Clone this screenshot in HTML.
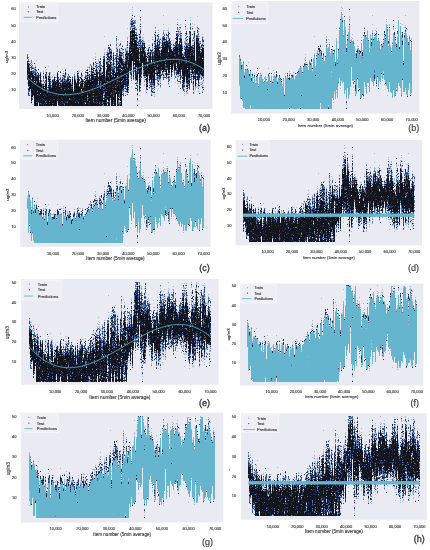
<!DOCTYPE html><html><head><meta charset="utf-8"><style>html,body{margin:0;padding:0;background:#fff;width:430px;height:550px;overflow:hidden;position:relative}</style></head><body><svg width="430" height="550" viewBox="0 0 430 550" style="position:absolute;left:0;top:0"><style>text{font-family:'Liberation Sans',Arial,sans-serif;fill:#404040;stroke:#404040;stroke-width:0.14px}.t{font-size:4px;text-anchor:middle}</style><rect x="19.0" y="2.5" width="193.40" height="106.50" fill="#EAEAF2"/><clipPath id="ca"><rect x="19.0" y="2.5" width="193.40" height="106.50"/></clipPath><g clip-path="url(#ca)" fill="none" stroke-width="1"><path stroke="#A9B7DA" d="M27.5 82v2m1-22v1m1 0v1m0 29v2m1-26v1m0 19v2m1-26v1m0 4v1m0 7v1m0 24v1m1-41v1m0 2v1m0 3v1m0 26v1m0 6v1m1-38v1m0 6v1m0 22v1m1-31v2m0 1v1m0 2v1m0 7v1m1-17v2m0 1v1m1-9v1m0 10v2m1 1v1m1 30v1m1-30v1m0 4v1m1 11v1m1-18v1m0 5v1m1-2v1m1-11v2m0 1v2m0 3v1m0 1v1m0 1v1m1-6v1m0 2v1m0 2v2m1-16v1m0 1v1m0 9v1m1-14v1m2-4v1m0 6v1m0 1v1m0 8v1m2-13v2m0 2v3m0 1v1m1-4v1m0 3v2m0 3v1m1-11v2m0 1v1m1-5v1m1-2v1m0 1v1m1 2v1m1-5v1m0 1v1m1-12v1m0 34v2m1-29v1m1 9v1m1-10v2m0 3v1m0 1v1m1-4v1m0 2v1m1-14v1m0 3v1m1-3v1m0 5v1m0 2v1m1-7v1m1-4v1m1 1v2m0 4v1m2-4v1m1 3v1m2 1v2m1-8v1m1 12v1m1-18v1m0 2v1m1 0v3m1 3v1m1-11v1m1-3v3m1-2v1m2 0v1m0 4v1m0 11v1m1-19v1m0 4v1m1 2v1m0 2v1m0 1v2m2-15v1m0 2v1m0 4v1m1-3v1m1-11v1m0 28v1m1-30v1m0 4v3m0 1v1m1-12v1m0 2v2m1-5v1m0 5v1m0 1v1m0 2v1m1-12v1m1 1v2m1-11v1m0 7v1m0 6v1m1-10v1m0 5v1m0 1v1m1-20v1m0 2v2m0 3v1m0 2v2m0 1v1m0 1v1m0 2v2m1-13v1m0 2v1m1 0v2m1-8v3m0 1v1m0 1v1m0 3v1m0 6v1m0 4v2m0 1v1m1-22v1m1-8v1m1 12v4m1 1v1m1-17v1m0 35v1m0 2v1m1-62v1m0 12v1m0 2v2m0 39v1m1-26v1m0 3v1m0 1v1m1-23v1m0 2v1m0 3v3m0 3v1m0 1v2m1-20v3m0 5v1m0 2v1m1-15v1m0 3v1m0 1v1m0 7v1m0 1v1m1-9v1m1-7v1m0 1v1m0 47v1m0 3v1m1-54v1m0 13v1m1-8v1m0 1v1m0 4v1m0 1v2m1 37v1m1-50v1m0 5v1m0 2v1m0 8v1m0 2v1m1-18v1m0 4v1m0 3v1m0 1v1m1-30v3m0 2v2m0 1v2m1-8v1m0 3v2m0 3v1m0 6v2m0 5v1m0 4v1m0 4v1m1-38v1m0 6v1m0 10v1m0 2v1m0 3v1m0 32v1m1-54v1m0 3v1m0 51v1m1-60v1m0 3v1m0 2v1m0 1v2m0 49v1m1-52v1m0 30v1m1-37v1m0 2v1m0 1v1m0 1v1m0 1v1m0 3v1m0 7v1m0 24v1m1-37v1m0 2v1m0 1v1m0 35v1m0 2v1m1-41v1m0 1v1m0 23v1m0 4v1m1-43v1m0 2v3m0 35v1m0 3v1m1-49v1m0 1v4m0 39v1m0 1v1m1-65v1m0 8v3m0 3v1m0 4v3m0 14v1m1-15v1m0 36v1m0 1v2m1-56v1m0 4v2m0 1v1m1-25v3m0 3v1m0 44v1m0 4v2m1-61v2m0 1v1m0 6v2m0 23v1m0 17v1m0 8v1m0 2v1m0 3v1m1-80v1m0 1v1m0 1v1m0 2v1m0 12v1m1-4v1m0 2v1m0 1v1m1-10v1m0 45v1m0 7v1m1-54v1m0 1v1m0 4v1m0 7v1m0 2v1m0 47v1m0 2v1m1-63v1m0 1v1m0 36v2m0 1v1m0 9v1m0 3v1m1-48v1m0 3v1m0 49v1m0 3v1m0 4v2m0 2v1m1-71v1m0 5v1m1-12v1m0 5v1m0 2v1m0 3v1m0 1v1m0 1v1m0 1v1m0 2v1m0 2v1m0 1v2m0 2v1m0 34v1m1-85v1m0 8v2m0 1v1m0 5v1m0 4v2m0 2v1m0 46v1m0 2v1m0 2v1m1-53v1m0 2v3m0 5v1m0 24v1m0 3v1m1-43v2m0 2v1m0 22v1m1-31v1m0 2v1m0 1v2m0 1v1m0 33v1m0 1v1m1-38v2m0 36v2m0 3v2m1-43v1m0 32v1m1-29v1m0 5v2m0 1v1m0 32v1m1-36v1m0 3v1m0 1v1m0 2v2m0 21v2m1-49v1m0 4v1m0 1v1m0 6v1m0 24v1m1-35v1m0 2v1m0 34v1m0 4v1m1-38v1m0 29v1m0 3v1m1-32v1m0 37v2m1-57v1m0 8v1m0 1v1m0 2v1m0 33v1m0 3v1m0 5v1m1-47v1m0 1v1m0 2v1m0 31v2m0 2v2m1-56v1m0 3v1m0 1v1m0 1v2m0 1v1m0 40v1m0 2v1m0 2v1m0 1v1m1-69v1m0 1v2m0 1v2m0 37v1m0 3v2m1-38v1m0 2v1m0 33v2m0 7v1m1-49v1m0 42v2m0 2v1m0 4v1m1-61v1m0 1v1m0 2v1m0 6v1m0 42v1m0 2v1m1-50v1m0 40v1m0 3v1m1-47v1m0 4v1m0 2v1m0 1v1m0 1v1m0 1v1m0 26v4m0 4v1m1-48v1m0 2v1m1-10v1m0 1v1m0 33v1m0 6v1m1-63v1m0 8v1m0 5v2m0 2v1m0 6v1m0 30v2m0 2v1m1-47v1m0 5v1m0 36v1m0 1v2m1-37v1m1-8v1m1-4v1m0 5v2m0 37v1m1-48v1m0 1v2m0 7v1m0 10v1m0 24v1m0 6v1m0 1v1m1-7v1m1-45v1m0 3v1m1 1v1m0 37v1m0 2v1m1-37v1m0 2v3m0 23v1m1-35v1m0 2v1m0 2v1m0 19v2m0 2v1m1-28v1m0 2v1m0 28v2m0 1v1m1-38v1m0 30v2m0 8v1m1-47v1m0 3v1m0 26v1m0 7v1m0 1v1m1-59v1m0 2v1m0 51v2m0 2v1m0 2v1m0 1v1m1-59v1m0 3v2m0 1v1m0 1v1m0 1v1m0 1v1m0 38v1m0 5v1m0 2v1m0 6v1m1-63v3m0 2v1m0 3v1m0 38v1m0 6v1m1-63v2m0 2v1m0 3v1m0 1v1m1 1v2m0 33v1m0 3v1m0 1v1m1-34v2m0 3v1m0 26v1m0 6v1m0 5v1m1-38v1m1-12v3m0 1v1m0 1v1m0 36v1m0 2v1m0 1v2m0 2v1m0 1v1m1-72v1m0 2v3m0 9v3m0 4v1m0 31v1m1-43v1m0 2v1m0 1v1m0 42v1m0 4v2m0 1v2m1-66v1m0 12v3m0 45v1m0 2v2m1-48v1m1-13v2m0 53v1m1-73v1m0 2v1m0 4v2m0 44v1m0 1v1m0 1v2m2-54v1m0 2v1m0 2v1m0 9v1m0 1v1m0 1v1m0 30v1m0 3v1m0 4v2m1-54v1m0 2v1m0 1v1m0 6v1m0 2v1m0 23v1m0 9v1m0 9v1m1-67v1m0 13v1m0 36v1m0 15v1m1-32v1m0 26v3m1-63v1m0 46v1m0 5v1m0 4v1m0 1v1m1-72v1m0 8v1m0 2v2m0 4v1m0 40v1m0 8v1m0 1v1m1-58v1m0 5v1m0 1v1m0 48v2m0 2v2m1-63v1m0 6v1m0 1v1m0 3v1m0 39v2m0 2v1m1-45v1m0 3v1m0 1v1m0 26v3m0 4v1m0 1v1m0 8v1m1-50v1m0 3v1m0 27v1m0 5v1m0 3v1m1-53v1m0 1v1m0 5v2m0 2v1m0 11v1m0 19v1m0 2v2m0 2v2m0 1v1m0 1v2m1-55v1m0 1v1m0 2v3m0 2v1m0 30v2m0 1v1m0 3v1"/><path stroke="#4C72B0" d="M27.5 54v3m0 18v1m1-19v1m0 1v2m0 13v1m0 11v1m0 3v3m0 2v1m1-35v1m0 3v3m0 18v1m0 4v1m1-29v1m0 1v1m1-6v3m0 1v1m0 1v1m0 1v2m0 7v1m0 23v1m1-37v1m0 1v1m0 4v1m0 25v1m1-29v2m0 23v1m1-27v1m0 1v2m0 6v1m1-10v2m1 1v3m0 5v2m0 19v1m1-12v1m0 2v1m1 7v1m1-26v1m0 2v1m1-9v1m0 30v1m1-24v2m0 1v1m1 1v1m0 2v2m1-12v1m0 6v1m1 4v1m1-13v1m0 2v1m0 19v1m1-28v3m0 26v1m1-17v1m0 1v2m0 1v1m1-16v1m0 2v1m0 2v1m0 2v1m0 1v2m1-18v1m0 2v1m0 2v1m0 22v1m1-20v1m0 1v1m1 0v1m0 1v1m1-6v1m0 22v1m1-27v1m2-3v1m1 3v1m0 3v1m1-14v1m1 5v2m0 25v1m1-20v1m1-16v1m0 5v1m0 1v1m1 3v2m0 3v1m1-14v1m0 1v2m1-6v1m0 2v1m0 1v2m0 1v1m0 13v1m1-21v1m0 2v1m0 1v1m0 8v1m0 14v1m1-36v1m0 5v1m0 1v1m0 1v2m0 12v1m1-12v1m1-7v2m0 24v1m1-28v1m0 1v1m0 3v1m0 6v1m1-12v1m0 20v2m1-18v1m1 1v1m0 1v1m1-9v1m0 7v1m1 4v1m1-18v1m1 4v1m0 22v1m2-25v1m1-4v1m0 26v1m1-26v1m0 4v1m0 3v1m1-9v1m0 2v1m0 1v1m1-9v2m0 3v1m0 1v1m0 7v2m1-17v1m0 15v1m1-12v1m0 5v2m1-11v1m0 3v1m0 1v1m1-9v1m0 4v1m0 21v1m1-28v2m0 2v1m0 1v1m1-13v1m0 4v1m0 1v1m0 18v1m0 2v3m1-24v1m0 1v1m0 5v1m1-19v1m0 7v1m0 25v1m1-38v1m0 13v2m0 1v1m1-15v1m0 2v1m1 0v1m0 1v1m0 6v1m1-19v1m0 2v1m0 1v1m0 1v1m0 1v1m0 21v1m0 2v1m0 2v1m0 1v1m1-25v1m1-19v1m0 11v1m1-6v3m0 30v1m1-37v1m0 6v2m0 30v1m1-35v1m0 4v1m0 5v1m0 3v1m1-23v1m0 2v4m0 1v1m0 33v1m1-42v1m0 1v3m0 4v2m0 2v1m0 5v1m0 1v2m0 1v3m1-16v2m1 27v2m0 1v1m1-50v2m0 15v1m0 12v1m0 2v1m0 3v1m0 1v1m0 8v2m1-52v1m0 2v1m0 25v1m0 8v1m0 1v1m0 1v1m1-21v2m0 20v1m1-45v1m0 9v1m0 4v1m0 21v1m0 10v1m1-51v1m0 8v1m0 19v1m0 14v1m0 2v1m0 3v1m0 1v1m1-61v1m0 9v1m0 2v1m0 4v1m0 8v1m0 2v2m0 24v1m1-46v1m0 1v1m0 2v2m0 9v1m0 29v1m1-59v1m0 6v1m0 2v1m0 2v1m0 1v1m0 1v1m0 37v1m1-50v2m0 2v2m0 2v1m0 6v2m0 1v1m0 1v1m0 2v1m0 19v1m1-34v1m0 3v1m0 3v1m0 3v1m0 2v2m1-25v1m0 1v1m0 1v1m0 8v4m0 26v2m0 3v1m0 1v1m1-40v1m0 3v1m0 1v2m1-14v1m0 3v1m0 4v2m0 4v1m0 12v1m0 1v1m0 2v2m1-56v1m0 1v3m0 3v2m0 2v1m0 2v1m0 2v3m1-4v3m0 6v2m0 16v1m0 4v1m1-30v1m0 4v1m0 29v1m0 8v4m1-59v1m0 4v1m0 2v1m0 2v1m0 5v1m0 5v1m0 12v1m0 12v3m0 5v4m1-63v1m0 9v2m0 8v2m0 3v1m0 3v1m0 30v1m1-50v1m0 1v2m0 7v2m0 4v1m1-23v1m0 5v1m0 14v1m0 9v1m0 8v1m0 2v1m1-39v1m0 1v2m0 1v1m0 2v1m0 6v1m0 9v1m0 8v1m0 1v2m0 1v2m1-33v2m0 1v1m0 20v1m0 1v1m1-40v2m0 5v2m0 1v2m0 7v1m0 18v1m1-33v1m0 19v2m0 1v1m0 1v1m0 5v1m0 1v1m1-47v1m0 9v1m0 13v2m0 24v1m1-37v2m0 1v1m0 18v1m1-34v2m1-24v2m0 2v3m0 19v2m0 2v1m0 20v1m1-53v1m0 2v1m0 4v1m0 2v2m0 2v1m0 2v1m0 31v1m0 3v2m0 2v1m1-63v1m0 1v1m0 1v1m0 2v2m1-7v1m0 4v2m0 6v1m0 3v1m0 28v1m0 7v1m0 2v1m0 1v1m1-58v2m0 2v2m0 33v1m0 9v1m1-52v1m0 1v1m0 4v1m0 1v1m0 2v1m0 4v1m0 41v2m1-52v1m0 2v3m0 1v1m0 2v1m0 2v1m0 26v1m0 2v1m0 9v2m1-45v1m0 4v1m0 4v1m0 9v1m0 22v2m0 3v2m0 9v1m1-58v2m0 1v4m0 23v1m1-36v1m0 2v1m0 3v1m0 5v1m0 5v1m0 6v1m0 22v1m0 5v1m1-75v1m0 1v1m0 8v1m0 4v1m0 2v1m0 4v1m0 2v1m0 1v1m0 20v1m0 9v1m0 5v1m0 6v1m1-45v1m0 1v2m0 24v1m0 1v1m2-36v1m0 2v2m0 8v2m0 14v3m0 1v1m1-26v2m0 25v2m0 3v1m1-32v1m1 32v1m0 3v1m0 1v1m0 2v1m1-41v1m0 3v1m0 25v1m0 1v1m1-37v1m0 2v1m0 4v1m0 1v1m0 1v2m0 12v2m1-24v4m0 18v1m0 6v1m1-33v1m0 32v2m1-32v2m0 2v1m0 1v1m0 3v1m0 20v1m0 1v1m0 1v3m0 4v1m1-56v1m0 3v1m0 3v1m0 1v1m0 28v1m0 1v2m0 1v1m0 2v1m0 5v1m1-40v1m0 1v1m0 4v1m0 1v1m0 10v1m0 9v1m0 1v1m0 2v1m1-43v1m0 3v1m0 1v1m0 10v1m0 22v1m0 2v1m1-63v1m0 8v1m0 5v2m0 24v1m0 1v1m1-24v1m0 22v1m0 1v1m0 1v2m0 3v1m1-44v1m0 2v1m0 1v1m0 23v2m0 3v2m0 4v1m0 2v2m0 2v1m1-47v3m0 4v1m0 1v1m0 29v1m0 1v1m0 1v1m0 2v1m1-44v1m0 4v2m0 30v1m0 1v1m1-38v1m0 4v1m0 3v1m0 3v1m0 17v2m0 3v1m0 4v1m0 1v2m1-42v1m0 3v1m0 17v1m0 2v1m0 3v1m1-38v1m0 1v1m0 33v1m1-42v2m0 3v1m0 2v1m0 33v1m0 3v1m1-45v2m0 4v2m0 4v1m0 13v1m0 9v2m0 5v1m1-37v1m0 1v1m0 18v1m0 1v2m0 2v1m0 1v1m1-36v1m0 1v3m0 18v1m0 9v1m0 8v2m1-11v1m0 4v1m0 3v1m1-45v1m0 1v1m0 1v2m0 2v1m0 7v1m0 23v1m0 2v1m0 1v3m0 2v1m1-46v1m0 2v1m0 2v1m0 28v1m0 2v2m0 1v2m1-37v1m1 2v1m2-3v1m0 1v1m0 11v1m0 4v2m1-18v1m0 6v1m0 15v1m0 1v2m1-31v2m0 24v1m0 5v2m1-45v1m0 9v1m0 19v1m0 2v1m0 2v1m0 1v1m1-44v2m0 1v1m0 1v1m0 1v1m0 10v1m0 21v2m0 6v1m0 2v1m1-47v1m0 16v1m0 1v2m0 22v1m1-50v1m0 1v1m0 4v1m0 4v1m0 2v1m0 20v1m0 8v2m1-43v1m0 4v2m0 6v1m0 31v1m0 5v2m1-49v1m0 2v1m0 30v1m1-24v2m0 5v1m0 1v2m0 24v1m0 6v1m1-35v2m0 29v1m0 1v2m1-41v1m0 5v1m0 27v2m0 7v1m1-59v1m0 1v1m0 6v3m0 3v1m0 9v1m0 17v1m1-45v1m0 11v1m0 15v1m0 1v1m0 20v1m0 4v1m1-45v2m0 2v1m0 35v1m0 2v1m0 2v1m1-47v1m0 33v2m0 2v1m0 1v2m0 1v1m1-56v2m0 3v1m0 6v1m0 1v1m0 31v1m0 4v1m1-61v1m0 5v1m0 1v1m0 4v1m0 16v1m0 1v1m0 10v1m0 2v1m0 2v1m0 1v1m0 2v1m1-28v1m0 19v2m0 3v1m0 1v4m1-41v1m0 5v1m1-10v1m0 2v1m0 6v1m0 1v1m0 3v2m0 16v1m0 2v1m0 9v2m0 1v1m0 5v1m1-62v1m0 4v1m0 1v3m0 27v1m0 3v2m1 11v1m1-52v1m0 1v1m0 38v2m0 5v1m1-57v1m0 3v1m0 3v1m0 1v1m1-7v1m0 1v1m0 2v1m0 4v2m0 7v1m0 21v1m0 10v2m0 3v1m1-48v1m0 1v1m0 1v1m0 32v2m1-39v1m0 5v1m0 1v1m0 1v2m0 21v1m1-28v1m0 2v2m0 23v1m0 1v1m0 1v1m0 4v1m1-48v2m0 2v1m0 34v1m0 6v1m1-38v1m0 29v1m0 3v1m0 6v1"/><path stroke="#2A3F6E" d="M27.5 57v2m0 3v1m0 13v1m0 2v1m1-19v1m0 1v2m0 23v1m0 5v1m1-5v1m0 4v1m1-29v1m0 3v1m1-5v1m0 7v1m0 3v3m1-14v1m0 2v1m0 27v1m1-32v1m0 3v2m1-11v1m0 13v2m1-12v1m1 2v1m0 5v1m1-5v1m0 2v1m1-7v1m0 4v2m0 24v1m1-26v1m0 6v1m1-10v1m1 10v1m1-1v1m0 1v2m1-15v1m0 2v2m0 2v1m0 14v1m1-14v1m1-16v1m0 6v2m0 4v1m0 2v1m1-11v1m0 26v2m2-21v1m1-9v1m0 2v1m0 26v1m1-25v1m2 23v1m1-24v2m2-1v1m1-2v1m0 3v1m2-14v1m0 5v1m1 1v1m0 2v1m1-11v1m0 5v1m0 2v1m1-2v2m1-1v1m2-6v2m0 4v1m0 20v1m0 1v1m1-34v1m0 1v1m0 1v1m0 4v1m1-2v1m1-3v1m0 22v1m1-28v1m0 3v1m0 3v1m1-4v1m0 1v1m1-5v1m0 1v1m1 7v2m1-12v1m1 14v1m1-17v3m1 1v1m1 2v1m0 1v1m1-15v1m0 2v1m0 1v1m1-4v1m0 2v2m0 23v1m0 1v1m1-25v2m0 2v1m1-2v1m1-10v1m1 5v1m1 1v1m0 1v1m0 6v1m2-19v1m0 3v2m1-8v1m0 1v1m1 20v2m0 2v1m1-23v1m1-5v1m1 3v1m1-10v1m0 5v2m1-5v1m0 14v1m1-21v1m0 9v1m0 20v1m0 4v1m0 1v1m1-30v1m0 2v1m0 1v1m1-17v1m0 3v1m0 3v1m1-8v1m0 1v1m0 5v1m0 24v1m0 6v1m1-37v1m0 6v2m1-10v1m0 5v1m0 4v1m0 2v1m0 4v1m1-15v2m0 12v1m0 16v1m1-45v2m0 1v1m0 1v1m0 5v1m0 3v1m0 11v1m1-21v1m0 2v1m0 6v1m1-10v1m0 5v1m1-13v1m0 3v1m0 26v1m0 10v1m1-47v1m0 1v1m0 3v1m0 25v2m0 1v1m0 5v1m0 1v1m1-22v1m0 1v1m1-24v1m0 12v1m1-18v1m0 1v2m0 6v1m0 38v1m1-56v2m0 5v1m1-8v7m0 5v2m0 3v1m0 13v1m0 7v1m0 14v1m1-57v1m0 3v1m0 3v1m0 6v1m0 3v1m0 29v1m0 2v1m1-45v1m0 8v1m0 1v1m0 2v1m0 1v1m0 2v1m1-6v1m0 1v2m0 3v1m0 14v1m1-37v1m0 5v1m0 1v2m0 20v1m0 3v1m0 5v1m0 9v1m0 1v1m1-47v1m0 8v1m0 6v1m1-21v1m0 2v1m1-6v1m0 8v1m0 24v1m1-39v3m0 6v1m0 2v1m0 6v1m0 8v1m0 3v2m1-25v2m1-11v1m0 1v1m0 45v1m0 1v1m1-56v1m0 11v1m0 18v1m0 21v1m1-50v1m0 3v2m0 13v1m0 7v2m0 1v1m0 4v2m1-39v1m0 6v1m0 5v3m0 3v1m0 3v1m0 20v1m0 3v1m1-46v1m0 2v1m0 42v1m1-30v1m1-12v1m0 5v1m0 23v2m0 4v1m0 3v1m1-45v2m0 17v1m0 11v4m0 3v1m0 1v1m1-51v1m0 2v2m0 1v1m0 3v1m0 1v1m0 7v4m0 15v1m0 13v1m1-37v1m0 25v2m0 3v1m0 2v1m1-50v1m0 3v1m0 20v3m1-25v1m0 20v1m0 5v1m1-55v1m0 1v1m0 1v2m0 1v1m0 8v1m0 3v1m0 27v1m0 3v1m0 1v1m0 1v1m0 2v1m1-64v1m0 5v1m0 1v1m0 4v2m0 24v2m1-34v1m0 5v1m0 1v1m0 9v2m0 1v1m0 3v1m0 30v1m1-63v1m0 4v1m0 7v2m0 28v1m0 4v1m0 2v2m0 1v1m1-33v1m0 37v1m0 6v1m0 4v1m1-49v1m0 30v1m0 1v2m0 10v1m0 2v1m1-54v1m0 2v1m0 8v1m0 32v2m0 3v2m0 3v1m0 2v1m0 5v1m1-28v2m1-34v2m0 5v1m0 4v2m0 4v1m0 2v1m0 27v2m1-81v1m0 13v1m0 5v1m0 6v1m0 1v2m0 1v1m0 4v1m0 30v2m0 2v1m0 1v1m0 2v1m1-43v1m0 1v1m0 22v2m0 1v1m0 3v1m1-38v1m0 1v1m0 1v1m1 23v1m0 4v1m0 1v1m1-32v1m0 29v1m1-28v1m0 4v2m0 23v1m0 1v1m1-19v1m0 23v1m0 2v1m1-39v1m0 11v1m0 3v1m0 22v1m1-38v1m0 4v1m1-11v1m0 34v1m0 2v1m0 1v1m1-9v1m0 4v1m0 1v1m1-37v2m0 5v1m0 1v1m0 3v2m0 30v1m1-52v1m0 5v1m0 1v2m0 28v1m0 1v1m0 3v1m1-37v1m0 3v3m0 6v1m0 26v1m1-59v1m0 6v1m0 1v1m0 14v1m0 1v1m0 24v1m0 6v1m1-14v1m1-35v2m0 24v1m1-3v1m0 7v2m1-45v1m0 1v1m0 4v1m0 33v1m0 1v1m0 6v1m1-44v3m0 4v1m0 25v1m0 3v1m1-40v1m0 13v2m0 16v1m0 4v1m1-30v1m0 21v1m1-30v1m0 31v1m0 1v1m1-33v3m0 32v1m0 1v1m1-43v2m1 0v1m0 26v2m0 5v2m0 2v1m1-44v1m0 5v1m0 24v1m0 1v1m0 8v1m1-42v1m0 6v1m0 26v1m0 4v1m1-43v1m0 3v1m0 3v1m0 1v1m0 1v1m0 2v2m0 3v1m0 28v1m1-49v1m0 11v1m0 26v1m0 1v1m0 11v1m1-46v3m0 2v1m0 19v1m0 1v1m1-25v1m0 4v1m0 25v2m1-6v1m1-28v1m1 0v1m0 8v1m0 15v1m1-33v1m0 3v2m1-10v1m0 3v1m0 23v1m0 5v1m0 1v1m0 1v3m1-51v1m0 2v1m0 6v1m0 7v1m0 28v1m0 8v1m1-50v1m0 3v1m0 8v5m0 5v1m0 19v1m0 6v1m1-44v1m0 23v1m0 12v1m0 5v1m1-55v1m0 5v1m0 1v1m0 2v1m0 3v1m0 31v1m0 3v2m0 1v1m0 6v1m1-56v1m0 7v1m0 34v1m1-27v1m0 31v1m0 2v1m0 1v1m1-28v1m0 23v1m0 4v2m1-45v1m0 2v1m0 2v2m0 1v1m0 2v1m0 2v1m0 23v1m1-66v1m0 5v1m0 11v1m0 35v2m1-45v1m0 2v1m0 5v1m0 2v1m0 8v2m0 26v1m0 4v1m0 5v1m1-56v1m0 2v1m0 26v1m0 2v1m0 10v1m0 2v1m1-41v1m0 1v1m0 1v2m0 23v2m1-43v1m0 4v1m0 23v1m0 9v1m0 8v2m0 4v4m1-65v1m0 2v2m0 4v1m0 34v1m0 10v1m1-34v1m0 1v1m0 19v1m0 7v1m0 4v2m1-55v1m0 5v1m0 10v1m0 2v2m0 26v1m1-39v1m0 11v2m0 36v2m0 2v1m1-62v1m0 3v2m0 28v1m0 6v1m0 4v2m1-18v2m1-27v1m0 19v1m0 22v1m1-48v1m0 3v1m0 2v1m0 38v1m1-51v1m0 5v1m0 3v1m0 32v1m0 6v1m1-4v1m0 9v1m0 7v1m1-51v1m1 2v1m0 31v1m1-40v2m0 3v2m0 1v1m0 9v1m0 34v1m1-53v2m0 35v1m0 11v1"/><path stroke="#14141C" d="M27.5 61v1m0 1v3m0 1v2m0 1v5m0 2v2m1-14v2m0 1v2m0 1v2m0 2v4m0 1v6m0 3v1m0 3v1m1-30v1m0 3v3m0 1v2m0 1v11m0 1v3m1-18v17m1-18v1m0 1v2m0 1v1m0 5v11m0 2v2m0 1v3m0 1v1m1-30v8m0 1v2m0 1v1m0 1v2m0 1v7m1-22v5m0 1v14m1-21v1m0 1v1m0 3v1m0 1v8m0 1v1m0 1v6m0 1v6m1-37v1m0 4v2m0 1v6m0 1v22m1-29v1m0 1v2m0 3v18m0 1v1m0 1v1m1-29v5m0 1v2m0 1v4m0 3v1m0 1v6m0 1v4m1-33v1m0 2v18m0 2v4m0 1v1m1-19v12m0 1v10m1-32v2m0 1v2m0 1v13m0 1v5m0 1v3m0 1v2m1-21v18m0 2v1m1-16v8m0 1v1m0 1v5m1-22v1m0 1v5m0 1v3m0 1v3m0 1v4m0 1v1m1-20v1m0 1v2m0 1v2m0 1v3m0 1v2m0 1v2m0 1v2m1-30v2m0 6v11m0 1v5m0 2v2m1-33v1m0 4v12m0 1v6m0 1v3m0 2v1m0 1v2m1-15v1m0 1v13m1-30v1m0 1v2m0 5v1m0 1v1m0 2v5m0 1v10m1-32v1m0 2v1m0 1v7m0 1v14m0 1v1m0 1v2m1-25v1m0 3v7m0 1v1m0 1v4m0 1v6m1-18v18m1-26v2m0 1v17m0 1v2m0 1v1m1-23v13m0 1v3m0 1v3m0 1v2m1-29v1m0 1v3m0 1v9m0 1v6m0 1v6m1-24v5m0 1v7m0 1v10m1-24v2m0 2v4m0 1v3m0 1v11m1-33v6m0 1v3m0 1v12m0 1v2m0 1v1m1-21v2m0 1v12m0 1v9m1-22v1m0 3v12m0 1v6m1-23v2m0 2v1m0 1v13m0 1v1m0 1v1m1-21v2m0 2v1m0 1v7m0 1v2m0 1v4m1-27v2m0 2v16m0 1v1m0 3v2m1-31v1m0 6v9m0 1v3m0 1v7m0 1v2m1-27v1m0 1v1m0 1v1m0 1v4m0 1v13m1-33v1m0 2v1m0 8v5m0 1v1m0 1v3m0 1v7m0 2v3m1-25v1m0 2v12m0 1v5m0 1v3m1-27v10m0 1v11m0 2v3m1-27v2m0 2v2m0 1v2m0 1v17m1-24v7m0 1v8m0 2v6m1-26v2m0 1v11m0 1v4m0 1v6m1-21v1m0 3v1m0 1v8m0 1v5m1-26v5m0 1v1m0 1v1m0 1v12m0 1v4m1-13v4m0 1v2m0 1v5m1-27v6m0 1v3m0 1v8m0 1v7m1-25v7m0 1v12m0 2v3m1-22v1m0 1v14m0 1v5m1-33v1m0 1v1m0 3v1m0 1v20m0 1v4m1-28v7m0 1v8m0 1v6m0 3v2m1-19v12m0 1v6m1-29v1m0 6v3m0 1v18m1-32v1m0 3v2m0 1v1m0 1v6m0 3v3m0 1v10m1-26v7m0 1v3m0 1v3m0 1v3m0 1v1m0 1v4m1-18v2m0 1v12m0 1v2m1-27v1m0 2v1m0 1v1m0 1v14m0 1v1m0 1v1m0 1v1m1-28v1m0 2v1m0 1v14m0 1v2m0 1v1m0 2v2m1-28v1m0 1v1m0 1v24m1-36v1m0 1v2m0 1v1m0 1v2m0 1v13m0 8v5m1-26v5m0 1v12m0 1v4m0 1v2m1-32v1m0 1v14m0 3v4m0 1v3m0 2v1m0 1v1m1-26v1m0 1v11m0 1v12m1-38v2m0 1v1m0 2v22m0 1v9m1-34v1m0 1v6m0 1v3m0 1v3m0 1v1m0 1v2m0 1v2m0 1v9m1-43v1m0 4v1m0 1v1m0 1v1m0 3v4m0 1v5m0 1v3m0 2v1m0 1v1m0 2v1m0 5v3m1-38v1m0 5v1m0 4v5m0 1v8m0 1v8m0 1v3m1-32v1m0 2v19m0 1v5m0 1v3m1-37v2m0 1v5m0 1v7m0 2v9m0 1v2m0 1v1m0 1v1m0 1v2m1-34v2m0 2v8m0 2v3m0 1v12m0 1v3m1-28v1m0 7v4m0 1v15m1-44v1m0 7v1m0 2v2m0 1v9m0 1v1m0 1v5m0 1v1m0 1v5m0 3v1m1-38v2m0 1v1m0 3v1m0 1v5m0 8v13m0 1v1m0 1v1m1-30v5m0 2v2m0 1v9m0 1v1m0 1v5m0 1v2m1-33v1m0 1v3m0 1v6m0 1v2m0 1v1m0 1v10m0 3v1m1-46v1m0 1v3m0 1v8m0 1v12m0 1v2m0 1v1m0 1v1m0 7v2m0 1v1m1-45v3m0 1v16m0 1v3m0 2v1m0 1v1m0 2v1m0 4v1m0 2v1m0 1v6m1-27v1m0 2v1m0 2v2m0 2v2m0 1v6m0 1v7m1-44v2m0 2v1m0 4v10m0 1v1m0 1v5m0 1v1m0 1v6m0 1v1m0 1v1m0 1v3m1-52v1m0 3v2m0 2v1m0 1v11m0 1v5m0 1v5m0 1v1m0 1v6m0 1v2m1-46v1m0 2v1m0 2v1m0 1v1m0 2v1m0 1v6m0 1v2m0 2v4m0 1v4m0 1v9m0 1v4m0 1v4m1-49v1m0 7v6m0 2v4m0 2v7m0 1v3m0 1v10m0 2v3m1-54v1m0 2v2m0 1v1m0 3v2m0 1v2m0 1v15m0 1v2m0 1v7m0 1v2m1-45v1m0 3v2m0 1v1m0 15v5m0 1v11m0 3v11m1-35v1m0 1v1m0 3v2m0 1v5m0 1v1m0 1v1m0 1v16m1-51v1m0 1v2m0 1v1m0 2v2m0 4v6m0 1v7m0 1v3m0 1v2m0 1v1m0 5v3m0 1v1m1-36v1m0 4v2m0 1v1m0 2v5m0 1v7m0 1v15m1-33v12m0 1v1m0 1v2m0 3v13m1-49v1m0 1v3m0 1v6m0 1v2m0 1v4m0 1v2m0 1v1m0 1v4m0 1v3m0 1v2m1-30v1m0 2v1m0 2v1m0 1v4m0 2v2m0 3v2m0 1v18m0 1v1m1-44v2m0 1v10m0 1v2m0 1v2m0 1v2m0 1v6m0 1v5m0 1v2m0 4v2m1-54v1m0 1v2m0 1v5m0 1v5m0 1v9m0 1v2m0 1v2m0 1v1m0 1v5m1-40v1m0 2v1m0 1v6m0 2v3m0 2v2m0 1v2m0 1v12m0 1v3m0 1v4m0 1v3m0 1v1m0 2v1m1-51v1m0 2v7m0 3v1m0 1v1m0 1v3m0 2v1m0 1v2m0 1v1m0 2v21m1-44v3m0 2v2m0 2v9m0 1v2m0 1v5m1-26v6m0 1v8m0 2v2m0 1v5m0 1v1m1-26v1m0 2v14m0 2v2m1-31v1m0 3v1m0 3v6m0 1v12m0 1v3m0 3v1m1-36v2m0 1v4m0 1v9m0 1v4m0 2v1m0 1v1m1-26v1m0 1v3m0 1v1m0 7v2m0 1v2m0 1v2m0 1v3m0 1v11m1-39v2m0 5v1m0 1v12m0 1v3m0 1v5m0 3v1m1-40v20m1-36v13m0 2v2m0 2v2m0 1v13m0 2v2m0 1v1m1-42v2m0 3v1m0 1v1m0 2v6m0 1v1m0 1v2m0 1v14m0 1v2m0 4v1m1-51v1m0 5v17m0 1v6m0 2v5m1-38v1m0 7v2m0 1v3m0 1v2m0 4v1m0 1v1m0 1v5m0 1v12m0 2v1m0 1v1m0 1v2m0 1v2m1-52v1m0 2v1m0 2v3m0 1v4m0 1v17m0 1v1m0 1v1m0 2v1m1-30v2m0 4v6m0 1v3m0 1v16m0 1v7m0 2v1m1-41v2m0 2v1m0 1v6m0 1v1m0 1v15m0 8v5m1-38v1m0 2v1m0 2v1m0 1v9m0 2v10m0 1v5m0 1v2m0 9v1m0 4v1m1-47v7m0 1v14m1-36v1m0 2v1m0 7v1m0 17v15m0 1v6m0 1v2m1-62v1m0 4v2m0 10v1m0 4v14m0 1v4m0 1v4m0 1v4m0 3v2m1-41v1m0 9v3m0 1v8m0 1v6m1-27v1m0 1v13m0 1v4m1-20v1m0 3v6m0 4v7m0 2v2m0 1v1m1-27v1m0 1v4m0 2v16m0 1v2m0 1v3m0 1v1m1-22v1m0 1v2m0 1v2m0 1v4m0 1v2m0 1v4m0 1v1m1-20v1m0 1v1m0 1v1m0 1v6m0 1v8m0 2v2m0 3v1m0 1v1m1-33v1m0 2v1m0 5v1m0 4v2m0 1v2m0 1v5m0 1v2m0 1v1m0 1v2m1-38v2m0 2v1m0 1v1m0 3v1m0 2v9m0 1v2m1-18v12m0 1v5m0 1v3m0 1v2m1-31v1m0 2v26m1-14v5m0 1v12m0 3v1m0 3v1m1-46v1m0 9v23m0 1v1m0 11v1m1-33v1m0 3v2m0 1v2m0 1v4m0 2v8m1-35v1m0 4v5m0 1v1m0 1v2m0 1v1m0 1v1m0 1v17m0 2v1m1-56v1m0 2v1m0 1v5m0 2v1m0 1v19m0 1v1m0 2v1m0 3v1m1-26v1m0 1v6m0 1v7m0 1v1m0 1v2m0 4v1m1-39v1m0 4v1m0 1v4m0 1v1m0 1v2m0 2v9m0 1v2m0 2v2m0 3v4m1-31v1m0 1v6m0 2v9m0 1v6m0 1v2m0 7v1m1-38v1m0 2v1m0 3v1m0 1v7m0 1v4m0 1v3m0 1v4m0 1v2m1-21v2m0 1v2m0 1v8m0 2v1m0 2v1m0 1v1m1-28v6m0 1v4m0 1v5m0 1v1m1-28v5m0 1v16m0 1v6m0 1v1m1-34v2m0 6v7m0 1v18m0 3v1m1-37v1m0 2v3m0 2v8m0 1v4m0 1v9m1-28v1m0 1v18m0 1v1m0 5v1m0 1v1m1-31v12m0 1v4m0 1v6m0 1v1m0 2v7m1-35v1m0 1v11m0 2v12m1-34v1m0 8v1m0 1v2m0 6v4m0 1v15m0 1v1m0 2v1m1-39v2m0 1v2m0 2v24m0 1v1m1-27v1m0 1v7m0 1v3m0 1v2m0 2v2m1-15v3m0 2v14m0 1v3m1-22v10m0 1v8m1-22v1m0 1v1m0 1v6m0 2v4m1-17v1m0 1v2m0 2v1m0 2v7m0 1v6m1-24v8m0 3v6m0 1v6m1-39v1m0 3v1m0 1v1m0 1v1m0 1v2m0 2v13m0 1v3m1-26v1m0 1v4m0 1v1m0 3v21m0 2v1m0 1v2m1-25v1m0 1v1m0 3v2m0 1v3m0 1v12m1-31v4m0 1v4m0 1v1m0 1v5m0 4v1m0 1v6m1-33v3m0 3v25m0 3v1m0 1v1m0 1v1m1-39v1m0 2v19m0 2v4m0 1v1m1-21v1m0 5v1m0 2v9m0 1v8m0 2v2m0 1v1m0 3v1m0 1v1m1-31v4m0 1v9m0 1v5m0 1v7m0 2v1m1-30v1m0 1v1m0 2v20m1-35v1m0 1v6m0 1v1m0 2v3m0 2v10m1-41v1m0 3v1m0 8v4m0 1v1m0 2v4m0 1v1m0 3v17m0 1v1m0 4v1m1-41v2m0 1v6m0 1v10m0 1v1m0 2v10m0 1v2m0 2v2m0 1v1m1-40v5m0 1v3m0 1v13m0 2v4m0 2v2m0 1v1m1-46v6m0 1v1m0 1v11m0 1v1m0 1v9m0 1v7m0 3v2m0 1v1m1-53v1m0 1v2m0 1v2m0 1v3m0 1v9m0 1v1m0 1v10m0 1v1m1-21v1m0 1v1m0 1v1m0 1v15m0 1v1m0 2v1m0 1v1m1-28v1m0 2v2m0 1v6m0 1v6m0 1v7m1-29v1m0 2v1m0 3v1m0 3v8m0 2v4m0 2v2m0 1v3m0 1v1m0 1v3m0 2v1m1-54v2m0 7v7m0 1v13m0 1v1m0 1v3m0 2v1m0 4v1m1-14v12m0 1v10m1-48v7m0 1v6m0 1v1m0 1v1m0 1v2m0 1v14m1-44v1m0 7v1m0 1v4m0 1v29m0 2v2m0 1v1m1-41v1m0 3v5m0 1v1m0 1v6m0 1v13m0 2v2m0 1v2m0 1v2m0 1v1m0 2v1m1-40v10m0 2v15m0 1v1m0 1v1m1-24v17m0 1v3m1-29v1m0 3v1m0 2v10m0 1v9m0 1v2m1-27v9m0 2v11m0 3v3m0 11v1m1-43v1m0 2v10m0 1v1m0 1v12m0 1v2"/><path stroke="#2B3458" d="M27.5 66v1m0 2v1m1-3v1m0 2v1m0 2v1m0 5v1m1-9v1m0 2v1m2-3v1m0 20v2m0 2v1m1-17v1m0 2v1m0 1v1m0 2v1m1-10v1m1 9v1m0 1v1m0 6v1m1-28v2m0 2v1m0 6v1m1-6v1m0 4v1m0 20v1m1-29v1m0 5v1m0 2v1m0 4v1m0 1v1m0 8v1m1-8v2m1-1v1m1-20v1m0 2v1m0 19v1m1 3v2m1-7v1m0 1v1m1-10v1m0 7v1m0 4v1m1-12v1m0 3v1m0 2v1m0 2v1m1-9v1m0 6v1m0 2v1m1-17v1m0 6v1m2-2v1m1-10v1m1-4v1m0 8v1m0 1v1m0 4v1m2 0v1m1-6v1m0 3v1m0 3v1m1-26v1m0 3v1m0 9v1m0 6v1m1-13v1m0 7v1m1-6v1m0 3v1m1-16v1m0 3v1m0 12v1m0 2v1m1-18v1m0 12v1m1-11v1m0 13v1m1-15v2m0 1v1m0 13v1m0 1v1m1-18v1m0 2v1m0 7v1m0 2v1m1-20v1m0 16v1m0 1v3m1-13v1m0 11v1m1-20v1m1 2v1m0 1v1m0 11v2m1-20v1m0 12v1m0 5v1m1-14v1m1-5v1m1-10v1m0 12v1m1 4v1m0 4v1m1-10v1m0 8v1m0 5v1m1-22v1m0 3v1m0 12v1m1-5v1m0 2v1m1-16v1m0 3v1m0 8v1m1-11v1m0 12v1m1-2v1m1-24v1m0 2v1m0 20v1m1-17v1m0 8v1m1 4v1m1-13v1m1 7v1m1-9v1m0 7v1m0 3v1m0 1v1m1 1v1m1-19v1m0 14v1m0 1v1m0 1v1m1-23v1m0 14v1m0 2v1m2-22v1m1 18v1m0 4v1m1-14v3m0 4v1m0 4v1m0 1v1m1-12v1m1 2v1m1-9v1m0 1v1m0 2v1m0 2v1m1-22v1m0 4v1m0 5v1m0 3v2m0 6v1m1-15v1m0 8v1m0 8v1m1-27v1m0 19v1m0 5v1m1-26v1m0 7v2m0 14v1m1-18v2m0 3v1m1 0v1m1-16v1m0 11v1m0 5v1m0 1v1m0 5v1m0 3v1m1-24v1m0 19v1m0 1v1m1-24v2m0 2v1m0 9v1m0 1v1m0 5v1m1-26v1m0 6v1m0 2v1m0 1v1m0 10v1m1-4v1m1-20v1m0 4v1m0 1v1m1-6v1m0 1v2m0 2v2m0 2v1m1-11v1m0 1v1m0 5v1m0 8v1m0 1v1m1-26v1m0 11v1m0 1v1m1-33v1m0 7v1m0 15v1m0 4v1m0 9v1m1-26v1m0 5v1m0 12v1m1-24v1m0 15v1m0 2v1m1-7v1m0 11v1m0 1v1m1-16v1m0 5v1m0 1v1m1-13v1m0 14v1m0 1v1m0 1v1m1-13v1m0 7v1m1 1v1m1-35v1m0 10v1m0 2v1m0 4v1m0 2v1m0 1v1m0 8v1m1-36v1m0 12v1m0 34v1m1-30v1m0 2v1m0 2v1m0 2v1m1-7v1m0 5v1m0 1v1m0 5v2m1-25v1m0 18v1m0 3v1m0 11v1m2-22v1m1-23v1m0 16v1m0 3v1m1-2v2m1-2v1m1-22v1m0 20v1m1-27v1m0 3v1m0 10v1m0 2v1m0 2v1m1-22v1m0 5v1m0 12v1m2-44v1m0 13v1m0 22v1m1-22v1m0 1v1m1-3v1m1-3v1m0 7v1m0 13v1m0 1v1m0 1v1m1-38v1m0 4v1m0 17v1m1-12v1m0 3v1m0 16v1m0 7v1m0 2v1m1-44v1m0 13v1m0 1v1m1 8v1m0 10v1m0 5v1m0 27v1m1-63v1m0 11v1m0 14v1m1 7v1m0 9v1m1-44v1m0 16v1m0 9v1m1-19v1m0 8v1m0 8v1m1-15v1m1-6v1m0 2v1m0 7v2m1 1v1m0 2v1m1-16v1m0 2v1m0 2v1m0 4v1m0 2v1m0 4v1m1-16v1m0 8v1m0 9v1m0 2v2m1-30v1m0 13v1m0 2v1m0 2v1m0 5v1m1-9v1m1-4v1m0 9v1m1-27v1m1 17v1m0 13v1m0 6v1m1-38v1m1 6v1m0 6v1m0 5v1m0 9v1m1-34v1m0 13v1m0 1v1m1-23v1m0 19v1m0 1v1m1-19v1m0 6v1m0 7v1m0 1v1m0 2v1m1-24v1m0 1v1m0 2v2m0 9v1m1-10v2m0 9v1m0 6v1m1-22v1m0 1v1m0 7v1m0 4v1m0 3v1m1-12v1m0 2v1m0 8v1m1-15v1m0 4v1m0 13v1m1-38v1m0 7v1m0 16v1m1-28v1m0 8v1m0 7v1m1-9v1m0 9v1m2-3v1m1 0v2m1 1v1m1 12v1m1-17v1m0 3v1m0 2v2m1-10v2m0 14v1m0 3v2m1-14v1m1-13v1m0 1v1m0 6v1m1-8v2m0 10v1m0 8v1m1-19v3m0 6v1m1-20v1m0 13v1m1-22v1m0 6v2m1 11v1m0 3v1m1-21v1m0 5v1m0 4v1m0 1v1m0 5v2m0 3v1m1 4v3m1-33v1m0 20v2m0 4v1m1-2v1m0 8v1m1-6v1m0 5v1m1-17v1m0 25v1m1-32v1m0 1v1m0 4v2m1-19v1m0 4v1m0 7v1m0 2v1m0 20v1m1-28v1m1-2v1m0 3v1m1-1v1m1-20v1m0 3v1m1 8v1m1-1v1m0 6v1m0 6v1m1-12v1m0 8v2m0 12v1m1-30v1m0 13v1m0 6v1m1 4v1m1-31v1m0 6v1m0 1v1m0 4v1m1-16v1m0 29v1m1-35v1m0 7v1m0 8v1m0 17v1m0 5v1m1-38v1m0 11v2m0 15v1m0 3v1m1-8v1m1-9v1m0 9v1m1-3v3m1-15v1m0 1v1m0 12v1"/><polyline points="27.3,77.7 30.3,80.4 33.3,82.9 36.3,85.1 39.3,87.1 42.3,88.8 45.3,90.3 48.3,91.6 51.3,92.6 54.3,93.4 57.2,94.0 60.2,94.5 63.2,94.7 66.2,94.8 69.2,94.7 72.2,94.4 75.2,94.0 78.2,93.5 81.2,92.9 84.2,92.1 87.2,91.2 90.2,90.2 93.2,89.1 96.2,88.0 99.2,86.8 102.2,85.5 105.2,84.1 108.2,82.7 111.2,81.3 114.2,79.8 117.1,78.4 120.1,76.9 123.1,75.4 126.1,74.0 129.1,72.5 132.1,71.1 135.1,69.7 138.1,68.4 141.1,67.1 144.1,65.9 147.1,64.7 150.1,63.7 153.1,62.7 156.1,61.9 159.1,61.1 162.1,60.5 165.1,60.0 168.1,59.6 171.1,59.4 174.1,59.4 177.0,59.5 180.0,59.7 183.0,60.2 186.0,60.9 189.0,61.8 192.0,62.8 195.0,64.1 198.0,65.7 201.0,67.4 204.0,69.5" fill="none" stroke="#4E9AA6" stroke-width="1"/></g><text class="t" x="13.4" y="91.0">10</text><text class="t" x="13.4" y="74.9">20</text><text class="t" x="13.4" y="58.8">30</text><text class="t" x="13.4" y="42.7">40</text><text class="t" x="13.4" y="26.5">50</text><text class="t" x="13.4" y="10.4">60</text><text class="t" x="52.5" y="116.5">10,000</text><text class="t" x="77.8" y="116.5">20,000</text><text class="t" x="103.0" y="116.5">30,000</text><text class="t" x="128.3" y="116.5">40,000</text><text class="t" x="153.5" y="116.5">50,000</text><text class="t" x="178.8" y="116.5">60,000</text><text class="t" x="204.0" y="116.5">70,000</text><text class="t" x="115.7" y="122.1" style="font-size:4.8px">Item number (5min average)</text><text class="t" transform="translate(8.2,57.0) rotate(-90)" style="font-size:4.4px">ug/m3</text><rect x="20.6" y="3.5" width="37.3" height="18.4" rx="0.6" fill="#EEEEF4" stroke="#F8F8FB" stroke-width="0.6"/><circle cx="28.3" cy="6.9" r="0.55" fill="#4C72B0"/><circle cx="28.3" cy="11.7" r="0.55" fill="#111"/><rect x="23.7" y="16.9" width="8.1" height="0.9" fill="#64B5CD"/><text x="35.9" y="8.4" style="font-size:4.15px;fill:#333">Train</text><text x="35.9" y="13.2" style="font-size:4.15px;fill:#333">Test</text><text x="35.9" y="18.8" style="font-size:4.15px;fill:#333">Predictions</text><text x="204.6" y="131.1" style="font-size:9px;text-anchor:middle;fill:#333;stroke:#333;stroke-width:0.3">(a)</text><rect x="231.3" y="1.0" width="188.20" height="112.50" fill="#EAEAF2"/><clipPath id="cb"><rect x="231.3" y="1.0" width="188.20" height="112.50"/></clipPath><g clip-path="url(#cb)" fill="none" stroke-width="1"><path stroke="#A9B7DA" d="M239.5 57v1m0 26v2m1-28v1m0 4v1m0 25v2m0 7v1m1-37v2m0 5v1m1-6v2m0 5v1m0 20v1m0 1v1m0 10v1m1-45v1m0 2v1m1 7v3m0 25v1m0 6v1m1-34v1m0 1v1m0 27v1m0 1v1m1-38v2m0 1v1m0 10v1m1-18v1m0 1v1m1-7v1m0 10v2m0 2v1m1-2v1m1 28v1m0 2v1m1-35v1m1-2v1m1 3v1m0 6v2m1-13v2m0 6v1m1-2v1m0 2v1m1-12v1m0 1v1m0 2v1m1-8v1m1 13v1m1-17v1m0 6v1m0 12v1m0 2v1m1-12v1m0 8v1m1-16v1m0 2v1m1 1v1m0 3v2m1-6v1m0 3v1m1-7v2m1-3v1m0 1v1m1 2v1m1-5v1m1-10v1m1 7v1m2-1v1m0 1v1m0 3v1m1-2v1m1-12v1m0 3v1m0 1v2m1-6v1m0 3v1m0 2v1m0 2v1m1-7v1m0 5v1m1-3v1m1-6v2m0 4v1m1 23v1m1-28v1m3 5v1m0 1v1m2 7v1m1-22v1m0 3v1m1 0v3m1-7v1m0 3v1m0 4v1m1-4v1m0 1v1m1-12v1m0 1v2m1-2v1m0 10v2m0 2v1m1-13v1m0 4v1m1-8v1m0 7v1m1-11v1m0 3v3m0 2v1m0 12v1m0 1v1m1-18v1m0 2v1m2-10v1m0 2v1m0 5v2m0 21v1m2-37v2m0 6v1m0 2v1m1-13v2m0 3v3m1-9v5m0 2v1m0 29v1m0 2v1m1-41v1m0 1v1m0 22v3m1-19v1m0 3v1m1-13v1m0 3v1m1-14v1m0 7v1m0 1v1m0 3v1m1-20v1m0 2v2m0 3v2m0 2v1m0 5v1m1-11v1m0 2v1m0 39v1m1-41v1m0 5v1m1-6v1m0 5v2m1-14v2m0 8v1m1-11v1m0 1v1m0 4v1m1-11v1m0 6v1m1 2v1m0 5v1m0 28v1m1-45v1m1-23v1m0 13v1m0 2v2m0 4v1m0 36v1m0 2v1m1-34v2m0 2v1m1-18v1m0 2v1m0 6v1m0 2v2m0 1v2m1-21v3m0 5v1m0 3v1m0 41v1m1-58v1m0 3v1m0 1v1m1 3v1m1-9v1m0 1v1m0 50v1m0 2v1m1-56v1m1 6v1m0 5v2m0 1v1m1-10v1m0 10v1m1-13v1m0 6v1m0 1v1m0 1v1m0 1v1m0 5v1m0 2v1m1-22v1m0 2v1m0 2v1m0 2v1m1-31v2m0 3v1m0 2v1m0 2v2m0 1v2m0 4v1m0 34v1m1-48v1m0 3v2m0 3v1m0 1v1m0 2v2m0 7v1m0 26v1m1-56v1m0 7v1m0 10v1m0 40v1m0 6v1m1-65v1m0 55v1m0 4v1m1-51v3m1-5v1m0 5v4m0 2v1m0 2v1m0 2v1m0 4v2m0 2v1m1-30v1m0 1v1m0 1v1m0 1v3m0 1v1m0 2v1m0 31v2m1-40v1m0 4v1m0 33v2m0 2v1m0 2v1m1-54v1m0 2v3m0 33v1m0 1v2m0 1v1m1-2v1m0 2v1m1-68v1m0 9v3m0 3v1m0 35v1m0 1v1m0 2v2m0 2v1m0 2v1m1 4v1m1-56v1m0 8v1m0 1v1m0 29v1m1-57v1m0 2v1m0 44v1m1-56v3m0 1v2m0 55v1m0 2v1m0 3v1m1-82v1m0 2v1m0 6v2m0 1v1m0 5v1m0 2v1m0 48v1m0 1v1m1-73v1m0 5v1m0 2v3m0 7v1m0 48v1m1-46v1m0 1v1m0 4v1m0 1v1m0 40v1m1-51v1m0 34v1m0 2v1m0 3v1m0 2v1m0 4v2m0 2v1m0 7v1m1-67v3m0 2v1m0 56v1m1-46v2m0 40v1m0 6v1m0 2v1m0 1v1m0 4v2m0 2v1m1-74v1m0 2v1m0 38v1m0 1v2m0 5v1m1-57v1m0 9v1m0 7v1m0 1v2m0 47v1m1-88v1m0 4v2m0 2v2m0 1v1m0 5v1m0 4v1m0 51v1m0 4v1m0 2v1m1-55v1m0 2v1m0 36v1m1-44v1m0 1v1m0 25v1m1-32v1m0 3v1m0 3v1m0 2v1m0 26v2m0 4v1m0 1v1m1-41v2m0 44v2m1-45v1m0 34v1m1-30v1m0 5v1m0 2v1m0 32v4m1-5v1m1-51v1m0 5v1m0 1v1m0 10v1m1-14v1m0 2v1m0 5v1m0 30v1m0 4v1m1-40v1m0 30v1m1-31v1m0 10v1m0 26v1m0 4v2m1-61v1m0 7v1m0 1v1m0 1v1m0 2v1m0 1v1m0 34v1m0 1v1m0 3v1m0 1v1m1-48v1m0 5v1m0 10v1m0 22v4m1-58v1m0 3v1m0 2v1m0 1v2m0 3v1m0 3v1m0 36v1m0 1v1m0 2v1m0 1v1m1-72v1m0 2v1m0 3v1m0 37v1m0 4v2m1-39v2m0 1v1m0 1v1m0 30v2m0 2v2m0 6v1m1-54v1m0 4v1m0 46v2m0 1v1m0 2v1m1-64v1m0 1v1m0 6v1m0 1v1m0 37v2m0 1v1m1-45v1m0 6v1m0 2v2m0 32v1m0 3v1m1-44v1m0 4v2m0 3v1m0 21v1m0 4v1m0 1v3m0 5v1m1-57v1m0 2v1m0 1v1m0 31v2m1-35v1m1-24v1m0 8v1m0 5v3m0 42v1m0 1v1m0 1v2m1-43v1m0 6v1m0 31v2m1-46v1m0 6v1m0 28v1m0 3v1m1-44v1m0 4v1m0 1v2m0 39v1m1-51v1m0 3v1m0 2v1m0 50v1m1-12v1m1-5v1m0 8v1m1-40v1m0 38v1m1-36v1m0 3v2m0 32v1m1-43v1m0 4v2m0 24v1m0 3v1m1-33v2m0 1v1m0 29v1m0 2v1m1-40v2m0 28v1m0 1v1m0 3v1m1-45v1m0 7v1m0 31v1m0 10v1m1-51v1m0 1v1m0 2v1m0 29v1m1-51v1m0 1v1m0 7v2m0 2v1m0 37v2m0 1v2m0 2v3m0 4v1m1-61v1m0 7v1m0 2v2m0 40v1m0 6v1m0 2v1m0 6v1m1-60v1m0 2v1m0 42v1m0 5v1m0 2v1m1-68v2m0 3v1m0 1v2m0 38v1m0 1v1m0 3v1m0 1v1m1-35v2m0 31v1m0 5v1m0 6v1m1-44v1m0 5v1m0 34v1m1-48v1m0 3v1m0 1v1m0 4v1m0 32v1m0 1v5m0 1v2m0 1v1m1-74v1m0 2v3m0 3v2m0 5v2m0 2v2m0 1v1m0 32v1m0 3v2m0 2v1m1-53v1m0 3v1m0 1v1m0 2v1m0 6v1m0 1v1m0 31v1m0 5v1m0 1v1m0 1v1m1-69v1m0 11v1m0 1v2m0 48v2m1-47v1m0 41v1m1-56v1m0 1v1m0 44v1m0 9v1m1-75v1m0 2v1m0 4v2m0 3v1m0 46v2m1-7v1m0 8v1m1-59v1m0 2v1m0 2v1m0 5v1m0 3v1m0 2v1m0 1v1m0 31v1m0 4v1m0 3v2m1-55v1m0 2v1m0 2v1m0 5v1m0 2v2m0 40v1m0 3v1m0 2v1m1-73v1m0 13v2m0 36v2m1 13v1m1-65v1m0 5v1m0 43v2m0 3v1m0 3v1m0 1v2m1-75v1m0 9v1m0 3v1m0 4v1m0 42v1m0 8v1m0 2v1m1-60v1m0 2v2m0 3v1m0 1v1m0 48v1m0 3v2m1-66v1m0 6v1m0 2v1m0 3v1m0 40v1m0 1v1m0 8v1m1-49v1m0 1v1m0 27v2m0 5v1m0 3v1m1-54v2m0 3v1m0 2v2m0 32v1m0 3v1m1-35v1m0 2v2m0 3v1m0 22v1m0 1v1m0 2v1m0 8v2m1-56v2m0 5v1m0 2v1m0 31v2m0 7v1"/><path stroke="#4C72B0" d="M239.5 55v2m0 5v1m0 14v1m1-19v3m0 26v1m0 3v3m0 1v1m1-30v1m0 3v1m0 21v1m0 2v1m1-31v1m0 26v1m1-32v2m0 2v2m0 2v2m0 31v2m1-30v1m0 25v1m1-33v1m0 2v1m0 4v1m0 1v1m0 8v1m0 10v2m0 1v1m1-32v1m0 1v2m0 1v1m0 4v1m0 6v1m1-18v3m0 2v1m1-5v1m0 2v1m0 7v1m0 13v1m1 7v1m3-19v1m1-6v2m0 2v1m1-11v1m0 3v1m0 2v1m1 3v1m0 1v1m1-12v1m0 4v1m0 3v1m1-2v1m0 15v1m0 1v1m1-19v1m1-8v1m0 2v1m0 2v2m0 3v1m1-18v1m0 4v2m0 7v1m1-13v1m0 2v3m0 20v1m1-14v2m1-6v1m0 2v1m1-7v1m1 24v1m1-28v1m0 3v2m1 0v2m0 1v1m1-15v1m0 30v1m1-26v2m0 21v1m2-25v1m0 1v1m0 2v1m0 20v1m1-21v2m0 3v1m1-12v2m0 3v1m1-10v1m0 2v1m0 1v2m0 1v1m0 3v1m1-11v1m0 2v1m0 5v1m1-16v1m0 5v1m0 3v2m0 13v1m1 1v1m1-21v2m1-4v2m0 1v1m0 3v1m1-5v1m0 21v1m1-18v1m0 13v1m1-11v1m0 2v1m1-14v1m0 1v1m2-5v1m0 12v1m1-9v2m1-6v1m0 1v2m0 27v1m1-28v1m0 3v3m0 16v1m1-28v1m1 1v1m1-2v1m0 3v2m1-7v2m0 4v2m0 8v1m1-2v1m0 4v1m1-17v1m0 5v2m1-7v2m0 1v1m1-9v1m0 6v1m1-7v1m1-5v1m0 3v2m0 2v1m0 1v1m1-6v1m1-14v1m0 5v1m0 5v1m0 27v1m1-32v2m0 1v2m0 10v1m0 5v1m1-18v1m0 1v1m1-13v2m0 11v1m1-20v1m0 1v1m1-6v1m0 7v1m0 4v1m0 7v1m0 12v1m0 10v1m1-38v3m0 2v1m0 30v1m1-41v1m0 3v1m0 4v1m1 0v1m0 2v3m0 1v1m1-20v2m0 1v1m0 3v1m0 2v1m0 5v1m0 25v1m1-42v1m0 2v1m0 1v1m0 1v2m0 1v1m0 3v1m0 8v2m0 1v2m1-30v1m0 3v1m0 1v1m0 1v1m0 3v3m0 20v1m0 1v1m1 6v2m1-48v1m0 1v1m0 9v1m0 21v1m0 1v2m0 3v1m0 1v1m1-48v1m0 26v1m0 2v2m0 7v1m1-23v1m0 1v1m0 2v1m0 1v1m1-25v1m0 5v1m0 3v1m0 5v1m0 21v1m0 3v1m0 8v1m1-54v2m0 1v1m0 2v1m0 1v1m0 22v1m0 9v1m0 7v2m0 2v1m1-51v1m0 4v1m0 1v4m0 7v2m0 1v2m0 17v1m1-43v1m0 4v1m0 1v1m0 1v1m0 11v1m0 29v1m1-61v1m0 6v1m0 2v1m0 4v2m0 3v1m0 32v1m0 2v1m1-51v2m0 2v2m0 2v1m0 7v2m0 1v2m0 3v1m1-16v1m0 1v1m0 2v1m0 2v1m0 2v1m0 2v1m0 31v1m1-54v1m0 1v1m0 5v1m0 4v1m0 2v1m0 37v1m1-44v1m0 6v2m1-11v1m0 4v3m0 1v2m0 16v1m1-51v2m0 1v1m0 2v2m0 2v1m0 2v1m0 2v1m0 1v1m0 22v1m0 14v1m0 1v1m0 2v1m0 7v1m1-55v1m0 1v1m0 4v1m0 1v2m0 13v1m0 3v1m0 4v1m0 1v1m1-33v1m0 1v1m0 1v1m0 31v2m0 7v1m0 4v1m1-64v1m0 1v1m0 2v1m0 9v1m0 14v1m0 6v1m0 1v1m0 13v1m0 1v1m0 5v4m1-53v3m0 7v1m0 2v1m0 1v1m0 5v1m0 14v1m0 11v1m0 1v1m1-52v2m0 8v1m0 7v1m1-24v1m0 19v1m1-16v1m0 1v1m0 1v2m0 1v1m0 26v2m0 2v1m0 3v1m1-48v2m0 3v1m0 1v2m0 10v1m0 15v1m0 1v1m1-26v2m0 25v1m1-48v1m0 6v3m0 27v1m0 1v1m0 2v1m1-25v2m1-12v1m0 1v1m0 7v1m0 21v1m1-55v1m0 4v1m0 2v1m0 2v1m0 3v1m0 2v1m0 5v1m0 19v1m0 1v1m1-52v1m0 3v2m0 1v1m0 1v1m0 35v1m0 4v2m0 1v1m0 1v1m0 3v1m1-61v1m0 2v1m0 41v1m0 6v1m0 1v1m1-57v1m0 4v1m0 25v1m0 1v1m0 4v1m0 2v2m0 5v2m0 1v1m0 7v1m0 1v1m1-47v2m0 2v1m0 3v1m0 28v1m0 2v2m1-57v1m0 2v1m0 1v3m0 35v2m0 6v2m0 1v1m0 2v1m0 1v1m1-50v1m0 2v1m0 35v1m0 3v1m0 3v1m0 3v2m1-33v1m0 19v1m0 14v1m0 1v1m0 1v1m0 1v1m0 9v1m1-62v2m0 2v1m0 3v1m0 26v1m0 1v1m0 2v1m1-36v2m0 1v1m0 3v1m0 38v1m0 1v2m1-76v1m0 8v1m0 7v1m0 6v1m0 1v1m0 1v1m0 1v1m0 29v1m0 5v1m0 6v1m1-47v2m0 1v1m0 1v1m0 24v1m0 4v1m1-40v1m0 2v1m0 20v1m1-21v1m0 24v1m0 4v1m1-35v2m0 34v2m0 2v2m1-33v1m1 5v1m0 4v1m0 26v1m0 5v1m1-43v1m0 2v1m0 1v1m0 2v1m0 4v1m0 17v1m0 1v2m1-39v1m0 2v1m0 3v1m0 3v1m0 1v1m1-10v2m0 1v1m0 26v1m1-34v1m0 33v2m0 1v1m1-31v2m0 1v1m0 2v1m0 21v1m0 1v1m0 1v2m0 3v2m1-56v1m0 7v1m0 1v1m0 18v1m0 15v1m0 1v2m1-32v1m0 7v1m0 23v1m1-43v2m0 17v1m0 21v1m0 3v1m0 1v1m1-67v1m0 6v1m0 2v1m0 3v1m0 1v1m0 34v1m0 1v1m1-46v1m0 2v1m0 2v1m0 1v1m0 25v1m1-34v1m0 1v1m0 2v1m0 3v1m0 31v1m0 2v1m1-45v2m0 1v1m0 2v1m0 22v1m0 3v1m0 4v1m1-35v1m0 5v1m0 31v1m0 1v1m1-30v1m0 23v1m0 4v1m0 3v1m0 1v3m1-50v1m0 28v1m0 6v1m1-33v1m0 3v3m0 22v1m0 1v1m0 1v1m0 2v1m1-48v3m0 35v1m0 1v1m0 2v1m1-35v1m0 3v2m0 25v1m1-39v1m0 1v1m0 1v1m0 30v3m0 1v1m0 4v2m1-42v1m0 27v1m0 2v1m0 1v1m0 1v2m1-45v1m0 4v1m0 1v3m0 1v1m0 30v1m0 1v1m0 1v2m0 1v3m0 2v1m1-43v1m0 2v1m0 1v1m0 23v2m1-36v1m0 34v1m0 2v1m0 1v2m0 1v2m1-7v1m1-26v1m0 17v1m0 8v1m1-34v1m1 21v1m0 5v1m0 1v2m1-32v3m1-13v4m0 5v1m0 19v1m0 1v1m0 10v3m1-40v1m0 20v2m0 7v1m0 3v1m0 1v1m0 1v1m0 2v1m1-54v1m0 2v1m0 2v2m0 2v1m0 2v1m0 1v1m0 26v1m0 2v1m1-47v1m0 1v2m0 1v1m0 6v2m0 15v1m0 11v1m0 2v1m0 4v1m1-34v1m0 34v1m0 5v2m1-51v1m0 1v2m0 31v1m1-24v2m0 1v1m0 1v1m0 4v3m0 23v1m0 6v1m1-36v3m0 29v1m1-45v1m0 5v1m0 5v2m0 28v1m0 1v1m0 5v1m1-58v1m0 5v2m0 4v2m0 8v2m0 23v1m0 5v1m1-46v1m0 5v2m0 1v1m0 2v1m0 33v2m1-47v1m0 20v3m0 26v1m1-51v1m0 34v2m0 2v1m0 2v1m0 2v1m1-59v2m0 3v2m0 1v3m0 1v1m0 24v1m0 10v1m0 4v2m0 1v1m1-66v1m0 5v1m0 1v1m0 22v1m0 2v1m0 10v1m0 2v1m0 1v4m0 2v1m1-29v1m0 18v1m0 6v1m0 1v1m0 2v1m1-42v1m0 5v1m0 4v1m0 22v1m1-39v1m0 3v1m0 8v1m0 3v2m0 3v1m0 12v2m0 8v1m0 4v1m0 2v1m0 4v1m1-63v1m0 3v1m0 2v1m0 2v1m0 23v1m0 10v1m1-18v1m0 28v1m1-56v1m0 1v2m0 2v1m0 32v2m0 3v1m0 5v1m1-59v1m0 3v2m0 2v2m1 5v2m0 4v1m0 2v1m0 34v1m0 1v1m0 1v1m1-49v1m0 1v1m0 35v2m0 3v1m1-44v2m0 4v1m0 1v1m0 1v2m0 22v1m0 2v1m0 1v1m0 4v1m1-50v3m0 2v1m0 31v2m1-20v3m0 28v1m0 1v1m1-46v1m0 2v1m0 23v1m0 3v1m0 2v1m0 3v2"/><path stroke="#2A3F6E" d="M239.5 58v1m0 1v1m0 2v1m0 1v1m0 15v1m1-20v1m0 1v1m0 32v1m1-33v2m0 5v1m0 19v1m0 5v1m1-30v1m0 3v1m0 21v1m0 3v1m1-32v1m0 12v1m1 20v1m1-33v1m0 2v1m0 1v1m0 2v1m0 1v1m0 17v1m0 4v1m0 1v1m1-41v1m0 9v1m0 3v2m1-12v1m0 20v1m1-20v1m0 6v1m1-5v2m0 30v1m1-37v1m0 4v3m0 3v1m1-4v4m1-8v2m2-1v1m0 2v2m0 2v1m1 1v1m0 1v1m0 10v1m1-22v1m0 2v1m0 5v1m1-18v1m0 5v2m1-3v1m1 3v1m0 5v1m1-9v1m0 1v1m0 12v3m1 10v1m0 1v2m1-14v1m0 2v1m1-15v1m1 2v1m1 19v1m2-24v2m2-11v1m0 5v1m0 25v1m1-25v1m0 2v1m0 1v1m1-14v1m0 6v1m0 2v1m0 1v1m1-4v1m0 1v1m2-1v1m0 1v1m1-6v1m1-8v1m0 1v1m0 2v1m1 2v2m1-4v1m0 23v1m1-30v1m0 4v1m1 0v3m1-5v1m0 1v2m1 6v2m1-12v1m0 27v1m2-30v3m2-8v1m0 11v1m1-8v1m1-4v1m0 2v2m1 1v2m0 3v1m0 2v1m1-15v1m1-1v2m0 3v1m0 13v1m1-13v1m0 10v1m0 6v1m1-17v2m1-13v1m0 5v2m1-3v1m0 1v1m1-9v1m0 3v1m0 28v1m1-35v2m1 4v1m0 2v1m0 20v1m1-29v1m0 3v1m0 1v1m0 28v1m1-41v1m0 4v1m0 11v1m0 1v1m0 7v1m1-24v1m0 9v1m0 1v1m1-19v1m0 8v1m0 27v1m0 1v1m1-36v3m0 4v1m1-14v1m0 2v1m0 2v2m0 3v1m0 27v1m1-40v1m0 2v1m0 28v1m0 4v1m0 1v1m0 2v1m1-38v1m0 4v1m0 1v2m0 3v1m1-7v1m0 4v1m0 3v1m1-21v1m0 3v1m0 2v1m0 1v1m0 3v1m0 1v1m0 1v1m0 23v2m1-43v1m0 4v1m0 2v1m0 1v1m1-16v2m0 2v1m0 2v1m0 1v1m0 2v1m0 5v1m0 13v1m0 3v1m1-28v1m0 6v2m0 30v1m1-48v1m0 27v1m0 1v1m0 1v1m1-32v1m0 18v1m0 8v1m0 3v1m0 6v1m0 1v1m1-34v1m0 3v1m0 1v1m0 4v1m1-23v1m0 13v1m0 30v1m1-5v1m0 5v1m1-58v2m0 5v1m0 2v2m0 27v1m1-40v6m0 1v1m0 2v1m0 1v1m0 1v1m0 10v1m0 6v1m0 23v1m1-59v1m0 3v1m0 2v1m0 4v1m0 3v1m0 3v1m0 30v1m0 2v1m1-47v1m0 9v1m0 1v1m0 2v1m0 4v1m0 1v1m1-19v1m0 10v1m0 8v1m1-25v1m0 5v1m0 1v2m0 17v1m0 3v1m0 12v1m0 4v1m1-43v1m0 15v1m1-22v1m0 13v1m0 2v1m0 16v1m0 12v1m1-50v1m0 4v2m0 1v1m0 6v1m0 20v1m0 8v1m0 5v1m1-56v3m0 7v1m0 1v1m0 2v1m0 4v1m0 8v1m0 3v1m0 18v1m1-40v1m0 1v1m0 32v1m0 1v1m1-56v1m0 4v1m0 27v1m0 1v1m0 21v1m1-44v1m0 38v1m0 1v1m0 2v1m1-55v1m0 3v2m0 7v1m0 1v1m0 5v1m0 8v1m1-34v1m0 7v1m0 5v2m0 1v1m0 3v2m0 3v1m0 17v2m1-42v1m0 2v1m0 33v1m0 3v2m0 5v1m1-43v1m0 3v1m0 9v1m1 22v2m0 3v1m1-58v1m0 3v2m0 1v1m0 4v1m1 40v3m1-48v1m0 31v1m1-47v1m0 6v1m0 2v1m0 24v2m1-53v1m0 11v1m0 4v1m0 16v1m0 18v1m0 2v1m0 1v1m0 2v1m1-67v1m0 6v1m0 1v1m0 3v2m0 24v1m0 1v1m0 6v1m0 5v3m0 1v1m0 2v1m1-55v2m0 1v1m0 4v1m0 22v1m0 17v1m0 3v2m0 1v2m1-1v1m0 1v1m1-65v1m0 4v1m0 8v1m0 30v2m0 4v2m0 21v1m1-52v1m0 16v1m0 17v2m0 2v2m0 5v1m1-38v2m0 11v1m0 12v1m0 15v1m0 4v1m0 6v1m1-68v1m0 3v1m0 42v1m1-49v1m0 2v1m0 16v1m0 2v1m0 2v1m0 15v1m1-68v1m0 14v1m0 2v1m0 2v3m0 2v1m0 2v2m0 40v2m0 5v1m0 1v1m1-46v2m0 2v1m0 26v1m0 3v1m0 2v1m0 1v1m1-44v1m0 1v1m0 20v1m1-21v1m0 24v2m2-23v1m0 4v2m0 24v1m0 1v1m1-22v1m0 23v1m0 1v2m0 2v1m1-40v1m0 11v3m0 25v1m1-39v3m0 2v1m0 18v2m1-31v1m0 35v1m0 2v1m0 2v1m1-10v1m0 4v1m0 2v1m1-39v2m0 6v1m0 1v1m0 3v1m0 32v1m1-55v1m0 6v1m0 1v1m0 16v2m0 14v1m0 3v1m0 2v2m1-42v2m0 3v1m0 1v2m0 2v1m0 29v1m1-60v1m0 5v1m0 2v1m0 45v1m0 4v1m1-63v1m0 5v1m0 34v1m1-40v1m0 10v1m0 26v2m1-34v1m0 1v1m0 3v1m0 23v1m0 14v1m1-52v2m0 32v1m0 1v1m0 2v1m0 3v1m1-39v1m0 2v2m0 31v1m0 3v1m1-26v1m0 17v1m0 4v1m1-9v1m1-32v1m0 2v2m0 7v1m0 22v1m0 4v1m1-37v1m0 28v1m0 8v1m1-43v3m0 6v1m0 26v1m0 3v1m1-16v1m0 2v2m0 6v1m0 1v2m1-45v1m0 1v1m0 4v1m0 24v1m0 10v1m1-45v1m0 3v1m0 3v1m0 1v1m0 8v1m0 30v1m1-43v2m0 2v1m0 1v1m0 28v1m1-43v1m0 5v2m0 1v1m0 30v1m0 13v1m1-44v1m0 2v1m0 21v1m0 6v2m1-6v1m0 1v1m1-32v1m0 3v1m0 1v1m0 20v1m0 1v1m1-28v1m0 25v1m1-34v1m0 3v2m0 29v1m1-43v1m0 1v1m0 7v1m0 19v1m0 11v1m1-40v1m0 7v1m0 29v1m0 9v1m1-60v1m0 2v1m0 12v1m0 1v1m0 10v1m0 22v1m0 6v1m1-53v1m0 3v1m0 2v1m0 25v1m0 7v1m0 1v1m1-34v2m0 4v1m0 28v1m0 3v2m0 8v1m1-64v1m0 6v1m0 1v1m0 41v1m1-24v2m0 28v3m0 1v1m1-39v1m0 39v2m1-46v1m0 2v1m0 6v1m1-38v1m0 5v1m0 11v1m0 38v1m0 9v1m1-56v1m0 1v1m0 2v2m0 2v1m0 4v2m0 37v1m0 7v1m1-57v1m0 1v1m0 4v1m0 1v1m0 22v1m0 1v1m0 10v1m0 2v1m0 2v1m0 1v2m1-48v1m0 1v1m0 1v2m0 23v3m0 10v1m1-56v1m0 11v1m0 13v1m0 13v2m0 9v1m0 6v1m1-66v1m0 2v2m0 5v1m0 35v1m0 10v1m1-9v1m0 1v1m0 2v1m1-51v1m0 5v1m0 11v1m0 2v2m0 27v1m1-40v1m0 11v2m0 33v1m0 4v2m0 1v1m1-63v1m0 3v1m0 5v1m0 36v1m1-17v2m0 23v1m1-32v1m0 14v1m0 8v1m1-49v1m0 3v1m0 1v1m0 40v1m1-53v1m0 6v1m0 3v1m0 4v2m0 1v1m0 32v1m0 4v1m1-9v1m0 10v1m0 7v1m1-53v1m1-4v1m0 3v1m0 1v1m0 25v1m0 6v1m1-41v1m0 13v1m0 40v1m1-55v2m0 3v1m0 27v1m0 4v1m0 12v1"/><path stroke="#14141C" d="M239.5 64v1m0 1v1m0 2v6m0 1v1m0 1v3m1-16v2m0 1v5m0 1v6m0 1v7m0 3v1m0 3v1m1-28v1m0 1v1m0 2v1m0 1v2m0 1v3m0 1v10m1-18v5m0 1v1m0 1v6m0 1v3m0 6v1m1-30v1m0 2v9m0 1v4m0 1v3m0 1v12m0 2v1m1-30v24m1-19v3m0 1v3m0 1v9m0 3v1m0 5v2m1-31v1m0 3v1m0 1v4m0 1v3m0 1v1m0 1v1m0 1v4m0 1v7m1-39v1m0 3v2m0 1v2m0 1v6m0 1v3m0 1v2m0 2v10m0 1v3m1-33v1m0 2v4m0 1v11m0 1v1m0 1v11m1-32v9m0 1v18m0 2v2m1-31v3m0 1v20m0 2v1m1-23v3m0 1v1m0 1v6m0 1v9m0 1v4m1-33v5m0 1v5m0 1v6m0 1v7m0 1v6m1-22v14m0 1v7m1-23v10m0 1v4m0 1v1m0 1v2m0 1v2m1-21v1m0 3v5m0 1v11m1-23v1m0 1v7m0 1v12m1-32v10m0 1v1m0 1v3m0 1v4m0 1v4m0 1v1m0 1v4m1-22v22m1-31v1m0 1v2m0 5v1m0 1v1m0 2v2m0 1v1m0 1v11m1-32v1m0 4v6m0 1v1m0 4v8m0 2v6m1-27v3m0 1v2m0 1v12m0 1v1m0 1v1m0 2v2m1-18v2m0 1v1m0 2v2m0 1v2m0 1v5m1-23v2m0 1v9m0 1v3m0 1v7m1-27v3m0 1v1m0 1v9m0 1v1m0 1v2m0 1v5m1-29v5m0 1v7m0 1v12m0 2v2m1-24v18m0 1v5m1-25v1m0 4v12m0 1v7m1-34v3m0 2v11m0 1v7m0 1v4m0 2v3m1-27v18m0 1v2m0 1v1m0 1v3m1-24v1m0 1v18m0 1v2m1-22v19m0 1v3m1-22v3m0 1v10m0 1v7m1-28v3m0 1v2m0 1v6m0 1v1m0 2v11m1-32v1m0 7v1m0 2v21m1-26v3m0 1v22m1-37v1m0 5v1m0 4v1m0 1v11m0 1v12m1-25v14m0 1v10m1-28v23m0 2v3m1-28v2m0 2v8m0 1v15m1-31v1m0 5v14m0 1v2m0 1v7m1-26v1m0 1v2m0 1v3m0 1v1m0 1v4m0 1v10m1-22v1m0 4v17m1-28v10m0 1v9m0 1v5m0 1v1m1-14v1m0 1v2m0 1v9m1-28v8m0 1v6m0 1v12m1-26v10m0 1v3m0 1v2m0 1v3m0 1v4m1-34v2m0 5v1m0 1v1m0 1v16m0 1v5m1-29v1m0 3v2m0 3v1m0 1v1m0 2v1m0 1v8m0 2v2m0 1v1m1-29v7m0 2v7m0 1v12m1-19v14m0 1v2m0 1v1m1-30v2m0 3v11m0 1v1m0 1v4m0 1v4m0 1v1m1-28v1m0 3v8m0 2v10m0 1v3m1-26v1m0 1v3m0 1v3m0 3v1m0 2v2m0 1v8m1-26v1m0 5v4m0 1v6m0 1v2m0 1v5m1-28v1m0 2v1m0 1v8m0 1v11m0 1v1m1-23v2m0 1v17m0 2v2m1-35v2m0 1v1m0 1v3m0 2v21m0 1v1m1-24v1m0 1v16m0 1v2m0 1v1m0 1v2m1-33v1m0 1v1m0 2v1m0 1v8m0 1v9m0 3v5m1-29v14m0 1v9m0 1v1m1-36v3m0 1v1m0 2v1m0 2v2m0 1v2m0 4v1m0 7v9m0 1v2m1-24v6m0 1v11m0 1v5m1-38v1m0 1v1m0 2v6m0 1v9m0 2v9m0 1v1m0 1v3m1-45v1m0 9v3m0 1v2m0 1v3m0 1v13m0 2v4m0 2v1m1-31v1m0 1v3m0 1v12m0 1v8m0 1v1m0 1v1m1-36v2m0 1v12m0 1v9m0 1v4m0 6v2m1-34v1m0 2v3m0 1v4m0 1v5m0 1v1m0 1v2m0 1v11m1-27v2m0 2v16m0 1v6m1-43v2m0 6v3m0 3v1m0 1v20m0 1v1m0 3v2m1-34v2m0 1v8m0 2v1m0 2v18m1-39v1m0 1v1m0 3v1m0 1v1m0 1v4m0 1v6m0 1v1m0 1v1m0 2v1m0 1v10m1-35v1m0 2v6m0 1v2m0 1v7m0 1v7m0 1v2m1-43v2m0 1v6m0 1v9m0 2v1m0 1v3m0 1v1m0 1v1m0 5v3m0 1v1m0 1v2m0 1v3m1-51v1m0 1v1m0 2v17m0 3v2m0 2v2m0 1v2m0 5v2m0 2v1m0 1v6m1-33v1m0 1v1m0 2v6m0 1v4m0 1v12m0 1v1m0 1v1m1-45v1m0 3v1m0 4v14m0 1v5m0 1v3m0 1v1m0 1v3m0 1v2m0 1v2m1-54v1m0 1v1m0 2v1m0 2v2m0 1v2m0 1v15m0 1v6m0 1v2m0 2v3m0 1v2m0 5v2m1-63v1m0 7v1m0 2v1m0 2v1m0 1v1m0 4v3m0 1v3m0 2v1m0 2v1m0 1v6m0 1v1m0 1v5m0 2v9m0 1v2m1-43v7m0 1v1m0 1v4m0 1v9m0 1v8m0 1v1m0 2v1m0 2v3m1-55v1m0 1v2m0 1v1m0 3v2m0 4v2m0 1v2m0 1v22m1-44v1m0 3v2m0 1v1m0 16v32m1-39v1m0 1v2m0 1v3m0 1v4m0 1v3m0 1v7m0 1v8m0 3v1m1-52v1m0 1v2m0 4v2m0 1v1m0 3v1m0 1v8m0 3v1m0 1v11m0 2v4m0 1v3m0 1v1m1-41v1m0 1v1m0 2v2m0 1v1m0 2v13m0 2v1m0 1v2m0 1v2m0 1v7m1-50v1m0 14v5m0 2v4m0 1v3m0 2v12m0 1v3m0 1v1m1-48v1m0 2v5m0 1v10m0 1v9m0 2v2m0 2v1m0 1v1m0 2v4m0 1v2m1-51v1m0 8v1m0 1v2m0 1v7m0 2v2m0 2v3m0 3v4m0 1v3m0 1v3m0 1v5m1-48v1m0 5v1m0 1v1m0 1v1m0 1v14m0 1v6m0 2v1m0 1v1m0 10v1m1-58v1m0 1v4m0 1v1m0 1v14m0 1v3m0 1v1m0 2v1m0 1v3m0 1v4m0 1v4m1-37v6m0 1v2m0 1v1m0 1v4m0 2v4m0 1v2m0 1v6m0 1v5m0 1v1m0 1v2m0 2v1m0 1v2m1-48v1m0 18v25m0 1v3m1-45v3m0 2v1m0 1v1m0 1v16m1-26v3m0 1v20m0 1v1m1-30v1m0 1v5m0 1v2m0 2v14m0 1v1m1-23v1m0 1v21m0 1v1m0 1v1m1-39v1m0 1v10m0 1v5m0 1v6m0 1v1m1-17v11m0 1v20m1-40v1m0 1v4m0 1v8m0 1v8m0 1v2m1-49v1m0 1v1m0 2v2m0 1v2m0 2v1m0 2v5m0 1v5m0 1v10m1-36v1m0 1v1m0 1v16m0 1v14m0 1v1m0 1v1m0 7v1m1-56v1m0 5v6m0 1v4m0 1v5m0 1v5m0 1v1m0 1v6m0 1v4m0 4v1m1-49v1m0 2v1m0 1v1m0 4v4m0 1v2m0 1v10m0 3v4m0 1v2m0 2v5m0 4v1m1-32v2m0 1v22m0 1v5m0 1v2m0 2v1m1-56v1m0 5v1m0 4v11m0 1v1m0 1v3m0 1v10m0 4v1m0 4v1m0 4v1m1-42v5m0 1v12m0 1v2m0 2v11m0 2v3m0 3v1m0 3v1m1-30v2m0 1v7m0 1v8m0 1v3m0 1v6m0 2v2m0 3v1m0 3v1m0 4v1m1-56v2m0 1v3m0 1v19m0 1v6m1-22v1m0 1v2m0 2v1m0 1v5m0 1v6m0 1v2m0 1v3m0 1v5m0 1v4m1-65v1m0 6v1m0 3v1m0 3v2m0 1v1m0 1v1m0 1v1m0 2v13m0 1v1m0 1v12m0 3v2m1-42v1m0 9v12m0 1v10m0 2v2m1-35v1m0 1v16m0 1v1m1-16v4m0 1v9m0 1v6m1-25v8m0 1v1m0 2v10m0 1v5m0 1v5m1-23v14m0 1v1m0 1v6m1-17v1m0 1v7m0 1v2m0 1v5m0 1v4m0 4v1m1-35v1m0 2v1m0 1v2m0 1v1m0 5v5m0 1v10m0 1v1m0 3v1m1-40v2m0 9v1m0 1v5m0 1v8m1-20v1m0 1v9m0 1v3m0 1v3m0 1v6m1-32v1m0 1v21m0 1v6m1-15v18m0 2v1m0 1v1m0 3v2m1-48v1m0 8v14m0 3v13m1-33v1m0 2v1m0 3v1m0 2v2m0 2v1m0 1v3m0 1v16m1-39v1m0 2v2m0 1v11m0 1v7m0 1v13m0 1v1m1-58v1m0 3v1m0 6v1m0 1v7m0 1v4m0 1v14m0 3v1m1-29v3m0 1v10m0 1v3m0 1v4m0 1v1m1-28v2m0 2v9m0 1v2m0 1v10m0 2v3m0 1v1m0 1v2m0 1v2m0 1v1m1-44v1m0 2v10m0 1v2m0 1v7m0 1v2m0 3v2m1-23v3m0 1v20m0 2v2m1-25v1m0 1v2m0 1v8m0 1v5m0 1v1m0 2v1m0 1v1m1-42v1m0 3v12m0 1v2m0 1v8m0 1v2m0 8v1m1-33v3m0 5v4m0 1v8m0 2v2m0 1v2m0 3v1m1-40v3m0 1v2m0 1v2m0 1v5m0 1v18m1-28v2m0 4v4m0 1v2m0 1v4m0 1v11m1-32v1m0 1v17m0 2v2m0 1v2m1-25v6m0 1v14m0 1v2m0 2v2m0 1v1m0 1v1m0 2v1m1-43v1m0 9v8m0 1v12m0 1v1m0 1v5m0 1v1m0 1v1m0 2v1m1-31v11m0 2v6m0 1v3m1-33v1m0 2v1m0 1v6m0 2v1m0 1v1m0 1v3m0 2v8m0 1v1m0 4v1m1-26v13m0 1v6m0 1v3m0 1v1m1-23v10m0 1v5m0 1v3m0 1v1m1-26v1m0 1v10m0 1v1m0 1v7m1-23v13m0 1v5m0 1v4m1-24v8m0 1v4m0 1v1m0 1v4m0 1v2m1-40v1m0 7v2m0 2v1m0 1v9m0 1v7m0 1v1m0 1v1m0 1v6m0 2v1m1-35v2m0 1v4m0 2v2m0 1v1m0 1v6m0 2v1m0 1v4m0 2v2m0 2v1m1-40v2m0 1v1m0 4v9m0 1v13m0 1v2m1-36v1m0 7v6m0 1v7m0 1v7m0 1v3m0 1v2m0 2v1m0 1v1m1-30v1m0 1v8m0 1v19m0 1v1m0 1v1m0 3v1m1-51v1m0 5v7m0 1v2m0 1v2m0 1v3m0 1v5m0 1v7m1-21v1m0 1v1m0 1v1m0 6v3m0 1v2m0 1v4m0 1v2m0 1v2m0 2v1m0 2v1m0 5v1m1-31v10m0 1v10m0 1v5m0 3v1m0 1v1m1-37v1m0 3v8m0 1v1m0 1v1m0 1v14m1-35v8m0 2v1m0 1v6m0 1v8m0 1v1m1-46v1m0 14v2m0 5v1m0 1v15m0 1v2m0 1v5m0 1v3m0 2v2m1-42v19m0 6v10m0 2v1m0 1v2m0 1v1m1-40v5m0 1v5m0 2v10m0 3v4m0 2v2m0 1v1m1-47v1m0 5v4m0 1v2m0 2v3m0 1v4m0 1v6m0 1v1m0 2v7m0 3v2m0 2v1m0 2v1m1-59v2m0 1v19m0 1v2m0 1v10m0 1v1m1-23v4m0 1v17m0 2v1m0 2v1m0 1v1m0 7v1m1-37v1m0 2v1m0 1v2m0 1v10m0 1v8m1-29v1m0 2v1m0 3v1m0 2v3m0 1v6m0 1v5m0 3v7m0 1v1m0 1v1m0 2v1m1-55v2m0 5v1m0 2v9m0 1v2m0 1v4m0 1v5m0 1v7m1-10v3m0 1v3m0 1v15m1-52v1m0 2v2m0 1v1m0 1v3m0 2v8m0 1v12m0 1v1m0 1v1m1-44v1m0 7v1m0 2v19m0 1v16m0 1v2m0 1v1m1-36v1m0 2v2m0 1v3m0 2v9m0 1v11m0 1v1m0 1v4m0 2v1m1-43v28m0 1v3m0 1v2m1-26v5m0 1v1m0 1v9m0 1v1m0 2v1m1-30v1m0 1v4m0 1v9m0 1v5m0 1v4m0 3v1m1-17v11m0 1v3m0 1v2m0 7v1m1-37v8m0 1v2m0 1v7m0 1v2m0 1v2m0 2v2"/><path stroke="#2B3458" d="M239.5 67v2m0 6v1m1-9v1m0 5v1m0 6v1m1-7v1m0 2v1m0 3v1m1-3v1m0 1v1m0 6v1m1-3v1m0 3v1m2-7v1m1 7v1m0 1v1m0 1v1m0 4v1m1-23v1m0 6v1m0 6v2m0 10v1m1-11v1m1-10v1m1 15v2m1-19v1m0 1v1m0 6v1m0 9v1m1-24v1m0 12v1m0 7v1m1-2v1m1-6v1m0 4v1m0 1v1m0 2v1m1-17v2m1 3v1m0 12v1m1-21v1m0 3v1m0 4v1m2-4v1m0 1v1m0 11v1m1-8v2m1-22v1m0 3v1m0 2v1m1 1v1m0 4v1m0 3v1m0 2v1m0 5v1m1-12v1m0 3v1m1-15v1m0 9v1m0 1v1m0 2v1m0 5v1m1-25v1m0 7v1m1 10v1m1-3v1m1-24v2m0 11v1m0 7v1m0 4v1m1-5v1m1 4v1m0 2v1m2-8v1m1-15v1m0 6v1m0 1v2m3-23v1m0 8v1m3-1v1m0 8v1m1 4v1m1-12v1m0 3v1m0 1v1m2-3v1m0 9v1m1-6v1m0 2v1m1-4v1m1-4v1m0 3v1m0 2v1m0 3v1m1-24v1m0 20v1m1-14v1m0 1v2m0 1v1m0 8v1m0 3v1m1-21v2m0 7v1m1 7v1m0 2v1m1-13v1m0 1v1m0 4v1m0 4v1m1-3v1m1-22v1m0 3v1m1 4v1m0 6v1m0 2v1m1-10v1m0 11v1m0 1v1m1-22v1m1-6v2m0 23v2m1-8v1m0 2v1m0 1v1m1-25v1m0 8v1m0 10v2m1-10v1m1-13v1m0 23v1m1-24v1m0 7v1m0 11v1m1-30v1m0 17v2m1-14v1m0 3v1m0 13v2m0 4v2m0 1v2m1-2v2m1-23v1m0 15v1m1-17v1m0 5v1m0 1v1m0 2v1m1-13v1m0 16v1m1-1v1m2-24v1m0 4v1m0 8v1m1-11v1m0 2v1m0 7v1m1-31v1m0 16v2m0 1v1m0 9v1m0 10v1m1-49v1m0 4v1m0 18v1m0 10v1m1-6v1m0 4v1m0 12v1m0 1v1m1-21v1m0 11v1m1-35v1m0 2v1m0 22v1m0 3v1m1-26v1m0 9v1m0 8v1m0 5v1m0 10v1m1-17v1m0 8v1m0 1v2m1-36v2m0 2v1m0 2v1m0 24v1m2-17v1m0 3v1m0 7v1m0 8v2m0 2v1m1-39v1m0 1v1m0 9v2m0 13v1m1-6v2m0 1v1m0 2v1m0 2v1m1-23v2m0 4v1m0 21v1m1-50v1m0 4v1m0 30v1m1-7v1m0 9v1m0 9v1m1-45v1m0 2v1m0 1v1m0 1v1m0 14v1m0 9v1m1-45v1m0 4v1m0 29v1m0 4v1m1-17v1m0 5v1m0 2v1m1 19v1m1-17v1m1-24v1m1-1v1m1-2v1m0 21v1m0 3v1m1-28v1m0 5v1m0 6v1m1-5v1m1-19v1m0 13v1m0 8v1m1-21v1m1 11v1m1-35v1m0 4v1m0 5v1m1-18v3m0 4v1m0 2v1m1 25v1m1-38v1m0 2v1m0 11v1m0 1v1m0 3v1m1 1v1m0 2v1m0 12v1m1-16v1m0 27v1m0 26v1m1-41v1m1-11v1m0 7v1m0 6v1m0 6v1m0 5v1m0 5v1m1-53v1m0 9v1m0 13v1m0 1v1m1-3v1m1-3v1m1-11v1m0 9v1m1-11v1m0 1v2m0 10v1m0 5v1m1-4v1m0 1v1m1-2v1m0 2v1m0 11v1m1-31v1m0 17v1m0 14v1m1-32v1m0 10v1m1-11v1m0 9v1m0 3v1m0 3v1m1-3v1m1 9v1m2-14v1m1-21v1m0 22v1m1-38v1m0 2v2m0 10v1m0 4v1m1-8v1m0 10v1m0 3v1m1-9v1m0 2v1m0 11v1m0 3v1m1-33v1m0 10v1m0 2v1m1-5v1m0 20v1m1-18v1m0 8v1m1-27v1m0 12v1m0 2v1m0 8v1m1-15v1m0 4v1m0 8v2m0 2v1m1-35v1m0 3v1m0 5v1m0 5v1m1 0v1m0 2v1m0 4v1m1-20v1m0 17v2m0 14v1m1-29v1m0 14v1m1 1v1m0 1v1m1-8v2m0 6v1m1-19v2m0 1v1m0 1v1m0 3v2m0 8v1m0 2v1m1-10v1m0 10v1m1-23v1m0 10v1m0 12v1m1-16v1m0 1v1m1-3v1m0 12v1m1-19v1m0 4v1m0 1v1m0 4v1m1-15v1m1-17v1m0 9v2m0 2v1m0 1v1m0 9v1m1 2v1m1-20v1m1 7v1m1-11v1m0 2v1m0 2v1m0 3v1m0 5v1m1 0v1m0 2v1m0 4v1m0 2v1m0 2v1m0 2v1m1-13v1m0 10v1m0 5v2m1-21v1m0 1v1m0 1v1m1-10v1m0 6v1m1 3v1m0 2v1m0 5v1m1 1v1m1-29v1m0 5v2m1-14v1m0 2v2m0 8v1m2 6v1m0 10v1m1-26v1m0 10v1m1-1v1m0 7v1m0 9v1m1-32v1m0 2v1m0 4v1m1 6v1m0 3v1m1-30v1m0 3v2m0 21v1m1-31v1m0 19v1m1-6v2m0 9v1m0 11v1m1-6v1m1-15v1m0 1v1m0 9v1m0 1v2m1-23v1m0 9v1m0 5v1m1-10v1m0 11v1m0 3v1m0 14v1m1-34v1m0 2v1m0 7v1"/><path stroke="#64B5CD" stroke-opacity="0.65" d="M256.5 81v3m11 5v1m34 4v2m14-21v1m16-5v2m0 2v2m6-14v1m6-29v2m0 1v1m1 25v1m16-3v1m42 14v2"/><path stroke="#64B5CD" stroke-opacity="1.0" d="M239.5 57v27m1-23v38m1-30v28m1-32v36m1-38v45m1-30v29m1-37v39m1-39v39m1-39v39m1-39v39m1-33v33m1-38v34m1-24v28m1-33v33m1-26v26m1-32v32m1-26v26m1-32v4m0 3v25m1-33v33m1-22v22m1-32v32m1-34v34m1-33v33m1-30v30m1-27v27m1-27v27m1-32v32m1-27v27m1-28v8m0 1v19m1-33v33m1-33v33m1-26v26m1-33v33m1-26v26m1-29v29m1-34v34m1-31v31m1-32v32m1-25v25m1-31v31m1-29v29m1-30v30m1-27v27m1-22v22m1-30v30m1-13v13m1-32v32m1-30v30m1-33v33m1-30v30m1-29v28m1-30v31m1-32v32m1-32v32m1-34v34m1-29v29m1-33v33m1-34v34m1-36v36m1-37v37m1-39v39m1-42v40m1-39v26m0 2v13m1-35v35m1-42v42m1-43v43m1-44v44m1-43v43m1-42v42m1-39v39m1-45v45m1-44v44m1-46v46m1-38v38m1-50v50m1-53v53m1-41v7m0 1v33m1-50v50m1-55v55m1-54v54m1-57v57m1-57v51m1-47v53m1-49v49m1-53v53m1-48v48m1-51v51m1-62v62m1-59v59m1-61v57m1-60v64m1-53v53m1-58v20m0 2v2m0 2v32m1-60v49m1-44v46m1-48v39m1-25v33m1-58v49m1-31v4m0 1v33m1-44v29m1-51v47m1-56v64m1-74v68m1-58v61m1-46v1m0 1v42m1-60v43m0 1v29m1-64v60m1-38v46m1-57v47m1-56v66m1-73v69m1-51v44m1-47v27m1-26v39m1-36v37m1-35v34m1-27v32m1-27v36m1-41v25m1-30v40m1-34v34m1-33v7m0 1v35m1-55v55m1-40v36m1-55v55m1-59v47m1-45v50m1-50v56m1-62v52m1-42v42m1-31v40m1-57v43m1-32v35m1-47v48m1-42v46m1-49v33m1-35v43m1-44v46m1-39v34m1-36v48m1-45v38m1-31v33m1-37v28m1-26v32m1-35v27m1-36v45m1-39v42m1-59v62m1-55v58m1-43v46m1-63v53m1-35v45m1-39v40m1-48v52m1-64v57m1-55v61m1-54v53m1-48v41m1-51v54m1-70v62m1-34v37m1-60v62m1-52v59m1-50v32m1-12v27m1-54v54m1-60v56m1-53v59m1-56v58m1-51v45m1-51v44m1-33v44m1-52v51"/><path stroke="#25345E" d="M241.5 65v2m0 31v1m3-22v1m2-13v1m1 3v1m2 4v2m1-6v1m1 7v3m1-7v2m2-1v1m2 0v1m1-9v1m0 5v2m1-3v1m9 15v1m1-15v1m1-3v1m1 7v1m1-9v1m1 8v1m4-11v1m0 1v3m1 5v2m2-9v1m1 2v1m1 0v1m0 1v1m3 13v1m3-23v1m0 1v1m1 2v1m1-4v1m0 2v2m2-5v1m1-1v2m3-4v1m2-2v1m1-2v1m2 36v1m1-14v1m1-24v1m1-7v1m1-3v1m1-1v1m1-1v1m4-1v1m1-6v2m1 7v1m3 6v1m1-18v1m2-13v1m0 1v2m0 4v1m1-7v4m1-6v1m0 3v1m1 2v2m1 3v1m1-5v1m2 1v1m3 51v1m3-60v1m1-4v1m1 3v1m0 2v1m2 11v1m2-3v1m1-15v1m2-31v1m2 1v1m2-6v1m2 31v2m0 1v1m0 50v1m0 5v1m1-74v1m0 3v1m2-31v1m0 14v1m1 17v1m4 38v1m1 4v3m0 1v1m1-40v1m0 2v1m0 2v1m1-8v2m0 26v1m1 11v1m1-40v1m0 1v1m0 35v1m1-39v2m0 45v1m2-47v3m0 39v1m1-60v1m0 59v1m1-63v1m1 1v1m3 4v1m3-2v1m0 2v2m0 1v1m2-7v1m1 35v4m1-45v1m1-2v1m0 49v1m1-8v1m1-43v1m0 53v1m3-45v1m0 28v1m1-28v1m1-8v1m0 3v1m0 30v1m1-44v2m0 1v1m1 0v1m0 2v1m0 44v1m3-43v2m1-16v1m2 23v1m2-32v1m0 5v1m1 5v3m1 2v1m0 1v1m1 4v1m0 1v1m1-16v1m2 15v1m3-16v1m0 1v3m0 5v3m0 34v1m1-17v2m1-29v1m1-7v1m1-3v1m1 67v1m1-53v1m2-5v1m0 54v1m1-55v1"/></g><text class="t" x="224.8" y="93.5">10</text><text class="t" x="224.8" y="76.8">20</text><text class="t" x="224.8" y="60.1">30</text><text class="t" x="224.8" y="43.4">40</text><text class="t" x="224.8" y="26.7">50</text><text class="t" x="224.8" y="10.0">60</text><text class="t" x="263.9" y="121.0">10,000</text><text class="t" x="288.6" y="121.0">20,000</text><text class="t" x="313.2" y="121.0">30,000</text><text class="t" x="337.8" y="121.0">40,000</text><text class="t" x="362.4" y="121.0">50,000</text><text class="t" x="387.1" y="121.0">60,000</text><text class="t" x="411.7" y="121.0">70,000</text><text class="t" x="325.4" y="127.0" style="font-size:4.4px">Item number (5min average)</text><text class="t" transform="translate(220.8,58.6) rotate(-90)" style="font-size:4.5px">ug/m3</text><rect x="231.9" y="2.0" width="35.8" height="21.5" rx="0.6" fill="#EEEEF4" stroke="#F8F8FB" stroke-width="0.6"/><circle cx="238.7" cy="6.3" r="0.55" fill="#4C72B0"/><circle cx="238.7" cy="12.3" r="0.55" fill="#111"/><rect x="232.4" y="17.9" width="10.7" height="0.9" fill="#64B5CD"/><text x="246.2" y="7.7" style="font-size:3.95px;fill:#333">Train</text><text x="246.2" y="13.7" style="font-size:3.95px;fill:#333">Test</text><text x="246.2" y="19.8" style="font-size:3.95px;fill:#333">Predictions</text><text x="413.7" y="131.1" style="font-size:9px;text-anchor:middle;fill:#333">(b)</text><rect x="20.2" y="139.8" width="190.40" height="107.00" fill="#EAEAF2"/><clipPath id="cc"><rect x="20.2" y="139.8" width="190.40" height="107.00"/></clipPath><g clip-path="url(#cc)" fill="none" stroke-width="1"><path stroke="#A9B7DA" d="M27.5 196v1m0 1v1m0 9v1m1-17v2m1 0v1m0 28v1m1-24v3m0 27v2m1-30v1m0 4v1m0 1v1m1-13v1m0 2v1m0 32v1m1-26v1m0 1v1m0 23v1m0 5v1m1-37v1m2-3v1m0 1v1m1-7v1m0 10v2m0 1v1m2-2v1m0 3v1m2-1v1m0 1v2m1-6v1m0 5v1m0 1v1m1-14v2m0 1v2m0 2v1m1 0v1m0 1v1m1-11v2m0 6v2m1-12v1m1 14v1m1-18v1m0 6v2m1 2v1m0 8v1m1-16v1m1 4v1m0 3v2m0 3v1m1-10v1m1-2v2m0 1v1m2-6v1m1 2v3m1-13v1m2 11v1m1-9v1m0 3v1m1-5v1m0 4v1m0 2v1m2-11v1m0 1v1m1 8v1m1-10v2m1 6v1m0 15v1m1-22v4m1-2v2m1-2v1m2 5v1m2-7v1m1-5v1m0 1v1m1 7v1m1-7v3m1-7v1m1-3v1m0 1v1m0 2v1m1-5v1m0 3v1m0 13v1m1-19v1m0 10v2m1-5v1m1-9v2m0 4v1m1 1v1m1-3v1m0 2v1m0 3v1m1 17v1m1-32v1m0 8v2m1-10v1m0 27v1m1-34v1m0 1v1m0 5v2m0 1v1m1-1v1m1-14v3m0 2v1m0 2v1m0 1v1m1-11v1m0 19v1m1-18v1m0 3v2m1-6v1m1-11v1m0 7v2m1-14v1m0 2v2m0 2v2m0 1v2m0 3v1m0 2v1m1-12v1m0 2v1m0 37v1m1-39v1m0 3v1m0 1v1m0 4v1m1-11v1m0 6v1m0 3v1m1-18v2m1-2v1m0 1v1m0 2v1m1-9v1m0 6v1m0 8v2m1 25v1m1-43v3m0 26v1m1-51v1m0 12v1m0 2v1m0 2v1m0 37v1m1-29v2m1-14v4m0 5v1m0 4v1m0 1v1m0 30v1m0 2v1m1-55v2m0 2v1m0 1v1m0 2v1m0 2v1m0 39v1m1-55v1m0 3v1m0 1v1m0 3v1m0 4v1m2 35v1m0 2v1m1-58v1m0 5v1m0 9v1m0 10v1m1-16v1m0 2v1m0 3v1m0 1v2m0 5v1m1-21v1m0 49v2m1-49v1m0 6v1m0 1v1m1-6v1m0 2v1m0 2v2m0 1v1m0 1v1m0 19v1m1-55v2m0 3v1m0 3v1m0 2v1m0 4v1m0 40v1m0 1v3m0 2v1m0 1v1m1-60v1m0 3v1m0 5v1m0 2v2m0 1v1m0 16v1m1-21v2m0 2v1m1-23v1m0 5v1m0 1v1m0 1v1m0 3v1m0 46v1m1-59v1m0 8v1m0 16v1m1-18v1m1-2v4m0 1v2m0 1v1m0 2v1m0 37v2m1-48v1m0 3v1m0 2v1m0 31v1m0 3v1m0 2v1m1-38v1m0 27v1m1-42v1m0 1v1m0 1v1m0 2v1m0 32v1m0 3v1m1-48v1m0 1v3m0 39v1m0 1v1m1-64v1m0 8v3m0 2v1m0 8v1m0 40v1m1-42v1m0 37v2m1-55v1m0 4v2m1-23v3m0 50v4m1-60v2m0 1v1m0 50v1m0 3v1m0 5v1m0 3v1m1-79v1m0 1v1m0 1v1m0 2v1m0 4v2m0 6v1m0 36v1m1-41v1m0 2v1m0 1v1m1-6v1m0 40v1m0 7v1m1-53v1m0 1v1m0 7v1m0 5v1m0 1v1m0 46v1m0 2v1m1-62v1m0 1v1m0 36v1m0 12v1m0 2v1m1-48v1m0 2v2m0 49v1m0 3v1m0 4v2m0 2v1m1-70v1m0 43v2m0 1v1m1-53v1m0 5v1m0 2v1m0 14v2m0 1v1m0 2v1m0 34v1m1-84v1m0 8v2m0 1v1m0 10v1m0 9v1m0 39v1m0 2v1m0 2v1m1-54v1m0 2v1m0 6v1m0 26v1m0 3v1m1-41v1m1-5v1m0 2v1m0 1v2m0 5v1m0 28v1m0 1v1m1-36v1m0 32v1m0 7v2m1-43v1m1 5v1m0 5v1m0 31v1m0 2v1m1-39v1m0 4v1m0 1v1m0 1v1m0 25v2m1-49v1m0 5v1m0 1v1m0 4v1m0 22v1m0 11v1m1-44v1m0 6v2m0 27v1m0 2v2m1-37v1m0 31v1m0 1v1m1-26v2m0 32v2m1-57v1m0 14v1m0 36v1m0 5v1m1-46v1m0 35v2m0 2v2m1-56v1m0 3v1m0 2v1m0 1v2m0 41v1m0 5v1m0 1v1m1-68v2m0 3v1m0 3v1m0 36v2m1-37v2m0 1v1m0 34v2m0 6v1m1-51v1m0 3v1m0 40v1m0 6v1m0 1v1m1-60v2m0 8v1m0 32v3m0 2v1m0 4v1m1-46v1m0 5v1m0 2v3m0 29v1m0 3v1m1-42v1m0 11v1m0 18v1m0 3v1m0 1v3m0 4v1m1-54v1m0 2v1m0 6v1m0 29v1m1-37v1m0 37v2m1-62v1m0 8v1m0 4v1m0 1v1m0 2v1m0 37v2m0 1v3m0 1v1m1-50v1m0 5v1m0 37v2m1-44v1m0 2v3m0 1v1m0 27v4m1-41v1m0 5v2m1-10v1m0 2v1m0 36v1m0 5v1m1-35v1m0 5v1m0 36v1m1-50v1m0 37v1m0 2v1m1-36v1m0 28v1m1-22v1m0 28v1m0 2v1m1-8v1m1-34v1m0 37v1m1-39v2m0 27v2m1-25v1m0 27v1m0 2v1m0 3v1m1-50v1m0 3v1m0 41v1m1-60v1m0 1v1m0 10v1m0 41v1m0 2v2m0 3v1m1-58v1m0 8v1m0 3v1m0 34v2m0 1v1m0 5v1m0 2v1m0 6v1m1-67v2m0 6v1m0 1v1m0 40v1m0 3v2m0 2v1m1-62v2m0 2v1m0 50v1m0 2v1m1-47v1m0 2v1m0 1v2m0 39v1m0 5v1m1-45v1m0 4v1m0 28v1m0 4v1m0 1v1m1-45v1m0 3v1m0 1v1m0 43v1m0 2v1m1-43v1m0 1v1m0 27v1m1-59v1m0 2v1m0 11v2m0 2v2m0 43v2m0 1v2m1-59v2m0 3v1m0 1v1m0 46v1m0 2v2m1-65v1m0 10v1m0 1v1m0 34v2m0 2v1m0 5v1m1-33v1m0 30v1m0 2v1m1-66v1m0 2v1m0 40v1m0 6v1m0 2v3m0 3v2m1-68v1m0 2v1m0 2v1m0 6v1m0 1v1m0 37v1m0 1v1m0 4v1m1 2v1m1-58v1m0 2v1m0 9v1m0 1v1m0 2v3m0 45v1m1-59v1m0 14v1m0 31v1m0 6v1m0 4v1m0 1v1m1-69v1m0 13v1m0 47v2m1-61v1m0 11v1m0 1v1m0 1v1m0 12v1m0 21v1m0 3v1m0 5v1m1-57v1m0 22v1m0 18v1m0 8v2m1-69v1m0 8v1m0 2v2m0 4v1m0 51v1m0 2v2m1-64v1m0 1v1m0 5v1m0 1v1m0 1v1m0 38v2m1-51v1m0 5v1m0 5v2m0 38v1m0 1v1m0 1v1m1-40v1m0 1v1m0 28v3m0 1v1m0 3v1m1-52v2m0 6v2m0 34v1m1-33v1m0 1v2m0 25v3m0 2v1m0 4v1m0 1v1m0 1v2m1-54v2m0 27v1m0 10v2m0 7v1"/><path stroke="#4C72B0" d="M27.5 201v1m0 5v1m1-17v1m0 2v1m0 3v2m0 20v1m0 2v1m0 3v2m0 1v1m0 1v1m1-38v3m0 1v1m0 22v1m0 2v1m1-3v1m0 4v1m1-18v2m0 2v1m0 11v1m0 8v3m1-41v2m0 2v2m0 3v1m0 23v2m1-22v1m0 2v1m0 20v1m1-31v1m0 1v2m0 3v1m1-4v1m0 5v2m0 1v1m1-8v1m0 16v1m1-21v1m0 2v1m0 6v1m1 20v1m1-24v1m1-8v1m1-1v1m0 4v1m0 6v1m1-5v2m0 1v1m1-5v1m0 1v1m1 3v1m0 19v1m1-30v1m0 1v1m0 2v1m0 23v1m1-32v3m0 24v1m1-14v1m1-12v1m0 2v1m0 2v2m0 1v1m0 1v2m1-18v1m0 4v1m0 7v1m1-13v1m0 2v3m1 8v1m0 4v1m1-12v2m0 2v1m2 17v1m1-1v1m1-22v1m0 1v2m1-14v1m0 3v1m0 25v1m1-26v2m0 1v1m0 19v1m1-24v1m0 2v1m1-1v1m1-4v1m1 10v1m0 1v1m1-18v1m0 3v2m0 24v1m1-29v1m0 6v1m0 1v1m0 13v1m1-24v1m0 2v1m0 22v1m1-19v1m1-5v1m0 2v1m1-5v1m0 2v1m1-7v1m0 1v1m3 7v1m0 2v1m1-12v1m1-3v1m0 15v1m1-11v1m0 1v1m0 1v1m1-7v2m1-8v1m0 1v4m0 5v1m1-9v1m0 25v1m1-10v1m1-17v1m0 8v1m1-11v1m0 1v1m0 1v2m1-6v1m0 12v3m1-12v1m0 1v1m1-4v1m0 5v2m1-6v1m0 19v1m1-27v1m0 6v1m1 12v1m0 2v1m1-26v1m0 3v1m0 2v1m0 1v1m0 2v1m1-19v1m0 4v1m0 3v1m0 24v1m1-38v1m0 3v1m0 8v1m0 2v1m1-7v1m0 13v2m1-14v1m0 27v1m1-40v1m0 1v1m0 1v1m0 1v1m0 1v1m1-12v1m0 1v1m0 4v1m0 1v1m0 4v1m1-18v1m0 7v1m0 3v1m0 7v1m0 3v1m0 18v1m1-37v3m0 25v1m0 6v1m1-39v1m0 7v1m1-1v1m0 1v1m0 1v1m0 1v1m0 1v2m1-20v2m0 1v2m0 2v2m0 1v1m0 3v1m1-11v2m0 2v1m0 1v1m0 11v2m0 2v2m1-29v1m0 3v1m0 4v1m0 1v1m0 16v1m0 3v1m0 2v1m0 4v1m1-29v1m0 1v1m0 8v1m0 7v1m0 8v1m0 1v2m1-33v1m0 17v1m0 3v2m0 4v1m0 2v1m1-49v1m0 1v1m0 1v1m0 19v1m0 4v2m0 7v1m0 1v1m0 1v1m1-27v1m0 1v2m1-14v1m0 3v2m0 2v1m0 10v1m0 22v1m1-51v1m0 23v1m0 4v1m0 13v1m1-41v1m0 2v1m0 1v1m0 3v1m0 11v1m0 17v1m1-45v1m0 9v1m0 1v3m0 35v1m0 1v1m1-53v2m0 3v1m0 3v2m0 3v1m0 12v1m0 21v2m0 1v1m1-52v1m0 2v2m0 7v1m0 1v1m0 8v1m0 18v1m0 3v1m0 4v1m1-42v1m0 2v1m0 3v1m0 1v1m0 5v1m1-23v2m0 4v1m0 4v4m0 30v2m1-38v1m0 2v1m0 3v1m0 2v1m0 1v1m1-20v1m0 4v1m0 5v1m0 4v1m0 14v1m0 3v1m1-53v2m0 1v1m0 1v1m0 1v1m0 2v1m0 1v2m0 3v1m0 1v1m0 40v1m1-48v2m0 1v1m0 6v2m0 7v1m0 8v1m1-25v1m0 3v1m0 7v1m0 22v1m0 5v1m1-48v2m0 6v1m0 1v1m0 33v3m0 5v4m1-62v1m0 1v1m0 3v1m0 2v3m0 2v1m0 5v1m0 7v2m0 1v1m0 25v1m0 1v1m1-48v2m0 2v1m0 4v2m0 7v1m0 6v1m0 7v1m0 10v1m1-52v1m0 15v1m0 4v1m0 18v1m0 2v1m0 4v2m0 2v1m1-48v1m0 1v1m0 1v2m0 1v1m0 9v1m0 5v1m0 12v2m0 1v2m1-32v1m0 2v1m0 18v2m0 1v1m1-39v1m0 1v1m0 1v1m0 2v2m0 9v1m0 18v1m1-37v1m0 24v1m0 1v1m0 7v2m1-46v1m0 6v1m0 5v1m0 9v3m0 24v1m1-34v2m0 10v1m1-27v2m1-23v2m0 1v4m0 16v1m0 2v1m0 19v1m1-48v1m0 2v1m0 1v1m0 1v3m0 1v2m0 4v1m0 10v2m0 21v1m0 4v2m1-62v1m0 3v1m0 2v2m0 25v1m1-33v1m0 4v1m0 10v1m0 2v1m0 1v1m0 31v1m0 4v1m1-59v1m0 2v1m0 2v1m0 3v1m0 30v2m0 7v1m1-44v1m0 1v1m0 2v5m0 5v1m0 28v1m0 6v2m1-51v1m0 2v3m0 9v1m0 21v1m0 1v2m0 1v1m0 9v2m1-38v1m0 11v1m0 23v2m0 3v2m0 9v1m1-58v3m0 1v1m0 26v1m1-33v1m0 2v2m0 2v1m0 1v1m0 6v1m0 26v1m0 7v1m1-74v1m0 1v1m0 5v2m0 1v1m0 3v2m0 2v1m0 3v1m0 5v1m0 29v1m0 5v1m0 6v1m1-45v2m0 1v1m0 24v1m0 1v1m1-34v2m0 19v1m0 2v1m1-26v2m0 1v2m0 8v1m0 18v1m1-33v1m0 6v1m0 19v1m0 3v1m0 1v1m0 1v1m0 2v2m1-32v1m0 25v1m1-14v1m0 25v1m0 2v1m1-40v1m0 1v2m0 8v1m0 16v1m0 1v2m1-37v1m0 8v2m0 1v1m0 16v1m0 2v1m1-28v2m0 27v1m1-7v1m0 4v1m1-14v1m0 13v1m0 1v1m0 1v3m0 4v1m1-55v1m0 2v1m0 4v3m0 17v3m0 12v1m0 1v2m0 5v1m1-42v1m0 4v1m0 7v1m0 19v1m0 3v1m1-42v2m0 1v1m0 3v1m0 3v1m0 22v1m0 4v1m0 2v1m0 1v1m1-64v1m0 3v1m0 2v1m0 7v1m0 26v1m0 6v1m0 1v1m1-44v1m0 2v1m0 2v1m0 1v1m0 25v1m0 1v1m0 2v1m1-39v1m0 1v1m0 2v1m0 3v1m0 32v1m0 5v1m1-49v4m0 2v1m0 2v1m0 10v1m0 11v1m0 8v1m0 1v1m0 2v1m1-43v1m0 5v1m0 29v2m1-31v1m0 3v1m0 26v1m0 3v1m0 1v2m1-49v1m0 1v1m0 28v2m1-26v1m0 4v1m0 9v1m0 12v1m1-41v2m0 1v1m0 4v2m0 2v1m0 14v1m0 10v2m0 2v1m1-41v2m0 7v1m0 2v1m0 25v1m1-39v1m0 28v1m0 8v1m0 2v1m1-38v1m0 26v2m0 1v1m0 6v1m0 1v1m1-48v1m0 2v3m0 1v3m0 1v1m0 30v1m0 3v1m1-30v1m0 2v1m0 21v1m0 2v1m0 1v3m0 2v1m1-46v1m0 38v4m1-33v2m1-2v1m0 18v1m1-23v1m0 22v1m1-24v2m0 25v1m1-28v1m0 27v4m1-32v1m0 25v1m0 4v2m1-42v1m0 7v1m0 15v2m0 6v1m0 3v2m1-46v3m0 1v1m0 1v1m0 1v1m0 19v1m0 11v6m0 2v2m1-48v1m0 2v2m0 12v1m0 3v1m0 13v1m0 4v1m1-41v1m0 1v1m0 1v1m0 4v2m0 27v1m0 3v1m0 3v1m1-45v1m0 2v1m0 1v2m0 34v1m0 8v1m1-47v1m0 44v1m0 6v1m1-43v2m0 8v1m0 23v2m1-39v1m0 5v1m0 4v2m0 19v1m0 6v1m0 5v1m0 2v1m1-43v1m0 8v1m0 22v2m0 3v1m1-58v1m0 4v1m0 1v1m0 5v2m0 3v1m0 10v1m0 14v1m0 5v1m0 3v2m0 3v1m1-44v1m0 18v1m0 1v1m0 17v1m0 2v1m0 2v1m1-48v2m0 1v1m0 1v2m0 21v1m0 10v1m1-36v1m0 30v1m0 5v1m1-59v1m0 5v1m0 7v1m0 25v1m0 16v1m0 2v1m1-58v2m0 1v1m0 3v1m0 31v1m0 3v1m0 1v2m0 1v1m1-29v1m0 23v1m0 2v1m0 2v2m1-46v1m0 5v1m0 8v1m0 23v1m0 5v2m0 3v1m0 1v1m0 1v1m0 3v1m1-56v1m0 2v1m0 6v3m0 19v1m1-38v1m0 3v2m0 1v1m0 25v1m0 8v1m1-39v1m0 7v2m0 1v2m0 9v1m0 17v1m1-37v1m0 4v1m0 8v1m0 5v1m0 14v1m0 3v1m0 2v1m0 3v1m1-60v1m0 3v1m0 1v1m0 1v1m0 35v1m0 1v2m0 7v2m0 1v1m0 1v1m1-55v1m0 8v1m0 3v1m0 33v1m1-4v2m0 3v1m1-42v2m0 4v1m0 1v1m0 1v1m0 18v1m0 3v1m0 1v1m0 6v1m1-46v2m0 1v1m1 12v3m0 27v1m1-42v1m0 1v2m0 10v1m0 14v1m0 6v2"/><path stroke="#2A3F6E" d="M27.5 199v1m0 3v1m0 2v1m1-12v2m0 24v1m0 3v1m0 5v1m1-34v1m0 1v1m1 26v1m0 4v1m1-23v1m0 17v1m1-25v1m1 7v1m0 23v1m1-36v1m0 4v1m0 2v1m0 1v1m0 1v1m0 25v2m1-29v1m0 10v2m1-20v1m0 18v2m1-13v1m1-8v1m0 4v1m0 28v1m1-28v2m1-3v2m1-4v3m0 6v1m2-10v1m0 2v2m0 2v1m1 1v1m1-16v1m0 6v2m0 7v1m1-12v1m0 26v1m1-15v2m1-6v1m1-9v4m0 11v2m1 11v3m1-14v1m1-11v1m1-1v1m0 2v2m1-7v1m0 22v2m1-26v2m0 1v1m1 0v1m2-8v1m0 1v1m0 2v1m0 22v1m1-31v1m0 5v1m1-7v1m0 5v2m0 1v1m1-2v1m0 1v1m0 5v1m2-14v1m1 3v1m0 1v1m0 1v1m1-10v1m0 2v1m0 20v2m1-20v2m0 12v1m1-17v1m2-5v1m0 3v1m1-2v1m0 1v1m0 2v1m1 0v1m0 2v1m1-4v2m0 2v1m1-10v1m0 8v1m1-12v3m1 5v1m2-14v1m1 1v1m0 4v1m0 22v1m0 1v1m1-28v2m0 10v1m0 1v1m1-12v2m0 3v1m1-11v1m0 2v1m1-5v1m0 1v1m0 2v1m0 1v1m1 4v1m0 1v1m0 1v1m1-8v2m1-12v1m0 4v1m0 2v1m1-5v1m0 1v1m0 23v1m1-32v1m0 2v1m0 18v1m0 2v1m0 2v1m1-28v1m0 10v1m1-10v1m1-4v1m1-5v2m0 3v1m0 17v1m0 2v1m1-23v1m0 7v2m1-17v1m0 35v1m0 1v1m1-35v1m0 3v1m0 1v1m1-12v1m0 2v1m0 1v1m0 1v1m0 2v1m0 1v2m0 23v1m1-38v1m0 1v1m0 32v3m0 2v1m1-37v1m0 4v2m1 0v1m0 3v1m0 3v1m1-20v1m0 3v1m0 2v1m0 1v1m0 29v1m1-41v2m0 4v1m0 3v1m0 9v1m0 2v1m1-28v2m0 7v1m0 7v1m0 17v1m1-28v1m0 37v1m1-40v1m0 25v1m0 5v1m1-10v2m0 1v1m0 5v1m0 1v1m1-32v1m0 2v1m1-14v1m0 11v2m0 25v1m1-42v2m0 2v1m1-16v2m0 1v2m0 4v1m0 1v1m0 2v1m0 12v1m1-24v1m0 1v1m0 1v1m0 2v2m0 1v1m0 1v1m0 16v1m0 22v1m0 1v1m1-59v1m0 3v1m0 2v3m0 2v1m0 3v1m0 3v1m0 37v1m0 1v1m1-44v1m0 1v1m0 7v1m1-6v1m0 1v1m1-17v1m0 5v1m0 2v1m0 20v1m0 17v1m0 2v1m1-45v1m0 6v2m0 7v1m1-22v1m1-2v1m0 2v1m0 3v1m0 25v1m0 7v1m0 9v1m1-57v3m0 7v1m0 1v1m0 2v1m0 2v1m0 7v2m0 4v1m0 5v1m1-29v1m0 2v1m0 1v2m0 35v1m1-48v1m0 1v2m0 4v1m0 34v1m0 1v1m1-55v1m0 3v1m0 47v1m0 2v1m1-52v1m0 3v2m0 21v1m0 1v1m0 5v1m1-39v1m0 7v1m0 4v2m0 1v1m0 3v2m0 1v1m0 20v1m0 4v1m0 6v3m1-55v1m0 1v1m0 19v1m0 22v1m1-32v2m1-11v1m0 29v2m0 1v1m0 2v1m1-40v1m0 18v1m0 10v1m0 1v2m0 2v2m0 1v1m0 3v1m1-55v1m0 3v2m0 1v1m0 2v1m0 1v2m0 5v2m0 1v2m0 29v1m1-9v1m0 1v1m0 3v1m1-49v1m0 3v1m0 20v2m1-25v1m0 24v1m0 1v1m1-54v1m0 1v1m0 1v2m0 1v1m0 41v1m0 1v1m0 3v1m0 2v1m1-63v1m0 5v1m0 1v1m0 4v2m0 23v1m0 6v1m1-38v1m0 4v1m0 1v1m0 1v1m0 9v2m0 32v2m1-62v1m0 4v1m0 5v1m0 36v1m0 4v1m1 6v1m0 5v1m0 4v1m1-53v1m0 34v1m0 8v1m0 5v1m0 1v1m1-53v1m0 2v1m0 2v2m0 7v1m0 8v1m0 19v2m0 3v2m0 3v1m0 2v1m0 5v1m1-54v1m0 26v1m0 3v1m1-40v1m0 2v1m0 6v1m0 1v1m0 1v2m0 5v1m0 29v2m1-80v1m0 13v1m0 4v1m0 7v1m0 4v2m0 33v2m0 2v1m0 1v1m0 2v1m1-44v2m0 4v1m0 20v1m0 1v1m0 3v1m1-37v2m0 20v1m1 7v1m1-28v1m0 6v1m0 22v1m1-27v1m0 28v1m0 1v1m1-24v1m0 1v1m0 25v2m0 2v1m1-38v1m0 10v2m0 25v1m1-33v1m0 19v1m0 4v1m0 2v1m1-38v1m0 38v1m1-12v1m0 1v2m0 4v1m0 1v1m1-27v2m0 33v1m1-52v1m0 6v1m0 1v2m0 12v1m0 20v1m1-37v1m0 4v1m0 1v2m0 31v1m1-58v1m0 5v1m0 2v1m0 31v1m0 15v1m1-19v1m1-40v1m0 10v1m0 24v1m0 1v1m1-33v1m0 2v1m0 26v1m0 12v1m1-50v2m0 30v1m0 9v1m1-38v1m0 2v2m1 8v2m0 1v1m0 14v1m0 4v1m1-38v1m0 28v1m1-30v1m0 2v1m0 5v1m0 25v2m0 2v1m1-42v1m0 5v1m0 26v1m0 8v1m1-42v1m0 35v1m0 2v1m1-39v1m0 23v1m0 1v3m0 6v2m0 1v1m1-43v2m0 26v1m0 1v1m0 2v1m0 6v1m1-43v1m0 3v1m0 32v1m0 3v1m1-30v2m0 5v1m0 22v1m0 5v1m1-48v1m0 5v1m0 31v1m0 13v1m1-43v1m0 2v1m0 17v1m0 2v2m0 1v1m1-22v3m0 22v1m1-5v1m1-28v1m0 26v1m0 1v1m1-35v1m0 3v2m1 3v3m0 21v3m1-41v1m0 6v1m0 20v1m0 4v1m0 3v1m0 9v1m1-58v1m0 2v1m0 7v1m0 45v1m1-50v1m0 3v1m0 7v3m0 24v1m1-34v1m0 36v1m0 1v1m0 1v1m0 1v1m0 6v1m1-61v1m0 4v1m0 2v1m0 26v1m0 12v1m0 4v1m1-4v2m0 2v1m0 2v1m0 1v1m1-40v2m0 1v1m0 25v1m1-31v1m0 2v1m0 2v1m0 2v1m0 4v1m0 27v2m1-37v1m0 30v1m1-65v1m0 5v1m0 10v1m0 10v1m0 27v1m0 7v1m0 5v1m1-60v1m0 4v2m0 2v1m0 2v1m0 12v1m0 25v1m0 2v1m1-50v1m0 1v1m0 7v1m0 28v1m0 2v1m0 6v1m1-43v2m0 3v1m1-19v1m0 5v1m0 29v1m0 1v1m0 2v1m0 15v1m1-64v1m0 8v2m0 33v1m0 9v1m1-34v1m0 25v1m1-44v1m0 4v1m0 12v3m0 25v1m0 8v1m0 3v1m0 3v1m1-54v1m0 11v1m0 29v1m0 7v1m1-58v1m0 1v1m0 1v1m0 5v1m0 22v1m0 8v1m0 11v1m1-44v1m0 3v1m0 10v1m0 2v2m0 15v1m0 5v1m1-48v1m0 16v1m0 2v1m0 20v1m1-46v1m0 3v1m0 1v1m0 30v2m0 6v1m1-50v1m0 5v1m0 3v1m0 4v1m0 5v1m0 21v1m0 1v1m0 1v3m1-35v1m0 4v1m0 35v1m0 7v1m1-20v1m1-34v1m0 3v1m0 1v1m0 13v1m0 16v1m1-39v1m0 12v1m0 38v1m1-52v2m0 2v1m0 2v1m0 27v2m0 11v1"/><path stroke="#14141C" d="M27.5 200v1m0 1v1m1-2v6m0 1v10m0 1v1m0 2v1m0 3v1m0 2v1m1-29v6m0 1v12m0 1v1m1-17v2m0 1v9m0 1v5m0 1v3m1-13v1m0 2v8m0 1v1m0 2v7m0 3v1m1-35v2m0 1v3m0 1v1m0 1v12m0 1v2m0 1v1m1-18v1m0 1v8m0 1v10m1-24v1m0 3v6m0 1v18m0 2v2m1-32v1m0 2v1m0 2v1m0 1v4m0 3v1m0 1v15m1-37v5m0 1v7m0 1v4m0 2v2m0 1v8m0 1v1m0 1v3m1-29v4m0 1v2m0 1v6m0 1v14m1-33v1m0 1v13m0 1v3m0 1v7m0 1v1m0 3v1m1-26v3m0 2v1m0 1v1m0 1v1m0 1v6m0 1v8m1-32v1m0 2v29m1-30v1m0 2v1m0 3v1m0 1v8m0 1v12m1-21v7m0 1v13m1-22v5m0 1v7m0 1v8m1-20v1m0 1v1m0 1v4m0 1v10m1-21v1m0 1v10m0 1v8m1-32v1m0 5v20m0 1v1m0 1v4m1-17v1m0 1v1m0 1v2m0 2v9m1-30v1m0 1v2m0 5v1m0 4v11m0 2v2m1-26v6m0 1v1m0 3v3m0 2v7m0 1v3m1-27v22m0 3v2m1-21v1m0 2v2m0 1v1m0 1v7m0 1v5m1-23v2m0 1v20m1-25v2m0 2v1m0 1v5m0 1v2m0 1v10m1-29v1m0 1v13m0 1v8m0 4v1m1-27v1m0 1v22m0 1v2m1-23v1m0 2v6m0 1v4m0 2v6m1-32v3m0 1v10m0 2v13m0 1v3m1-25v13m0 1v2m0 1v2m0 1v1m0 1v1m0 1v1m1-24v8m0 1v8m0 1v4m0 1v1m1-24v21m0 1v2m1-23v4m0 2v1m0 1v3m0 1v11m1-19v1m0 1v1m0 1v3m0 1v9m0 1v1m1-30v1m0 2v11m0 1v2m0 1v7m0 4v1m1-21v3m0 1v9m0 1v7m1-36v1m0 2v1m0 2v1m0 3v5m0 2v2m0 1v1m0 1v4m0 1v1m0 2v1m0 2v3m1-24v1m0 1v10m0 2v5m0 1v4m1-25v1m0 1v6m0 1v7m0 1v1m0 1v6m1-27v1m0 2v3m0 1v8m0 1v11m1-27v6m0 1v20m1-30v1m0 3v1m0 2v15m0 1v7m1-22v2m0 1v2m0 1v16m1-24v1m0 3v1m0 2v2m0 2v1m0 1v10m1-26v8m0 1v1m0 1v3m0 1v6m0 1v1m0 1v3m1-27v10m0 1v1m0 1v8m0 3v1m0 1v1m1-19v1m0 1v8m0 1v4m0 1v3m1-25v22m0 1v2m1-32v1m0 4v5m0 1v21m1-29v1m0 1v6m0 1v15m0 3v2m1-28v10m0 3v2m0 1v12m1-19v9m0 1v1m0 1v7m1-24v5m0 1v2m0 2v4m0 1v9m1-27v1m0 1v4m0 1v3m0 3v14m1-25v1m0 1v2m0 1v1m0 1v1m0 1v13m0 1v2m1-25v1m0 5v4m0 1v14m1-27v1m0 2v1m0 1v17m0 2v3m1-23v7m0 1v2m0 1v1m0 1v6m0 1v1m0 1v1m1-33v1m0 1v12m0 1v5m0 1v1m0 6v5m1-36v1m0 10v1m0 2v1m0 2v7m0 1v4m0 1v6m1-31v1m0 1v1m0 1v2m0 1v8m0 2v7m0 1v1m0 1v4m1-30v1m0 2v1m0 1v12m0 1v12m1-37v3m0 1v1m0 2v4m0 1v4m0 1v2m0 4v1m0 1v12m1-32v2m0 2v1m0 2v8m0 1v5m0 1v6m0 1v1m0 1v1m1-36v1m0 1v1m0 1v10m0 1v15m0 3v3m1-43v1m0 6v1m0 2v1m0 1v1m0 1v9m0 1v13m0 1v2m0 1v2m1-32v1m0 2v2m0 1v3m0 1v11m0 1v3m0 2v1m0 1v1m0 1v1m1-37v19m0 1v1m0 1v2m0 2v1m0 1v1m0 6v2m1-32v1m0 1v4m0 1v16m0 1v4m0 1v3m1-25v1m0 1v2m0 1v9m0 1v10m1-40v1m0 6v1m0 2v2m0 2v2m0 1v4m0 1v14m0 1v1m0 1v1m1-39v1m0 5v9m0 4v1m0 2v8m0 1v8m1-41v1m0 2v1m0 1v1m0 3v1m0 1v7m0 1v4m0 1v3m0 2v1m0 1v4m0 1v5m1-33v1m0 1v7m0 2v7m0 1v7m0 2v1m1-42v5m0 1v5m0 1v6m0 1v7m0 1v2m0 1v1m0 1v1m0 2v2m0 1v1m0 1v2m0 1v3m1-49v1m0 1v2m0 1v5m0 1v5m0 1v4m0 1v4m0 2v3m0 2v1m0 4v1m0 4v6m1-32v13m0 1v16m0 1v1m1-43v1m0 2v1m0 5v1m0 1v5m0 1v17m0 1v2m0 4v2m1-52v1m0 4v1m0 2v10m0 1v1m0 1v1m0 1v4m0 1v4m0 1v8m0 1v1m0 1v3m0 1v4m1-45v1m0 3v1m0 1v5m0 1v3m0 1v1m0 1v7m0 3v5m0 1v1m0 1v9m1-58v1m0 3v1m0 1v1m0 3v1m0 7v12m0 1v21m0 4v2m1-50v1m0 1v1m0 3v2m0 2v5m0 1v5m0 1v13m0 2v5m1-45v1m0 2v4m0 6v1m0 1v2m0 5v18m0 2v2m0 2v1m0 1v1m0 1v3m1-35v1m0 2v2m0 1v4m0 1v21m0 2v1m1-50v3m0 2v1m0 1v2m0 4v7m0 1v5m0 3v3m0 1v6m0 1v3m1-30v1m0 1v2m0 1v1m0 2v4m0 1v6m0 1v10m0 1v6m1-48v1m0 15v10m0 1v2m0 1v2m0 2v2m0 1v6m0 1v4m1-47v2m0 1v10m0 1v1m0 1v12m0 2v5m0 10v1m1-49v1m0 8v1m0 2v3m0 1v1m0 1v1m0 3v2m0 2v2m0 1v2m0 1v5m0 1v12m1-43v1m0 2v2m0 2v15m0 1v5m0 1v3m0 1v1m0 1v3m0 1v4m1-54v1m0 2v1m0 3v1m0 1v1m0 1v22m0 1v1m0 1v6m1-42v1m0 3v2m0 1v3m0 1v1m0 1v3m0 1v1m0 1v1m0 4v9m0 1v2m0 1v8m0 1v2m0 2v1m0 1v2m1-48v1m0 2v4m0 2v2m0 1v4m0 3v1m0 1v2m0 1v2m0 2v3m0 1v8m0 1v1m0 1v2m0 1v2m1-43v1m0 7v3m0 1v9m0 1v4m0 5v1m1-33v4m0 1v4m0 2v1m0 1v2m0 1v12m1-22v10m0 2v5m1-26v9m0 1v16m1-32v7m0 1v10m0 1v4m0 1v1m0 1v3m0 1v1m1-28v4m0 2v1m0 5v1m0 1v1m0 1v2m0 1v3m0 1v13m1-39v6m0 2v2m0 1v3m0 2v2m0 1v10m0 1v3m0 1v1m0 1v1m1-43v1m0 2v10m0 1v3m0 1v4m1-37v1m0 2v10m0 3v2m0 1v19m0 2v1m1-40v1m0 2v2m0 1v1m0 1v5m0 1v4m0 2v16m0 1v1m0 2v1m0 3v1m1-53v1m0 5v2m0 1v2m0 1v4m0 1v11m0 4v3m1-37v1m0 3v1m0 4v1m0 1v1m0 1v1m0 1v2m0 1v1m0 3v10m0 1v14m0 1v3m0 2v1m1-54v1m0 2v1m0 2v2m0 1v5m0 1v24m0 6v1m1-30v1m0 1v2m0 1v6m0 1v2m0 1v18m0 1v4m0 1v1m1-42v8m0 1v13m0 1v7m0 7v6m1-35v1m0 2v3m0 2v5m0 1v1m0 2v7m0 1v10m0 9v1m0 4v1m0 10v1m1-62v1m0 2v20m0 1v4m0 3v1m1-41v1m0 1v1m0 4v1m0 2v2m0 15v5m0 1v4m0 1v1m0 1v5m0 1v2m0 1v5m1-57v1m0 7v1m0 1v1m0 5v1m0 1v3m0 1v6m0 1v6m0 1v9m0 3v2m1-31v20m0 1v1m1-27v1m0 1v6m0 1v8m1-19v1m0 3v7m0 1v3m0 1v6m0 1v2m0 1v1m0 1v2m0 1v1m1-31v4m0 1v1m0 1v8m0 1v8m0 1v1m0 1v1m1-20v10m0 1v9m0 1v2m1-19v1m0 1v2m0 1v1m0 1v13m0 1v6m0 2v1m1-33v1m0 3v1m0 5v1m0 2v15m0 1v1m0 2v1m1-37v3m0 1v3m0 3v1m0 1v8m0 1v5m0 3v2m1-25v3m0 1v5m0 1v15m1-31v9m0 1v1m0 1v14m1-12v5m0 1v2m0 1v10m0 1v1m0 1v1m0 3v1m1-45v1m0 8v5m0 1v6m0 4v3m0 1v8m0 1v1m0 6v1m1-39v2m0 3v1m0 2v1m0 1v1m0 1v7m0 1v11m0 1v1m1-37v1m0 1v3m0 2v2m0 1v17m0 1v4m0 1v4m0 1v1m1-55v1m0 2v2m0 1v4m0 1v5m0 1v8m0 1v11m1-23v3m0 1v11m0 1v7m1-27v1m0 1v1m0 1v3m0 1v2m0 1v1m0 1v2m0 1v12m0 1v2m0 1v3m0 5v1m1-42v1m0 1v2m0 1v10m0 1v2m0 1v4m0 1v1m0 1v1m0 1v1m0 1v2m0 7v1m1-31v6m0 1v18m0 3v1m1-23v4m0 1v8m0 2v2m0 1v1m0 1v1m1-37v3m0 1v5m0 1v4m0 2v11m0 7v1m1-33v2m0 1v2m0 4v3m0 1v4m0 1v6m0 1v2m0 1v2m1-35v3m0 3v1m0 1v14m0 3v6m1-30v5m0 1v2m0 1v14m0 1v9m1-30v21m1-20v1m0 1v14m0 1v3m0 1v1m0 5v5m1-32v21m0 1v4m1-19v1m0 2v3m0 1v4m0 2v6m0 1v2m0 2v1m0 2v1m1-39v1m0 1v2m0 1v9m0 1v16m0 4v1m1-25v3m0 1v3m0 1v2m0 1v4m0 1v2m1-15v3m0 1v10m0 1v1m0 1v5m0 1v1m1-25v11m0 1v4m0 1v1m1-22v5m0 1v14m0 1v2m1-25v11m0 1v7m0 1v4m0 2v1m1-22v7m0 1v12m1-39v1m0 2v1m0 3v1m0 2v2m0 2v3m0 1v10m0 3v4m0 3v1m1-34v15m0 1v3m0 1v2m0 1v8m1-20v3m0 1v6m0 2v5m0 1v4m0 2v2m1-32v18m0 1v7m0 1v3m0 1v1m1-40v1m0 4v9m0 1v1m0 1v1m0 1v3m0 1v6m0 1v9m0 1v2m0 1v2m1-34v1m0 1v25m0 1v3m0 1v1m0 2v1m0 3v1m0 1v1m1-33v2m0 1v9m0 1v10m0 1v1m0 3v1m1-26v4m0 1v13m0 1v6m0 1v2m0 1v2m1-29v3m0 1v11m0 1v6m1-33v1m0 1v7m0 2v3m0 1v2m0 1v7m0 1v3m0 1v1m0 2v1m1-49v1m0 12v4m0 1v6m0 1v1m0 1v4m0 1v1m0 1v9m0 1v6m0 2v1m0 2v1m1-39v2m0 1v18m0 1v4m1-28v1m0 1v4m0 2v6m0 2v5m0 1v8m0 1v3m0 1v1m0 1v1m0 1v1m1-60v1m0 4v4m0 1v1m0 2v25m0 15v1m1-45v4m0 2v1m0 1v16m0 1v6m1-21v2m0 1v14m0 1v1m0 1v1m0 1v3m0 2v1m0 2v1m0 4v1m1-37v1m0 4v2m0 1v9m0 2v2m0 1v6m0 2v2m0 4v2m0 2v1m1-41v1m0 5v6m0 1v11m0 1v1m0 1v6m1-44v1m0 5v1m0 1v2m0 1v19m0 2v1m0 1v5m0 2v10m1-36v5m0 1v1m0 3v1m0 2v11m0 1v2m1-41v1m0 1v3m0 2v1m0 1v1m0 1v3m0 1v1m0 1v1m0 4v2m0 2v13m0 2v1m0 1v1m1-42v1m0 1v4m0 1v25m0 3v1m0 2v2m0 1v2m0 1v1m0 2v1m1-44v1m0 2v2m0 1v2m0 1v9m0 1v8m0 1v2m0 1v1m0 1v1m1-31v1m0 1v2m0 1v6m0 1v2m0 1v5m0 1v1m0 1v3m0 1v1m0 1v4m1-25v9m0 1v8m0 1v2m1-36v1m0 7v1m0 1v7m0 1v5m0 1v6m0 1v7m1-18v4m0 1v10m0 2v1m0 7v1m0 3v1m1-39v9m0 1v8m0 1v3m0 1v1m0 1v2"/><path stroke="#2B3458" d="M27.5 204v2m1-6v1m0 6v1m0 10v1m1-12v1m0 12v1m1-4v1m1-5v1m0 2v1m0 8v1m1-15v1m0 1v1m0 12v1m0 2v1m1-7v1m1-4v1m1-11v1m0 2v1m0 11v1m0 1v1m1-9v1m0 17v1m0 1v1m1-19v1m0 6v1m1-4v1m0 3v1m0 7v1m0 3v1m1-22v2m0 1v1m0 1v1m0 1v1m0 6v1m2-5v1m1-2v1m1-4v1m0 7v1m1-9v1m0 4v1m1-18v1m0 7v1m0 10v1m1-20v2m1 8v1m0 2v1m0 1v1m0 2v2m1-10v1m0 13v2m0 2v1m1-13v2m0 7v1m2-3v1m2-15v1m0 5v1m0 2v1m1-4v1m0 11v1m2-13v1m0 4v2m0 6v1m1-19v2m1-14v1m0 18v1m0 2v1m0 6v1m1-24v1m0 8v1m0 8v1m0 4v1m1-2v1m1-17v1m0 2v1m0 3v1m1-1v1m0 9v1m1-15v1m0 2v1m0 7v2m0 1v1m1-17v1m1-10v1m0 5v2m0 2v1m0 1v1m0 4v1m0 5v1m1-2v1m1-13v1m0 7v1m0 1v1m1-20v1m0 4v1m0 8v1m1-10v1m1-5v1m0 16v1m1-10v1m1 1v2m0 1v1m0 10v1m1-17v1m0 3v1m0 6v1m0 1v1m1-14v1m0 10v3m0 1v1m1-19v1m0 1v1m0 8v1m0 4v1m1 0v1m2-19v1m2 10v1m0 1v1m1-12v1m0 2v2m0 4v1m1-12v1m1 17v1m1-13v1m1-9v1m1 6v1m0 2v1m0 1v1m0 8v1m1-18v1m1-2v1m0 7v1m0 4v1m1-19v1m0 8v2m0 7v1m1-22v1m0 14v1m1-19v1m0 4v1m0 10v1m1-15v1m0 11v1m0 5v1m0 6v1m1-19v1m0 16v1m1-16v1m0 13v1m0 2v1m1-9v1m0 3v1m0 4v1m1-17v1m0 1v1m0 2v1m0 2v1m1-17v1m0 16v1m0 4v1m1-18v1m0 9v1m1-22v1m0 3v2m0 2v1m0 4v1m0 16v1m1-35v1m0 26v1m1-15v1m1-2v1m1-5v1m1-18v1m0 5v1m0 5v1m0 24v1m1-12v1m0 16v1m1-32v1m0 27v1m1-30v1m0 1v1m0 11v1m0 10v1m1-32v1m0 11v1m0 7v3m0 7v1m1-32v1m1 5v1m0 19v2m0 11v1m1-53v1m0 14v1m0 2v1m0 2v1m0 20v1m0 3v1m0 1v1m1-28v1m0 7v1m0 21v2m1-29v1m0 5v1m0 1v1m0 3v1m0 6v1m0 9v1m1-25v1m0 6v1m0 10v1m1-27v1m0 10v1m0 9v1m0 6v1m1-30v1m0 1v1m0 13v1m1-16v1m0 10v1m0 8v1m1-25v1m0 15v1m0 9v1m1-11v1m0 1v1m1-26v1m0 7v1m0 3v1m0 10v1m0 2v1m1-34v1m0 3v1m0 15v1m0 9v1m0 12v1m0 4v1m1-40v1m0 3v1m0 5v1m0 9v1m1-19v1m0 7v1m1-8v1m0 10v2m2-20v1m1 8v1m0 1v1m0 2v1m0 3v1m1-16v1m0 3v2m0 13v1m1-34v1m0 10v1m0 3v1m1-32v2m0 10v1m1-8v1m0 7v1m1-14v1m0 2v1m0 4v1m0 13v2m0 3v1m1-26v1m0 19v1m0 14v1m0 4v1m1-39v1m0 26v1m1-15v1m0 2v1m1 5v1m1-8v1m0 8v1m0 7v1m1-3v1m1-1v1m0 4v1m0 1v1m0 5v1m1-35v1m0 2v1m0 3v1m0 6v1m0 6v1m2-21v1m0 6v1m1 4v1m0 6v1m0 2v1m1-10v1m0 10v1m1-9v1m0 9v1m1-13v1m2 8v1m1-12v1m0 5v1m1-7v1m0 1v1m1 10v1m0 18v1m1-32v1m0 13v1m1-13v1m0 9v1m1-18v1m1-7v1m0 8v1m0 14v1m1-24v1m0 11v1m1-13v1m0 2v1m0 1v1m0 2v1m0 15v1m0 3v1m0 1v1m1-21v1m0 4v1m0 5v1m1-15v1m0 18v1m1-16v1m0 8v1m1-21v1m0 4v2m1-8v1m0 1v1m0 3v1m0 11v1m0 2v1m1-10v2m0 6v1m1-8v1m1-22v1m1 0v1m0 1v1m0 14v1m1-19v1m0 22v1m1-16v1m0 6v1m0 4v2m0 6v1m0 2v1m1-30v1m0 9v1m0 16v2m1-19v1m0 3v1m0 2v1m1-5v1m0 12v1m1-7v1m1-11v1m0 14v1m1-12v1m0 7v1m1-8v1m1-21v1m0 1v1m0 4v1m0 3v1m1 2v1m0 6v1m0 14v1m1-17v2m1 0v1m1-13v1m0 1v1m0 1v1m0 3v1m1-11v1m0 25v1m1-7v1m1 18v1m1-24v1m0 11v1m1-18v1m0 4v1m0 2v1m0 14v1m0 1v1m0 3v1m1-53v1m0 15v1m0 8v1m0 16v1m1-25v1m1 1v1m0 7v2m0 5v1m0 12v1m1-44v1m1 1v2m0 1v1m0 16v1m1 2v1m0 1v1m0 1v1m0 6v1m0 2v1m1-26v1m0 9v2m0 2v1m0 10v2m1-22v1m0 13v1m1-28v1m0 22v1m1-14v1m0 18v1m1-33v1m0 1v1m0 5v1m0 1v1m0 7v1m1-30v1m0 12v1m0 36v1m1-22v1m0 8v1m1-24v1m0 9v1m0 2v1m0 5v1m0 1v1m0 3v1m0 1v1m1-12v1m1-8v1m0 12v1m1-7v1m0 10v2m1-4v1"/><path stroke="#64B5CD" stroke-opacity="0.65" d="M79.5 229v1m27 6v1m10 0v1m0 1v1m6-10v2m3-5v1m10-66v4m1 40v1m2 11v1m0 1v2m12-6v2m1-18v1"/><path stroke="#64B5CD" stroke-opacity="1.0" d="M27.5 199v9m1-15v40m1-36v27m1-23v31m1-18v27m1-42v33m1-19v27m1-34v37m1-30v30m1-34v34m1-32v32m1-32v32m1-28v28m1-28v28m1-28v28m1-23v23m1-28v28m1-23v23m1-28v28m1-29v29m1-18v18m1-27v27m1-30v30m1-29v29m1-26v26m1-23v23m1-24v24m1-24v24m1-28v28m1-24v24m1-28v28m1-28v28m1-29v29m1-29v29m1-28v28m1-17v17m1-30v30m1-27v27m1-27v27m1-22v22m1-27v27m1-24v24m1-25v25m1-26v26m1-19v19m1-22v22m1-26v26m1-27v27m1-22v22m1-26v26m1-29v29m1-26v26m1-25v11m0 1v13m1-27v27m1-27v27m1-29v29m1-23v23m1-25v25m1-28v28m1-29v29m1-31v31m1-32v32m1-34v34m1-36v36m1-35v35m1-31v31m1-36v36m1-37v37m1-38v38m1-38v38m1-37v37m1-33v33m1-39v39m1-38v38m1-40v40m1-33v33m1-43v43m1-46v46m1-35v35m1-43v36m0 1v6m1-48v48m1-47v47m1-49v49m1-49v49m1-46v46m1-42v42m1-46v46m1-41v41m1-44v44m1-53v47m0 1v1m0 1v3m1-51v51m1-43v43m1-52v52m1-55v55m1-50v50m1-57v44m0 2v11m1-52v43m1-30v22m1-37v38m0 1v1m1-43v47m1-55v53m1-40v38m1-49v27m1-47v55m1-58v64m1-71v53m1-43v58m1-59v52m1-45v62m1-59v37m0 1v17m1-46v54m1-53v39m0 1v1m1-50v63m1-70v66m1-52v41m1-39v26m1-27v37m1-33v34m1-34v33m1-26v31m1-25v33m1-38v27m1-32v38m1-32v25m0 2v4m1-24v2m0 1v31m1-52v52m1-38v35m1-53v52m1-56v45m1-43v48m1-48v54m1-60v55m1-45v40m1-30v38m1-52v40m1-41v43m1-45v46m1-43v47m1-47v32m1-34v41m1-42v44m1-32v29m1-36v46m1-43v29m1-21v30m1-31v22m1-26v32m1-33v33m1-26v27m1-43v46m1-56v59m1-52v55m1-56v58m1-59v55m1-49v54m1-43v40m1-42v49m1-43v37m1-54v60m1-59v58m1-51v45m1-40v40m1-59v60m1-66v59m1-32v35m1-57v66m1-57v55m1-46v45m1-52v46m1-43v48m1-57v60m1-57v47m1-44v55m1-48v42m1-48v42m1-31v42m1-50v49"/><path stroke="#25345E" d="M30.5 232v1m1-23v1m0 2v1m2-2v1m1-12v1m1 8v1m0 1v1m1-8v3m2-2v1m0 3v1m1 2v2m1-4v4m1-5v3m2-3v1m0 2v2m1 4v1m1-16v1m0 6v2m0 1v1m1-6v2m1 11v3m1-12v1m1-4v3m3 4v1m1-1v2m1-5v5m1-5v1m1 3v1m1-8v4m1-4v3m1-5v1m1-1v1m2 14v1m1-13v1m2-6v1m0 2v2m0 1v2m1 2v3m1-5v1m1 0v1m1-6v1m0 3v2m1-4v2m0 1v1m1 3v4m1-5v2m1-6v2m1-4v3m3-8v1m0 2v1m1-2v1m0 3v3m1-4v5m0 11v1m2-19v1m0 2v2m1-6v1m0 1v1m1 5v1m2-10v1m0 4v1m1-2v1m1-6v1m0 1v2m1-5v1m0 1v1m3-6v3m1 1v1m1-8v1m1-2v1m0 4v1m1-6v1m0 2v1m1-4v1m0 1v1m1 1v1m2-5v1m1-2v2m0 3v1m1-10v2m0 5v1m1 0v1m1-7v2m1-5v1m0 1v1m1 8v1m1-11v1m0 40v1m1-46v1m0 1v2m1-13v2m0 1v2m0 4v1m0 1v1m1-9v2m0 1v4m0 1v1m1-12v1m0 3v1m0 2v3m0 1v1m1-5v2m0 3v1m0 1v1m2-7v1m0 3v1m0 1v1m1 0v1m1-6v1m0 2v1m2-10v3m1 7v1m0 2v1m1-11v1m1-8v1m0 3v1m1-1v1m0 3v2m1-9v1m0 47v1m1-45v1m0 1v1m1 11v2m3 28v1m1-42v1m0 38v1m1-23v1m5-54v1m2 70v1m1-53v1m0 2v1m0 59v1m0 5v1m3-95v1m0 13v1m2 15v1m2 2v1m1 34v1m1 4v3m0 1v1m1-38v1m0 2v1m1-5v3m0 27v1m0 1v1m0 2v1m1 1v1m1-37v3m0 25v1m0 6v1m1-27v1m0 34v1m2-44v2m0 38v1m1-58v1m0 56v1m1-60v1m1 1v1m3 4v1m6 33v2m0 1v1m2-45v1m1 11v1m0 29v1m0 1v1m0 3v1m1-48v1m0 51v1m1-16v1m2-1v1m1-28v1m1-6v1m0 3v1m1 4v3m1-19v1m0 1v1m0 46v1m1-58v1m3 3v1m5-8v1m0 5v1m1 4v3m1 2v1m0 1v1m1 4v2m0 41v1m1 0v1m2-43v3m3-17v1m0 1v3m0 5v3m1 39v1m1-48v1m0 1v2m1-10v1m1-3v1m1 63v1m3-54v1m0 51v1m1-52v1"/></g><text class="t" x="13.6" y="228.0">10</text><text class="t" x="13.6" y="212.1">20</text><text class="t" x="13.6" y="196.2">30</text><text class="t" x="13.6" y="180.3">40</text><text class="t" x="13.6" y="164.4">50</text><text class="t" x="13.6" y="148.5">60</text><text class="t" x="53.0" y="254.8">10,000</text><text class="t" x="78.1" y="254.8">20,000</text><text class="t" x="103.2" y="254.8">30,000</text><text class="t" x="128.3" y="254.8">40,000</text><text class="t" x="153.4" y="254.8">50,000</text><text class="t" x="178.5" y="254.8">60,000</text><text class="t" x="203.6" y="254.8">70,000</text><text class="t" x="115.4" y="259.7" style="font-size:4.65px">Item number (5min average)</text><text class="t" transform="translate(9.3,194.6) rotate(-90)" style="font-size:4.4px">ug/m3</text><rect x="21.2" y="140.8" width="36.6" height="18.1" rx="0.6" fill="#EEEEF4" stroke="#F8F8FB" stroke-width="0.6"/><circle cx="27.8" cy="144.6" r="0.55" fill="#4C72B0"/><circle cx="27.8" cy="150.2" r="0.55" fill="#111"/><rect x="23.5" y="155.4" width="8.7" height="0.9" fill="#64B5CD"/><text x="35.8" y="146.1" style="font-size:4.1px;fill:#333">Train</text><text x="35.8" y="151.7" style="font-size:4.1px;fill:#333">Test</text><text x="35.8" y="157.3" style="font-size:4.1px;fill:#333">Predictions</text><text x="204.5" y="271.1" style="font-size:9px;text-anchor:middle;fill:#333;stroke:#333;stroke-width:0.3">(c)</text><rect x="235.6" y="140.0" width="186.40" height="105.30" fill="#EAEAF2"/><clipPath id="cd"><rect x="235.6" y="140.0" width="186.40" height="105.30"/></clipPath><g clip-path="url(#cd)" fill="none" stroke-width="1"><path stroke="#A9B7DA" d="M244.5 193v1m0 5v1m0 28v1m1 0v2m1-32v2m0 5v1m1-11v1m0 41v1m1-32v1m0 25v1m0 5v1m1-37v1m2-7v1m0 3v1m0 1v1m1 11v1m2-6v1m0 3v1m2 2v1m1-6v1m0 5v1m1-12v2m0 1v2m0 2v1m1 0v1m0 1v1m1-11v2m0 6v2m1-12v1m0 30v1m1-11v1m1-24v1m0 6v2m1 2v1m1-7v1m0 1v1m0 1v1m1 1v1m0 2v2m1-4v1m1-4v1m0 2v1m1-6v1m1 2v3m1-4v2m1-11v1m0 34v1m1-29v1m0 4v1m2-5v3m0 1v1m2-11v1m0 3v1m0 1v2m1-6v1m0 5v1m1-6v1m0 1v1m0 3v1m1 7v1m1-13v4m2-2v1m2 4v2m2-7v1m1-5v1m0 1v1m1 7v1m1-7v1m2-7v3m0 2v1m1-5v1m0 3v1m0 9v1m1-5v1m0 1v1m1-7v1m1-7v1m0 5v1m1 1v2m0 1v1m2 19v1m1-31v1m0 4v1m1-11v1m0 1v1m0 6v1m0 20v1m1-31v1m0 5v1m0 4v2m1-15v1m0 1v1m0 1v3m0 3v1m1-10v1m0 4v1m0 1v1m1-8v1m0 38v1m1-39v1m1-10v1m0 7v2m1-14v1m0 2v2m0 2v1m0 3v1m0 3v1m0 9v1m1-18v1m0 1v1m0 37v1m1-39v1m1 0v1m0 6v1m1-14v2m0 8v1m0 1v1m0 29v1m1-39v1m0 2v1m0 2v1m0 15v1m1-29v1m0 3v1m0 33v1m1 9v1m1-49v2m1-9v1m0 1v1m0 1v1m0 23v1m1-42v1m0 21v1m0 7v1m1-15v4m0 5v1m0 5v1m0 30v1m0 2v1m1-54v1m0 1v1m0 1v1m0 1v1m0 2v1m0 2v1m1-15v1m0 3v1m0 1v1m0 3v1m0 4v1m1 1v1m1-20v1m0 55v1m0 1v1m1-59v1m0 4v1m0 13v1m0 9v1m1-19v1m0 2v1m0 3v1m0 1v2m0 5v1m1-21v1m0 51v1m1-50v1m0 6v1m0 3v1m1-8v1m0 5v2m0 3v1m0 16v1m1-46v3m0 2v2m0 1v1m0 2v1m0 41v1m0 7v1m0 1v1m1-62v1m0 3v2m0 2v1m0 5v1m0 1v1m0 16v1m1-38v1m0 6v1m0 9v1m0 38v2m0 2v1m1-59v1m0 57v1m1-44v1m1-7v1m0 5v1m0 7v1m0 1v1m0 6v1m1-25v4m0 1v2m0 1v1m0 2v1m0 29v2m1-39v2m0 1v1m0 1v1m0 36v1m0 2v1m1-51v1m0 1v1m0 4v1m0 29v1m0 3v1m1-30v1m0 28v1m0 1v2m1-65v1m0 10v1m0 3v1m0 5v1m0 27v1m0 2v1m0 1v2m0 1v1m0 2v1m1 3v1m1-52v1m0 9v1m0 28v1m1-54v1m0 2v1m0 36v1m0 2v1m1-49v3m0 4v2m0 3v1m0 1v1m0 41v1m0 2v1m0 3v1m1-78v1m0 2v1m0 5v2m0 1v1m0 5v1m0 44v1m0 2v1m0 1v1m0 1v1m1-69v1m0 4v1m0 2v2m0 1v1m0 5v1m1 8v1m0 41v1m1-59v1m0 3v1m0 57v1m0 6v1m1-63v3m0 56v1m1-50v1m0 1v1m0 1v1m0 41v1m0 6v1m0 3v1m0 4v2m0 1v1m1-69v1m0 4v2m0 33v1m0 1v1m0 5v1m1-54v1m0 9v1m0 6v1m0 1v1m0 1v1m0 43v1m1-83v1m0 4v2m0 1v1m0 2v1m0 5v1m0 5v1m0 48v1m0 2v1m0 2v1m1-52v1m0 2v1m0 34v1m1-41v2m0 24v1m1-30v1m0 2v1m0 1v2m0 1v1m0 30v3m0 1v1m1-37v2m0 40v2m1-42v1m0 5v2m1-3v1m0 5v1m0 31v1m0 2v1m1-34v1m0 2v1m0 1v1m0 24v2m1-48v1m0 4v1m0 1v1m0 9v1m0 24v1m0 4v1m1-43v1m0 2v1m0 31v1m0 3v1m1-9v1m1-27v2m0 10v2m0 27v2m1-56v1m0 8v1m0 1v1m0 3v1m0 33v1m0 1v2m0 4v1m1-48v1m0 1v1m1-23v1m0 2v1m0 2v1m0 53v1m0 5v2m1-57v1m0 36v1m0 1v1m0 7v1m1-48v2m1-8v1m0 2v2m0 47v2m0 1v1m0 1v1m1-60v1m0 3v1m0 2v1m0 5v1m0 31v1m0 2v2m0 3v1m1-46v1m0 5v1m0 2v1m0 1v1m0 27v1m0 1v1m1-40v1m0 2v4m0 1v1m0 24v1m0 3v1m0 1v3m0 4v1m1-53v1m0 1v1m0 29v2m0 1v1m1-54v1m0 8v1m0 4v3m0 8v1m0 34v1m1-46v1m0 40v6m0 1v1m1-40v1m0 1v1m0 29v1m1-40v2m1-5v1m0 5v2m0 30v1m0 3v1m0 4v1m1-50v1m0 3v1m0 6v1m0 13v1m0 27v1m0 1v1m1-13v1m0 4v1m1-43v1m0 3v1m0 36v3m1-38v1m0 7v1m0 28v1m0 2v1m1-37v1m0 2v1m0 25v1m1-34v1m0 2v1m0 2v1m0 19v1m0 3v1m1-28v1m0 2v1m0 31v1m1-38v1m0 28v2m0 1v1m0 7v1m1-46v1m0 28v2m0 7v1m0 2v1m1-58v1m0 1v1m0 6v2m0 43v1m0 2v1m0 4v1m1-58v1m0 3v2m0 1v1m0 1v1m0 1v1m0 1v1m0 35v1m0 1v1m0 5v1m0 2v1m0 6v1m1-63v4m0 2v1m0 3v1m0 32v1m0 3v1m0 3v2m0 2v1m1-62v2m0 3v1m0 1v2m0 46v1m0 2v1m1-46v1m0 5v1m0 44v1m1-45v2m0 32v1m0 3v1m0 4v1m1-47v3m0 1v1m0 1v2m0 4v1m0 37v1m0 2v1m1-43v1m0 29v1m1-58v1m0 1v3m0 9v3m0 4v1m0 41v2m0 1v2m1-57v1m0 2v1m0 1v1m0 46v1m0 2v2m1-65v1m0 12v3m0 29v1m0 2v1m0 1v1m0 1v1m0 5v1m1-38v1m0 38v1m1-66v1m0 1v2m0 2v1m0 37v1m0 3v1m1-54v1m0 1v1m0 2v1m0 4v4m0 3v1m0 39v1m0 3v1m1-56v1m0 1v1m0 2v1m0 9v1m0 1v1m0 1v1m0 31v1m0 4v1m1-47v1m0 1v1m0 6v1m0 2v1m0 2v1m0 39v1m1-66v1m0 7v1m0 3v1m0 4v1m0 30v1m0 17v1m1-53v1m0 2v1m0 17v1m0 26v2m1-61v1m0 51v1m0 5v2m0 1v1m1-62v1m0 2v1m0 1v3m0 39v1m0 4v1m0 3v1m0 2v1m1-71v1m0 9v2m0 7v1m0 50v1m0 2v2m1-62v1m0 6v1m0 1v1m0 35v1m0 5v1m0 1v1m1-41v1m0 6v1m0 31v3m0 1v1m1-43v1m0 2v1m0 1v1m0 29v1m0 2v1m0 3v1m1-52v1m0 1v1m0 2v1m0 2v2m0 31v3m0 2v1m0 3v1m0 2v1m0 1v2m1-54v1m0 39v1m0 6v1m1-46v1m0 2v4m0 3v1m0 1v1m0 1v1m0 4v1m0 1v2m0 5v1m0 6v1m0 3v1"/><path stroke="#4C72B0" d="M243.5 190v1m0 1v2m0 3v1m0 20v2m0 2v1m0 3v2m0 1v1m0 1v1m1-38v3m0 1v1m0 22v1m0 2v1m1-3v1m0 4v1m1-27v1m0 24v1m0 8v2m1-40v3m0 1v2m0 3v1m0 9v1m0 18v1m1-26v1m0 23v1m1-31v1m0 1v2m0 3v1m1-4v1m0 5v1m1-5v1m1-1v1m0 2v1m0 3v1m0 19v1m1-9v1m0 3v1m0 4v1m1-24v1m1-8v1m1 10v1m0 1v3m1-8v2m0 1v1m0 21v1m1-27v1m0 1v1m0 3v1m1-1v1m1-10v1m0 1v1m0 2v1m0 14v1m0 4v1m1-28v1m0 1v2m1 9v1m0 1v1m0 2v1m1-13v1m0 2v2m0 1v1m0 1v2m1-18v1m0 6v1m1-3v2m1 6v3m1-11v1m2 12v1m2-10v1m0 1v1m0 1v1m1-14v2m0 26v1m1-24v1m1 4v1m1-12v1m0 8v1m0 1v2m0 18v1m1-20v3m1-9v2m0 3v1m1-9v1m0 3v1m0 1v1m1-10v1m0 26v1m0 2v3m2-25v1m1-3v2m0 2v1m1-7v1m0 1v2m1 6v1m0 19v1m2-21v1m0 2v1m1-12v1m1-3v1m0 15v2m1-12v1m0 1v2m1-7v3m1-9v2m0 1v2m1 0v1m0 24v1m1-26v1m0 5v1m0 2v1m0 12v1m1-18v1m0 1v1m0 1v1m1-9v1m0 1v2m0 9v1m1-17v1m0 15v1m1-7v3m1-11v1m0 3v1m1-7v1m0 4v2m0 22v2m2-33v1m0 1v1m0 22v1m0 1v1m1-25v1m1-9v1m0 7v2m1-13v1m0 12v2m0 1v1m1-7v1m0 28v1m1-37v2m0 3v1m1-12v1m0 1v1m0 6v1m0 4v1m1-17v1m0 6v1m0 3v1m1-6v4m0 3v1m0 1v1m0 16v1m0 8v1m1-39v1m0 4v1m0 1v1m0 8v1m0 20v1m1-30v1m0 1v1m0 1v2m0 2v1m1-19v2m0 1v2m0 2v1m0 1v1m0 1v1m0 3v1m1-15v1m0 2v1m0 1v1m0 3v1m0 9v1m0 4v1m0 1v1m1-29v1m0 2v1m0 2v1m0 5v1m0 20v1m0 2v2m1-26v1m0 1v1m0 27v1m1-41v1m0 3v1m0 4v1m0 27v1m0 3v1m1-49v2m0 1v1m0 15v1m0 1v1m0 3v2m0 1v2m0 8v2m0 1v1m1-32v1m0 5v1m0 2v1m1-15v1m0 3v2m0 3v1m0 11v1m0 18v1m1-49v1m0 10v1m0 18v1m0 13v1m1-51v1m0 8v1m0 2v1m0 1v1m0 14v1m0 18v1m1-46v1m0 9v1m0 3v1m0 38v1m1-53v3m0 2v1m0 2v1m0 1v1m0 3v1m0 12v1m0 9v1m0 10v3m1-50v2m0 1v3m0 2v1m0 2v1m0 6v1m0 23v1m0 8v1m1-42v1m0 2v1m0 3v1m0 1v1m0 5v1m1-23v2m0 2v1m0 1v1m0 4v1m0 1v2m0 26v1m0 4v1m0 1v1m1-40v2m0 5v1m0 2v1m0 1v1m1-15v2m0 4v2m0 3v2m1-37v1m0 1v3m0 3v2m0 2v1m0 1v2m0 3v2m0 2v1m0 32v1m1-41v4m0 5v2m0 7v1m0 8v1m0 4v1m0 15v1m1-46v1m0 1v1m0 3v1m0 28v2m0 6v1m0 2v2m1-60v1m0 1v1m0 2v1m0 44v3m0 5v4m1-53v1m0 1v2m0 1v1m0 13v1m0 28v1m0 1v1m1-49v2m0 1v1m0 13v1m1-24v1m0 21v1m1-16v1m0 1v1m0 1v2m0 6v1m0 19v1m0 1v2m0 1v2m1-45v1m0 1v1m0 1v1m0 2v2m0 9v1m0 16v1m0 2v1m1-27v1m0 24v1m1-49v1m0 3v1m0 5v1m0 16v1m0 12v1m0 2v1m1-23v1m0 19v1m1-31v2m0 25v1m0 1v1m1-51v1m0 6v1m0 6v1m0 2v1m0 23v1m0 2v1m1-52v1m0 3v1m0 1v2m0 3v1m0 31v1m0 6v1m0 1v1m0 1v1m0 3v1m1-51v1m0 35v1m0 7v1m1-54v1m0 31v1m0 3v1m0 2v1m0 6v1m0 3v1m0 5v1m0 1v1m1-27v1m0 2v1m0 17v1m1-52v1m0 2v3m0 33v1m0 2v1m0 1v2m0 3v1m0 3v2m0 1v2m1-50v1m0 1v2m0 5v1m0 28v1m0 1v2m0 2v1m1-31v1m0 4v1m0 18v1m0 13v1m0 3v1m0 10v1m1-53v1m0 1v1m0 25v1m0 1v1m0 1v1m1-34v2m0 1v1m0 5v1m0 36v1m1-72v1m0 1v1m0 6v1m0 3v2m0 4v1m0 5v1m0 1v1m0 26v1m0 2v1m0 5v1m0 6v1m1-45v2m0 1v1m0 24v3m0 2v1m1-38v1m0 22v1m1-24v1m0 2v2m0 8v1m0 15v2m1-23v2m0 24v2m0 2v2m1-6v1m1 12v1m0 2v1m1-40v1m0 1v2m0 8v1m0 16v1m0 1v2m1-37v1m0 3v1m0 1v1m0 3v1m0 1v1m0 14v1m0 4v1m1-29v3m0 26v2m1-10v1m1-13v1m0 16v1m0 3v1m0 1v1m0 1v3m0 4v1m1-55v1m0 3v1m0 3v1m0 1v1m0 3v2m0 12v2m1-19v1m0 2v3m0 26v3m1-57v1m0 9v1m0 1v1m0 1v1m0 3v1m0 2v1m0 30v1m0 2v1m0 1v1m0 2v1m0 1v1m1-59v1m0 2v2m0 2v2m0 1v2m0 27v1m0 2v1m0 1v1m0 1v1m1-39v4m0 20v1m1-28v1m0 1v1m0 1v1m0 3v1m0 32v1m1-41v2m0 2v1m0 31v1m0 2v1m1-38v1m0 5v1m0 1v1m0 21v1m0 5v1m1-28v1m0 28v1m0 3v1m0 1v2m1-49v1m0 26v2m0 2v1m1-36v2m0 1v1m0 3v1m0 2v2m0 27v1m0 2v1m1-42v2m0 10v1m0 23v2m1-31v1m0 33v1m1-41v1m0 1v1m0 1v1m0 1v1m0 26v1m0 6v1m0 1v1m1-40v1m0 34v1m0 2v1m1-46v1m0 3v1m0 1v2m0 2v1m0 1v1m0 2v1m0 7v1m0 20v1m0 1v3m0 2v1m1-45v1m0 2v1m0 2v1m0 28v1m0 3v3m1-21v1m0 3v2m0 5v1m1-24v1m1 1v1m1-5v1m0 2v1m0 15v1m1-17v1m0 2v1m0 21v3m1-32v3m0 28v2m1-44v1m0 30v1m0 3v1m0 1v1m1-43v1m0 2v1m0 1v1m0 1v1m0 1v1m0 21v1m0 7v1m0 3v1m0 3v2m0 1v1m1-46v1m0 11v1m0 4v1m0 18v1m0 3v1m1-47v1m0 1v1m0 4v1m0 4v1m0 2v1m0 2v1m0 29v1m0 2v1m1-43v2m0 15v1m0 27v1m1-47v1m0 3v1m0 1v1m0 30v2m0 3v1m0 5v1m0 3v1m1-42v2m0 7v1m0 19v1m0 4v1m1-27v1m0 25v1m0 5v2m0 2v1m1-43v1m0 5v1m0 2v1m0 22v2m0 3v1m1-53v1m0 1v1m0 6v3m0 3v1m0 9v1m0 16v1m0 6v2m0 3v1m1-56v1m0 11v1m0 20v1m0 17v1m0 2v1m0 2v1m1-46v2m0 1v2m0 26v1m0 5v1m1-38v1m0 7v4m0 29v1m1-22v2m1-34v1m0 12v1m0 23v6m0 1v2m1-38v1m0 31v1m0 6v1m1-33v1m0 3v1m0 24v1m0 2v1m0 4v1m0 1v1m0 5v1m1-56v1m0 2v1m0 3v1m0 24v1m0 3v1m0 1v1m1-39v1m0 1v2m0 6v2m0 11v1m0 13v1m0 4v1m1-45v1m0 1v1m0 6v1m0 11v1m0 1v1m0 23v1m1-48v1m0 1v2m0 1v2m0 13v1m1-27v1m0 3v1m0 2v2m0 4v1m0 7v1m0 31v2m0 1v1m0 1v1m1-47v1m0 1v1m0 27v2m0 4v2m1-28v2m0 23v2m1-37v1m0 5v1m0 1v1m0 1v1m0 24v1m0 2v1m0 3v1m1-47v2m0 2v1m0 40v1m1-37v3m0 30v2m0 1v1m0 3v1m1-37v1m0 1v1m0 10v3m0 2v1m0 1v1m0 2v1"/><path stroke="#2A3F6E" d="M243.5 194v2m0 2v1m0 1v1m0 19v1m0 3v1m0 5v1m1-34v1m1 9v1m0 18v1m0 4v1m1-28v1m0 4v1m0 17v1m0 6v1m0 2v1m1-35v1m0 30v1m1-24v1m0 1v1m0 21v1m1-36v1m0 4v1m0 2v1m0 1v1m0 1v1m0 25v2m1-29v1m0 10v2m1-20v1m0 18v2m1-11v1m1-10v1m0 33v1m1-28v2m1-5v1m0 1v1m1 6v1m0 1v1m1-1v1m1-12v1m0 2v2m0 2v1m1 1v1m1-16v1m0 6v2m0 7v1m1-12v1m2 4v1m0 3v1m1-9v3m0 27v1m1-24v1m2-1v1m0 1v1m0 20v1m1-23v1m2-1v1m1-2v1m0 3v1m1 16v1m1-30v1m0 5v1m0 23v1m1-24v1m0 4v1m1-13v1m0 5v1m0 2v1m1-2v1m0 1v1m1-4v1m1-5v2m0 2v1m1-3v1m0 21v2m2-23v1m0 1v1m2-7v1m1 2v1m0 1v1m0 2v1m1 0v1m1-1v2m0 2v1m1-10v1m0 8v1m1-12v3m3-8v1m0 6v2m1-7v1m0 2v1m0 1v1m0 22v1m0 1v1m1-24v2m1-5v2m1-6v3m1 3v2m0 13v1m1-14v1m0 1v1m1-5v2m1-9v1m0 3v1m0 2v1m0 23v1m1-33v1m0 2v1m1-3v1m0 4v1m0 18v1m1-23v1m1-3v1m1 3v1m1-10v2m0 3v1m0 28v1m1-37v1m0 14v1m0 15v1m1-28v1m0 2v2m0 25v1m1-37v1m0 2v1m0 1v1m0 1v1m0 2v6m1-16v1m0 1v1m0 30v1m0 1v1m0 1v1m1-34v1m0 3v1m0 2v1m1-1v1m0 3v1m1-16v1m0 3v1m0 5v1m0 1v1m0 1v1m0 1v2m0 21v1m1-33v1m0 13v1m0 5v1m1-33v2m0 2v1m0 1v1m0 4v1m0 3v1m0 1v1m0 22v1m1-33v1m1-7v1m0 4v1m0 25v1m0 5v1m0 3v1m1-27v1m0 3v1m0 8v1m0 8v1m0 1v1m1-40v1m0 5v1m0 2v2m0 1v1m1-15v1m0 7v2m0 2v2m0 29v1m0 3v1m1-50v2m0 2v1m0 5v1m1-19v2m0 4v1m0 1v1m1-7v3m0 1v2m0 4v2m0 16v1m0 22v1m0 1v1m1-58v1m0 2v1m0 4v1m0 2v1m0 3v1m0 3v1m0 36v1m0 2v1m1-46v1m0 2v1m0 1v1m0 2v1m0 3v2m1-7v1m0 1v1m1-17v1m0 8v1m0 20v1m0 9v1m0 2v2m0 5v1m0 1v1m1-46v1m0 7v1m0 2v1m0 4v1m1-21v1m1-3v1m0 3v1m0 28v3m0 1v2m0 4v1m0 2v3m0 1v1m1-54v1m0 7v1m0 1v1m0 2v1m0 2v1m0 1v1m0 3v1m0 2v1m0 4v1m1-18v1m1-20v1m0 4v1m0 46v1m0 1v1m1-41v1m0 9v1m0 27v1m0 2v1m1-52v1m0 3v2m0 5v1m0 3v1m0 4v1m0 7v1m1-32v1m0 7v1m0 7v1m0 3v2m0 1v1m1-20v1m0 2v1m0 33v1m0 7v1m2-7v1m0 5v1m1-54v1m0 2v2m0 1v1m0 2v2m0 23v1m1-7v1m0 21v1m0 1v1m1-46v1m0 30v1m1-39v1m1-23v1m0 11v1m0 36v2m0 2v1m0 1v1m0 2v1m1-63v1m0 6v4m0 1v2m0 37v1m0 1v1m0 1v1m0 1v1m1-51v1m0 1v1m0 4v1m0 21v1m0 16v1m0 2v2m0 1v2m1-38v3m0 33v4m1-61v1m0 12v2m0 28v1m0 11v1m0 4v1m0 9v1m1-22v1m0 8v2m0 5v1m1-48v1m0 11v1m0 24v1m0 11v1m0 4v1m0 2v1m0 5v1m1-61v1m0 33v1m0 6v1m1-46v1m0 2v1m0 13v1m0 36v2m1-80v1m0 13v1m0 2v1m0 2v1m0 3v1m0 4v1m0 2v1m0 34v2m0 4v1m0 2v1m1-44v2m0 2v1m0 22v1m0 1v1m0 3v1m0 2v1m0 1v1m1-42v1m0 1v1m0 1v1m0 17v1m1 5v1m1-25v1m1 2v1m0 29v2m1-24v1m0 25v1m0 1v2m0 2v1m1-38v1m0 37v1m1-38v1m0 4v1m0 19v1m0 4v1m0 2v1m1-38v1m0 35v1m1-33v1m0 22v1m1-23v2m0 1v1m0 4v1m0 33v1m1-51v1m0 5v1m0 15v1m0 16v1m0 3v1m0 3v1m1-41v1m0 4v1m0 1v2m1-26v1m0 8v1m0 31v1m0 10v1m0 4v1m1-22v1m0 2v1m1-39v1m0 8v1m0 20v1m1-26v1m0 1v1m0 40v1m1-49v2m0 39v1m1-38v1m0 2v2m0 30v1m1-28v1m0 6v1m0 16v1m0 3v1m1-36v1m1-3v1m0 3v1m0 30v2m0 2v1m1-41v1m0 24v1m0 6v1m0 8v1m1-40v1m0 4v2m0 27v1m0 2v1m1-37v1m0 25v1m1-33v2m0 33v1m0 4v1m1-39v1m0 3v1m0 1v1m0 7v1m0 23v1m0 5v1m1-48v1m0 35v1m0 15v1m1-45v3m0 21v1m0 2v1m0 3v1m1-29v1m0 4v1m0 18v1m0 5v1m1-5v1m1-27v1m0 2v1m1-3v1m0 6v1m0 1v1m0 15v1m0 1v1m1-35v1m0 3v2m0 25v1m1-38v1m0 1v1m0 3v1m0 1v1m0 19v1m0 2v1m0 3v1m0 1v1m0 1v1m1-48v1m0 2v1m0 6v1m0 34v1m1-39v1m0 3v1m0 10v1m0 6v1m0 16v1m1-33v1m0 35v1m0 1v1m0 2v2m0 6v1m1-61v1m0 6v2m0 39v1m0 4v1m1-39v1m0 26v1m0 8v2m0 2v1m0 1v1m1-35v1m0 32v1m0 2v1m1-41v1m0 2v1m0 2v1m0 2v1m0 32v2m1-37v1m0 4v1m0 1v1m0 23v1m1-64v1m0 4v1m0 11v1m0 18v1m0 26v1m0 5v1m1-60v1m0 2v1m0 5v1m0 2v1m0 9v1m0 8v1m0 1v1m0 17v1m0 2v1m1-50v1m0 2v1m0 29v2m0 1v1m0 12v1m1-43v1m0 1v1m0 2v1m0 1v2m0 35v1m1-61v2m0 2v1m0 2v1m0 1v1m0 26v1m1-40v1m0 8v2m0 8v2m0 23v1m0 9v1m1-51v1m0 5v1m0 10v1m0 25v1m0 4v3m1-34v1m0 2v1m0 1v1m0 22v1m0 9v1m0 3v2m0 2v1m1-54v1m0 7v1m0 24v1m0 5v1m1-46v1m0 2v2m0 5v2m0 2v1m0 6v1m0 2v3m0 26v1m1-50v1m0 8v2m0 10v1m0 19v2m0 4v1m1-48v1m0 2v1m0 16v1m0 20v1m1-50v1m0 1v1m0 1v1m0 1v1m0 3v1m0 32v1m1 3v2m1-34v1m0 31v1m0 8v1m0 7v1m1-20v1m0 3v1m1-38v1m0 5v1m0 10v3m1-21v1m0 5v1m0 29v2m0 11v1m0 2v1m1-52v2m0 6v1"/><path stroke="#14141C" d="M243.5 201v4m0 1v5m0 1v3m0 1v2m0 3v1m0 3v1m0 2v1m1-29v21m1-16v1m0 2v6m0 1v7m0 1v3m1-18v1m0 1v6m0 1v1m0 1v5m0 5v5m0 4v1m1-35v2m0 1v5m0 1v1m0 1v1m0 1v17m1-22v1m0 2v2m0 1v2m0 2v11m1-24v1m0 3v11m0 1v13m0 2v2m1-33v2m0 1v2m0 1v3m0 2v2m0 2v7m0 1v10m1-36v4m0 1v12m0 2v6m0 1v8m0 1v1m1-26v1m0 1v11m0 1v3m0 1v2m0 2v1m0 1v2m1-33v20m0 1v3m0 1v4m0 2v2m1-26v3m0 1v6m0 2v14m1-32v1m0 1v9m0 1v12m0 1v3m0 2v2m1-18v1m0 1v9m0 1v6m1-21v2m0 1v1m0 3v13m1-19v6m0 1v6m0 1v1m0 1v4m1-20v1m0 1v18m1-29v1m0 6v6m0 1v5m0 1v4m0 2v3m1-33v1m0 1v1m0 2v1m0 1v2m0 1v10m0 1v6m1-9v1m0 1v13m1-30v1m0 1v2m0 5v1m0 1v1m0 2v5m0 1v1m0 1v5m0 1v2m1-30v2m0 2v4m0 2v2m0 1v12m0 1v1m0 1v2m1-27v1m0 1v4m0 1v5m0 1v3m0 1v2m0 1v7m1-18v2m0 1v8m0 1v5m1-24v1m0 1v3m0 1v1m0 1v14m0 1v2m1-26v1m0 1v2m0 1v2m0 1v17m1-28v8m0 1v4m0 1v2m0 1v8m0 1v3m1-24v14m0 1v9m1-24v1m0 3v1m0 1v1m0 1v16m1-32v26m1-20v2m0 1v1m0 1v11m0 1v5m0 1v3m1-23v1m0 1v21m1-22v3m0 1v1m0 1v7m0 1v4m0 1v3m1-19v4m0 1v14m1-25v1m0 1v18m0 1v4m1-25v8m0 1v12m0 1v3m1-36v1m0 2v1m0 1v2m0 2v7m0 1v7m0 2v2m0 7v1m1-19v2m0 1v7m0 1v4m0 1v3m1-25v25m1-27v2m0 1v12m0 1v11m1-27v16m0 1v8m1-28v1m0 3v2m0 2v1m0 1v7m0 1v5m0 2v2m0 1v1m1-21v8m0 1v3m0 1v9m1-24v1m0 3v1m0 2v9m0 1v7m1-27v8m0 2v1m0 1v6m0 1v3m0 1v4m1-27v2m0 1v7m0 1v1m0 2v4m0 1v8m1-21v1m0 1v7m0 1v11m1-25v11m0 2v12m1-32v1m0 5v7m0 1v10m0 2v1m0 1v2m0 1v1m1-27v3m0 1v4m0 1v10m0 1v2m0 3v2m1-27v1m0 4v1m0 2v4m0 1v4m0 1v2m0 1v5m1-20v1m0 1v18m1-29v1m0 2v1m0 2v9m0 1v13m1-22v8m0 1v2m0 1v6m0 1v4m1-18v2m0 1v1m0 1v4m0 1v8m1-24v5m0 1v9m0 1v6m0 1v1m1-28v1m0 3v11m0 1v8m1-29v1m0 1v2m0 2v3m0 1v16m0 2v5m1-36v1m0 7v10m0 1v1m0 1v2m0 1v2m0 3v1m0 1v4m1-30v1m0 1v1m0 2v9m0 1v16m1-28v1m0 1v5m0 1v4m0 1v15m1-26v1m0 1v6m0 1v13m0 1v3m1-37v3m0 1v2m0 1v25m1-31v3m0 1v5m0 2v1m0 1v4m0 1v8m0 1v4m0 1v2m0 1v1m1-36v1m0 4v1m0 1v22m1-18v24m1-35v3m0 1v1m0 1v6m0 1v9m0 1v1m0 1v1m0 1v1m0 5v3m1-33v1m0 1v4m0 1v12m0 2v2m0 1v3m0 2v3m1-24v3m0 2v2m0 1v17m1-40v1m0 7v1m0 3v1m0 2v16m0 1v3m0 2v2m1-33v1m0 1v4m0 1v2m0 1v2m0 5v1m0 1v10m0 1v2m0 1v1m1-38v1m0 1v2m0 4v17m0 1v1m0 4v7m1-33v1m0 1v12m0 1v10m0 1v1m0 1v1m0 1v1m1-43v1m0 1v2m0 3v3m0 1v2m0 1v7m0 1v8m0 1v5m0 1v1m0 1v1m0 4v1m1-49v1m0 1v15m0 3v1m0 4v1m0 2v3m0 1v4m0 2v1m0 2v1m0 1v3m0 1v2m1-42v1m0 3v1m0 4v1m0 1v6m0 1v18m0 1v1m0 1v3m1-43v1m0 8v9m0 1v3m0 1v12m1-44v1m0 4v1m0 2v1m0 1v2m0 1v1m0 1v13m0 1v1m0 1v5m0 1v4m0 2v2m0 1v6m1-47v1m0 1v1m0 2v11m0 1v2m0 2v14m0 2v1m0 1v8m1-58v1m0 4v1m0 3v2m0 6v6m0 1v6m0 1v11m0 1v5m0 1v4m0 3v2m1-53v1m0 2v1m0 2v1m0 2v2m0 2v3m0 1v7m0 1v9m0 1v1m0 2v7m0 6v1m1-52v1m0 3v2m0 7v2m0 2v1m0 4v7m0 1v10m0 1v3m0 1v4m0 1v3m1-35v1m0 2v2m0 1v3m0 1v2m0 1v18m0 1v3m1-50v2m0 1v1m0 1v1m0 1v2m0 1v1m0 2v14m0 1v9m0 1v1m0 4v1m0 1v1m1-33v1m0 2v1m0 1v1m0 2v3m0 1v4m0 1v17m0 1v2m1-48v1m0 15v7m0 1v4m0 3v10m0 1v4m0 1v1m1-47v1m0 1v1m0 2v5m0 1v2m0 1v2m0 1v8m0 1v2m0 3v1m0 3v1m0 1v1m0 1v2m1-50v1m0 6v1m0 7v1m0 2v1m0 1v1m0 1v1m0 1v2m0 3v1m0 2v3m0 1v15m0 1v4m1-47v2m0 2v1m0 1v1m0 1v6m0 1v6m0 1v4m0 1v5m0 2v3m0 8v2m1-55v41m1-32v7m0 1v1m0 1v2m0 1v3m0 1v7m0 1v12m0 1v2m0 2v1m0 1v2m1-47v1m0 1v3m0 14v15m0 1v12m1-46v1m0 2v3m0 2v1m0 1v1m0 1v10m0 1v1m0 1v4m1-27v3m0 1v2m0 2v6m0 1v6m0 1v3m0 2v1m1-31v9m0 1v16m1-22v1m0 1v6m0 1v15m0 1v1m0 2v1m1-39v8m0 1v2m0 1v1m0 1v9m0 1v1m1-17v9m0 1v4m0 1v3m0 2v4m0 1v1m0 1v1m0 1v2m1-39v4m0 1v19m0 1v1m1-46v1m0 1v1m0 1v5m0 2v1m0 3v2m0 3v4m0 1v5m0 1v4m0 1v1m1-32v5m0 1v21m0 1v3m0 2v1m0 5v1m1-47v6m0 1v1m0 1v2m0 1v8m0 3v3m0 1v2m0 2v4m0 2v1m0 1v1m1-47v1m0 1v2m0 3v10m0 1v4m0 1v4m0 3v3m0 1v2m0 1v5m0 2v1m1-27v8m0 1v2m0 1v2m0 1v1m0 1v1m0 1v13m1-52v1m0 1v1m0 8v5m0 1v13m0 1v8m0 2v2m0 1v1m0 2v3m0 2v2m1-41v5m0 1v5m0 1v7m0 1v3m0 1v5m0 1v2m0 1v1m0 1v1m0 2v2m0 3v1m1-33v1m0 2v1m0 1v1m0 1v4m0 1v3m0 1v4m0 1v2m0 1v3m0 1v9m0 3v1m0 1v2m0 4v1m0 10v1m1-64v3m0 2v1m0 1v13m0 1v7m0 2v1m1-20v1m0 1v4m0 2v6m0 1v21m1-62v1m0 4v1m0 4v2m0 2v2m0 1v1m0 1v1m0 1v22m0 1v3m0 1v2m0 3v2m1-40v1m0 8v12m0 1v7m0 1v1m1-29v1m0 1v15m0 1v1m1-19v1m0 3v4m0 2v1m0 1v13m0 1v1m1-27v1m0 1v4m0 2v7m0 1v8m0 1v7m1-23v11m0 1v8m0 1v2m1-19v1m0 1v15m0 1v2m0 1v1m0 2v1m0 1v1m0 2v1m1-33v1m0 3v1m0 4v2m0 2v1m0 1v10m0 1v2m0 1v1m0 2v1m1-37v2m0 4v1m0 3v1m0 1v14m0 2v3m1-25v24m1-30v2m0 1v3m0 1v6m0 1v6m0 1v3m1-19v1m0 1v4m0 4v9m0 1v4m0 1v3m0 1v1m0 1v1m0 3v2m1-36v3m0 1v2m0 1v4m0 4v6m0 1v6m0 1v2m0 4v1m1-39v1m0 4v1m0 2v7m0 1v4m0 1v8m0 5v1m1-55v1m0 3v2m0 1v1m0 1v1m0 2v2m0 1v1m0 2v2m0 1v3m0 1v8m0 1v4m0 1v4m0 1v4m0 1v2m0 1v1m1-44v1m0 2v11m0 1v3m0 1v10m0 2v1m1-28v2m0 1v5m0 1v4m0 1v5m1-20v1m0 1v2m0 1v16m0 1v1m0 1v10m0 1v1m0 2v1m1-42v1m0 2v12m0 1v7m0 3v6m1-23v1m0 2v2m0 1v4m0 1v9m0 2v2m0 1v1m0 2v1m1-29v4m0 1v11m0 2v3m0 1v1m0 1v1m0 1v1m1-36v18m0 1v4m0 10v1m1-36v1m0 5v12m0 1v14m1-36v1m0 1v5m0 1v2m0 1v9m0 1v5m0 1v6m1-23v13m0 1v2m0 1v6m0 1v1m1-27v1m0 1v3m0 2v15m0 1v1m0 1v5m0 2v1m1-36v7m0 2v1m0 1v14m0 1v1m1-35v2m0 9v2m0 1v3m0 1v1m0 3v9m0 1v7m0 4v1m1-38v2m0 1v2m0 1v1m0 2v12m0 1v8m1-25v1m0 1v13m0 2v2m0 4v1m0 5v1m1-24v10m0 1v6m0 2v1m0 1v1m0 1v1m0 1v1m1-24v7m0 1v1m0 1v1m0 2v3m0 1v1m1-21v15m1-17v1m0 1v2m0 2v1m0 1v8m0 1v4m0 1v1m0 1v1m1-25v6m0 2v7m0 1v2m0 1v3m1-38v1m0 3v1m0 1v1m0 1v1m0 1v8m0 1v8m0 1v1m0 1v2m0 10v1m1-36v2m0 1v6m0 1v11m0 1v1m0 1v5m0 1v1m0 1v1m0 1v2m0 6v1m1-34v3m0 1v2m0 1v15m0 2v2m1-32v1m0 1v2m0 1v3m0 1v7m0 1v9m0 1v2m0 1v2m1-40v1m0 5v8m0 1v5m0 1v12m0 1v1m0 3v4m0 1v2m1-34v25m0 1v2m0 2v1m0 1v1m1-29v1m0 4v2m0 1v4m0 3v5m0 1v6m0 1v2m0 1v1m0 1v1m0 3v1m1-30v13m0 1v10m0 1v3m0 1v1m1-27v1m0 1v7m0 1v11m1-33v1m0 1v7m0 3v16m0 1v2m0 1v3m0 3v1m1-53v1m0 11v5m0 1v1m0 3v7m0 4v16m0 2v1m0 2v1m1-42v1m0 2v20m0 2v1m0 2v1m1-28v1m0 8v29m0 1v1m1-55v2m0 4v25m1-27v7m0 3v13m0 1v8m1-22v14m0 1v1m0 1v8m0 2v2m1-23v4m0 1v3m0 1v7m0 1v3m0 2v2m0 1v2m0 1v3m0 2v1m1-44v2m0 1v1m0 1v22m0 1v1m0 5v1m1-44v1m0 10v2m0 3v4m0 1v1m0 6v7m0 1v5m0 1v1m0 1v2m0 2v4m1-47v6m0 3v4m0 1v4m0 4v14m0 1v2m1-35v4m0 1v8m0 2v16m0 3v1m0 1v1m1-40v3m0 1v1m0 1v5m0 1v12m0 1v1m0 1v5m0 1v10m0 2v1m1-41v27m1-18v1m0 1v12m0 2v6m1-23v4m0 1v12m0 1v3m1-29v2m0 1v4m0 1v3m0 1v1m0 3v15m0 11v1m1-38v23m0 1v2m1-16v1"/><path stroke="#2B3458" d="M243.5 199v1m0 5v1m0 5v1m0 3v1m2-2v1m1 1v1m0 1v1m0 5v2m0 2v1m1-17v1m0 1v1m1-1v1m0 2v1m0 2v2m1 2v1m1-7v2m0 11v1m1-27v1m0 25v1m0 8v1m1-12v1m0 3v1m0 2v1m0 2v1m2-21v1m0 6v2m1-7v1m0 12v1m0 3v2m1-15v1m0 9v1m1-13v1m0 1v3m1-8v1m0 7v1m0 6v1m0 1v1m2-12v1m0 11v1m1-24v1m0 2v1m0 10v1m2 1v1m0 1v1m0 5v1m1-20v2m0 2v1m0 12v1m1-17v1m0 5v1m0 3v1m0 2v1m1-9v1m0 8v1m0 5v1m1-20v1m0 1v1m1-5v1m0 2v1m0 17v1m1-21v1m0 7v1m0 8v1m1-7v1m1-10v1m0 1v1m2-8v1m0 1v1m0 11v1m2-10v1m0 1v1m0 7v1m1-12v1m0 4v1m1-12v1m0 20v1m1-13v1m0 12v1m1-17v1m0 7v2m0 8v1m1-16v1m0 7v1m0 4v1m2-9v1m1 0v1m0 8v2m1-23v1m0 9v1m0 5v2m0 2v1m1-12v1m0 3v1m1 1v1m1-11v1m0 1v1m0 6v1m0 3v1m1-21v1m0 7v1m0 7v1m1-12v1m0 7v1m1-3v2m1-17v1m0 9v1m0 10v2m0 1v1m0 2v1m1-23v1m0 4v1m0 10v1m1-21v1m0 3v1m0 8v1m0 4v1m0 8v1m1-1v1m1-1v1m1-25v2m0 18v1m1-12v1m0 1v1m0 4v1m1-11v1m0 9v1m0 6v1m1-12v1m1-16v1m0 3v1m0 16v2m1-13v1m0 1v1m0 2v1m0 11v1m1-17v1m1-11v1m0 5v1m0 4v1m1-3v1m0 13v1m1-1v2m1-25v1m0 2v1m0 4v1m0 13v1m0 2v1m1-42v1m0 10v1m0 25v1m1-21v1m0 24v1m1-24v1m0 11v1m0 4v1m1-28v1m0 19v2m0 2v1m0 4v1m0 3v1m1-29v1m0 2v1m0 3v2m0 2v1m1 8v1m0 7v1m1-33v1m0 4v1m0 22v1m0 2v1m1-40v1m0 1v1m0 6v1m1 12v1m0 10v1m0 1v1m0 3v1m1-38v1m0 6v1m0 7v1m0 21v1m1-2v1m1-23v1m0 18v1m0 1v1m1-18v1m0 12v1m1-31v1m0 15v1m0 5v1m0 4v1m0 3v1m1-22v2m0 15v1m0 1v1m1-36v1m0 8v1m0 18v1m0 5v1m1-28v1m0 19v2m1-9v1m0 14v1m1-25v1m0 6v1m0 2v1m0 18v1m1-5v1m1-32v1m0 12v1m0 4v1m0 17v1m1-23v1m0 4v1m0 1v1m0 10v1m0 4v1m1-43v2m0 5v1m0 2v1m0 2v1m0 8v1m1-7v1m1-13v1m0 6v1m0 6v1m0 4v1m1 6v2m1-27v1m0 8v1m0 7v1m1 8v1m1-12v1m0 1v1m1-20v1m0 3v1m0 6v1m0 6v1m1-29v1m1 8v1m0 6v1m1-11v1m0 2v1m1 10v1m0 3v1m0 5v1m0 1v1m0 1v1m1-33v1m1-24v1m0 10v1m0 1v1m0 2v3m0 4v1m0 5v1m1-30v1m0 1v1m0 6v1m1-7v1m0 1v1m0 2v1m0 8v3m0 3v1m0 2v2m1-33v1m0 11v1m0 4v1m0 4v1m0 14v1m0 3v1m1-21v1m0 7v1m0 1v1m1-32v2m0 7v1m0 13v1m1-7v1m0 7v1m0 3v1m0 5v1m1-13v1m0 4v1m0 3v1m0 4v1m1-22v1m0 16v1m0 7v2m1-12v1m0 6v1m1 2v1m1-8v1m1-3v1m1-10v2m1 5v1m0 8v1m1-5v1m0 8v1m1 0v1m0 4v2m1-13v1m0 10v1m1-26v1m1 25v1m0 6v1m1-32v1m0 6v1m0 6v1m1 3v1m1-29v1m0 12v1m0 2v1m0 14v1m1-10v1m0 4v1m0 8v1m1-47v1m0 12v1m0 3v1m0 3v1m0 8v1m0 4v1m1-16v1m0 3v1m1-13v1m0 5v1m0 4v1m1-16v1m0 4v1m0 16v1m0 1v1m0 12v1m1-25v1m0 7v3m1-16v2m0 2v1m0 4v1m0 10v1m1-6v2m1-30v2m0 19v1m1-23v1m0 19v1m1-15v1m0 12v1m1 2v1m0 2v1m0 6v1m1-28v2m0 1v1m0 3v2m0 23v1m1-27v2m0 1v1m0 14v1m1-3v1m0 7v2m1-28v2m0 12v1m0 9v1m1-26v1m0 14v1m0 5v1m1-7v1m0 6v1m0 2v1m0 1v1m1-22v1m0 7v1m0 1v1m0 1v2m0 3v1m2-6v1m0 4v1m1-16v2m0 7v1m0 2v1m1-17v1m0 8v1m1-23v1m0 3v1m0 6v1m0 13v1m1-18v1m1 4v1m0 7v1m0 9v1m0 2v1m1-33v1m0 8v1m0 18v1m0 1v3m2-11v3m0 5v1m1 0v1m0 14v1m1-17v1m1-13v1m0 21v1m1-42v1m0 12v1m0 1v1m0 1v1m0 8v1m3-29v1m0 1v1m1 21v1m0 21v1m1-22v1m0 1v1m1-7v1m0 3v1m0 7v1m0 3v1m2-39v1m0 20v1m0 12v1m0 7v1m0 3v1m1-30v1m0 7v1m0 14v1m1-29v1m0 26v1m1-43v1m0 12v1m0 18v1m0 1v1m2-12v1m0 12v2m1-13v1m0 12v1m0 4v1m1-24v1m0 3v1m1 16v1"/><rect x="243.1" y="213.5" width="171.0" height="3.4" fill="#64B5CD"/></g><text class="t" x="229.3" y="227.0">10</text><text class="t" x="229.3" y="211.2">20</text><text class="t" x="229.3" y="195.4">30</text><text class="t" x="229.3" y="179.6">40</text><text class="t" x="229.3" y="163.8">50</text><text class="t" x="229.3" y="148.0">60</text><text class="t" x="267.5" y="253.2">10,000</text><text class="t" x="292.0" y="253.2">20,000</text><text class="t" x="316.4" y="253.2">30,000</text><text class="t" x="340.8" y="253.2">40,000</text><text class="t" x="365.2" y="253.2">50,000</text><text class="t" x="389.7" y="253.2">60,000</text><text class="t" x="414.1" y="253.2">70,000</text><text class="t" x="328.8" y="259.3" style="font-size:4.15px">Item number (5min average)</text><text class="t" transform="translate(225.0,193.6) rotate(-90)" style="font-size:4.3px">ug/m3</text><rect x="236.1" y="140.8" width="33.2" height="18.4" rx="0.6" fill="#EEEEF4" stroke="#F8F8FB" stroke-width="0.6"/><circle cx="242.7" cy="144.3" r="0.55" fill="#4C72B0"/><circle cx="242.7" cy="150.0" r="0.55" fill="#111"/><rect x="237.6" y="155.7" width="9.7" height="0.9" fill="#64B5CD"/><text x="249.4" y="145.7" style="font-size:3.75px;fill:#333">Train</text><text x="249.4" y="151.3" style="font-size:3.75px;fill:#333">Test</text><text x="249.4" y="157.4" style="font-size:3.75px;fill:#333">Predictions</text><text x="413.4" y="270.9" style="font-size:9px;text-anchor:middle;fill:#333">(d)</text><rect x="21.2" y="279.1" width="197.50" height="105.70" fill="#EAEAF2"/><clipPath id="ce"><rect x="21.2" y="279.1" width="197.50" height="105.70"/></clipPath><g clip-path="url(#ce)" fill="none" stroke-width="1"><path stroke="#A9B7DA" d="M29.5 319v2m0 25v1m0 5v2m1-33v2m0 3v3m0 30v1m0 4v1m1-43v1m0 4v1m0 1v1m0 32v1m0 3v2m1-39v3m0 5v1m0 23v1m1-37v1m0 1v1m0 2v2m0 5v2m0 4v1m0 2v1m0 2v1m1-21v2m0 6v1m0 33v1m0 7v1m1-40v1m0 1v1m0 20v1m1-30v2m1-5v1m0 1v1m0 1v1m1-10v1m0 12v2m0 3v1m1-2v1m0 1v1m0 3v1m0 1v1m2-9v1m0 3v2m0 32v1m2-32v1m0 2v1m1-10v1m0 6v3m1-15v2m0 1v2m0 3v1m0 2v1m1-3v1m0 2v1m0 3v2m1-19v1m0 1v1m0 1v1m0 5v2m1-14v1m1 17v1m0 4v1m1-27v1m0 8v2m0 9v1m0 1v1m0 4v1m1-22v2m1-1v3m0 1v1m1 14v2m1-15v2m0 3v1m0 2v1m1-11v2m0 3v1m0 2v2m0 1v1m1-10v1m0 27v3m1-35v1m0 2v1m1 0v2m0 1v1m1-6v1m0 1v1m1-14v1m1 9v1m0 4v1m2-6v1m0 1v1m0 2v1m0 1v1m1-1v1m0 2v1m1-18v1m0 4v1m0 1v2m1-7v1m0 2v3m0 2v1m0 1v1m1-5v1m0 31v2m1-36v1m0 5v1m0 2v1m1-10v2m0 4v1m2-6v1m0 1v1m1 3v1m2 2v1m0 1v1m1-10v1m1 13v2m0 1v1m1-23v1m0 7v1m1 1v1m0 1v1m1-9v1m0 1v2m0 1v1m1-10v1m0 6v1m1-11v1m0 2v1m0 34v1m0 5v1m1-43v1m0 3v2m1-6v1m0 9v1m0 2v2m0 3v1m2-20v1m0 1v1m0 6v1m0 2v1m1 13v1m0 2v1m1-22v1m0 6v1m0 1v1m1-5v1m0 1v1m1-15v1m0 4v1m0 4v1m0 1v1m0 25v1m2-44v1m0 1v1m0 6v1m0 5v2m1-12v2m0 3v1m0 2v1m1-17v2m0 2v1m0 1v1m0 3v1m1-4v1m0 2v1m0 2v2m0 11v1m1-26v1m0 1v1m1 3v1m0 2v1m0 27v1m1-47v1m0 3v2m0 1v1m0 1v1m0 1v1m0 4v1m0 4v1m1-28v1m0 3v1m0 2v1m0 8v1m0 4v1m1-17v1m0 1v1m0 1v3m0 1v1m0 44v1m0 1v1m1-49v1m0 3v1m1-6v1m0 2v1m0 1v1m0 4v1m1-15v2m0 4v1m0 4v1m0 1v1m0 5v3m0 3v1m0 4v1m1-27v1m0 3v3m0 1v1m0 1v1m0 17v1m1-37v1m0 5v1m0 1v1m1 12v1m1-13v1m0 2v1m0 9v1m1-20v1m0 33v1m0 3v1m0 3v1m0 2v2m1-75v1m0 16v1m0 2v1m0 1v1m0 4v1m0 31v1m0 11v1m0 2v2m1-35v1m1-21v1m0 2v1m0 7v1m0 6v2m1-25v1m0 1v1m0 2v1m0 5v1m0 3v1m0 46v1m1-66v2m0 3v1m1-3v1m0 6v1m0 4v1m0 4v1m0 1v1m1-25v1m0 65v1m0 3v1m1-72v1m0 6v1m0 12v1m0 16v1m1-23v1m0 2v1m0 5v1m0 1v1m0 3v1m0 1v1m0 2v1m0 3v1m1-30v1m0 1v1m0 41v1m0 13v1m0 3v1m0 3v1m1-63v1m0 7v1m0 2v1m0 1v1m1-2v1m0 2v1m0 5v1m1-23v1m0 9v1m0 40v4m0 2v1m0 2v1m0 2v1m1-81v3m0 4v3m0 11v1m0 10v1m0 5v1m0 5v2m0 3v1m0 7v1m0 1v1m1-36v2m0 3v1m1-32v1m0 8v1m0 3v1m0 13v2m0 46v1m0 1v2m0 3v1m1-80v1m0 66v1m0 1v1m0 4v1m1-64v1m0 7v1m0 57v1m1-43v2m0 21v1m0 3v1m1-52v1m0 1v2m0 1v1m0 1v1m0 1v2m0 38v1m0 1v1m0 1v1m0 2v1m0 3v1m1-58v1m0 3v4m0 1v1m0 30v1m0 3v1m0 1v1m1-52v1m0 2v2m0 4v1m0 31v1m0 1v1m0 5v1m1-51v1m0 6v1m0 1v4m0 38v2m0 1v2m1-80v1m0 11v3m0 3v1m0 8v1m0 33v1m0 2v1m0 1v1m0 1v1m0 3v1m0 2v1m1 4v1m1-65v1m0 9v3m0 35v1m1-11v1m1-57v1m0 2v1m0 60v1m0 3v1m0 4v1m1-15v1m0 1v1m0 2v1m1-64v1m0 27v2m0 1v2m0 4v1m0 21v1m1-63v1m0 6v1m0 1v1m0 8v2m0 41v1m0 5v1m1-66v1m0 37v1m0 7v1m1-46v1m0 8v1m0 4v1m0 58v1m0 3v1m1-77v2m0 1v1m0 1v1m0 22v1m0 20v2m0 3v1m0 9v1m0 2v3m0 2v1m0 1v2m0 1v1m0 2v1m0 2v1m1-77v1m0 3v1m0 2v1m0 1v1m0 2v1m0 45v2m0 5v1m0 15v1m0 1v1m0 2v1m1-79v1m0 5v1m0 2v1m0 33v2m0 14v1m0 1v1m0 6v1m1-82v1m0 6v1m0 28v1m0 35v1m0 2v1m1-77v1m0 5v2m0 54v1m0 3v1m0 2v1m0 3v4m1-67v1m0 3v1m0 37v1m0 2v3m0 4v1m1-51v1m0 2v1m0 32v5m1-46v1m0 3v1m0 1v2m0 37v1m0 7v1m1-46v2m0 40v1m0 9v2m1-52v1m1 6v1m0 6v1m0 39v1m0 1v2m0 1v2m1-50v1m0 3v1m0 1v1m0 2v1m0 2v1m0 2v2m0 23v1m0 3v1m1-60v1m0 6v1m0 2v1m0 3v1m0 1v1m0 1v1m0 3v1m1-16v1m0 46v1m0 5v1m1-44v1m0 1v1m0 29v1m0 1v1m0 1v1m1 6v1m1-64v1m0 8v1m0 1v1m0 2v1m0 3v1m0 34v4m1-40v1m0 4v2m0 37v1m0 2v2m0 2v1m0 2v1m1-73v1m0 3v1m0 4v3m0 2v1m0 1v1m0 44v1m0 2v2m0 1v1m1-78v1m0 1v1m0 4v1m0 10v1m0 39v1m0 2v1m0 5v1m0 3v1m0 1v1m0 1v1m0 5v1m0 1v1m1-80v2m0 2v1m0 2v2m0 39v1m0 3v1m0 1v1m0 1v4m0 7v1m1-61v1m0 2v1m0 1v1m0 2v1m0 39v1m0 5v1m0 2v1m0 1v1m0 5v1m1-72v1m0 3v3m0 2v1m0 6v1m0 40v2m0 3v1m0 2v1m0 2v1m1-71v1m0 5v1m0 3v1m0 40v2m0 6v1m0 6v1m1-58v1m0 4v1m0 2v1m0 3v2m0 38v3m0 4v3m1-59v1m0 2v1m0 1v2m0 3v1m0 24v1m1-44v1m0 2v2m0 33v1m0 1v1m0 2v2m1-56v1m0 5v1m0 1v2m0 1v3m0 6v1m0 3v1m0 39v1m1-58v1m0 3v1m0 47v1m0 2v1m0 1v2m0 1v1m1-49v1m0 39v1m0 2v2m1-54v1m0 2v1m0 40v1m0 2v1m0 4v1m1-56v1m0 6v3m0 31v1m0 14v1m1-60v1m0 2v3m0 10v1m0 15v2m1-18v1m0 1v1m0 37v1m1-49v1m0 46v1m0 1v1m0 2v1m1-46v1m0 9v1m0 28v1m0 2v1m0 3v1m1-42v1m0 3v1m0 1v1m0 38v1m1-46v1m0 4v1m0 1v1m0 24v1m0 3v1m1-42v1m0 2v1m0 34v1m0 8v1m1-47v1m0 4v1m0 29v1m0 1v1m1-42v1m0 1v2m0 2v1m0 3v1m0 30v1m0 5v1m0 1v1m0 4v1m1-61v1m0 3v1m0 6v1m0 33v1m0 10v1m1-62v2m0 3v1m0 26v1m0 18v2m0 3v1m0 3v2m0 4v1m1-71v1m0 3v2m0 2v2m0 1v1m0 1v1m0 2v1m0 5v1m0 3v1m0 32v2m0 1v1m0 8v1m0 2v1m0 8v1m1-77v2m0 2v1m0 1v1m0 4v1m0 40v1m0 7v1m0 2v2m0 2v1m1-75v1m0 3v1m0 8v1m0 51v2m0 4v1m1-58v1m0 1v2m0 1v1m0 2v1m0 35v3m1-38v3m0 36v1m0 6v1m0 7v2m1-60v1m0 4v1m0 2v2m0 46v1m0 6v1m0 2v1m1-53v1m0 41v1m0 4v1m1-82v1m0 2v3m0 4v2m0 6v4m0 1v2m0 41v1m1-53v1m0 3v1m0 1v1m0 51v2m0 4v1m0 3v1m0 1v1m1-81v1m0 13v1m0 1v5m0 4v1m0 25v1m0 23v2m0 2v2m1-62v1m0 2v1m0 38v1m0 10v1m1-69v1m0 3v3m0 4v1m0 45v1m0 12v1m1-79v3m0 3v3m0 46v1m0 1v1m0 1v1m0 1v5m1-54v1m0 1v1m0 1v1m0 39v1m0 10v1m1-67v1m0 3v1m0 6v1m0 4v1m0 2v1m0 2v1m0 11v1m0 25v1m0 4v1m0 4v1m0 1v1m1-62v1m0 1v1m0 7v1m0 7v1m0 45v1m0 4v1m0 2v1m1-77v1m0 5v1m0 44v1m0 1v2m0 3v1m0 15v1m1-74v1m0 4v4m0 1v1m0 3v1m0 2v1m0 6v1m0 8v1m0 1v1m0 32v2m1-76v1m0 61v1m0 2v1m0 5v1m0 1v1m0 2v1m1-77v1m0 3v1m0 1v4m0 5v1m0 42v2m0 10v1m0 2v1m1-76v1m0 1v2m0 6v1m0 3v1m0 59v2m0 3v1m0 1v1m1-78v1m0 8v1m0 1v1m0 3v1m0 1v1m0 36v1m0 2v1m0 3v2m0 1v1m1-49v1m0 8v1m0 36v1m0 2v1m0 2v1m0 1v1m1-56v3m0 3v1m0 2v1m0 1v1m0 31v2m0 1v1m0 4v1m0 3v1m1-64v1m0 1v1m0 6v3m1-8v1m0 9v1m0 36v1m0 1v1m0 2v2m0 10v2m1-65v1m0 3v1m0 3v1m0 4v2m0 8v1m0 10v1m0 11v1m0 5v1m0 6v1"/><path stroke="#4C72B0" d="M29.5 318v1m0 2v1m0 4v2m0 16v2m1-22v2m0 4v1m0 24v1m0 1v1m0 3v3m0 2v1m0 1v1m1-12v1m0 5v1m1-4v1m1-35v1m0 1v1m0 6v2m0 36v1m1-42v3m0 1v1m0 5v1m0 16v1m0 9v1m0 2v1m1-38v1m0 2v1m0 7v1m0 17v1m1-28v1m0 1v3m0 4v1m0 1v1m0 2v4m0 3v1m0 3v1m1-26v3m1-2v1m0 2v3m0 7v4m0 22v1m1-11v2m1-22v1m0 12v1m0 4v1m0 11v1m1-33v1m0 3v1m1-10v1m0 30v1m0 2v1m1-20v6m0 1v1m1-13v1m0 9v1m0 20v1m1-34v1m0 2v1m0 4v1m0 22v1m1-21v1m1-15v1m0 1v1m0 3v1m0 16v1m0 7v1m0 1v1m1-37v1m0 1v2m0 28v1m0 1v1m1-17v2m1-16v2m0 2v2m0 2v1m0 2v1m0 1v1m0 1v2m1-18v1m0 1v1m1-3v3m0 2v1m0 10v1m0 14v1m0 1v1m0 2v1m1-16v1m1-15v1m0 3v2m1-2v2m1-10v1m1 9v2m0 1v3m1-12v1m1-3v2m0 1v1m0 27v1m1-42v1m0 14v1m0 18v1m0 1v1m1-31v1m0 2v1m0 21v1m0 9v1m1-30v2m0 1v1m1-17v1m0 6v1m0 2v1m0 2v3m1-1v2m0 3v1m1-14v2m0 4v1m0 6v1m1-15v1m0 1v1m0 1v1m0 1v1m0 11v1m0 4v1m1-26v1m0 6v1m0 23v1m0 4v1m1-34v1m0 2v1m0 2v1m0 12v2m1-14v2m0 14v1m1-25v3m0 27v1m0 2v1m1-35v1m0 1v2m0 1v3m0 5v1m1-12v1m0 3v1m0 3v1m0 17v2m1-22v1m1 2v1m0 3v1m1-14v1m0 3v1m1 4v1m0 2v1m0 2v1m0 1v2m1-22v1m0 19v1m1-13v1m0 2v1m0 1v1m1-9v1m1-8v1m0 2v1m0 1v1m0 1v1m1-5v1m0 32v1m1-22v1m0 1v1m0 7v1m1-21v1m1-2v1m0 4v2m0 1v1m0 11v1m1-22v2m0 6v1m0 8v3m0 12v1m1-16v2m0 3v1m1-19v1m0 1v1m0 5v2m0 1v1m1-14v1m0 3v1m0 25v3m0 2v1m1-39v1m0 8v1m0 23v1m0 2v3m1-37v1m0 13v1m0 14v1m0 4v1m0 1v1m1-41v1m0 3v3m0 4v1m0 9v1m0 16v1m1-46v1m0 11v1m0 22v1m1-40v1m0 3v1m0 3v1m0 6v2m0 28v1m0 3v2m1-38v1m0 3v1m0 8v1m0 3v4m1-22v2m0 1v1m0 2v1m0 2v1m0 4v1m1-26v1m0 2v3m0 26v1m0 15v1m1-44v1m0 13v1m1-2v1m1-17v3m0 3v1m0 36v1m1-47v1m0 4v1m0 1v1m0 1v1m0 31v1m0 1v1m0 1v1m1-37v2m0 2v4m0 1v2m0 6v1m0 4v1m0 17v1m1-54v2m0 1v1m0 1v2m0 1v1m0 1v1m0 1v1m0 1v1m0 11v1m0 2v1m0 21v1m1-51v1m0 3v1m0 28v1m1-38v1m0 1v1m0 4v1m0 1v2m0 2v1m0 2v2m0 3v1m0 9v1m0 17v1m0 4v1m0 3v1m1-45v1m0 1v1m0 2v2m0 11v1m1-16v1m0 32v1m0 4v1m1-59v3m0 2v1m0 4v1m0 15v1m0 9v1m0 1v1m0 1v1m0 1v2m0 11v1m0 1v1m0 2v1m1-63v1m0 1v1m0 19v1m0 8v1m0 14v1m0 2v1m0 6v2m0 5v1m1-37v1m0 2v1m0 1v1m1-33v1m0 6v1m0 4v2m0 5v1m0 20v1m0 4v1m1-49v1m0 3v1m0 5v1m0 1v1m0 23v1m0 17v1m0 1v1m1-53v1m0 3v1m0 1v1m0 1v1m0 1v3m0 6v1m0 1v1m0 2v3m0 2v1m0 17v2m1-52v1m0 4v1m0 3v1m0 1v1m0 8v1m0 3v1m0 1v1m0 22v1m0 9v1m1-64v1m0 1v1m0 3v1m0 1v1m0 1v1m0 1v2m0 5v1m0 12v1m0 1v2m0 22v1m0 2v1m1-60v1m0 2v4m0 1v2m0 3v1m0 1v1m0 1v3m0 1v1m0 34v1m0 6v1m1-52v1m0 3v1m0 2v1m0 11v1m0 1v1m0 5v1m0 23v1m1-60v1m0 1v1m0 1v2m0 1v1m0 5v1m0 1v3m0 18v1m0 14v1m0 4v1m0 1v1m0 2v1m1-51v1m0 7v1m0 7v1m0 35v1m1-41v2m0 1v2m0 16v1m1-42v1m0 4v1m0 3v2m0 41v1m1-78v1m0 2v2m0 4v3m0 3v1m0 3v2m0 1v2m0 1v1m0 2v1m0 2v3m0 7v2m0 10v1m0 11v1m0 3v1m1-38v2m0 2v2m0 13v1m0 1v1m0 2v1m0 3v1m0 7v1m0 9v1m1-62v1m0 6v1m0 1v1m0 2v1m0 5v2m0 2v1m0 4v1m0 26v4m0 7v1m1-74v1m0 1v1m0 3v1m0 1v2m0 2v1m0 12v1m0 4v1m0 7v2m0 7v1m0 8v1m0 1v1m0 1v2m0 1v1m0 1v1m0 7v2m0 1v1m1-64v3m0 2v1m0 7v1m0 7v1m0 4v1m0 5v1m0 10v2m0 11v4m1-46v1m0 1v1m0 1v1m0 2v1m1-29v2m0 6v1m0 6v1m0 10v1m0 3v1m0 2v1m0 18v1m0 1v1m0 1v1m1-50v1m0 7v1m0 1v1m1-17v2m0 3v2m0 2v2m0 1v1m0 7v1m0 1v2m0 19v1m1-42v1m0 1v1m0 7v3m0 31v1m1-56v1m0 3v1m0 3v2m0 2v1m0 32v1m0 4v1m1-30v3m0 9v3m0 11v1m1-36v1m0 26v1m0 3v1m0 1v1m1-57v1m0 2v5m0 1v2m0 1v1m0 2v2m0 28v2m0 2v1m1-60v1m0 2v2m0 1v1m0 4v1m0 15v2m0 2v1m0 20v1m0 2v1m0 1v2m0 1v2m0 1v1m0 4v1m1-68v1m0 2v1m0 1v3m0 3v1m0 21v1m0 11v1m0 3v1m0 7v1m0 1v1m1-33v1m0 8v1m0 1v1m0 2v1m0 1v1m0 2v1m0 3v1m0 1v1m0 1v2m0 7v1m0 2v1m1-64v1m0 5v1m0 1v5m0 4v1m0 5v1m0 25v1m0 2v1m0 3v1m1-61v2m0 1v1m0 3v1m0 31v1m1-29v1m0 1v1m0 2v1m0 2v1m0 1v1m0 1v2m0 2v1m0 1v1m0 27v1m0 9v2m1-63v1m0 3v3m0 1v1m0 3v1m0 5v1m0 1v1m0 3v1m0 21v1m0 4v1m0 12v1m0 3v1m1-51v1m0 1v1m0 3v1m0 11v1m0 17v2m0 1v2m0 1v1m0 5v1m0 5v1m0 11v1m1-71v5m0 33v1m0 6v3m0 7v1m0 5v1m1-68v1m0 1v1m0 1v1m0 3v3m0 2v1m0 1v1m0 1v1m0 3v1m0 35v1m1-68v1m0 4v2m0 3v1m0 1v1m0 7v1m0 1v2m0 1v1m0 30v1m0 3v1m0 7v1m1-49v1m0 1v3m0 34v1m1-42v2m0 1v1m0 22v1m0 1v2m1-31v2m0 1v2m0 7v1m0 2v2m0 22v1m1-38v1m0 5v3m0 22v1m0 3v3m0 2v2m0 2v1m0 1v1m1-39v1m0 30v1m1 5v1m0 3v1m0 10v1m1-50v1m0 1v1m0 1v1m0 22v1m0 8v1m0 1v1m0 1v1m1-46v1m0 7v1m0 3v1m0 2v1m1-11v2m0 1v1m0 31v1m1-39v1m0 38v1m0 2v1m1-44v1m0 8v1m0 1v2m0 2v2m0 24v1m0 2v1m0 1v2m0 1v1m0 2v2m0 1v1m1-68v1m0 3v1m0 5v1m0 1v2m0 23v1m1-17v1m0 31v1m0 2v1m0 2v1m1-51v1m0 3v1m0 9v1m0 30v1m0 1v1m1-72v1m0 5v1m0 2v1m0 1v1m0 1v1m0 2v1m0 1v1m0 1v1m0 1v1m0 4v1m0 27v1m0 4v1m0 2v1m0 2v2m0 11v1m1-70v1m0 4v2m0 1v3m0 31v1m0 2v1m0 2v1m1-49v1m0 3v1m0 3v2m0 6v1m0 19v1m0 5v1m0 1v1m0 2v1m0 5v3m0 2v1m1-55v1m0 2v1m0 42v1m0 1v1m0 3v1m1-54v1m0 1v1m0 3v1m0 39v1m0 2v1m1-47v1m0 6v1m0 8v1m0 1v1m0 27v1m0 1v1m0 4v1m0 1v1m1-47v1m0 1v1m0 21v1m0 3v1m0 5v1m1-45v1m0 14v1m0 13v1m0 2v1m1-41v1m0 3v1m0 1v1m0 2v1m0 3v1m0 19v2m0 14v1m0 2v1m1-51v3m0 5v1m0 6v1m0 28v2m0 3v1m1-42v2m0 4v1m0 30v1m1-46v1m0 2v1m0 1v1m0 2v1m0 1v1m0 2v1m0 7v1m0 15v1m0 3v1m0 1v2m0 1v1m0 5v2m1-49v1m0 26v2m0 4v1m0 2v2m0 1v1m0 1v2m1-49v3m0 1v2m0 1v1m0 10v1m0 2v1m0 1v2m0 21v1m0 1v1m0 2v2m0 1v3m0 1v1m0 1v2m1-49v1m0 2v2m0 26v1m0 1v1m1-42v1m0 3v1m0 2v1m0 10v1m0 22v1m0 5v1m0 1v4m1-41v1m0 28v1m1-27v1m0 22v1m0 8v1m1-32v3m0 17v2m1-30v1m0 1v2m0 1v1m0 23v1m1-32v1m0 1v1m0 1v2m0 31v4m1-42v1m0 2v1m0 5v1m0 31v1m0 1v1m1-53v2m0 1v1m0 7v1m0 19v2m0 5v1m0 1v2m0 4v2m1-56v1m0 3v1m0 2v1m0 1v1m0 5v1m0 6v1m0 11v1m0 14v3m0 2v2m0 3v2m1-54v1m0 19v1m0 23v1m1-53v1m0 2v1m0 4v1m0 5v2m0 12v1m0 14v1m0 11v1m0 4v1m0 2v1m1-59v1m0 3v1m0 2v2m0 22v1m0 6v2m0 11v1m0 1v1m0 8v1m1-58v1m0 8v1m0 33v1m1-30v2m0 6v1m0 1v2m0 23v1m0 6v1m0 2v1m0 4v1m1-56v1m0 13v2m0 11v1m0 23v1m0 5v1m0 1v1m1-53v1m0 6v1m0 3v1m0 1v1m0 28v2m0 2v1m1-63v1m0 8v1m0 4v3m0 11v1m0 17v1m0 3v1m1-55v1m0 14v1m0 1v1m0 7v1m0 8v1m0 4v1m0 17v1m0 10v1m0 1v1m1-55v2m0 1v1m0 22v1m0 13v1m0 6v2m1-50v1m0 4v1m0 29v1m0 6v2m0 1v2m0 2v1m0 3v1m1-69v2m0 4v4m0 2v1m0 1v2m0 9v1m0 5v1m0 1v1m0 19v1m0 3v1m0 2v1m0 2v2m0 1v1m1-71v1m0 29v1m0 15v3m0 4v1m0 1v1m1-44v2m0 1v1m0 1v1m0 8v1m0 23v1m0 1v1m0 1v1m0 2v1m0 1v2m0 2v1m1-50v1m0 6v1m0 32v2m1-35v1m0 1v1m0 3v1m0 22v3m0 7v1m0 5v1m0 1v2m0 2v1m0 5v1m1-74v1m0 4v1m0 2v3m0 3v1m0 25v1m0 3v2m0 4v1m0 2v1m1-54v1m0 13v2m0 3v1m0 6v1m0 6v1m0 18v1m0 4v1m0 7v1m1-63v1m0 1v1m0 3v2m0 3v1m0 12v1m0 24v1m0 1v1m0 6v2m1-60v1m0 1v2m0 2v3m0 16v3m0 16v2m0 8v1m1-62v1m0 1v1m0 1v1m0 2v2m0 1v1m0 4v2m0 8v2m0 7v1m0 4v1m0 7v1m0 18v2m0 3v1m1-57v1m0 1v1m0 12v1m0 18v1m0 1v2m1-26v2m0 30v2m0 4v1m1-44v1m0 4v1m0 33v1m0 4v1m1-58v4m0 1v1m0 7v1m0 14v2m0 7v1m0 9v1m1-36v3m0 6v1m0 34v2m0 1v1m0 1v1m1-54v1m0 10v1m0 11v1m0 1v1m0 3v2m0 1v1m0 3v1m0 6v1m0 1v1"/><path stroke="#2A3F6E" d="M29.5 322v2m0 24v1m1-20v1m0 1v1m0 35v1m1-42v1m0 3v1m0 1v1m0 4v1m0 30v1m1-35v1m0 4v3m1-8v1m0 6v1m0 3v1m0 4v1m0 25v1m1-42v1m0 37v1m1-38v1m0 2v1m0 1v1m0 1v1m0 21v1m1-37v1m0 19v2m1-17v1m0 30v1m0 2v1m0 1v1m1-34v1m0 7v1m1 4v1m0 1v1m0 22v1m1-40v1m0 3v2m0 36v1m0 2v1m1-38v1m0 1v1m0 4v1m0 21v1m1-33v2m0 38v1m1-30v1m0 1v1m1-1v1m1-14v1m0 3v2m0 2v1m0 5v1m0 25v1m1-30v1m1-19v1m0 8v2m0 1v1m0 6v2m0 1v1m1-16v1m0 31v1m0 7v1m1-26v2m1-14v1m0 3v1m0 7v1m1-16v4m0 3v1m0 9v3m1-12v1m0 22v2m0 3v1m1-16v1m2-9v1m1-8v1m0 32v1m1-34v1m0 1v2m1 0v1m1-3v1m0 5v1m2-17v1m0 7v1m0 29v1m1-29v1m1-10v1m0 6v1m0 3v1m1-3v1m0 2v1m0 4v1m1-10v1m0 2v1m1 0v1m0 1v1m1-10v2m0 2v1m0 3v1m0 21v1m0 4v1m1-41v1m0 2v2m0 5v1m0 3v1m0 2v1m0 5v2m0 2v1m1-18v2m1 24v1m1-35v1m0 9v1m0 2v1m1-8v1m0 2v1m1-6v1m0 2v1m0 3v1m1 4v1m0 1v1m1-14v1m0 28v1m1-21v2m1-13v3m1 5v1m0 1v1m1-6v1m0 2v1m0 18v1m1-34v1m0 23v1m1-23v1m0 3v3m0 1v1m0 23v1m0 2v1m0 1v1m1-34v2m0 12v2m0 1v1m1-15v1m0 1v1m0 3v1m0 3v1m1-17v1m0 3v3m0 3v1m1-12v1m0 1v1m0 5v1m0 14v1m1-16v2m0 5v1m0 6v1m0 1v1m0 5v1m1-21v2m0 1v1m1-15v1m0 6v1m0 1v1m1-5v1m0 1v1m0 5v1m1-16v1m0 1v3m0 1v1m0 1v1m0 30v1m1-38v1m1 1v1m0 5v1m0 23v1m1-34v1m0 4v1m0 31v1m0 4v1m1-47v1m0 13v2m0 4v1m1-23v1m0 5v3m0 8v1m0 25v1m0 1v1m0 2v1m1-52v1m0 34v1m1-31v1m0 1v2m0 1v2m0 30v1m0 2v1m1-48v1m0 6v1m0 1v1m0 3v3m0 1v3m1-19v1m0 1v2m0 36v1m0 2v1m0 5v1m1-45v1m0 3v1m0 1v1m0 2v1m0 22v2m0 6v1m0 3v1m1-38v2m1-15v1m0 4v1m0 7v2m0 3v3m0 1v2m0 4v1m0 15v1m1-36v1m0 1v2m0 36v1m1-56v1m0 1v1m0 2v1m0 1v1m0 7v1m0 3v2m0 16v1m0 8v1m1-38v1m0 3v1m0 8v2m0 1v1m1-15v1m0 9v1m1 15v1m0 14v1m0 3v1m1-58v1m0 1v1m0 1v1m0 1v2m0 10v1m0 18v1m0 2v1m0 9v1m0 1v1m0 3v2m1-35v1m0 1v2m0 1v1m0 26v1m0 4v1m1-60v1m0 15v1m0 21v1m0 4v2m0 1v1m1-52v1m0 2v2m0 7v1m0 47v1m1-68v2m0 4v3m0 2v2m0 1v1m0 16v1m1-33v2m0 1v1m0 1v1m0 2v1m0 4v1m0 1v1m0 1v1m0 12v1m0 6v2m0 28v1m0 4v1m1-75v1m0 3v1m0 3v3m0 1v1m0 1v1m0 4v1m0 1v1m0 1v1m0 36v1m0 3v1m1-44v1m0 1v1m0 3v1m0 5v2m0 1v1m0 3v1m0 18v1m0 8v1m1-42v1m0 1v1m0 6v1m0 23v1m0 8v1m1-61v1m0 7v1m0 2v1m0 2v1m0 22v1m0 13v1m0 2v2m0 3v1m1-52v1m0 10v1m0 2v1m0 4v2m0 9v1m0 11v1m1-4v1m1-45v1m0 3v1m0 1v1m0 32v2m0 8v1m0 10v1m1-68v3m0 2v1m0 7v1m0 4v1m0 4v2m0 7v1m0 2v1m0 3v1m0 4v1m0 2v1m0 3v2m1-34v1m0 30v1m0 8v1m0 4v1m1-59v1m0 2v1m0 49v1m0 1v1m1-68v1m0 5v1m0 38v1m0 3v1m0 16v3m0 2v1m1-67v1m0 4v2m0 33v1m0 8v1m1-34v1m0 1v1m0 3v1m0 6v1m0 2v1m0 18v1m0 18v1m1-74v1m0 8v1m0 6v2m0 7v2m0 1v1m0 1v2m0 2v1m0 18v1m0 6v1m1-57v1m0 2v1m0 37v1m0 1v1m0 1v1m1-39v1m1-5v1m0 2v1m0 50v1m1-68v1m0 3v1m0 1v1m0 1v1m0 3v1m0 1v1m0 28v1m1-11v1m0 28v2m0 1v1m1-58v1m0 38v1m1-45v2m0 27v3m1-47v1m0 13v1m0 6v1m0 2v1m0 21v1m0 1v1m0 2v1m0 2v1m0 2v1m1-66v1m0 1v1m0 6v2m0 25v1m0 12v1m0 2v1m0 1v1m0 1v1m0 2v1m1-60v1m0 4v1m0 27v1m0 2v1m0 1v1m0 6v1m0 3v1m0 4v1m0 3v2m0 1v1m0 1v1m1-56v1m0 11v1m0 42v1m0 1v1m1-28v1m0 3v1m1-17v1m0 25v1m0 10v2m0 6v1m0 5v1m1-65v1m0 3v1m0 1v2m0 1v2m0 1v1m0 29v2m0 2v1m0 1v1m0 7v1m0 5v1m0 1v1m0 2v1m0 4v1m1-73v1m0 3v1m0 3v2m0 17v1m0 27v1m0 14v1m0 1v1m0 5v1m1-65v1m0 20v1m0 10v1m0 4v1m0 4v1m0 9v1m1-69v2m0 6v3m0 4v1m0 1v1m0 1v1m0 1v1m0 4v1m0 3v1m0 2v1m0 21v1m0 13v1m1-80v1m0 4v1m0 8v1m0 2v6m0 6v1m0 28v1m0 5v2m0 3v1m0 2v1m0 2v1m1-54v1m0 6v1m0 25v1m0 2v1m0 4v1m1-46v1m0 1v1m0 4v2m0 21v1m1-23v1m0 25v1m0 2v1m0 4v1m1-40v1m0 1v2m0 6v1m0 24v1m0 3v1m1-34v1m0 6v1m0 4v1m0 23v1m0 2v1m1-30v1m0 3v1m0 2v1m0 19v1m0 4v1m0 2v2m0 2v1m1-46v1m0 13v1m0 4v1m0 24v1m0 1v1m1-40v1m0 2v1m0 2v1m1-18v1m0 41v1m0 3v1m0 2v1m1-44v1m0 31v1m0 1v1m0 3v1m0 3v1m1-45v1m0 1v1m0 5v1m0 2v1m0 3v3m0 22v1m0 8v1m0 4v1m1-64v1m0 8v1m0 1v2m1 5v3m0 34v1m0 3v1m1-71v1m0 7v1m0 1v1m0 14v2m0 1v1m0 35v2m1-68v1m0 6v2m0 7v1m0 2v1m0 2v1m0 20v1m0 7v1m0 5v1m0 5v1m0 2v1m0 6v1m1-27v1m1-46v1m0 12v2m0 23v1m0 1v2m0 5v1m0 4v2m1-47v1m0 1v4m0 1v1m0 2v1m0 30v1m0 1v1m0 1v1m0 7v1m1-61v1m0 1v1m0 11v1m0 30v1m1-40v1m0 3v2m0 9v2m0 1v1m1-10v1m0 3v1m0 23v1m0 2v1m1-42v1m0 1v1m0 28v1m0 4v1m0 7v2m1-48v1m0 5v1m0 36v1m0 1v2m0 3v1m1-51v3m0 27v2m0 7v2m0 10v1m1-50v1m0 6v2m0 34v1m0 3v1m1-46v1m0 30v1m0 1v1m0 7v1m0 2v1m1-52v2m0 35v1m0 10v3m1-53v1m0 3v1m0 4v1m0 1v2m0 8v1m0 29v1m0 6v1m1-50v1m0 1v1m0 3v2m0 5v1m0 28v1m1-51v1m0 6v2m0 2v1m0 32v1m0 2v1m0 16v1m1-53v1m0 3v1m0 25v3m0 4v1m0 1v2m1-32v1m0 26v1m0 1v1m1-32v1m0 4v2m0 18v1m0 1v1m1-35v1m0 1v1m0 30v1m0 1v1m1-43v1m0 4v1m0 1v1m0 8v1m1-8v1m0 2v2m0 1v1m0 26v1m1-43v2m0 28v1m0 10v1m0 10v1m1-66v1m0 8v1m0 2v1m0 5v1m0 47v1m1-62v1m0 4v1m0 10v3m0 1v2m0 26v1m1-41v1m0 3v2m0 40v1m0 1v1m0 2v1m0 1v1m0 8v1m1-76v1m0 7v1m0 1v1m0 8v1m0 3v1m0 25v1m0 16v1m1-49v1m0 33v1m0 2v1m1-28v1m0 39v1m0 4v1m1-51v1m0 3v1m0 3v1m0 3v1m0 5v2m0 1v1m0 24v1m0 5v1m0 1v1m1-46v1m0 5v1m0 28v1m0 3v1m1-73v1m0 13v1m0 23v1m0 17v1m0 2v1m1-54v1m0 2v1m0 3v2m0 2v1m0 3v1m0 11v1m0 10v2m0 26v1m0 6v1m1-68v1m0 2v1m0 9v1m0 2v1m0 23v1m0 13v1m0 2v1m0 3v1m0 1v2m1-57v1m0 2v1m0 1v2m0 28v2m0 1v1m0 10v1m1-65v1m0 14v1m0 21v1m0 7v1m0 3v1m0 6v1m0 3v1m0 2v2m0 2v1m0 1v1m1-74v2m0 6v2m0 20v1m0 2v1m0 9v1m0 7v1m0 11v1m1-57v1m0 4v1m0 12v2m0 7v1m0 15v1m0 6v2m0 1v1m1-60v1m0 6v1m0 13v1m0 1v1m0 2v1m0 2v1m0 29v1m1-39v1m0 3v1m0 1v1m0 1v1m0 1v1m0 4v1m0 19v1m0 17v2m0 2v1m1-66v1m0 3v2m0 33v1m0 1v1m0 6v1m1-58v1m0 2v1m0 1v1m0 8v1m0 16v1m0 20v2m0 10v1m1-59v1m0 1v2m0 5v1m0 1v3m0 1v1m0 9v1m0 26v2m0 5v1m1-60v1m0 2v1m0 18v2m0 3v2m0 22v1m1-61v1m0 1v1m0 1v1m0 2v1m0 4v1m0 12v1m0 11v1m0 12v1m1-29v1m0 2v1m1-8v1m0 39v1m0 10v1m0 9v1m1-51v2m0 24v1m0 4v1m1-47v1m0 4v1m0 1v2m0 13v1m0 3v1m0 15v1m1-44v1m0 6v1m0 4v1m0 4v1m0 25v1m0 21v1m1-65v2m0 8v1m0 8v1m0 5v2m0 1v1m0 2v1m0 6v2m0 5v1m0 14v1"/><path stroke="#14141C" d="M29.5 330v6m0 2v6m1-12v10m0 1v12m0 1v1m0 3v1m0 4v1m1-35v1m0 1v4m0 1v19m0 1v4m1-20v1m0 1v16m1-21v1m0 11v22m0 1v1m0 2v1m1-40v1m0 1v2m0 2v6m0 1v8m0 1v6m0 1v2m0 1v1m1-27v2m0 1v3m0 1v12m1-21v1m0 2v1m0 1v1m0 8v2m0 1v3m0 1v12m0 1v6m1-46v1m0 3v9m0 1v15m0 1v2m0 1v1m0 1v11m1-36v5m0 6v5m0 3v1m0 2v9m0 1v4m1-34v1m0 4v6m0 1v7m0 2v6m0 1v5m1-39v5m0 2v10m0 2v4m0 1v11m0 3v1m1-31v1m0 1v5m0 1v11m0 1v1m0 1v1m0 1v4m0 1v2m1-38v11m0 1v8m0 1v6m0 2v2m0 1v4m0 1v1m1-20v1m0 1v5m0 1v7m0 1v5m1-27v5m0 1v18m0 1v1m1-27v1m0 2v4m0 2v16m0 1v1m1-24v1m0 2v13m0 1v6m0 1v1m1-27v1m0 1v3m0 1v4m0 1v2m0 1v2m0 1v4m0 1v1m0 2v2m1-42v1m0 2v1m0 2v1m0 1v14m0 1v10m0 2v1m0 1v4m1-19v10m0 1v9m1-37v1m0 12v1m0 4v14m0 1v4m1-36v1m0 2v1m0 1v7m0 4v1m0 2v4m0 1v3m0 1v8m1-34v1m0 2v10m0 1v10m0 2v2m0 3v2m1-25v1m0 6v3m0 1v15m1-32v1m0 2v1m0 1v1m0 2v5m0 1v18m1-32v2m0 6v9m0 1v8m0 1v1m0 2v2m1-33v20m0 1v1m0 1v2m1-28v1m0 1v1m0 2v2m0 1v2m0 1v1m0 2v1m0 3v18m1-29v16m0 1v3m0 1v3m0 1v2m0 1v1m1-30v1m0 1v1m0 1v14m0 1v7m0 1v2m1-40v5m0 1v8m0 2v5m0 1v11m0 1v1m1-26v3m0 1v11m0 2v4m0 1v1m0 1v3m0 1v3m1-27v1m0 1v9m0 1v6m0 2v1m0 1v6m1-27v1m0 1v3m0 1v15m0 1v3m0 1v1m1-26v1m0 1v1m0 1v22m1-33v2m0 2v6m0 1v1m0 1v3m0 1v13m0 1v2m1-38v1m0 8v1m0 1v6m0 1v1m0 1v3m0 2v6m0 1v6m1-34v1m0 2v2m0 1v8m0 1v11m1-37v2m0 2v1m0 11v1m0 1v2m0 1v4m0 6v3m0 1v10m1-27v14m0 1v3m0 1v7m1-33v12m0 1v10m0 2v2m0 2v1m0 1v3m1-34v1m0 5v1m0 3v18m0 1v5m1-37v1m0 6v2m0 1v11m0 1v3m0 1v1m0 2v8m1-32v2m0 2v9m0 1v5m0 1v2m0 1v5m0 2v2m1-26v1m0 4v3m0 1v2m0 1v11m0 1v2m1-34v2m0 1v25m0 1v5m1-17v4m0 1v5m0 1v6m1-33v14m0 1v8m0 1v9m1-25v17m0 1v7m1-31v2m0 1v15m0 1v1m0 2v9m1-40v2m0 5v13m0 2v6m0 1v11m1-34v1m0 1v7m0 1v3m0 1v6m0 2v3m0 1v1m0 4v2m1-34v6m0 1v2m0 1v1m0 5v3m0 1v7m0 1v7m1-23v5m0 1v8m0 1v8m1-28v5m0 1v5m0 2v7m0 1v7m1-34v1m0 2v1m0 1v1m0 1v4m0 1v1m0 4v11m0 1v5m1-30v4m0 1v4m0 7v1m0 1v1m0 1v8m0 1v1m1-24v1m0 1v13m0 2v5m0 1v1m1-34v1m0 3v1m0 1v8m0 1v13m0 3v1m1-26v3m0 1v11m0 1v6m1-29v1m0 1v7m0 1v2m0 1v12m0 1v1m0 1v2m0 3v1m1-44v1m0 13v1m0 1v2m0 2v5m0 1v16m0 1v2m1-39v1m0 1v1m0 3v3m0 1v15m0 2v2m0 1v9m1-35v1m0 1v12m0 1v9m0 1v2m0 3v2m1-28v3m0 4v2m0 4v15m0 1v2m1-46v3m0 5v1m0 1v2m0 1v1m0 2v4m0 1v7m0 1v10m0 2v1m0 1v2m1-44v1m0 1v2m0 1v21m0 1v1m0 1v3m0 1v9m0 1v2m1-53v1m0 12v2m0 2v4m0 1v4m0 2v4m0 1v6m0 1v3m0 1v1m1-23v3m0 1v5m0 1v7m0 1v13m1-46v3m0 1v5m0 1v7m0 1v7m0 1v7m0 1v2m0 1v2m0 4v3m1-41v2m0 1v3m0 1v2m0 1v12m0 2v1m0 2v1m0 1v1m0 1v1m0 3v2m0 1v2m1-31v6m0 2v3m0 1v6m0 2v3m0 1v5m0 1v2m1-29v1m0 3v9m0 1v2m0 2v1m0 1v3m0 2v4m1-41v9m0 1v5m0 1v3m0 1v9m0 1v3m0 1v2m0 1v4m1-51v1m0 3v1m0 2v1m0 4v1m0 1v9m0 1v4m0 1v1m0 1v3m0 1v2m0 2v2m0 1v4m0 1v2m1-34v1m0 1v7m0 1v9m0 1v4m0 1v11m1-41v1m0 2v11m0 1v6m0 1v10m0 1v1m0 1v1m0 2v3m1-58v1m0 1v1m0 1v2m0 1v12m0 1v2m0 1v5m0 1v3m0 8v1m0 7v1m0 3v1m1-53v1m0 1v1m0 2v10m0 2v8m0 1v4m0 1v3m0 1v2m0 1v2m0 1v1m0 2v1m0 3v1m0 3v1m0 2v2m1-30v19m0 1v2m0 1v2m0 1v4m1-53v2m0 3v1m0 5v6m0 2v2m0 1v8m0 1v1m0 1v1m0 7v3m0 1v9m1-64v1m0 4v1m0 4v1m0 1v4m0 1v7m0 1v8m0 1v5m0 1v11m0 3v1m1-66v1m0 12v1m0 5v1m0 5v2m0 1v3m0 1v1m0 2v1m0 3v2m0 1v17m0 2v10m0 1v2m1-66v1m0 16v4m0 1v2m0 2v1m0 2v2m0 2v5m0 1v5m0 1v3m0 1v1m0 1v2m0 1v6m0 2v4m1-58v1m0 3v1m0 1v1m0 2v2m0 1v6m0 1v2m0 1v1m0 2v1m0 1v6m0 1v1m0 1v4m0 1v2m0 2v1m1-54v2m0 4v1m0 2v1m0 12v1m0 6v1m0 1v1m0 1v9m0 2v7m0 1v2m0 2v4m0 1v1m0 2v3m1-44v2m0 1v2m0 3v1m0 1v5m0 1v5m0 1v1m0 1v4m0 2v2m0 1v5m0 2v4m1-63v1m0 6v1m0 1v2m0 2v1m0 3v2m0 1v14m0 3v2m0 2v3m0 1v1m0 1v1m0 1v1m0 3v1m0 7v1m1-48v1m0 2v1m0 2v4m0 3v4m0 1v3m0 1v1m0 1v5m0 1v3m0 1v14m1-38v1m0 2v4m0 1v11m0 2v18m1-62v1m0 1v1m0 1v1m0 2v1m0 1v1m0 3v25m0 2v7m0 13v1m1-61v1m0 2v1m0 2v1m0 4v1m0 2v1m0 5v4m0 4v1m0 3v4m0 1v1m0 4v1m0 3v5m0 1v9m1-47v13m0 1v1m0 1v2m0 1v3m0 2v2m0 1v1m0 1v1m0 1v6m0 1v2m0 1v1m0 1v5m1-59v2m0 3v3m0 2v2m0 1v1m0 1v2m0 1v11m0 1v6m0 1v7m0 13v1m1-66v1m0 2v3m0 1v8m0 1v1m0 1v2m0 1v7m0 2v6m0 2v2m0 1v5m0 1v1m0 1v1m0 15v1m1-59v1m0 1v6m0 2v4m0 1v2m0 1v2m0 3v4m0 3v8m0 3v9m0 1v1m0 6v1m1-53v1m0 1v1m0 10v2m0 1v16m0 1v1m0 1v1m0 1v7m0 1v8m1-54v1m0 1v3m0 8v1m0 2v1m0 1v7m0 1v7m1-33v1m0 2v4m0 1v15m0 1v2m0 1v1m1-32v1m0 1v7m0 1v1m0 2v13m0 1v2m1-25v1m0 1v7m0 1v3m0 1v3m0 1v5m0 1v7m0 1v2m0 2v1m1-47v6m0 1v3m0 1v9m0 1v4m0 1v2m0 1v1m1-20v1m0 1v6m0 4v11m0 1v2m0 1v2m0 1v3m0 1v3m1-48v1m0 1v13m0 2v9m0 1v3m0 1v1m1-55v2m0 5v1m0 9v4m0 1v15m0 1v3m1-43v2m0 1v1m0 1v7m0 3v3m0 3v1m0 2v7m0 1v5m0 1v1m0 1v3m0 1v1m0 10v1m1-54v1m0 1v6m0 1v3m0 2v3m0 1v3m0 1v1m0 1v1m0 1v9m0 1v2m0 4v1m0 1v1m1-54v1m0 1v1m0 1v4m0 1v3m0 1v7m0 1v4m0 2v2m0 10v1m0 4v1m0 1v1m0 1v1m0 1v1m1-36v1m0 5v2m0 1v1m0 1v8m0 1v7m0 1v7m0 2v1m0 2v1m0 1v1m0 2v1m1-59v2m0 3v4m0 1v8m0 2v12m0 1v1m0 3v1m1-22v1m0 1v1m0 2v1m0 2v1m0 1v1m0 2v6m0 1v12m0 1v4m0 1v2m0 1v2m0 2v1m1-51v2m0 4v1m0 5v3m0 1v1m0 1v8m0 3v4m0 1v3m0 8v1m0 1v2m0 1v3m1-43v1m0 2v2m0 1v9m0 1v1m0 1v6m0 1v5m0 1v4m0 2v1m0 2v1m0 13v1m0 19v1m1-74v1m0 2v4m0 1v14m0 1v3m0 1v4m0 4v1m0 8v5m0 1v1m1-62v1m0 17v2m0 1v1m0 1v1m0 1v1m0 4v11m0 1v9m0 2v3m0 1v6m1-76v1m0 5v1m0 16v1m0 2v1m0 2v28m0 2v3m0 4v1m1-40v1m0 2v24m0 2v1m1-31v20m1-25v1m0 4v3m0 3v2m0 2v15m0 1v2m0 2v2m0 2v1m1-37v1m0 1v1m0 4v16m0 1v4m0 1v1m1-22v1m0 1v1m0 1v2m0 1v17m0 1v3m1-23v1m0 1v1m0 1v1m0 2v14m0 1v3m0 2v2m0 1v1m0 1v1m1-37v1m0 4v1m0 6v1m0 4v2m0 3v4m0 1v3m0 2v3m0 1v1m0 3v1m1-46v2m0 1v1m0 4v1m0 4v1m0 2v15m1-23v2m0 1v1m0 1v16m0 1v4m0 1v4m1-31v3m0 1v12m0 1v3m0 2v6m1-35v1m0 1v1m0 1v3m0 12v4m0 1v11m0 1v3m0 3v1m0 1v1m0 4v1m1-56v1m0 10v13m0 1v5m0 2v11m1-24v2m0 1v1m0 1v1m0 1v2m0 1v1m0 1v6m0 2v7m0 1v2m0 1v1m0 5v1m1-53v1m0 2v1m0 1v3m0 2v1m0 2v1m0 1v5m0 2v2m0 1v15m0 2v1m0 1v1m1-61v1m0 1v1m0 4v1m0 3v1m0 2v2m0 2v1m0 1v8m0 1v4m0 1v6m0 1v4m0 1v2m0 3v1m0 3v1m0 3v1m1-53v1m0 3v1m0 1v15m0 2v5m0 1v6m0 4v1m1-36v1m0 2v2m0 1v19m0 9v1m0 2v1m1-35v2m0 1v3m0 1v20m0 1v5m1-40v1m0 2v3m0 1v4m0 1v2m0 1v5m0 1v1m0 1v14m1-25v1m0 5v5m0 1v1m0 1v3m0 3v13m0 1v1m1-34v2m0 1v16m0 7v1m0 4v1m1-49v1m0 3v12m0 2v8m0 1v1m0 1v2m1-30v2m0 6v14m0 1v3m0 2v1m0 2v4m0 1v5m1-40v2m0 1v6m0 1v4m0 1v11m0 3v7m1-27v9m0 1v3m0 1v2m0 1v8m0 1v4m1-34v2m0 1v7m0 2v7m0 1v3m0 1v2m0 10v1m1-40v2m0 2v12m0 1v2m0 1v4m0 2v2m0 3v2m0 2v1m0 1v1m1-35v4m0 1v1m0 1v1m0 2v1m0 4v12m0 1v4m0 1v1m0 1v1m0 1v1m0 3v1m1-36v3m0 1v22m0 1v1m1-36v1m0 2v1m0 1v8m0 1v18m0 3v1m0 3v1m1-31v6m0 1v13m0 1v2m0 3v1m1-24v10m0 1v10m0 1v4m0 1v1m1-24v4m0 1v10m0 2v1m1-27v1m0 1v10m0 1v2m0 1v2m0 1v6m0 1v1m1-27v2m0 1v1m0 1v6m0 1v13m0 1v1m0 3v1m1-32v1m0 4v2m0 1v12m0 1v8m0 4v1m1-53v1m0 9v1m0 1v1m0 1v1m0 1v2m0 1v16m0 2v1m0 1v3m0 1v1m0 4v1m1-43v1m0 1v3m0 1v1m0 1v4m0 1v5m0 1v1m0 1v2m0 2v14m0 7v1m1-31v1m0 1v14m0 1v8m0 2v3m1-38v4m0 1v2m0 1v1m0 1v14m0 1v10m0 2v1m1-50v1m0 6v5m0 1v3m0 1v5m0 1v1m0 1v2m0 1v1m0 1v6m0 2v4m0 1v6m0 1v1m0 3v2m1-42v18m0 1v5m0 1v2m0 1v3m0 2v1m1-29v1m0 6v1m0 2v14m0 1v1m0 1v6m0 2v2m0 7v1m0 1v1m1-37v5m0 2v1m0 1v1m0 1v22m0 3v1m0 1v1m1-35v1m0 1v11m0 1v7m0 1v5m1-40v9m0 3v16m0 2v1m1-51v1m0 14v1m0 1v2m0 1v4m0 2v5m0 3v2m0 3v4m0 1v2m0 1v3m0 1v5m0 1v4m0 4v1m1-45v7m0 1v2m0 1v9m0 1v1m0 3v8m0 3v1m0 1v2m0 3v1m0 1v1m1-46v10m0 1v11m0 3v1m0 4v4m0 7v1m1-48v4m0 1v4m0 1v5m0 1v1m0 1v1m0 1v5m0 1v1m0 1v1m0 1v1m0 1v5m0 2v1m0 3v1m0 8v1m1-69v2m0 2v16m0 1v3m0 1v1m0 2v2m0 1v1m0 1v4m0 1v2m0 1v1m1-30v1m0 1v1m0 2v2m0 2v1m0 1v5m0 1v7m0 1v3m0 1v1m0 1v1m0 1v1m0 3v1m0 7v1m0 3v1m1-43v1m0 2v1m0 4v3m0 1v6m0 1v12m1-25v1m0 1v3m0 2v10m0 1v1m0 1v1m0 3v2m0 1v4m0 1v2m0 1v2m0 1v1m0 2v1m1-53v1m0 1v9m0 1v3m0 1v7m0 1v3m0 2v2m0 3v1m0 6v1m1-53v1m0 32v10m0 1v2m0 1v1m0 3v4m0 1v4m0 2v1m1-57v1m0 3v1m0 5v1m0 1v7m0 1v1m0 1v1m0 1v2m0 1v14m0 1v2m0 1v1m1-42v5m0 1v8m0 7v9m0 1v4m0 3v1m0 5v1m1-48v2m0 3v5m0 4v7m0 1v1m0 1v2m0 1v7m0 1v1m0 1v2m0 1v5m0 1v1m0 1v3m0 1v1m0 2v1m1-51v2m0 2v2m0 1v5m0 1v4m0 1v2m0 1v9m0 2v1m1-22v9m0 1v5m0 1v12m0 1v1m1-29v24m0 1v1m1-33v12m0 5v6m0 1v8m1-30v4m0 2v24m0 16v1m1-46v1m0 2v3m0 1v1m0 1v2m0 6v1m0 4v1m0 1v1m0 3v3"/><path stroke="#2B3458" d="M29.5 328v2m0 6v2m0 9v1m1-6v1m2 0v1m2-5v1m0 3v1m0 6v1m0 15v1m1-17v1m1 4v1m0 19v1m1-27v1m1 5v2m0 5v3m0 1v2m1-9v1m0 21v1m1-34v1m0 10v1m0 19v1m1-23v1m0 11v1m0 1v1m0 6v1m1-25v1m0 8v1m0 6v1m0 8v1m1-12v1m0 7v1m1 2v1m1-19v2m1 10v1m0 6v1m1-21v1m0 4v1m0 5v1m0 7v1m1-33v1m0 14v1m1-5v1m0 13v1m1 4v1m1-28v1m0 12v2m0 4v1m0 3v1m3-11v1m1 3v1m0 8v1m0 1v2m1-11v1m0 1v1m1-19v1m0 2v1m1 12v1m0 3v1m0 3v1m0 2v1m1-11v1m0 7v1m1-33v1m0 9v1m0 5v1m1-10v1m0 11v2m0 6v1m1-9v1m0 6v2m0 1v1m1-20v1m0 3v1m0 15v1m0 3v1m2-20v1m0 3v1m0 13v1m1-19v1m0 5v1m0 7v1m1-14v1m1-1v1m0 8v1m1-20v1m0 20v1m0 7v1m1-22v1m0 10v2m1-20v1m0 2v1m0 19v1m1-11v1m0 3v1m1-8v1m0 5v1m0 2v1m0 5v2m1-16v1m0 2v1m0 11v1m2-11v1m0 5v1m1-4v1m1 1v1m1-6v1m0 1v1m1-10v1m0 7v1m1-14v1m0 3v1m0 6v2m1-17v1m0 20v1m1-11v1m0 8v1m1-15v1m0 6v1m0 7v1m1-21v1m0 4v1m1-9v1m0 17v1m0 10v1m1-8v2m0 5v1m1-19v1m0 17v1m1-24v1m0 11v1m1-27v1m0 4v1m0 7v1m0 15v1m0 5v1m1-24v2m1-5v1m0 15v1m1-21v1m0 12v1m0 9v1m0 2v1m1 4v1m1-16v1m0 10v1m2-31v1m0 9v2m0 4v1m0 6v1m1-19v1m0 3v1m0 5v1m0 7v1m1-24v1m0 7v1m0 7v1m1-15v1m0 2v1m0 12v2m0 4v1m1-23v1m0 9v1m0 10v2m0 3v1m1-8v1m0 2v2m1-21v1m0 19v1m0 3v1m1-41v1m0 26v1m0 3v1m0 3v1m0 10v1m1-16v1m0 4v1m1-16v1m0 6v1m0 12v1m1-49v1m0 15v1m0 8v1m2 17v1m0 2v1m1-29v2m0 2v1m0 12v1m0 4v1m0 4v1m1-49v1m0 9v1m0 7v1m0 14v1m0 12v1m1-37v1m0 43v1m0 2v1m1-51v1m0 11v1m0 9v1m0 5v1m0 3v1m0 4v1m1-35v1m0 6v1m0 7v1m0 6v1m0 1v1m0 4v1m0 2v1m0 2v1m1-25v1m0 11v2m0 10v1m0 8v1m1-20v1m0 1v1m0 4v1m0 3v1m1-50v1m0 16v1m0 16v1m0 2v1m0 4v1m0 1v1m1-16v1m0 5v1m0 5v1m1-13v1m1-19v1m1 38v1m0 9v1m1-25v1m0 2v1m1-24v1m0 14v1m0 6v1m1-44v1m0 4v1m0 10v1m1-3v1m0 11v2m0 5v1m0 22v1m1-1v1m1-45v1m0 3v1m0 2v1m0 16v1m0 7v1m1-32v1m0 4v1m0 15v1m1-2v1m1-22v1m0 7v1m0 3v1m0 3v1m0 5v1m1-28v1m0 3v1m0 9v1m0 4v1m1-15v1m0 24v1m0 2v1m0 3v1m1-44v1m0 13v2m1-24v1m0 4v1m0 15v1m1-36v1m0 7v1m0 1v1m0 16v1m0 5v1m0 1v1m1-30v1m0 3v2m0 3v1m0 3v1m1-32v1m0 8v1m0 3v1m0 7v1m0 4v1m1-3v1m0 10v1m0 7v1m0 7v1m0 2v1m0 2v1m1-53v1m0 1v1m0 4v1m0 8v2m0 12v1m1-6v2m0 6v1m0 20v1m1-20v3m0 4v1m0 15v1m1-16v1m0 5v1m1-23v1m0 18v1m0 4v1m0 10v1m1-44v1m0 13v1m0 3v1m0 12v1m0 10v1m1 1v1m1-39v1m2-1v2m1-6v1m0 21v1m0 6v1m1-20v1m0 20v1m1-15v1m0 15v1m0 14v1m1-22v3m0 8v2m1-32v1m1 4v1m0 1v1m0 16v1m0 4v1m1-24v1m0 12v1m0 3v2m1-22v1m0 15v1m0 11v1m0 3v1m1-22v1m0 6v1m1-4v1m0 1v1m0 6v2m1-31v1m0 9v1m0 5v2m0 2v1m0 15v2m1-30v1m0 4v1m1-22v1m0 15v2m0 5v1m1 13v1m1-30v1m0 20v1m0 13v1m1-38v1m0 2v1m0 5v1m0 1v1m1 0v1m0 1v1m0 3v3m1-20v1m0 2v1m0 17v1m1-22v1m0 9v1m0 1v1m1-6v1m0 6v2m0 4v1m1-21v1m0 11v1m1-9v1m0 3v1m0 2v1m0 8v1m1-32v1m0 12v1m0 7v1m0 3v1m0 14v1m1-40v2m0 12v1m0 2v1m1-13v1m0 22v1m0 4v1m2-39v1m0 7v1m0 27v2m1-19v1m0 13v1m0 8v1m1-17v1m1-3v1m1-2v1m0 2v1m0 2v1m0 8v1m1-26v1m0 8v1m0 13v1m1-20v1m0 12v1m0 8v1m1-46v1m0 14v1m1 5v1m0 1v1m1 11v1m1-21v1m0 2v1m0 27v1m1-26v1m0 1v1m0 2v1m0 24v2m1-22v1m0 5v1m0 2v1m1 1v1m0 1v1m0 10v1m0 1v1m1 5v1m1-19v1m0 7v1m1-26v1m1-11v1m0 11v2m0 10v1m0 2v1m0 3v1m0 10v1m1-34v1m0 2v1m0 22v1m0 1v1m1-37v1m0 10v1m0 11v3m0 12v1m1-49v1m0 8v1m0 20v1m0 3v1m1-26v1m0 9v1m0 1v1m0 7v1m1-5v1m0 3v1m0 1v1m1-20v1m0 1v1m0 4v1m0 6v1m1-8v1m0 11v1m0 1v1m1-20v1m0 3v1m0 7v1m0 4v1m1-22v1m0 24v1m0 2v1m0 14v1m1-53v1m0 19v1m0 2v1m0 14v1m1-33v1m0 24v1m0 6v1m0 4v1m1-47v1m0 4v1m0 5v1m0 34v1m0 1v1m0 3v1m1-45v1m0 14v1m0 2v1m0 9v1m1-11v1m0 5v1m2-26v1m0 16v1m1 19v1m1-20v1"/><polyline points="29.3,346.9 32.4,350.2 35.4,353.3 38.5,356.0 41.6,358.4 44.6,360.5 47.7,362.3 50.8,363.8 53.9,365.1 56.9,366.1 60.0,366.8 63.1,367.4 66.1,367.7 69.2,367.8 72.3,367.6 75.3,367.3 78.4,366.9 81.5,366.2 84.6,365.4 87.6,364.5 90.7,363.4 93.8,362.2 96.8,360.9 99.9,359.5 103.0,357.9 106.0,356.4 109.1,354.7 112.2,353.0 115.2,351.3 118.3,349.5 121.4,347.7 124.5,345.9 127.5,344.1 130.6,342.3 133.7,340.5 136.7,338.8 139.8,337.1 142.9,335.5 145.9,333.9 149.0,332.4 152.1,331.0 155.1,329.7 158.2,328.6 161.3,327.5 164.4,326.6 167.4,325.8 170.5,325.2 173.6,324.8 176.6,324.5 179.7,324.5 182.8,324.6 185.8,324.9 188.9,325.5 192.0,326.3 195.1,327.4 198.1,328.7 201.2,330.3 204.3,332.2 207.3,334.3 210.4,336.8" fill="none" stroke="#4E9AA6" stroke-width="1"/></g><text class="t" x="14.0" y="362.9">10</text><text class="t" x="14.0" y="343.2">20</text><text class="t" x="14.0" y="323.4">30</text><text class="t" x="14.0" y="303.8">40</text><text class="t" x="14.0" y="284.1">50</text><text class="t" x="55.2" y="392.9">10,000</text><text class="t" x="81.0" y="392.9">20,000</text><text class="t" x="106.9" y="392.9">30,000</text><text class="t" x="132.8" y="392.9">40,000</text><text class="t" x="158.7" y="392.9">50,000</text><text class="t" x="184.5" y="392.9">60,000</text><text class="t" x="210.4" y="392.9">70,000</text><text class="t" x="119.9" y="399.3" style="font-size:4.85px">Item number (5min average)</text><text class="t" transform="translate(8.9,332.5) rotate(-90)" style="font-size:4.6px">ug/m3</text><rect x="22.2" y="280.1" width="39.2" height="20.0" rx="0.6" fill="#EEEEF4" stroke="#F8F8FB" stroke-width="0.6"/><circle cx="29.4" cy="284.0" r="0.55" fill="#4C72B0"/><circle cx="29.4" cy="289.8" r="0.55" fill="#111"/><rect x="24.0" y="295.6" width="9.2" height="0.9" fill="#64B5CD"/><text x="37.8" y="285.5" style="font-size:4.15px;fill:#333">Train</text><text x="37.8" y="291.3" style="font-size:4.15px;fill:#333">Test</text><text x="37.8" y="297.5" style="font-size:4.15px;fill:#333">Predictions</text><text x="204.5" y="405.8" style="font-size:9px;text-anchor:middle;fill:#333;stroke:#333;stroke-width:0.3">(e)</text><rect x="240.0" y="283.6" width="183.30" height="102.00" fill="#EAEAF2"/><clipPath id="cf"><rect x="240.0" y="283.6" width="183.30" height="102.00"/></clipPath><g clip-path="url(#cf)" fill="none" stroke-width="1"><path stroke="#A9B7DA" d="M247.5 346v1m1-24v3m0 2v1m0 1v1m0 29v1m0 9v1m1-40v1m0 35v2m1-38v2m0 6v1m0 23v3m0 12v1m1-52v1m0 1v1m0 1v3m0 5v1m0 36v1m1-38v1m0 1v2m0 29v1m0 7v1m1-45v2m0 4v1m0 27v1m1-35v3m0 1v2m0 1v1m1-11v1m0 1v1m0 1v1m1-10v1m0 12v2m2 1v1m1-4v2m1 2v1m0 2v1m0 2v3m1-8v1m0 4v1m0 1v2m0 1v1m1-16v2m0 1v2m0 3v1m0 2v1m0 2v1m1-6v1m0 2v1m0 4v1m1-19v1m0 1v1m0 2v1m0 5v3m1-16v1m0 8v1m0 29v1m1-19v2m1-26v1m0 7v1m0 1v1m0 5v1m0 2v1m1-6v1m1-8v2m0 5v1m1-2v1m0 4v2m0 4v1m1-13v2m0 1v1m0 30v1m1-36v1m1-3v1m1 5v1m1-5v1m0 1v1m0 8v1m1-23v1m1 8v1m0 5v1m1 2v1m1-14v1m0 4v1m0 2v1m0 1v1m1 3v1m1-17v1m0 4v1m0 1v4m1-9v1m1 4v1m0 1v1m1 6v2m0 13v1m1-26v3m0 1v1m1-2v2m1-4v1m2 8v1m0 1v1m1-8v1m1-2v2m0 2v1m0 7v1m1-19v1m0 1v1m1 1v1m0 1v2m1 4v1m2-16v1m0 1v2m0 35v1m1-38v1m0 5v2m0 4v2m0 3v1m1-13v1m0 3v2m1-10v1m0 19v1m1-23v1m0 6v1m0 2v1m0 14v1m1-16v1m0 2v1m0 5v1m1-8v1m1-12v1m0 8v1m0 27v1m2-43v1m0 1v1m0 6v3m0 1v1m1-9v3m1-11v2m0 2v1m0 1v1m0 3v1m1-10v1m0 1v1m0 26v3m1-22v1m0 2v2m1-6v1m1-19v1m0 3v2m0 1v1m0 1v1m0 1v1m0 9v1m1-27v1m0 2v2m0 3v1m0 3v1m0 5v1m0 1v1m1-12v1m0 2v1m0 1v1m1-3v1m0 6v1m0 4v1m1-12v1m0 6v3m0 3v1m0 1v1m1-23v2m0 4v1m0 4v1m0 40v1m1-56v1m0 6v1m0 28v1m1-22v2m0 3v1m1-10v1m0 6v1m0 2v1m0 33v1m1-13v2m0 1v2m1-73v1m0 15v1m0 3v1m0 2v2m0 2v1m0 45v1m1-42v1m0 7v1m0 3v1m1-25v1m0 1v3m0 6v1m0 7v1m1-24v1m0 1v1m0 2v1m0 1v1m0 2v1m1-14v1m0 3v1m0 2v1m0 11v1m1-12v1m0 8v3m0 1v1m0 8v1m1-34v1m0 6v1m0 62v1m1-64v1m0 4v2m0 12v1m1-9v1m0 3v1m0 3v1m0 1v1m0 2v1m0 38v1m1-29v1m0 9v1m1-40v1m0 7v1m0 2v1m0 1v1m0 1v1m0 2v1m1-20v1m0 2v1m0 44v1m0 2v3m0 2v1m0 2v1m1-79v1m0 2v4m0 3v2m0 5v1m0 2v1m0 7v1m0 2v1m0 19v1m1-26v1m0 1v1m1-28v1m0 8v1m0 4v1m0 6v1m0 4v2m0 45v1m0 1v2m1-74v1m0 7v1m0 56v1m1-55v1m1-4v4m0 1v1m0 1v3m0 2v1m0 2v1m0 4v1m0 4v1m0 1v1m1-18v1m0 1v1m0 1v2m0 36v1m0 1v1m0 2v1m0 3v1m1-41v1m0 24v1m0 4v1m1-52v2m0 1v1m0 2v1m0 42v1m0 4v1m1-58v1m0 1v1m0 1v2m0 41v1m0 1v2m0 2v1m0 1v1m1-77v1m0 11v4m0 2v1m0 9v2m0 16v1m1-19v1m0 41v1m0 1v1m0 1v2m1-66v1m0 5v3m0 1v1m0 21v1m0 11v1m1-54v1m0 48v1m0 4v1m0 5v1m0 3v1m0 3v1m1-72v1m0 57v1m0 1v1m0 1v1m1-62v1m0 38v1m0 1v1m0 7v1m1-53v1m0 5v1m0 11v2m0 1v2m0 40v1m1-64v1m0 41v1m0 4v1m1-45v1m0 8v1m0 4v1m0 56v1m0 3v1m1-74v1m0 1v1m0 1v1m0 16v1m0 26v1m0 23v1m0 1v1m0 5v1m0 4v2m0 3v1m1-85v1m0 3v1m0 2v1m0 40v1m0 2v1m0 5v1m0 1v1m0 4v2m1-71v1m0 10v1m0 5v1m0 4v1m0 56v1m1-82v2m0 5v1m0 1v1m0 50v1m0 2v2m0 2v1m1-54v1m0 2v1m0 7v1m0 34v1m0 3v1m0 3v1m0 1v1m0 1v1m0 3v1m1-66v2m0 7v1m0 34v1m1-39v1m0 30v1m0 6v3m0 2v1m1-53v1m0 3v1m0 1v3m0 50v2m1-51v1m0 7v2m1 3v1m0 7v1m0 18v1m0 16v2m1-52v1m0 45v2m1-59v1m0 6v1m0 1v1m0 12v1m1-17v1m0 3v1m0 6v1m0 34v1m0 5v1m1-48v1m0 2v1m0 33v1m0 2v2m1-41v1m0 2v1m0 3v1m0 43v2m1-68v1m0 10v2m0 1v1m0 2v1m0 1v1m0 35v1m0 3v2m0 1v1m0 6v1m1-55v1m0 16v1m0 1v1m0 23v1m0 2v1m0 1v2m1-74v1m0 7v1m0 3v1m0 15v1m0 41v1m0 2v2m0 2v1m0 1v1m1-83v1m0 7v1m0 48v3m0 10v1m1-58v4m0 34v1m0 1v1m0 3v1m0 3v1m1-56v1m0 3v3m0 2v1m0 50v1m0 2v2m0 2v1m0 1v1m1-72v1m0 5v1m0 1v1m0 1v1m0 43v1m0 1v1m0 1v2m0 4v1m1-56v1m0 6v2m0 2v1m0 1v2m0 32v1m0 2v1m1-48v1m0 2v1m0 1v2m0 2v1m0 1v1m0 27v2m0 4v1m0 3v1m0 3v1m0 2v1m1-65v1m0 2v2m0 32v1m0 1v1m0 2v2m0 4v1m1-60v1m0 5v1m0 1v1m0 2v2m0 3v2m0 1v2m0 2v1m1-17v1m0 3v1m0 33v1m0 12v6m0 2v1m1-47v1m0 40v2m1-53v1m0 2v1m0 4v1m0 44v1m1-57v1m0 6v2m0 1v1m0 35v1m0 5v1m0 1v2m1-59v1m0 2v3m0 25v2m0 32v1m0 1v1m1-56v1m0 45v3m1-53v1m0 3v1m0 29v1m0 1v1m0 9v1m0 3v1m1-44v1m0 7v2m0 35v1m0 2v1m1-44v1m0 3v3m0 28v1m1-41v1m0 2v1m0 3v2m0 20v1m0 2v1m0 3v1m1-33v1m0 2v1m0 38v1m1-46v1m0 34v1m0 1v2m0 4v1m0 4v1m1-59v1m0 3v1m0 28v1m0 17v1m0 1v1m0 1v1m1-60v1m0 3v1m0 49v2m0 1v3m0 4v1m1-70v1m0 3v2m0 2v2m0 1v1m0 1v1m0 2v1m0 41v2m0 1v1m0 7v1m0 3v1m0 7v1m1-75v2m0 2v1m0 1v1m0 42v1m0 3v1m0 2v1m0 2v1m0 1v2m0 3v1m1-74v1m0 3v1m0 2v2m0 4v1m0 51v1m0 3v1m1-56v1m0 1v1m0 2v2m0 39v1m0 8v1m0 6v1m1-54v2m0 3v2m0 3v1m0 3v1m0 26v1m0 5v1m0 2v2m0 1v1m1-58v3m0 2v1m0 2v1m0 4v1m0 2v1m0 39v1m0 3v2m0 2v1m1-85v1m0 2v3m0 4v2m0 7v1m0 1v1m0 5v1m0 3v2m0 3v1m0 1v2m0 29v2m0 2v1m1-56v1m0 1v2m0 4v1m0 1v1m0 32v1m0 13v1m0 1v2m0 1v1m0 1v1m1-69v1m0 3v1m0 1v1m0 54v1m0 1v3m0 1v2m1-79v1m0 13v1m0 1v2m0 2v1m0 37v2m0 1v1m0 1v1m0 1v1m0 5v1m1-53v1m0 4v1m0 47v2m1-77v2m0 2v1m0 5v1m0 38v1m0 7v1m0 1v3m1-57v1m0 1v1m0 3v2m0 11v1m0 29v1m0 5v1m0 3v1m1-64v1m0 2v1m0 6v1m0 4v1m0 2v1m0 2v1m0 2v1m0 33v1m0 1v1m0 7v2m1-60v1m0 1v1m0 7v1m0 3v3m0 25v1m0 19v1m0 4v1m1-72v1m0 5v1m0 3v1m0 1v1m0 39v1m0 19v1m1-67v1m0 1v2m0 1v1m0 2v2m0 1v2m0 6v1m0 7v1m0 1v1m0 16v1m0 14v2m1-73v1m0 7v1m0 54v1m0 5v1m0 1v1m0 1v1m1-77v1m0 1v4m0 3v3m0 51v1m0 1v1m0 4v1m0 2v1m1-71v1m0 1v1m0 4v1m0 1v1m0 1v1m0 48v1m0 6v1m0 2v2m0 3v2m1-75v1m0 7v1m0 1v1m0 4v2m0 45v1m0 2v1m0 2v1m1-55v1m0 1v1m0 3v1m0 1v1m0 4v1m0 26v1m0 1v1m0 3v1m0 2v1m0 3v1m1-51v2m0 34v1m0 5v2m1-55v1m0 1v1m0 6v2m0 3v1m0 1v1m0 4v1m0 28v2m0 4v2m0 2v2m0 2v1m0 1v2m1-64v2m0 3v1m0 5v1m0 34v1m0 1v2m0 8v1"/><path stroke="#4C72B0" d="M247.5 320v1m0 1v2m0 2v1m0 1v2m1-4v2m0 4v1m0 25v2m0 3v1m0 1v1m0 1v1m0 1v1m1-41v1m0 5v1m0 28v1m1-32v1m0 28v1m1-35v1m0 1v1m0 3v2m0 15v1m0 22v1m1-32v2m0 25v1m0 2v1m1-34v1m0 4v2m0 1v1m0 22v2m0 1v1m1-36v1m0 2v1m0 3v1m0 3v1m0 2v1m0 1v1m0 7v1m0 5v1m1-31v3m0 7v1m1-10v1m0 2v3m0 7v1m1 24v1m1-32v1m0 1v2m0 28v2m1-37v2m1-4v1m0 4v1m0 9v1m1-6v1m0 2v1m1-6v1m0 2v1m0 23v1m1-21v1m1-9v1m0 7v1m1-14v1m0 1v1m0 8v1m0 19v1m1-14v1m0 1v1m1-17v1m0 3v1m0 2v3m0 3v3m1-23v1m0 5v2m0 31v1m1-35v3m1 9v1m1-5v1m0 24v2m1-28v1m1 26v1m1-33v1m0 4v1m0 10v1m1-13v1m0 10v1m1-22v1m0 32v1m0 1v1m1-31v1m0 1v1m0 1v1m0 20v1m1-19v1m0 1v1m1-10v1m0 3v1m0 1v1m0 1v1m1-1v2m1-8v1m0 8v1m1-16v1m0 1v1m0 1v1m0 1v1m0 1v1m0 1v1m1-5v3m0 22v1m0 3v1m1-23v1m0 1v1m1-9v1m0 3v1m0 15v1m1-22v1m0 1v1m1-6v3m0 3v2m0 13v1m0 3v1m2-12v1m1-14v1m0 2v3m0 14v1m1-17v1m0 1v1m0 5v1m0 1v2m0 1v1m1-20v1m0 2v1m1 1v2m0 27v1m2-35v2m0 2v1m0 15v1m1-21v2m0 7v1m0 19v1m1-16v1m0 2v1m1-11v2m1-8v1m0 5v3m0 9v1m1-20v1m0 8v1m0 7v2m0 2v1m1-10v2m0 1v1m1-13v1m0 4v1m1-9v1m0 5v2m0 1v1m0 16v1m0 5v1m0 2v1m1-35v2m0 32v1m1-30v2m1-17v1m0 9v3m0 10v1m0 10v1m1-39v1m0 3v1m0 3v1m0 6v1m0 28v1m0 3v1m1-37v3m0 2v2m0 10v1m0 5v1m1-17v1m0 1v1m1-21v1m0 2v3m0 1v1m0 29v1m0 3v1m0 1v2m1-40v1m0 4v1m0 6v1m0 20v1m0 3v1m1-50v1m0 8v1m0 5v1m0 8v1m0 3v1m0 23v1m1-44v3m0 3v1m0 27v1m0 6v2m1-47v1m0 3v1m0 5v1m1 2v2m0 1v1m0 2v2m0 2v1m1-24v1m0 1v1m0 2v1m0 1v1m0 1v1m0 27v1m1-42v1m0 4v4m0 2v1m0 2v2m0 2v2m0 6v1m0 1v3m0 2v2m0 12v1m1-34v1m0 2v1m0 1v1m0 14v1m1 12v1m1-52v2m0 33v1m0 1v1m0 1v1m0 1v1m0 8v1m0 2v1m0 1v1m0 2v1m1-62v1m0 3v1m0 42v1m0 7v2m1-34v1m0 1v1m1-19v1m0 4v2m0 2v1m0 24v1m1-45v1m0 7v1m0 3v1m0 29v1m0 5v1m0 1v2m0 8v1m1-57v2m0 2v1m0 1v1m0 1v1m0 1v2m0 9v1m0 2v1m0 5v1m0 15v1m0 7v2m0 1v1m1-65v1m0 8v1m0 1v1m0 1v1m0 5v1m0 4v1m0 1v1m0 1v2m0 32v2m0 2v1m1-65v2m0 2v2m0 2v1m0 2v1m0 29v1m0 14v1m0 3v1m0 2v1m1-64v2m0 4v1m0 2v1m0 2v1m0 2v3m0 1v1m0 6v1m0 26v1m0 7v1m1-50v1m0 9v1m0 2v1m0 32v1m0 4v1m1-62v1m0 1v2m0 11v5m0 15v1m0 4v1m0 3v2m1-33v1m0 8v1m0 1v2m0 18v1m1-37v1m0 1v1m0 3v2m0 28v1m0 11v1m1-76v1m0 2v2m0 4v1m0 1v1m0 2v1m0 3v1m0 2v1m0 1v1m0 1v1m0 2v1m0 2v2m0 3v1m0 2v1m0 11v2m0 10v1m0 3v1m1-37v2m0 2v2m0 21v1m0 2v1m0 4v1m0 4v1m1-56v1m0 6v1m0 4v1m0 5v2m0 2v1m0 33v1m0 7v2m1-73v1m0 1v1m0 4v2m0 2v1m0 12v1m0 4v1m0 7v2m0 12v1m0 9v1m0 7v1m0 1v1m1-61v1m0 2v1m0 2v1m0 5v1m0 1v1m0 18v1m0 9v2m0 12v1m0 2v1m1-44v2m0 1v1m0 22v2m0 2v1m0 3v1m0 2v3m0 3v1m1-60v1m0 1v1m0 1v1m0 1v1m0 13v1m0 1v3m0 16v1m0 2v1m0 1v1m0 1v1m1-39v2m0 25v1m0 3v1m1-47v1m0 1v1m0 2v1m0 2v2m0 12v1m0 21v1m0 4v1m1-49v1m0 2v1m0 19v1m0 5v3m0 1v1m0 1v1m0 1v1m0 7v1m1-56v1m0 7v1m0 6v1m0 11v1m0 2v2m0 28v1m1-43v1m0 1v2m0 3v1m1-22v2m0 3v1m0 2v1m0 14v1m0 4v3m0 1v1m1-58v1m0 2v2m0 1v1m0 23v1m0 4v1m0 1v2m0 12v1m0 4v2m0 3v2m0 3v1m1-66v1m0 2v1m0 1v4m0 1v2m0 2v1m0 2v1m0 38v1m0 1v1m1-58v1m0 1v1m0 18v1m0 7v1m0 1v2m0 3v2m0 1v1m0 1v1m0 2v1m0 3v1m0 3v2m1-55v2m0 6v1m0 2v1m0 1v2m0 1v1m0 31v1m0 9v1m0 5v1m1-64v2m0 3v1m0 29v1m0 1v2m1-30v1m0 1v1m0 2v1m0 2v1m0 36v1m0 3v1m0 2v1m0 1v3m1-62v1m0 3v3m0 1v1m0 2v2m0 5v1m0 2v2m0 1v1m0 13v1m0 6v2m0 15v3m0 1v1m0 2v1m0 12v1m1-70v2m0 2v1m0 36v2m0 1v1m0 3v1m1-44v4m0 1v1m0 1v1m0 29v1m0 3v1m0 2v1m0 7v1m0 2v2m1-72v2m0 5v1m0 6v2m0 1v1m0 1v1m0 6v1m0 2v1m0 27v1m1-42v2m0 1v1m0 14v1m0 26v1m0 7v1m1-60v1m0 2v1m0 25v1m1-27v1m0 3v1m0 1v2m0 24v2m1-35v1m0 39v3m0 2v1m0 1v1m1-23v1m0 14v1m1-20v1m0 1v1m0 25v1m0 4v1m0 1v1m0 3v1m1-49v1m0 1v2m0 7v1m0 24v1m0 1v2m1-44v1m0 2v1m0 5v1m0 2v1m0 1v2m0 3v1m1-16v2m0 1v2m0 30v1m1-25v1m0 23v1m0 3v1m1-35v2m0 1v1m0 2v2m0 24v1m0 1v1m0 1v2m0 1v1m0 2v1m0 2v1m1-66v1m0 3v1m0 5v1m0 1v1m0 23v1m0 18v1m0 7v1m1-51v1m0 5v1m0 7v1m1-25v1m0 2v1m0 1v1m0 3v1m0 4v1m0 17v1m0 13v1m0 3v1m0 1v1m0 3v1m1-74v1m0 7v1m0 1v1m0 1v1m0 4v3m0 39v1m0 1v1m1-53v1m0 6v4m0 24v1m0 2v2m1-36v1m0 2v1m0 4v1m0 36v1m0 2v2m0 1v1m1-53v1m0 1v1m0 2v1m0 3v1m0 31v1m0 6v1m1-46v1m0 1v1m0 4v1m0 38v1m1-37v1m0 4v1m0 25v1m0 1v1m0 2v1m0 1v1m0 2v1m0 2v2m1-57v1m0 30v1m0 2v1m1-43v1m0 3v1m0 7v1m0 1v1m0 17v1m0 15v1m0 2v1m0 2v1m1-53v3m0 5v1m0 5v1m0 28v2m1-38v1m0 1v1m0 1v1m0 32v1m1-45v1m0 2v1m0 1v1m0 2v1m0 4v1m0 7v1m0 16v4m0 7v1m0 2v1m1-49v1m0 26v1m0 4v1m0 3v1m0 5v1m0 4v1m1-53v3m0 1v2m0 1v1m0 1v1m0 5v1m0 4v1m0 2v1m0 2v1m0 20v2m0 2v1m0 1v3m0 1v1m0 1v1m1-51v1m0 1v2m0 1v1m0 8v1m0 21v1m0 2v1m0 5v2m1-15v1m0 2v1m0 7v1m1-34v1m1 23v1m1-31v2m0 21v1m1-21v2m0 2v1m0 24v1m0 1v4m1-39v4m0 34v2m1-51v2m0 9v1m0 14v1m0 3v1m0 4v1m0 1v1m0 1v1m0 1v2m0 1v1m1-53v2m0 2v1m0 2v1m0 1v1m0 31v1m0 6v2m0 4v1m0 3v1m0 5v1m1-58v1m0 13v1m0 1v1m0 3v1m0 22v1m1-52v1m0 2v1m0 4v1m0 5v2m0 1v2m0 10v1m0 32v1m1-54v1m0 2v1m0 7v1m0 24v1m0 13v1m0 1v1m0 4v1m1-57v1m0 34v1m0 27v1m1-51v2m0 7v1m0 1v1m0 22v1m0 1v1m0 3v1m0 1v1m0 1v1m1-42v1m0 5v1m0 36v4m0 3v1m1-67v1m0 14v2m0 3v2m0 5v1m0 2v1m0 20v1m0 3v1m0 5v1m1-53v2m0 3v1m0 37v1m0 4v1m0 5v1m1-68v1m0 14v1m0 12v1m0 29v1m0 3v1m1-49v1m0 28v1m0 3v2m0 3v1m0 6v1m1-47v1m0 4v1m0 9v1m0 33v1m0 1v1m1-71v1m0 4v1m0 25v1m0 10v1m0 2v1m0 3v1m0 3v2m0 1v1m0 3v1m1-59v1m0 3v1m0 10v1m0 3v1m0 4v1m0 23v1m0 3v1m0 8v2m1-49v1m0 13v2m0 22v3m1-30v1m0 1v1m0 19v1m0 2v1m0 10v1m0 1v2m0 2v1m0 2v1m0 6v1m1-68v1m0 37v2m0 3v2m0 1v1m1-52v1m0 4v1m0 8v1m0 4v1m0 6v1m0 5v1m0 23v1m0 3v1m1-58v1m0 1v1m0 3v1m0 1v1m0 14v1m0 1v1m0 21v1m0 2v1m0 6v1m1-63v1m0 4v1m0 1v2m0 1v1m0 1v1m0 25v2m1-40v1m0 1v1m0 3v1m0 1v1m0 3v3m0 8v1m0 23v1m0 1v1m0 12v1m0 1v2m0 2v1m1-57v1m0 2v3m0 24v1m0 13v2m0 3v1m1-49v1m0 5v1m0 2v1m0 1v1m0 26v1m0 3v1m0 7v1m1-45v2m0 1v1m0 6v1m0 19v1m1-43v3m0 2v1m0 8v1m0 1v1m0 3v1m0 2v1m0 1v2m0 28v1m0 3v1m1-52v1m0 1v2m0 27v1m0 3v1m0 7v2"/><path stroke="#2A3F6E" d="M247.5 324v2m0 4v1m1-2v1m0 1v1m0 10v1m0 18v1m0 6v1m1-37v3m0 28v1m0 5v1m1-34v1m0 4v1m1-5v1m0 9v1m0 2v1m0 26v1m1-4v1m1-37v1m0 2v1m0 1v1m0 5v1m0 27v4m1-50v1m0 16v2m1-14v1m0 23v1m0 18v1m1-41v1m0 6v2m0 6v1m0 21v1m1-39v1m0 3v1m0 1v1m0 30v1m0 3v1m1-34v1m0 1v1m1-3v1m1-4v1m0 12v1m0 2v1m2-17v1m0 2v2m0 3v1m1 2v1m0 4v1m1-24v1m0 7v1m0 1v1m0 1v1m0 5v1m1-14v3m0 32v1m2-31v1m0 6v1m0 4v1m0 1v1m1-18v4m0 5v1m1-2v1m1 8v2m0 1v2m1-14v1m1-1v2m1-6v1m1 4v1m1-2v1m0 1v2m0 1v1m2-16v1m0 6v1m0 29v1m1-29v1m1-10v1m0 7v1m0 2v1m1-2v1m0 1v1m1-4v1m0 2v1m0 6v1m1-9v1m1-11v1m0 1v1m0 3v1m0 26v3m1-25v1m0 14v1m1-20v1m0 1v1m1 1v1m1-10v1m0 4v1m1-4v3m0 1v1m0 2v1m1 4v1m1-11v1m0 4v1m0 2v1m1-3v1m0 2v2m1-10v1m0 15v1m2-11v1m1-15v1m0 6v1m0 1v1m1-8v1m0 3v1m0 1v1m0 26v2m0 1v1m1-30v2m0 4v1m1-13v1m0 2v1m0 6v1m1-12v1m0 1v1m0 3v3m1-1v1m0 12v1m0 2v1m0 4v1m1-21v1m0 2v1m0 6v1m1-22v1m0 9v1m1-6v1m0 1v2m1-10v1m0 2v2m1 3v1m0 1v1m0 4v1m0 19v1m1-32v1m0 5v1m0 22v1m1-33v1m0 6v1m0 28v1m0 1v1m1-45v1m0 1v1m0 2v4m0 3v1m0 4v1m0 1v2m0 1v1m0 1v1m0 6v1m1-27v1m0 8v2m1-19v1m0 8v1m0 11v1m1-17v1m0 1v1m0 4v1m0 28v1m1-44v1m0 3v1m0 2v1m0 1v1m0 3v1m0 1v2m0 4v1m0 24v1m1-46v1m0 1v1m0 33v1m0 3v1m0 1v1m0 5v1m1-44v1m0 5v1m0 2v2m0 3v1m1-8v1m0 5v1m0 3v1m0 4v1m1-29v1m0 4v1m0 41v1m0 1v1m1-55v2m0 2v1m0 1v1m0 11v1m0 10v1m0 14v1m1-37v1m0 3v1m0 7v1m1-11v1m0 6v1m0 2v1m1-19v1m0 27v1m0 7v1m0 11v1m0 3v1m1-57v1m0 3v1m0 1v2m0 10v1m0 28v1m0 1v1m0 1v1m0 3v1m1-48v1m0 12v1m0 4v1m0 27v1m1-54v1m0 6v1m0 7v2m0 2v1m1-22v2m0 2v2m0 6v1m0 28v1m0 6v1m0 8v1m1-71v2m0 1v1m0 1v1m0 1v1m0 2v1m0 37v1m0 7v1m0 2v1m0 2v1m1-60v1m0 4v2m0 1v1m0 3v1m0 1v1m0 19v1m0 1v2m0 29v1m1-71v1m0 4v1m0 3v1m0 4v1m0 4v1m0 3v2m0 33v2m1-50v1m0 10v1m0 5v1m0 1v1m0 6v2m0 11v1m0 9v1m0 2v1m0 3v1m0 3v1m1-56v1m0 17v1m0 12v1m1-37v1m0 3v2m0 1v1m0 2v2m0 9v1m0 14v1m0 3v1m0 1v1m1-35v1m0 9v1m0 3v1m0 2v1m1-24v1m0 5v1m0 8v1m0 22v3m0 5v1m0 2v1m0 9v1m1-66v2m0 8v2m0 7v1m0 2v1m0 8v3m0 11v2m0 9v1m1-40v2m0 19v1m0 20v1m1-55v1m0 3v1m0 47v1m0 1v1m1-66v1m0 4v1m0 2v1m0 35v1m0 13v2m0 2v3m0 4v1m1-66v1m0 4v1m0 1v1m0 25v1m0 30v1m1-68v1m0 8v1m0 6v2m0 1v2m0 3v2m0 9v1m0 18v1m0 6v1m0 4v1m0 1v1m1-64v1m0 2v1m0 43v2m0 5v1m1-38v2m0 1v1m0 22v1m1-38v1m0 4v1m0 28v1m0 2v1m0 1v2m0 3v1m0 4v1m1-54v2m0 2v2m0 31v3m0 1v1m0 3v1m0 1v1m1-60v1m0 3v2m0 1v1m0 3v1m0 2v2m0 6v6m0 32v1m0 2v1m1-44v1m0 26v1m0 2v3m0 4v1m0 3v1m1-59v1m0 26v2m1-44v1m0 24v1m0 21v1m0 2v1m0 1v1m1-61v1m0 2v1m0 6v1m0 2v1m0 19v1m0 17v1m0 1v1m0 1v1m0 2v1m1-59v1m0 4v1m0 29v3m0 10v1m0 2v1m0 5v1m1-54v1m0 2v2m0 1v1m0 9v1m0 39v1m0 3v1m2-44v1m0 29v1m0 18v1m0 5v1m1-64v1m0 7v1m0 1v1m0 1v1m0 3v1m0 1v1m0 23v1m0 1v2m0 8v1m0 8v1m0 5v3m0 4v1m1-77v1m0 3v1m0 4v1m0 4v1m0 29v1m0 8v1m0 10v1m1-67v1m0 3v1m0 14v1m0 27v1m0 18v2m1-76v1m0 2v1m0 5v1m0 4v1m0 1v1m0 1v1m0 21v1m0 15v1m0 3v1m0 11v1m1-53v2m0 2v1m0 3v1m0 31v1m0 1v1m0 3v1m0 1v1m0 3v1m1-55v1m0 1v1m0 2v1m0 20v1m0 6v1m1-36v1m0 7v1m0 23v1m0 1v1m1-30v1m0 34v1m1-33v1m0 5v2m0 24v1m0 3v1m0 1v1m1-25v1m0 25v1m0 3v4m0 1v1m1-46v1m0 8v1m0 1v1m0 4v3m0 27v1m1-48v1m0 2v1m0 5v1m0 20v2m1-35v1m0 34v1m0 6v1m0 2v1m0 2v1m1-45v1m0 33v1m0 5v1m0 2v1m1-44v2m0 7v1m0 1v1m0 3v2m0 25v1m0 5v1m0 4v1m1-62v1m0 7v1m0 1v1m0 1v1m0 15v3m0 17v1m0 4v1m0 2v2m1-49v3m0 3v5m0 31v2m0 4v1m1-69v1m0 7v1m0 1v2m0 1v1m0 13v1m0 21v1m0 7v1m0 5v1m0 5v1m1-72v1m0 17v1m0 27v2m0 1v1m1-48v1m0 12v2m0 23v1m0 2v1m1-35v1m0 1v2m0 48v1m1-60v1m0 1v1m0 14v1m0 22v2m0 4v1m0 3v1m1-45v1m0 40v2m0 3v1m1-33v1m0 3v1m0 19v1m0 4v1m1-45v1m0 1v1m0 8v1m0 18v1m0 12v2m1-47v1m0 2v1m0 6v2m0 30v1m0 1v2m0 2v1m1-49v1m0 37v2m0 10v1m1-49v1m0 6v2m0 17v1m0 14v1m0 4v1m1-45v1m0 2v1m0 8v1m0 17v1m0 12v1m1-51v2m0 40v1m0 5v1m1-51v1m0 3v1m0 4v1m0 1v1m0 10v2m0 26v1m0 6v1m1-57v1m0 6v1m0 8v1m0 26v1m0 19v1m1-55v3m0 3v1m0 22v1m0 1v1m0 1v1m0 3v1m0 1v1m1-37v1m0 5v1m0 30v3m1-8v1m1-33v1m0 5v1m1-5v1m0 3v1m0 5v2m0 18v1m1-40v1m0 4v2m0 28v1m0 2v1m1-46v1m0 6v2m0 1v1m0 25v1m0 6v1m0 2v1m0 1v3m1-57v1m0 8v1m0 2v1m0 1v1m0 3v1m0 29v1m0 2v3m1-49v1m0 4v1m0 9v2m0 1v1m0 1v1m0 26v1m0 1v1m1-42v1m0 43v1m0 1v1m0 3v1m0 1v1m0 7v1m1-74v1m0 7v1m0 1v1m0 10v1m0 21v1m0 4v1m0 5v3m0 1v1m0 6v1m1-15v1m0 11v2m0 1v1m0 1v2m0 1v1m1-44v1m0 27v1m1-34v1m0 3v1m0 3v1m0 2v1m0 5v1m0 33v2m1-77v1m0 13v1m0 13v1m0 35v1m0 5v1m1 6v1m1-72v1m0 2v1m0 3v2m0 2v1m0 3v1m0 10v1m0 34v2m0 1v3m1-61v1m0 2v1m0 4v1m0 2v1m0 2v1m0 25v1m0 3v1m0 15v1m1-67v1m0 20v3m0 34v1m0 7v1m1-61v1m0 38v1m0 11v1m1-56v2m0 40v1m0 6v2m0 1v1m0 5v2m1-66v1m0 6v1m0 13v1m0 1v1m0 4v1m0 28v1m1-37v1m0 3v1m0 1v1m0 27v1m0 11v1m0 4v2m0 3v1m1-65v1m0 3v1m0 1v1m0 32v1m0 5v3m1-56v1m0 1v1m0 1v1m0 7v1m0 16v1m0 6v1m1-32v1m0 1v1m0 6v1m0 1v1m0 38v2m0 6v1m1-64v1m0 4v1m0 2v1m0 19v1m0 3v1m0 19v1m1-57v1m0 6v1m0 4v1m0 5v1m0 32v1m1-27v1m0 31v1m0 10v1m0 8v1m1-60v1m1 32v1m0 7v1m1-47v2m0 4v1m0 2v1m0 2v1m0 8v1m0 21v1m0 19v1m1-63v2m0 3v1m0 3v1m0 3v1m0 24v1m0 2v2m0 1v1m0 13v1"/><path stroke="#14141C" d="M247.5 331v9m0 2v4m1-13v9m0 1v15m0 4v1m0 3v1m1-29v9m0 1v11m0 1v3m1-21v14m0 1v1m0 1v3m1-26v1m0 1v1m0 1v7m0 1v2m0 2v6m0 1v15m0 1v1m0 2v1m1-34v3m0 1v2m0 1v15m0 1v2m0 1v1m1-25v1m0 2v9m0 1v10m0 3v1m0 2v1m0 4v1m1-38v1m0 2v1m0 3v1m0 4v7m0 1v5m0 2v6m0 1v1m0 1v1m1-43v1m0 3v1m0 1v5m0 1v10m0 1v2m0 1v14m0 2v2m1-34v1m0 1v3m0 2v16m0 1v4m0 1v5m1-39v1m0 1v9m0 1v11m0 1v8m0 1v2m0 2v2m1-31v5m0 1v6m0 1v15m1-32v8m0 1v3m0 1v10m0 2v3m0 1v6m1-38v1m0 1v1m0 2v2m0 3v2m0 2v1m0 1v9m0 1v6m0 1v5m1-25v24m1-25v18m0 1v2m0 1v3m1-20v14m0 1v6m1-35v1m0 10v14m0 1v3m0 1v3m0 1v1m1-37v1m0 2v7m0 1v3m0 1v3m0 1v7m0 1v3m1-10v7m0 1v4m0 1v3m1-34v1m0 1v2m0 8v1m0 4v6m0 1v7m0 1v3m1-32v2m0 1v8m0 1v4m0 1v4m0 1v8m1-30v1m0 1v24m0 1v5m1-20v1m0 2v17m1-30v2m0 1v4m0 4v16m1-25v1m0 1v4m0 1v5m0 1v7m0 1v4m0 1v2m1-34v1m0 1v5m0 1v7m0 1v16m0 1v1m1-28v3m0 2v5m0 1v17m1-27v1m0 2v5m0 1v1m0 1v6m0 1v1m0 1v7m1-39v11m0 1v2m0 2v4m0 1v11m0 1v1m1-25v20m0 1v5m0 1v3m1-25v2m0 1v3m0 1v10m0 1v6m1-25v3m0 1v5m0 1v7m0 1v8m1-25v14m0 1v10m1-31v2m0 1v4m0 1v1m0 1v17m0 1v1m0 1v1m1-36v1m0 3v1m0 3v3m0 1v5m0 1v5m0 1v12m1-43v1m0 3v1m0 2v1m0 5v17m0 1v4m0 7v1m1-25v1m0 1v6m0 1v2m0 2v10m1-28v2m0 1v3m0 1v2m0 1v3m0 1v4m0 1v9m1-30v1m0 1v1m0 1v12m0 1v1m0 1v8m0 1v4m1-32v2m0 2v10m0 1v2m0 1v3m0 1v1m0 1v8m1-30v1m0 1v15m0 1v8m0 1v3m1-25v1m0 1v1m0 1v2m0 1v2m0 1v6m0 1v1m0 1v4m0 1v1m1-28v2m0 1v5m0 1v4m0 1v4m0 1v3m0 1v5m1-32v1m0 4v2m0 8v7m0 1v6m0 1v2m1-35v1m0 2v12m0 1v2m0 1v1m0 1v14m1-30v1m0 1v2m0 2v4m0 1v16m0 1v2m1-26v26m1-39v2m0 2v1m0 3v5m0 1v4m0 1v3m0 2v2m0 1v2m0 1v5m0 1v3m1-34v1m0 1v4m0 1v4m0 1v14m0 1v1m0 4v2m1-22v2m0 1v5m0 3v3m0 1v7m1-34v1m0 6v2m0 1v6m0 1v17m1-27v7m0 1v1m0 1v5m0 1v2m0 1v8m1-29v1m0 1v1m0 1v5m0 7v3m0 1v5m0 1v3m1-21v1m0 1v11m0 1v7m1-32v1m0 3v5m0 1v7m0 1v14m1-29v1m0 1v5m0 1v5m0 1v4m0 1v3m0 1v1m1-35v1m0 5v4m0 1v8m0 1v18m0 1v1m1-43v1m0 2v1m0 10v2m0 1v10m0 1v8m0 1v6m1-37v1m0 5v8m0 1v10m0 1v2m0 2v7m1-36v1m0 4v9m0 1v1m0 1v2m0 1v1m0 1v1m0 1v6m0 5v1m1-44v2m0 8v1m0 2v1m0 1v1m0 6v1m0 7v14m1-30v1m0 1v5m0 1v8m0 1v7m0 1v5m1-43v1m0 2v1m0 1v9m0 1v16m0 1v3m0 4v4m1-51v1m0 8v1m0 4v1m0 1v3m0 1v20m0 1v1m0 1v1m0 1v4m0 1v1m1-38v1m0 2v2m0 3v2m0 1v21m0 1v1m0 1v3m1-44v3m0 1v17m0 1v2m0 2v3m0 8v1m0 4v2m1-35v3m0 1v4m0 1v4m0 2v9m0 1v10m1-30v1m0 2v1m0 1v1m0 1v7m0 1v14m1-52v1m0 4v1m0 4v1m0 1v27m0 1v1m0 1v4m0 1v1m0 3v2m1-46v2m0 1v2m0 3v1m0 2v6m0 5v1m0 3v7m0 1v2m0 1v1m0 1v7m1-34v1m0 1v7m0 1v1m0 3v20m1-39v1m0 2v21m0 1v2m0 3v1m0 1v3m0 1v3m1-56v1m0 1v1m0 1v2m0 1v12m0 1v6m0 2v1m0 1v2m0 1v1m0 1v1m0 3v1m0 11v1m1-52v1m0 1v1m0 2v2m0 2v6m0 4v15m0 1v6m0 1v2m0 3v1m0 3v1m0 1v2m1-33v1m0 2v10m0 1v4m0 1v7m0 1v1m0 2v4m1-52v1m0 4v1m0 5v2m0 1v2m0 1v2m0 1v11m0 1v2m0 2v15m1-61v1m0 9v4m0 1v24m0 1v3m0 1v1m0 1v1m0 2v1m0 1v6m0 1v1m1-66v1m0 6v1m0 2v2m0 3v1m0 4v4m0 1v4m0 1v2m0 1v5m0 2v3m0 2v7m0 1v1m0 2v2m0 2v2m0 2v1m0 1v1m0 1v1m1-48v4m0 1v1m0 5v1m0 1v1m0 2v2m0 1v2m0 1v15m0 1v1m0 1v2m0 2v1m0 2v1m1-63v1m0 2v1m0 2v1m0 3v3m0 2v3m0 1v6m0 1v2m0 1v1m0 1v6m0 2v5m0 1v3m0 2v3m0 1v1m0 1v1m0 1v1m1-60v1m0 4v2m0 1v1m0 10v1m0 1v3m0 1v2m0 3v3m0 1v6m0 1v8m0 3v1m0 1v1m0 3v1m0 1v1m0 1v2m1-42v1m0 3v2m0 1v3m0 1v4m0 1v15m0 1v2m0 1v3m0 2v2m1-60v1m0 2v1m0 2v1m0 2v2m0 5v2m0 1v6m0 1v2m0 1v2m0 1v1m0 1v2m0 6v17m1-46v1m0 2v1m0 6v1m0 1v10m0 1v4m0 1v6m0 1v1m0 1v2m0 1v7m1-58v2m0 5v1m0 2v2m0 1v16m0 1v3m0 1v1m0 4v4m0 14v1m1-68v1m0 4v1m0 8v1m0 4v1m0 2v1m0 2v7m0 7v7m0 3v3m0 1v4m0 1v7m0 1v2m1-46v1m0 1v2m0 1v1m0 1v5m0 1v4m0 1v3m0 1v2m0 1v4m0 1v4m0 1v3m0 1v7m1-57v2m0 3v3m0 2v2m0 1v3m0 1v13m0 1v4m0 1v6m0 1v3m0 10v1m1-62v4m0 1v7m0 1v4m0 1v5m0 1v1m0 2v4m0 1v1m0 1v5m0 1v3m0 1v3m0 7v2m0 4v2m1-61v1m0 2v1m0 1v1m0 1v1m0 1v1m0 1v1m0 1v4m0 1v2m0 1v4m0 1v5m0 1v6m0 1v2m0 2v12m0 2v1m1-48v1m0 9v4m0 1v7m0 1v4m0 1v3m0 6v2m0 2v1m0 4v1m0 2v2m1-53v4m0 1v6m0 1v1m0 3v1m0 1v14m1-25v3m0 1v6m0 1v6m0 1v3m1-32v1m0 2v2m0 1v6m0 1v17m0 1v2m1-38v1m0 3v1m0 1v3m0 1v2m0 1v6m0 2v4m0 3v1m0 3v1m1-31v3m0 1v1m0 11v11m0 1v5m0 1v1m0 2v6m1-46v3m0 1v1m0 4v3m0 1v2m0 1v8m0 1v8m0 1v2m0 5v1m1-49v3m0 2v1m0 1v2m0 1v9m0 1v1m0 1v1m1-41v9m0 1v11m0 1v2m0 1v1m0 1v1m0 2v12m0 1v2m0 9v1m1-50v1m0 1v2m0 1v14m0 1v2m0 1v6m0 1v3m0 1v2m0 2v1m0 1v1m1-54v1m0 4v17m0 1v7m0 1v1m0 7v1m0 4v1m0 1v1m0 1v1m1-37v1m0 2v1m0 6v19m0 1v6m0 1v4m0 1v3m1-57v1m0 2v1m0 3v3m0 1v2m0 1v3m0 1v12m0 1v5m0 1v1m0 2v1m1-22v1m0 1v1m0 1v1m0 1v5m0 2v13m0 1v4m0 1v4m0 2v2m0 1v2m0 1v1m1-50v2m0 2v2m0 11v12m0 1v2m0 1v3m0 3v1m0 1v1m0 2v8m0 6v1m0 4v1m1-58v1m0 2v3m0 1v11m0 1v17m0 1v1m0 5v1m1-33v4m0 1v21m0 2v1m0 1v3m0 1v2m0 1v1m0 1v4m1-73v1m0 5v1m0 6v1m0 2v1m0 1v1m0 1v1m0 2v1m0 1v1m0 1v6m0 1v1m0 3v1m0 1v1m0 1v15m0 1v2m1-42v1m0 11v11m0 1v11m0 2v1m0 1v1m0 1v1m0 4v2m1-43v1m0 1v7m0 1v3m0 1v7m1-16v7m0 1v3m0 1v9m1-29v2m0 1v22m0 1v2m0 1v8m0 1v1m1-26v2m0 1v8m0 1v12m0 1v1m1-16v8m0 1v8m0 2v3m0 1v2m1-36v1m0 2v2m0 2v1m0 1v1m0 1v2m0 3v9m0 2v8m0 1v1m0 2v2m1-44v1m0 3v3m0 4v1m0 2v2m0 2v9m0 1v1m1-22v8m0 1v4m0 1v7m0 1v2m0 1v5m1-35v1m0 1v8m0 2v14m0 1v5m1-16v1m0 1v17m0 1v1m0 1v1m1-47v1m0 10v3m0 1v7m0 1v3m0 5v14m0 2v1m1-29v1m0 1v1m0 1v1m0 1v5m0 1v10m0 1v6m1-46v3m0 1v3m0 2v2m0 3v5m0 1v3m0 4v7m0 1v1m0 1v3m0 3v1m0 1v1m1-64v1m0 3v1m0 1v1m0 1v4m0 3v4m0 1v11m0 2v5m0 1v6m0 4v1m1-32v4m0 2v5m0 1v6m0 1v2m0 1v1m1-27v1m0 2v1m0 1v1m0 1v10m0 1v20m0 2v1m0 3v1m0 2v1m1-51v1m0 2v2m0 1v3m0 1v5m0 1v16m0 3v2m1-35v1m0 8v4m0 2v9m0 1v10m0 1v1m0 2v2m1-32v1m0 1v1m0 1v1m0 1v18m0 2v1m0 5v1m1-44v2m0 1v2m0 1v2m0 1v2m0 1v1m0 1v6m0 1v6m1-20v15m0 1v10m0 1v2m1-40v4m0 1v1m0 1v3m0 1v3m0 1v2m0 1v4m0 1v6m0 1v2m0 1v4m1-27v4m0 1v3m0 1v8m0 1v1m0 1v3m0 1v6m1-35v1m0 1v2m0 1v5m0 1v1m0 1v5m0 2v8m0 5v2m0 2v2m1-40v13m0 1v9m0 1v4m0 1v3m1-30v4m0 1v4m0 7v2m0 1v2m0 1v3m0 1v3m0 1v1m0 1v4m0 5v1m1-47v1m0 6v1m0 1v1m0 1v6m0 1v5m0 1v10m0 1v2m0 1v1m1-32v2m0 2v2m0 1v3m0 2v10m0 1v1m1-17v6m0 1v7m0 1v1m0 1v12m1-28v1m0 1v20m1-26v1m0 1v9m0 1v2m0 1v4m1-17v1m0 1v3m0 2v1m0 1v5m0 1v10m0 2v1m1-31v5m0 1v10m0 1v5m0 1v1m0 1v2m1-46v1m0 2v1m0 3v1m0 2v1m0 1v1m0 1v1m0 1v3m0 1v10m0 1v2m0 3v1m0 1v1m0 1v1m0 1v1m1-35v1m0 1v3m0 1v7m0 2v14m0 1v5m0 6v1m0 1v1m0 7v1m1-39v2m0 1v6m0 1v3m0 1v6m0 1v1m0 1v2m0 2v1m0 1v1m1-36v9m0 1v22m0 3v1m1-49v1m0 5v7m0 2v7m0 1v4m0 1v1m0 1v6m0 1v1m0 1v2m0 1v5m0 3v1m1-37v10m0 1v6m0 1v3m0 1v2m0 1v4m0 2v6m0 2v2m0 8v1m1-46v1m0 7v1m0 2v17m0 1v2m0 2v1m0 2v1m0 2v1m0 1v1m0 3v1m1-36v3m0 1v1m0 1v17m0 1v2m0 1v2m0 1v3m1-36v1m0 1v1m0 3v2m0 1v18m0 1v1m0 1v1m0 1v1m1-39v1m0 1v6m0 2v22m0 1v2m0 2v4m0 2v2m1-64v1m0 14v9m0 1v2m0 1v4m0 2v2m0 1v1m0 1v8m0 2v7m0 2v1m0 7v1m1-51v2m0 1v6m0 1v16m0 3v1m0 4v1m1-29v5m0 1v7m0 1v6m0 1v9m0 1v3m0 1v4m0 1v1m0 2v1m1-72v1m0 4v1m0 2v2m0 2v11m0 1v6m0 1v7m0 1v2m0 1v2m0 1v1m0 1v1m1-38v3m0 1v1m0 2v2m0 3v3m0 1v7m0 1v14m0 11v2m1-37v1m0 1v2m0 4v3m0 2v16m1-24v6m0 1v3m0 1v2m0 1v1m0 1v3m0 4v3m0 1v6m1-47v1m0 2v1m0 1v4m0 1v10m0 1v13m0 2v1m1-44v1m0 31v1m0 1v14m0 1v1m0 1v2m0 2v3m0 1v3m1-57v2m0 3v1m0 1v1m0 2v4m0 1v4m0 1v1m0 1v14m0 1v1m0 1v4m0 1v2m1-44v1m0 1v1m0 1v14m0 1v3m0 1v4m0 2v2m0 1v5m0 1v3m0 2v2m0 1v1m1-48v2m0 4v7m0 1v1m0 1v1m0 1v11m0 1v3m0 1v3m0 3v6m0 1v5m1-44v4m0 1v1m0 1v17m0 1v7m0 1v1m0 1v1m1-27v5m0 1v5m0 1v11m1-33v1m0 3v1m0 1v5m0 2v4m0 3v10m1-23v1m0 1v1m0 1v2m0 4v14m0 1v4m0 14v1m1-46v2m0 1v12m0 1v8m0 1v2m0 2v1"/><path stroke="#2B3458" d="M247.5 340v2m2-6v2m0 9v1m0 11v1m1-4v1m0 1v1m1-1v1m1-11v1m0 2v1m0 15v1m1-9v1m1-6v1m0 15v1m0 6v1m0 1v1m0 1v1m1-39v1m0 19v1m0 14v1m1-30v1m0 21v1m1-18v1m0 11v1m1-11v1m0 6v1m0 17v1m1-27v1m0 3v1m0 10v2m0 3v1m1-7v1m0 6v1m1 4v1m1-8v1m0 6v1m1-7v1m1-20v1m0 15v1m0 3v1m0 3v1m1-22v1m0 3v1m0 7v1m1 0v1m0 4v1m0 3v1m1-12v1m0 7v1m1-18v1m0 4v1m0 4v1m0 9v1m1-6v1m2-18v4m1-8v1m0 4v1m0 5v1m0 7v1m0 4v1m1-31v1m0 5v1m0 7v1m1-7v2m1 6v1m0 6v1m0 1v1m1-21v1m0 2v2m0 4v1m2-9v1m0 3v1m0 3v1m0 10v1m0 6v1m1-23v1m0 5v1m0 7v1m1-3v1m1 6v1m0 1v1m1-24v1m0 5v1m0 5v1m1-30v1m0 28v1m0 10v1m1-16v1m0 14v2m1-24v1m0 2v1m0 3v1m0 14v2m1-16v1m0 1v1m0 8v1m1-14v1m0 8v1m1-5v1m0 8v1m1-16v1m0 2v1m0 6v1m0 1v1m0 4v1m1-19v1m0 9v1m0 3v1m1-5v1m0 6v1m1-18v1m0 4v1m1-15v1m0 2v2m0 4v1m2-7v1m0 4v1m0 4v1m0 2v1m0 2v1m0 5v1m1-20v1m1 8v3m0 3v1m1-26v1m0 7v1m0 6v1m1 5v1m0 2v1m1-22v1m0 3v1m0 21v1m1-5v1m1-16v1m0 7v1m1-8v1m0 5v1m0 8v1m0 5v1m1-37v1m0 6v1m0 8v1m1 4v1m1 7v1m1-26v2m0 9v1m0 1v1m0 2v1m0 1v1m0 1v1m0 8v1m2-20v1m0 8v1m0 7v1m1-2v1m1-34v1m0 37v1m1-32v1m1 9v1m0 2v2m0 4v1m0 1v1m0 1v1m1-30v1m0 11v1m0 4v2m0 9v1m1-16v1m0 9v1m0 14v1m1-12v1m0 4v1m1-4v1m1-26v1m0 1v1m0 7v1m0 1v2m1 6v1m0 2v3m1-44v1m0 2v1m0 12v1m0 6v2m1-21v2m0 7v3m0 15v1m0 20v1m1-36v2m0 2v1m0 10v1m0 4v1m0 7v1m0 1v1m1-31v1m0 2v1m0 14v2m0 15v1m2-56v1m0 10v1m0 14v1m0 3v1m0 15v1m0 7v1m1-37v1m0 7v1m0 2v1m0 15v1m0 1v1m1-37v1m0 6v1m0 2v1m0 1v1m0 6v1m0 6v1m0 10v1m0 5v2m1-35v1m0 3v1m0 15v1m0 5v1m1-31v1m0 2v1m0 3v1m0 20v1m1-25v1m0 33v1m1-25v1m0 11v1m0 1v1m0 2v1m1-53v1m0 6v1m0 23v1m0 3v1m1-35v1m0 25v1m0 29v1m1-43v1m0 2v1m0 1v1m0 5v1m1-8v1m0 13v1m0 4v1m0 6v1m1-50v1m0 5v1m0 18v1m0 7v1m0 11v1m1-37v1m0 1v1m0 11v1m0 17v1m1-28v1m0 20v1m0 4v1m1-26v1m0 12v1m1-8v1m0 6v1m0 6v1m1-27v1m0 2v1m1-8v1m0 1v1m0 3v1m0 2v1m0 7v1m0 9v1m1-26v1m0 23v1m0 5v1m0 1v2m1-37v1m0 11v1m0 8v1m1-28v1m0 4v1m1-19v1m1 17v1m0 6v1m0 3v1m2-6v1m0 11v1m0 3v1m0 2v2m1-58v2m0 4v1m0 2v1m0 3v1m0 12v1m1-9v1m0 1v1m0 5v2m0 13v1m0 10v1m1-11v1m0 48v1m1-58v1m1-4v1m0 33v1m0 4v1m1-62v1m0 22v1m0 1v1m0 1v1m1 13v2m0 1v1m0 1v1m0 1v1m1-29v1m0 3v1m0 7v1m1-10v1m0 3v1m1 5v1m0 2v1m1-14v1m1 15v1m1-15v1m0 19v2m1-14v1m0 10v1m1-13v1m0 4v1m0 7v1m1-30v1m0 3v1m0 8v1m0 15v1m1-12v1m0 1v1m0 17v1m0 9v1m1-40v1m0 7v1m0 7v1m1-21v1m0 7v1m0 11v1m0 10v1m1-29v1m0 1v1m0 5v1m0 3v3m0 10v1m0 4v1m1-29v2m0 5v1m0 6v1m1-24v2m0 5v1m0 6v1m1-22v1m0 2v1m0 1v1m0 10v1m0 20v1m0 2v1m1-30v1m0 18v1m1-20v2m0 9v1m0 10v1m1-31v1m0 27v1m1-40v1m0 5v1m0 2v1m0 5v1m0 1v1m0 6v1m1 12v1m0 2v1m1-35v1m0 7v1m0 2v1m0 4v1m0 9v1m1-19v1m0 3v1m0 10v1m0 3v1m1-11v2m0 15v2m0 2v1m1-28v1m1 6v1m0 2v1m0 3v1m0 3v1m0 1v1m1-35v1m0 1v1m0 18v1m0 10v1m1-25v1m0 2v1m0 3v2m0 14v1m1-14v1m0 7v1m0 1v1m1-15v1m1 5v1m0 2v1m1-5v1m0 5v1m1-13v1m0 10v1m0 5v1m1-29v1m0 5v1m0 13v1m1-28v1m0 14v2m1 7v1m0 3v1m0 6v1m0 1v1m1-30v1m0 32v2m1-25v1m0 4v1m0 1v1m0 23v1m1-23v1m0 3v1m0 7v1m1 2v1m0 6v1m1-23v1m0 19v1m0 2v1m0 2v1m0 3v1m1-10v1m1-33v1m0 6v2m0 25v1m1-23v2m0 2v1m0 1v1m0 8v2m0 7v1m1-32v1m0 17v1m1-9v1m0 6v1m0 9v1m1-53v1m0 4v1m0 11v1m0 14v1m1-26v1m0 1v1m0 3v1m0 13v1m1-3v1m0 3v2m1-2v1m0 3v1m0 2v1m0 1v1m0 4v1m0 13v1m0 2v1m0 2v1m1-46v1m0 10v1m1-10v1m0 31v1m0 2v1m1-46v1m0 10v1m0 21v1m0 1v1m1-49v1m0 14v1m0 27v1m0 5v1m1-24v1m0 1v1m0 11v1m0 3v1m1-20v1m0 25v1m0 1v1m0 2v1m1-30v1m0 5v1m0 5v1m0 11v1m1-23v1m0 5v3m0 10v1m0 2v1m0 1v1m1-5v1m1-28v1m0 15v1"/><path stroke="#64B5CD" stroke-opacity="0.65" d="M291.5 364v2m17-10v1m0 7v2m30 1v2m10-42v1m4-11v1m3 30v1m0 3v3m0 1v5m11-33v1m5 11v2m0 1v5m0 1v1m37-35v2m0 3v2m0 2v1"/><path stroke="#64B5CD" stroke-opacity="1.0" d="M247.5 322v25m1-20v43m1-34v33m1-37v33m1-35v50m1-33v32m1-41v44m1-45v45m1-44v44m1-44v44m1-43v43m1-37v37m1-36v36m1-37v37m1-30v30m1-37v37m1-30v30m1-37v37m1-38v33m1-17v22m1-36v36m1-39v39m1-38v38m1-34v34m1-31v27m1-25v29m1-37v37m1-31v31m1-33v33m1-37v31m1-32v38m1-30v30m1-38v38m1-29v29m1-33v33m1-39v39m1-36v36m1-25v25m1-36v36m1-31v31m1-33v33m1-34v34m1-25v25m1-34v34m1-32v14m0 2v16m1-36v36m1-34v34m1-25v25m1-38v38m1-33v33m1-36v36m1-36v36m1-36v36m1-38v38m1-30v30m1-37v37m1-38v38m1-41v41m1-42v42m1-44v44m1-48v48m1-46v20m0 1v7m0 2v16m1-40v40m1-48v48m1-49v49m1-50v50m1-50v50m1-48v48m1-44v44m1-52v52m1-53v53m1-45v45m1-43v43m1-57v57m1-60v60m1-47v47m1-57v57m1-63v61m1-64v66m1-64v64m1-66v66m1-61v61m1-56v56m1-61v61m1-54v54m1-58v58m1-71v71m1-49v49m1-70v70m1-73v73m1-66v65m1-68v54m0 2v13m1-62v52m1-36v26m1-45v53m1-56v54m1-64v64m1-48v46m1-59v39m1-60v70m1-70v63m1-63v41m0 1v16m1-57v66m1-67v40m1-35v73m1-71v24m0 1v51m1-65v61m1-71v76m1-84v62m0 1v3m0 3v1m1-50v59m1-62v43m1-38v40m1-44v46m1-41v40m1-20v26m1-37v47m1-47v28m1-34v46m1-39v39m1-38v8m0 1v40m1-62v62m1-46v42m1-63v63m1-68v60m1-58v41m0 2v1m0 5v1m1-50v65m1-72v60m1-48v48m1-43v53m1-64v49m1-51v54m1-52v54m1-48v52m1-56v46m1-49v52m1-53v49m1-41v53m1-55v50m1-47v46m1-37v26m1-32v24m1-21v36m1-39v41m1-52v51m1-62v70m1-63v66m1-67v70m1-71v66m1-58v64m1-51v51m1-55v60m1-73v66m1-52v58m1-70v69m1-61v55m1-47v48m1-73v64m1-66v69m1-68v71m1-58v66m1-68v67m1-56v6m0 2v3m0 2v2m0 1v38m1-62v61m1-69v66m1-62v68m1-64v66m1-58v51m1-49v41m1-50v63m1-60v59"/><path stroke="#25345E" d="M249.5 332v3m0 34v1m3-25v2m2-16v1m1 4v1m2 1v1m3 4v2m2-2v1m2-8v1m0 7v1m1-4v3m6 34v1m1-28v2m4-10v2m0 31v1m1-36v1m1 8v1m1-10v1m1 9v1m3-13v1m0 2v3m1 8v1m2-4v1m1-7v1m1 1v2m6 7v2m1-16v1m0 1v1m1-1v1m0 3v2m2-5v1m1-2v1m0 1v1m3-5v1m2-2v1m1-2v1m3-5v1m1 4v1m1-9v1m1-2v1m1-2v1m1 0v1m4-7v2m1 6v1m1 1v1m3-5v1m1-8v1m2-16v2m0 1v3m1-3v1m0 4v1m1-9v1m0 4v1m1 3v2m1 4v1m1-6v1m1 7v1m1-7v1m2 10v1m3-20v1m1-4v1m0 57v1m1-54v1m0 2v1m1 13v2m0 1v1m1 34v1m2-3v1m1-50v1m0 46v1m3-82v1m1-1v1m2 40v1m2-10v1m0 51v1m0 4v1m0 6v1m1-84v1m0 3v1m2 45v1m0 11v1m1-56v1m2-2v1m2 45v1m1-25v1m0 29v4m0 1v1m1-46v1m1-2v2m0 29v1m1 13v1m1-45v1m0 1v1m0 40v1m1-44v2m0 51v1m2-53v3m0 45v1m1-69v1m0 68v1m1-72v1m1 1v1m3 5v1m5-2v1m1 44v1m2-53v1m0 49v1m0 2v1m0 3v1m1-57v1m0 5v2m0 55v1m3-20v1m2-31v1m1-10v1m0 4v2m1-15v2m0 1v1m4-9v1m4-2v1m2 5v1m0 1v2m1 2v1m0 2v1m1-10v1m4 72v1m2-73v1m0 1v3m0 7v1m0 8v1m1-17v1m1-8v1m1-3v1m1 76v1m1-60v1m1 1v1m1 55v1m1-63v1"/></g><text class="t" x="234.0" y="364.1">10</text><text class="t" x="234.0" y="344.9">20</text><text class="t" x="234.0" y="325.7">30</text><text class="t" x="234.0" y="306.5">40</text><text class="t" x="234.0" y="287.3">50</text><text class="t" x="271.6" y="392.9">10,000</text><text class="t" x="295.8" y="392.9">20,000</text><text class="t" x="320.0" y="392.9">30,000</text><text class="t" x="344.2" y="392.9">40,000</text><text class="t" x="368.4" y="392.9">50,000</text><text class="t" x="392.6" y="392.9">60,000</text><text class="t" x="416.8" y="392.9">70,000</text><text class="t" x="331.6" y="398.3" style="font-size:4.25px">Item number (5min average)</text><text class="t" transform="translate(230.0,334.5) rotate(-90)" style="font-size:4.4px">ug/m3</text><rect x="240.6" y="284.3" width="35.8" height="18.7" rx="0.6" fill="#EEEEF4" stroke="#F8F8FB" stroke-width="0.6"/><circle cx="247.4" cy="287.7" r="0.55" fill="#4C72B0"/><circle cx="247.4" cy="293.1" r="0.55" fill="#111"/><rect x="242.1" y="298.2" width="9.2" height="0.9" fill="#64B5CD"/><text x="254.4" y="289.1" style="font-size:3.75px;fill:#333">Train</text><text x="254.4" y="294.5" style="font-size:3.75px;fill:#333">Test</text><text x="254.4" y="300.0" style="font-size:3.75px;fill:#333">Predictions</text><text x="414.7" y="405.8" style="font-size:9px;text-anchor:middle;fill:#333">(f)</text><rect x="20.8" y="412.7" width="202.60" height="109.80" fill="#EAEAF2"/><clipPath id="cg"><rect x="20.8" y="412.7" width="202.60" height="109.80"/></clipPath><g clip-path="url(#cg)" fill="none" stroke-width="1"><path stroke="#A9B7DA" d="M29.5 452v4m0 30v4m0 10v1m0 4v1m1-50v1m0 4v1m0 1v1m0 31v1m0 3v2m1-3v1m0 3v2m1-40v2m0 1v1m0 4v1m0 24v1m1-38v1m0 1v1m0 3v2m0 3v3m0 4v1m0 3v1m1-19v1m0 1v1m0 6v1m0 33v1m0 1v1m0 5v1m1-42v1m0 2v2m1-10v1m0 1v1m0 1v1m0 3v1m0 2v1m0 3v2m1-20v1m0 1v1m0 37v1m1-46v1m0 17v1m1 1v1m0 4v1m1 26v1m1-36v1m0 4v1m1-9v2m0 1v1m1 8v1m1-8v1m0 4v1m0 1v4m1-17v1m0 1v1m0 1v2m0 3v1m0 2v2m1-1v1m0 4v1m1-9v1m0 2v1m0 3v2m1-20v1m0 2v2m0 5v2m0 1v1m0 1v1m1-18v1m1 25v1m0 3v1m1-33v1m0 7v1m0 1v1m0 10v1m0 5v1m1-14v1m1-9v1m0 1v1m0 2v2m0 1v1m1-2v1m0 4v2m0 4v1m1-13v2m0 1v1m0 32v1m1-38v1m1-3v1m0 32v1m0 2v1m1-31v1m1 3v2m0 2v1m1-25v1m0 6v1m1 1v1m0 5v1m0 1v1m2 1v1m1-9v4m0 1v1m0 3v1m1-1v2m0 1v1m1-21v1m0 4v1m0 2v4m0 11v2m1-22v1m1 3v1m0 33v1m0 1v2m1-42v2m0 6v1m0 1v1m0 2v1m0 13v1m0 1v1m1-27v2m0 5v1m1-5v2m1-3v1m0 1v1m0 5v2m1-8v2m0 25v1m2-21v1m0 1v1m1-9v2m1-4v2m0 1v1m0 2v1m0 8v1m0 2v1m1-24v1m0 2v1m1 7v1m0 1v2m1-10v1m0 1v2m1-9v1m0 5v2m0 1v1m1-1v1m0 1v1m1-14v2m0 1v1m1-3v1m0 6v2m0 5v2m0 3v1m1-16v1m0 1v1m0 3v3m1 12v1m1-26v1m0 6v1m0 18v1m1-17v1m0 3v1m0 3v2m1-8v1m1-13v1m1 0v1m1-7v1m0 1v1m0 5v1m1-9v1m0 6v3m0 2v1m0 2v1m1-16v2m0 1v1m0 2v1m0 3v1m1-15v2m0 2v1m0 1v1m0 4v1m0 2v1m0 1v1m1-15v1m0 28v2m1-27v1m0 3v3m2-20v1m0 3v2m0 1v1m0 2v2m1-18v1m0 3v2m0 3v1m0 4v1m0 2v1m0 1v1m0 3v1m0 3v1m1-18v1m0 2v1m1-1v1m0 2v1m0 1v1m0 2v2m1-9v1m0 13v1m1-22v3m0 2v2m0 3v1m0 1v2m0 1v1m0 3v2m0 32v1m1-50v1m0 3v3m0 1v2m0 19v1m1-38v1m0 7v1m0 1v1m1 6v6m1-13v1m0 3v1m0 3v1m0 3v2m0 30v1m1-17v1m0 3v1m0 3v1m0 2v2m1-76v1m0 15v1m0 3v1m0 1v1m0 49v1m0 3v1m1-36v1m0 3v1m0 1v1m1-28v1m0 3v1m0 7v1m0 3v2m0 2v2m1-26v1m0 1v2m0 1v1m0 5v1m1-15v1m0 4v1m0 2v1m0 1v1m0 2v1m0 5v1m0 12v1m1-18v1m0 5v1m0 18v1m1-36v1m0 15v1m0 45v1m1-71v1m0 6v1m0 1v1m0 2v1m0 7v1m0 17v1m0 35v1m1-60v1m0 3v1m0 4v1m0 2v2m0 6v1m1-18v1m0 1v1m0 6v3m0 2v1m0 22v1m1-46v1m0 6v1m0 2v3m0 33v3m1-31v1m0 5v2m1-24v1m0 50v1m0 2v1m0 5v1m1-83v2m0 2v1m0 1v4m0 3v1m0 1v1m0 1v2m0 1v1m0 3v1m0 2v1m0 1v2m0 1v3m0 19v1m1-41v1m0 4v1m0 1v1m0 2v1m0 3v1m0 3v1m0 4v1m0 32v1m1-67v1m0 8v1m0 12v1m0 5v1m0 43v1m0 2v2m0 3v1m1-78v1m0 2v1m0 60v1m0 2v2m0 3v1m0 1v1m0 1v1m1-61v4m0 15v1m0 38v2m0 2v1m1-68v1m0 6v1m0 6v1m0 2v1m0 1v1m0 1v1m0 6v2m0 3v1m1-37v4m0 1v2m0 1v3m0 2v1m0 2v1m0 6v1m0 31v2m1-51v6m0 1v1m0 1v2m0 36v1m0 2v3m0 2v1m0 3v1m1-52v1m0 38v1m1-53v1m0 1v5m0 6v1m0 10v1m0 23v1m0 5v1m0 1v1m1-61v1m0 2v4m0 32v1m0 1v1m0 7v1m0 1v3m0 1v2m1-79v1m0 11v3m0 4v1m0 8v1m0 1v1m0 17v1m0 33v1m1-53v1m0 6v1m0 41v1m1-70v1m0 6v2m0 1v4m0 32v2m1-60v1m0 3v1m0 51v1m0 5v2m1-61v1m0 1v1m0 22v1m0 25v2m0 2v3m0 1v2m0 2v1m0 3v1m0 4v1m1-23v1m0 3v1m0 5v1m0 2v1m1-66v1m0 29v1m0 22v1m0 1v1m1-41v1m0 49v1m1-23v1m0 4v1m1-49v2m0 2v1m0 1v1m0 4v1m0 53v1m0 9v1m0 3v1m1-73v2m0 12v2m0 1v1m0 32v1m0 9v1m0 3v1m0 3v1m0 4v1m0 5v1m0 5v2m0 2v1m1-88v1m0 2v1m0 2v2m0 4v1m0 46v1m0 2v1m0 3v1m0 1v1m1-62v2m0 2v1m0 1v1m0 2v1m0 50v2m0 1v1m0 6v1m1-61v1m0 13v1m0 36v1m1-76v1m0 5v1m0 1v2m0 1v1m0 3v1m0 1v1m0 51v1m0 1v1m0 3v4m1-69v1m0 1v1m0 1v2m0 1v1m0 36v1m0 2v1m1-42v1m0 7v1m0 24v5m1-47v1m0 3v1m0 1v1m0 1v1m0 1v1m0 44v1m1-7v1m0 12v2m1-53v1m0 7v2m0 1v1m1-5v1m0 6v1m0 40v1m0 1v2m0 1v2m1-47v1m0 6v2m0 3v1m0 21v1m0 2v1m0 3v1m1-61v1m0 6v1m0 2v1m0 3v1m0 1v1m0 1v1m0 3v2m1-18v1m0 3v1m0 4v2m0 1v1m0 36v1m0 5v1m1-44v1m0 34v2m1-44v1m0 46v1m0 2v2m0 2v2m1-71v1m0 11v2m0 1v1m0 2v2m0 35v1m0 8v1m0 1v1m0 2v2m1-48v2m0 8v1m0 29v1m0 2v2m0 2v1m0 2v1m1-75v1m0 4v1m0 2v1m0 2v5m0 1v2m0 11v1m0 31v1m1-73v1m0 1v1m0 4v1m0 4v1m0 10v1m0 48v1m0 2v2m0 2v1m0 3v1m0 1v1m1-78v1m0 2v1m0 1v1m0 6v1m0 40v1m0 1v1m0 9v1m1-61v2m0 4v1m1-15v1m0 3v1m0 5v1m0 45v1m0 13v1m0 2v1m1-76v1m0 5v1m0 3v1m0 45v1m0 2v1m0 1v2m0 5v1m1-59v1m0 2v1m0 4v1m0 3v2m0 35v1m0 2v1m1-48v1m0 5v2m0 32v1m0 4v1m0 2v5m0 4v1m1-69v1m0 2v1m0 9v1m0 2v1m0 26v1m0 1v2m0 4v1m1-47v1m1-17v1m0 5v1m0 1v1m0 3v1m0 8v1m0 39v1m0 1v4m0 2v1m1-63v1m0 5v1m0 13v1m0 36v2m1-15v1m0 9v1m1-52v1m0 8v1m0 46v1m1-60v1m0 7v2m0 43v2m0 1v1m1-60v1m0 2v3m0 8v1m0 16v1m0 1v1m0 25v1m0 10v1m1-59v2m0 47v3m1-56v1m0 3v1m0 3v1m0 3v1m0 39v1m1-45v1m0 8v1m0 33v1m0 3v1m0 2v1m1-46v1m0 3v1m0 24v1m1-35v1m0 2v1m0 1v4m0 33v1m1-39v2m0 1v1m0 30v2m0 8v1m1-49v1m0 37v1m0 4v1m1-54v1m0 1v1m0 1v2m0 4v1m0 2v2m0 38v1m0 8v1m1-61v2m0 2v1m0 1v1m0 35v1m0 7v3m1-61v1m0 1v1m0 3v1m0 27v1m0 15v1m0 1v2m0 2v2m0 3v3m0 5v1m1-73v1m0 3v2m0 2v2m0 1v1m0 1v1m0 2v1m0 10v1m0 33v2m0 1v1m0 8v1m0 2v1m0 8v1m1-79v2m0 2v1m0 2v1m0 3v1m0 44v1m0 2v1m0 2v1m0 1v2m0 3v1m1-77v1m0 3v1m0 2v2m0 2v1m0 35v1m0 20v1m0 3v1m1-61v3m0 2v1m0 1v1m0 2v1m0 36v2m0 1v1m1-40v1m0 1v1m0 37v1m0 8v1m0 6v2m1-61v3m0 2v1m0 2v1m0 6v1m0 2v1m0 38v1m0 2v1m1-47v1m0 2v1m0 35v2m0 3v1m0 1v2m0 1v2m0 2v1m1-89v1m0 2v3m0 13v2m0 1v1m0 4v1m0 39v1m1-56v1m0 1v1m0 3v2m0 1v1m0 3v1m0 7v3m0 38v2m0 4v1m0 3v1m0 1v1m1-83v1m0 16v2m0 27v1m0 1v1m0 24v1m0 3v1m0 1v1m0 1v2m1-60v1m0 40v1m0 6v1m0 2v1m1-57v1m0 1v1m0 55v1m1-81v2m0 3v1m0 2v1m0 49v1m0 2v2m0 2v1m1-60v1m0 1v1m0 1v1m0 2v1m0 12v1m0 30v1m0 5v2m0 1v1m0 3v1m1-69v1m0 2v1m0 6v1m0 5v1m0 2v1m0 2v1m0 2v1m0 41v1m0 3v1m0 1v1m1-64v1m0 2v1m0 7v1m0 3v3m0 1v1m0 23v1m0 22v1m0 4v1m0 2v1m1-78v1m0 6v1m0 2v1m0 4v1m0 35v2m0 2v1m0 19v1m1-70v1m0 1v3m0 4v1m0 54v2m1-78v1m0 9v1m0 4v1m0 5v1m0 15v1m0 1v1m0 23v1m0 1v1m0 4v1m0 7v1m1-72v1m0 4v1m0 4v1m0 16v3m0 23v2m0 4v2m0 3v3m1-76v1m0 3v2m0 10v1m0 57v2m0 5v1m1-79v1m0 1v1m0 3v2m0 1v1m0 2v1m0 2v1m0 47v1m0 5v2m0 2v2m0 5v1m1-79v1m0 7v1m0 6v1m0 50v1m0 2v1m0 1v1m1-56v2m0 3v1m0 2v1m0 31v2m0 1v1m0 3v1m0 2v1m0 4v1m1-54v2m0 42v2m1-58v1m0 1v2m0 2v1m0 4v1m0 3v1m0 1v1m0 12v1m0 21v3m0 4v1m0 10v2m1-68v1m0 1v1m0 4v2m0 40v1m0 1v2m0 1v2m0 6v1"/><path stroke="#4C72B0" d="M29.5 456v1m0 4v2m0 2v1m0 14v1m0 4v1m1-29v1m0 1v2m0 14v1m0 14v2m0 1v1m0 3v2m0 3v1m0 1v1m1-43v1m0 4v3m0 2v1m0 20v1m0 5v1m1-4v1m1-36v1m0 1v1m0 21v1m0 24v3m0 1v1m1-48v2m0 2v2m0 9v1m0 12v1m0 9v1m0 2v1m1-39v1m0 2v1m0 6v1m0 19v1m1-29v1m0 1v1m0 1v1m0 10v2m0 1v1m1-19v4m0 17v1m0 19v1m1-39v1m0 1v2m0 8v1m0 1v1m0 14v1m1-20v1m0 26v1m1-6v1m0 6v1m1-34v1m0 2v2m0 23v1m1-31v1m0 21v1m1-21v1m0 9v2m1-7v1m0 9v1m1-13v1m0 6v2m0 2v2m1 5v1m0 1v1m1-10v1m1-16v1m0 6v1m0 22v1m0 1v1m1-35v5m0 7v1m0 22v1m0 1v1m1-22v1m0 5v1m1-19v1m0 2v2m0 2v1m0 1v1m0 1v1m0 1v1m0 1v2m0 2v1m0 14v1m1-42v1m0 5v2m0 5v1m0 23v1m0 2v1m1-34v1m0 7v1m1 1v1m0 1v1m1-7v1m0 25v3m1-30v2m0 1v3m1 17v1m0 1v1m0 2v1m1-34v1m0 4v2m1 2v1m1-16v1m0 5v1m0 7v1m0 5v1m0 3v1m0 12v1m0 1v1m1-34v1m0 3v2m0 22v1m1-30v1m0 1v1m0 1v1m0 11v1m1-10v1m0 25v1m1-41v1m0 10v1m0 3v2m0 2v1m0 5v1m1-10v1m1-8v1m0 4v1m0 1v1m0 6v1m0 1v1m1-23v1m0 3v1m0 1v3m0 1v1m1-9v1m0 3v1m0 24v2m0 3v1m1-42v1m0 6v1m0 1v1m0 3v1m0 3v1m0 12v1m1-17v1m0 1v1m0 1v1m0 14v1m0 5v1m1-30v1m0 2v1m0 24v1m0 2v1m1-36v1m0 1v1m0 1v1m0 2v2m0 6v1m0 1v1m1-11v2m0 8v1m0 13v1m1-22v1m1 2v1m0 3v1m1-12v3m0 5v1m1-8v1m0 2v1m0 3v1m0 1v1m0 1v2m0 1v2m1-22v1m0 2v1m0 16v1m1-13v1m0 2v1m0 1v1m1-9v2m0 6v1m0 13v1m1-31v1m0 2v2m0 2v1m1 6v1m0 1v1m0 1v1m0 18v2m1-36v2m0 21v1m1 9v1m1-26v1m1-8v1m0 5v3m0 8v2m1-20v1m0 17v2m0 3v1m1-12v1m0 2v2m0 15v1m1-30v1m0 4v1m0 1v1m1-11v1m0 5v3m0 25v1m0 2v1m1-38v4m0 1v2m0 1v3m0 23v1m1-38v1m0 1v1m0 1v2m0 1v1m0 1v1m0 15v1m0 2v1m0 3v4m1-30v1m0 2v1m1-5v3m0 28v1m1-46v1m0 6v1m0 40v1m1-47v1m0 3v1m0 3v3m0 15v1m0 2v1m0 3v1m1-24v3m0 4v1m1-18v1m0 1v1m0 2v1m0 8v1m0 13v1m0 11v2m1-37v1m0 3v1m0 1v1m0 9v1m0 1v1m0 17v1m0 1v1m1-54v1m0 8v1m0 5v1m0 7v1m0 1v2m0 26v3m1-47v4m0 17v1m0 10v1m0 11v2m1-50v1m0 10v1m0 6v1m0 24v1m0 3v1m1-38v1m0 1v1m0 2v1m0 2v1m0 1v2m0 29v1m1-54v1m0 3v2m0 2v1m0 2v1m0 1v1m0 11v2m0 1v1m1-29v1m0 3v1m0 7v1m0 12v1m0 8v1m1-39v1m0 1v1m0 6v2m0 5v1m0 1v1m0 2v1m0 10v1m1-13v1m0 1v1m0 13v1m1-28v1m0 7v1m0 23v2m0 9v1m0 1v1m1-58v4m0 1v1m0 28v1m0 4v1m0 1v1m0 1v2m0 11v1m0 1v2m0 2v1m1-65v1m0 1v1m0 8v1m0 11v1m0 13v1m0 6v1m0 2v1m0 2v1m0 6v2m1-31v1m0 2v1m0 1v1m0 30v1m1-65v1m0 6v1m0 4v1m0 6v1m0 21v1m0 1v1m0 2v1m0 3v2m0 8v1m1-64v1m0 3v1m0 5v1m0 1v1m0 4v1m0 19v1m0 3v1m0 3v2m0 3v1m0 2v1m0 1v1m0 2v2m0 5v1m0 1v1m1-64v1m0 2v2m0 1v1m0 3v3m0 3v2m0 4v1m0 2v3m0 20v2m0 11v1m1-69v1m0 12v1m0 1v2m0 47v1m0 2v1m1-68v1m0 1v1m0 3v1m0 1v1m0 1v1m0 1v2m0 1v1m0 4v1m0 1v1m0 11v2m0 5v1m0 14v1m0 5v1m0 1v1m0 1v1m0 1v1m1-68v1m0 4v3m0 2v1m0 3v1m0 2v1m0 8v1m0 25v1m0 1v1m0 2v1m0 7v1m1-53v1m0 3v1m0 4v1m0 1v1m0 5v1m0 1v2m0 1v1m0 20v1m0 8v1m1-62v3m0 2v1m0 1v1m0 4v1m0 6v1m0 3v1m0 13v2m0 19v1m0 2v2m1-64v1m0 2v2m0 2v1m0 6v6m0 2v1m0 7v1m0 11v1m1-21v1m0 3v1m0 1v1m1-25v2m0 2v1m0 1v1m0 3v2m0 3v1m0 17v1m0 2v2m0 15v2m0 5v1m1-83v1m0 1v1m0 4v1m0 1v1m0 8v1m0 1v1m0 2v1m0 9v1m0 2v4m0 3v1m0 1v1m0 1v1m0 4v1m0 1v1m0 13v1m0 3v1m1-46v1m0 2v2m0 3v1m0 17v1m0 4v1m0 2v1m0 3v1m0 6v1m1-51v1m0 4v1m0 4v1m0 19v1m1-47v1m0 2v1m0 4v1m0 1v1m0 1v2m0 15v1m0 1v1m0 9v1m0 3v1m0 2v1m0 10v2m0 3v1m0 2v1m0 7v1m0 1v2m1-67v1m0 5v2m0 4v1m0 2v2m0 7v1m0 21v1m0 9v1m1-55v2m0 2v2m0 4v1m0 11v1m0 40v1m1-46v1m1-15v1m0 1v1m0 14v1m0 20v1m0 3v1m1-39v1m0 1v2m0 3v1m0 1v1m0 16v1m0 5v1m0 2v1m1-50v1m0 5v1m0 1v3m1-9v1m0 4v1m0 19v1m0 4v2m0 4v1m0 1v1m1-50v1m0 7v1m0 6v1m0 11v1m0 1v1m0 1v1m0 1v1m0 14v1m0 11v1m0 2v1m1-48v2m0 3v2m1-14v2m0 25v1m1-55v1m0 5v1m0 2v2m0 5v1m0 1v1m0 2v3m0 3v2m0 9v1m0 16v2m0 1v1m1-62v1m0 1v2m0 1v1m0 5v1m0 25v1m0 1v1m0 11v2m0 4v1m0 10v1m1-65v1m0 31v1m0 9v1m0 3v1m0 8v1m0 1v1m1-41v1m0 17v1m0 2v3m0 19v1m0 2v1m1-49v1m0 1v3m0 14v1m0 11v1m0 5v1m0 3v2m1-63v4m0 3v1m0 23v1m0 16v2m1-44v1m0 3v3m0 3v5m0 3v1m0 11v1m0 1v1m0 20v1m0 6v1m0 2v2m1-57v1m0 3v1m0 12v1m0 14v1m0 6v2m0 17v2m0 1v1m0 4v1m0 12v1m1-74v1m0 2v1m0 2v1m0 16v1m0 17v2m0 2v2m1-46v1m0 2v1m0 7v1m0 7v1m0 23v1m0 3v1m0 8v1m0 5v1m1-70v1m0 2v1m0 4v1m0 1v2m0 1v1m0 6v1m0 1v2m0 16v1m0 18v1m1-73v1m0 2v1m0 4v1m0 14v1m0 1v2m0 1v2m0 10v1m0 27v1m0 3v1m1-51v1m0 6v1m1-8v1m0 3v1m0 21v1m0 1v2m1-32v1m0 2v1m0 1v1m0 10v2m0 23v1m0 1v1m1-44v1m0 2v1m0 5v3m0 23v1m0 3v1m0 2v1m0 1v2m0 2v1m0 1v1m1-10v1m0 1v1m1-25v1m0 5v1m0 26v1m0 1v1m0 9v1m1-52v2m0 1v1m0 1v1m0 3v1m0 9v1m0 20v1m1-45v1m0 7v1m0 4v1m0 1v2m1-11v1m0 1v2m0 31v1m1-41v1m0 37v1m0 1v1m0 3v1m1-45v1m0 4v1m0 3v1m0 11v1m0 14v1m0 5v1m0 1v2m0 1v2m0 2v2m0 3v1m1-70v1m0 4v1m0 5v1m0 1v1m0 9v1m0 16v1m0 10v1m0 3v1m1-34v1m0 4v1m0 3v1m0 5v1m0 20v1m0 2v1m1-44v2m0 2v1m0 1v1m0 2v1m0 26v4m1-73v1m0 5v1m0 7v1m0 1v4m0 2v1m0 3v3m0 4v2m0 16v1m0 18v2m0 2v1m0 3v1m0 2v1m1-76v1m0 3v2m0 3v2m0 2v2m0 10v1m0 22v1m0 1v1m0 3v1m0 2v1m0 1v1m1-50v1m0 1v2m0 26v2m1-36v1m0 2v1m0 2v1m0 4v1m0 14v1m0 26v2m0 1v1m0 4v1m1-62v2m0 1v1m0 3v1m0 3v1m0 26v2m0 2v1m0 3v1m0 5v1m1-41v1m0 39v1m1-35v1m0 31v1m0 2v1m0 7v2m1-62v1m0 1v1m0 4v1m0 6v1m0 21v2m1-23v1m0 12v1m0 15v1m0 3v1m0 2v1m1-58v2m0 2v1m0 1v2m0 2v1m0 2v1m0 1v1m0 20v1m0 11v2m0 2v1m1-51v1m0 1v1m0 10v1m0 30v3m0 7v1m1-47v1m0 1v2m0 23v1m0 2v1m0 1v1m0 1v2m0 1v1m1-45v1m0 1v1m0 1v2m0 33v2m0 1v1m0 3v1m0 4v1m0 2v1m1-13v1m0 10v1m1-56v3m0 1v3m0 1v1m0 1v1m0 5v1m0 8v1m0 24v1m0 5v3m0 1v1m0 1v1m1-54v1m0 1v3m0 1v1m0 29v1m0 4v1m0 6v2m1-27v2m0 3v3m0 1v1m0 4v1m0 4v1m0 3v1m1-39v1m0 1v1m1 0v2m0 22v1m1-26v1m0 4v1m0 12v1m0 5v1m1-27v2m1-6v5m0 8v1m0 23v2m0 1v1m1-52v1m0 2v1m0 5v1m0 4v1m0 3v1m0 26v1m0 5v3m1-56v1m0 9v2m0 1v1m0 19v2m0 5v1m0 3v1m0 3v1m0 1v1m0 3v1m0 2v1m1-64v1m0 2v1m0 2v1m0 1v1m0 4v1m0 20v2m0 14v1m0 2v1m1-48v1m0 14v1m0 5v1m0 1v1m0 21v2m1-55v1m0 2v1m0 4v1m0 5v2m0 3v1m0 36v1m0 8v1m1-56v1m0 1v2m0 23v1m0 18v1m0 7v1m0 4v1m1-51v1m0 33v3m1-32v2m0 7v1m0 1v2m0 34v1m0 4v1m1-50v1m0 6v2m0 36v1m1-46v1m0 6v1m0 34v2m0 9v1m1-73v1m0 1v1m0 7v1m0 1v2m0 3v3m0 2v1m0 8v1m0 22v1m1-42v1m0 5v3m0 3v3m0 5v1m0 2v1m0 16v1m0 3v1m0 4v1m0 5v1m0 1v1m1-58v2m0 12v1m0 19v2m0 1v1m0 6v1m0 1v1m0 1v1m0 1v2m1-52v1m0 12v1m0 20v1m0 1v1m0 5v1m0 4v2m1-50v1m0 2v1m0 12v1m0 27v1m0 9v1m1-68v4m0 1v1m0 2v1m0 33v3m0 1v1m0 2v2m0 2v1m0 2v1m1-62v1m0 3v1m0 4v1m0 10v1m0 1v1m0 9v1m0 17v2m0 3v1m0 1v1m1-44v1m0 13v1m0 2v1m0 23v1m0 2v1m0 2v1m0 1v1m0 1v1m1-38v1m0 20v1m0 1v3m0 3v1m0 6v1m0 1v1m0 3v2m0 2v1m0 5v1m1-71v1m0 4v1m0 2v1m0 1v1m0 4v2m0 25v2m0 3v1m1-53v1m0 5v1m0 3v1m0 7v2m0 13v3m0 15v1m0 1v1m0 3v1m0 1v1m0 7v1m1-64v1m0 6v1m0 1v1m0 1v1m0 17v1m0 3v1m0 16v1m1-52v1m0 2v1m0 1v1m0 3v1m0 50v1m0 4v1m1-76v1m0 4v2m0 1v1m0 1v2m0 6v1m0 19v1m0 4v1m0 11v2m0 2v2m0 4v1m0 1v1m0 2v1m1-52v2m0 2v1m0 5v1m0 32v1m0 4v2m0 3v2m0 2v1m1-57v4m0 40v2m0 4v1m1-53v1m0 6v1m0 2v1m0 2v1m0 23v3m0 5v1m0 7v1m1-47v2m0 29v1m0 1v3m1-48v2m0 3v1m0 8v1m0 1v1m0 1v1m0 4v2m0 14v1m0 20v1m0 1v1m1-53v2m0 33v1m0 7v1"/><path stroke="#2A3F6E" d="M29.5 457v2m0 4v1m1-2v1m0 1v1m0 1v1m0 36v1m1-39v2m0 3v1m0 33v1m1-35v1m0 5v1m1 0v1m0 2v1m0 5v1m1-18v2m0 30v1m0 8v1m1-40v1m0 3v2m0 2v1m0 2v1m0 19v1m1-38v1m0 12v1m0 2v3m1-14v1m0 27v1m0 1v3m1-30v1m0 6v2m0 1v1m0 4v1m1-1v2m1-19v1m0 4v1m0 1v2m0 20v1m0 14v1m1-36v1m0 1v1m1-3v1m0 13v1m1-19v2m0 1v1m0 2v2m0 1v2m0 2v1m2-13v1m0 2v2m0 3v1m0 7v2m0 2v1m1-7v1m1-4v1m1-20v1m0 8v2m0 5v1m0 3v2m0 18v1m1-35v3m0 34v1m2-33v1m0 6v1m0 4v1m1-16v1m0 2v1m0 5v1m0 24v1m0 2v1m0 2v1m1-33v1m0 8v1m1 0v1m0 2v2m1-15v1m1-1v2m0 2v1m1-9v1m0 26v1m2-22v1m0 5v1m0 1v1m1-17v1m1-2v4m0 2v1m0 28v2m1-40v1m0 6v1m1 1v1m0 4v1m1-15v1m0 7v1m0 2v2m1-3v1m0 7v1m1-10v1m0 2v1m0 1v1m0 10v1m1-22v2m0 9v1m1-11v1m0 1v1m0 2v1m0 2v1m0 21v2m1-36v1m0 1v1m0 1v1m0 5v1m0 3v1m0 2v1m0 6v1m1-16v1m1-3v1m0 28v1m1-36v1m0 5v1m0 6v2m1-8v1m0 2v1m1-6v1m0 1v1m1 9v1m0 1v1m1-8v3m1-10v1m0 10v1m1-14v2m0 1v2m0 15v1m1-10v1m1-6v1m1-13v1m0 3v1m0 7v1m0 2v1m0 18v1m1-27v1m0 4v2m1-12v1m0 3v1m0 1v1m0 13v2m0 2v1m1-18v2m0 4v1m1-14v1m0 3v1m0 6v1m1-13v1m0 2v1m0 3v3m0 14v1m1-16v1m0 13v1m0 1v1m0 5v2m1-23v1m0 3v1m0 6v1m1-14v2m1-11v1m0 4v1m0 1v3m0 27v1m0 2v1m1-43v1m0 2v1m1-5v2m0 1v1m0 26v2m0 2v1m1-28v1m0 11v1m1-18v1m0 12v1m0 20v1m0 2v1m0 3v1m1-36v1m0 1v1m1-15v1m0 5v2m0 5v1m0 9v2m0 7v1m0 2v1m1-30v1m0 9v2m1-20v1m0 5v2m0 1v1m0 1v1m0 27v1m0 5v1m0 1v1m1-43v3m0 1v3m0 1v1m0 21v1m1-39v1m0 3v1m0 2v1m0 2v1m0 3v1m0 2v1m0 30v1m1-48v1m0 2v1m0 34v1m0 1v3m0 1v1m0 1v2m1-43v1m0 6v1m0 1v1m1-2v1m0 5v1m1-21v1m0 4v1m0 7v2m0 2v1m0 1v4m0 5v1m0 21v1m1-41v1m0 2v2m0 13v1m1-35v1m0 1v1m0 2v1m0 1v1m0 6v2m0 4v1m0 16v2m1-29v1m0 3v1m0 7v1m1-12v1m0 1v2m0 7v1m0 27v1m0 5v1m1-24v1m0 4v1m0 14v1m0 4v1m1-60v1m0 1v1m0 1v1m0 1v2m0 8v1m0 1v2m0 18v1m0 10v1m0 1v1m0 4v1m1-33v1m0 1v2m0 1v1m0 27v1m1-57v1m0 15v2m0 16v1m0 9v2m0 3v1m0 4v1m1-59v1m0 31v1m0 20v1m0 6v1m0 2v1m1-76v2m0 1v1m0 1v1m0 5v1m0 6v1m0 7v2m0 5v1m0 2v1m0 7v1m0 20v2m0 6v1m1-71v3m0 1v6m0 2v1m0 2v1m0 1v1m0 19v2m0 10v1m0 7v1m0 10v1m1-72v1m0 4v1m0 3v3m0 1v1m0 1v1m0 4v1m0 4v1m0 6v1m0 6v1m0 33v1m0 1v2m1-68v1m0 12v2m0 1v1m0 3v1m0 32v2m0 2v1m1-39v1m0 1v1m0 1v1m1-23v1m0 10v2m0 1v1m1-10v1m0 23v1m0 3v1m0 6v1m0 2v2m0 4v1m1-32v3m0 10v1m1-29v1m0 3v1m0 1v1m0 28v1m0 5v2m0 1v1m0 3v1m0 2v1m0 11v1m1-66v1m0 2v1m0 11v1m0 5v1m0 3v1m0 1v1m0 2v2m0 10v4m0 8v1m1-60v1m0 7v1m0 5v1m0 3v1m0 26v1m1-35v1m0 41v1m0 4v1m0 1v1m0 9v1m1-77v1m0 4v1m0 34v1m0 1v1m0 11v2m0 5v1m0 7v1m1-52v3m0 2v1m0 4v1m0 1v1m0 19v1m0 13v1m0 8v1m1-69v1m0 4v2m0 6v1m0 1v1m0 2v1m0 6v1m0 10v2m0 1v1m0 2v1m0 7v1m1-55v1m0 9v1m0 6v2m0 1v3m0 2v1m0 1v1m0 2v2m0 21v2m1-50v1m0 2v1m0 31v1m0 13v2m0 6v1m1-39v1m0 24v1m1-38v1m0 6v1m0 7v1m0 19v1m0 2v2m0 1v2m0 2v1m0 5v1m1-56v2m0 1v1m0 19v1m0 10v1m0 1v1m0 3v1m0 5v1m0 2v1m1-64v1m0 4v2m0 1v1m0 4v1m0 1v2m0 7v5m0 1v1m0 20v1m0 12v1m0 2v1m1-53v1m0 6v1m0 27v1m0 6v1m0 2v1m0 1v1m0 2v1m1-63v1m0 4v2m0 4v1m0 22v1m0 1v1m0 2v2m1-10v1m0 6v1m1-62v1m0 1v1m0 5v1m0 24v3m0 11v1m0 15v1m1-60v1m0 2v1m0 2v1m0 14v1m0 27v1m0 4v1m0 2v1m1-62v1m0 33v2m0 15v1m0 1v3m0 3v1m0 1v1m0 1v2m1-46v1m0 43v3m0 1v1m1-60v1m0 35v2m1-13v1m0 1v1m0 7v1m0 29v1m0 5v1m1-63v1m0 1v3m0 1v1m0 2v1m0 3v1m0 1v1m0 11v1m0 11v1m0 14v1m0 5v1m0 1v1m0 1v2m0 3v3m0 5v1m1-82v1m0 3v1m0 3v2m0 5v1m0 12v1m0 18v1m0 3v1m0 5v1m0 10v1m1-55v1m0 28v1m0 3v2m0 3v3m0 8v1m0 4v1m1-81v2m0 3v1m0 9v1m0 1v3m0 2v1m0 7v1m0 9v1m0 6v1m0 16v3m0 14v1m1-81v1m0 16v1m0 3v1m0 1v1m0 2v1m0 2v1m0 28v1m0 5v1m0 1v1m0 2v2m0 2v1m0 2v1m1-55v1m0 2v2m0 25v2m1-36v1m0 1v1m0 5v1m0 21v1m1 4v1m0 2v2m1-37v1m0 5v1m0 3v1m0 21v1m0 2v1m0 3v1m1-35v1m0 7v1m0 29v1m0 1v1m1-30v1m0 2v2m0 30v1m0 1v1m0 2v1m1-48v1m0 3v1m0 3v1m0 1v1m0 4v3m0 2v1m0 27v1m1-47v1m0 5v1m0 22v2m1-37v1m0 35v2m0 6v1m0 3v1m1-42v1m0 32v1m0 1v1m0 3v1m0 3v2m1-47v3m0 9v1m0 9v1m0 32v1m1-65v1m0 7v1m0 2v3m0 30v1m0 2v1m0 5v1m0 4v2m1-42v3m0 1v1m0 6v1m0 20v1m0 5v1m0 3v1m1-73v1m0 7v1m0 2v1m0 10v1m0 4v1m0 1v1m0 36v2m1-70v1m0 2v2m0 9v1m0 1v1m0 5v1m0 19v1m0 11v1m0 2v3m0 8v1m0 6v1m1-65v1m0 7v1m0 28v1m1-46v1m0 10v4m0 23v1m1-32v1m0 1v3m0 2v1m0 2v1m0 11v1m0 15v1m0 3v1m0 11v1m1-63v1m0 1v1m0 5v2m0 33v1m0 2v1m0 1v1m0 4v1m1-47v1m0 2v2m0 38v1m0 5v1m1-34v1m0 1v1m0 1v1m0 18v2m0 4v1m1-48v1m0 1v1m0 2v1m0 6v1m0 25v1m1-39v1m0 3v2m0 6v1m0 17v1m0 9v1m0 4v2m0 2v1m1-52v1m0 2v2m0 2v1m0 4v1m0 29v1m0 10v1m1-53v3m0 1v1m0 24v1m0 15v1m1-44v1m0 2v1m0 4v1m0 21v1m0 13v1m0 3v1m1-55v1m0 7v1m0 2v1m0 27v1m0 2v1m0 2v1m1-45v1m0 6v1m0 1v1m0 1v1m0 29v1m0 1v1m0 5v1m1-53v1m0 3v1m0 5v1m0 1v1m0 9v3m0 25v1m0 4v1m0 4v1m1-60v1m0 9v1m0 6v1m0 5v1m0 42v1m1-59v1m0 1v3m0 3v1m0 23v1m0 3v1m0 4v2m1-38v1m0 30v1m0 8v2m1-10v1m1-33v1m0 31v1m0 1v1m1-33v1m0 30v1m0 2v1m1-44v1m0 4v2m0 9v1m0 22v1m0 3v1m1-53v2m0 1v1m0 5v1m0 3v1m0 4v1m0 2v2m0 26v1m0 1v1m1-52v1m0 10v1m0 27v1m0 10v1m0 11v1m1-68v1m0 8v1m0 2v1m0 6v1m0 12v1m0 1v1m0 24v1m0 8v1m1-64v1m0 4v1m0 10v2m0 1v1m0 30v1m0 1v1m1-45v1m0 27v1m0 18v1m0 1v1m0 3v1m0 1v1m0 8v1m1-78v1m0 7v1m0 2v1m0 8v1m0 20v1m0 5v1m0 2v1m0 6v3m0 1v2m0 5v1m1-13v1m1-31v2m0 1v1m0 35v3m0 1v1m0 5v1m1-52v1m0 3v1m0 3v1m0 4v1m0 4v1m0 31v1m0 2v1m0 1v1m1-47v1m0 2v1m0 1v2m0 33v1m1-75v1m0 14v1m0 23v1m0 20v2m1-55v2m0 4v2m0 3v1m0 5v2m0 12v1m0 42v1m1-69v1m0 2v1m0 4v1m0 5v1m0 23v1m0 2v1m0 10v1m0 5v1m0 4v3m1-58v1m0 1v1m0 2v3m0 31v1m0 14v1m1-70v1m0 16v1m0 31v1m0 7v1m0 3v1m0 6v1m0 1v1m1-76v2m0 50v1m0 12v1m1-58v2m0 7v1m0 2v2m0 13v1m0 15v1m0 16v2m1-69v1m0 6v1m0 14v1m0 1v1m0 2v1m0 2v1m0 24v1m0 2v1m0 1v2m1-40v1m0 3v1m0 1v1m0 1v1m0 1v1m0 33v1m0 3v1m0 5v2m0 2v1m1-68v1m0 3v2m0 4v1m0 31v1m0 5v3m1-59v1m0 1v1m0 1v2m0 7v1m0 4v1m0 5v1m0 5v1m0 2v1m0 19v1m0 12v1m1-59v1m0 4v1m0 3v1m0 11v2m0 1v1m0 3v2m0 20v1m0 7v1m1-62v1m0 21v1m0 3v1m0 24v1m1-56v1m0 4v1m0 6v1m0 12v1m0 6v2m0 11v2m0 3v1m0 5v1m0 2v1m0 1v1m1-67v1m0 6v1m0 4v1m0 6v1m0 2v1m0 3v1m0 27v6m0 7v1m1-44v2m0 24v1m0 7v1m0 1v1m0 10v1m0 9v1m1-63v1m0 10v1m0 20v2m1-31v1m0 32v1m0 6v1m1-49v2m0 4v1m0 2v1m0 2v1m0 1v1m0 2v1m0 4v1m0 2v1m0 40v1m1-66v2m0 3v1m0 3v1m0 30v1m0 2v2m0 1v1m0 14v1"/><path stroke="#14141C" d="M29.5 464v1m0 1v5m0 1v3m0 1v2m0 1v1m0 1v2m0 1v1m1-20v1m0 1v4m0 1v3m0 2v3m0 1v1m0 1v5m0 1v1m0 6v1m1-26v1m0 1v6m0 1v4m0 1v8m0 1v1m0 1v2m1-23v1m0 1v19m1-9v22m0 4v1m1-40v8m0 1v1m0 1v7m0 2v1m0 1v5m0 1v3m0 1v1m1-26v1m0 1v17m0 1v1m1-11v9m0 1v17m1-47v1m0 4v1m0 1v6m0 1v7m0 2v4m0 1v1m0 3v1m0 1v1m0 1v6m0 1v1m0 1v2m1-36v1m0 1v3m0 4v6m0 1v6m0 1v13m1-28v2m0 1v2m0 1v14m0 1v1m0 1v5m1-41v1m0 2v5m0 1v5m0 1v7m0 2v4m0 1v1m0 1v5m0 3v2m1-32v3m0 1v12m0 1v6m0 1v8m1-37v3m0 1v5m0 2v2m0 1v5m0 2v1m0 1v5m0 1v3m0 1v4m1-40v1m0 1v1m0 3v1m0 3v1m0 1v1m0 2v10m0 1v3m0 1v6m0 1v3m1-27v2m0 1v2m0 1v8m0 1v6m0 1v5m1-28v1m0 8v5m0 1v5m0 1v7m1-25v2m0 1v6m0 1v1m0 1v9m0 1v3m1-25v1m0 2v2m0 1v9m0 1v1m0 1v2m0 1v4m1-36v1m0 8v1m0 1v5m0 1v6m0 2v2m0 4v5m1-33v5m0 1v11m0 1v5m0 1v2m0 3v1m0 1v2m1-19v1m0 2v13m0 1v2m1-37v1m0 1v2m0 9v1m0 5v1m0 1v8m0 1v3m0 1v1m0 1v1m1-40v1m0 5v2m0 1v1m0 2v10m0 1v1m0 1v8m0 5v1m1-33v1m0 1v4m0 1v1m0 3v2m0 1v3m0 1v5m0 1v7m0 1v2m1-22v2m0 2v3m0 1v10m0 1v3m1-31v1m0 1v20m0 1v4m1-21v14m0 2v9m1-36v19m0 1v2m0 1v3m0 1v1m0 6v2m1-29v29m1-24v1m0 1v1m0 1v20m1-41v2m0 1v1m0 2v1m0 1v5m0 1v5m0 1v3m0 1v8m0 1v3m0 1v1m0 1v2m1-29v2m0 1v3m0 1v9m0 1v4m0 1v2m0 2v3m1-32v11m0 2v9m0 1v7m0 1v1m1-28v13m0 1v8m0 1v1m0 1v3m1-27v2m0 1v2m0 1v2m0 1v7m0 1v6m0 1v3m1-26v1m0 1v18m0 2v4m1-27v1m0 1v1m0 2v1m0 1v1m0 4v5m0 1v2m0 1v4m0 1v1m1-30v2m0 1v10m0 1v15m1-33v1m0 1v2m0 1v14m0 1v1m0 1v2m0 8v2m1-41v1m0 10v1m0 2v2m0 1v6m0 4v5m0 1v8m1-31v1m0 1v1m0 2v7m0 1v4m0 2v3m0 1v1m0 1v5m1-33v1m0 1v3m0 1v17m0 1v2m0 1v1m0 2v4m1-34v1m0 4v1m0 2v1m0 1v1m0 1v1m0 1v20m1-38v1m0 7v7m0 1v12m0 2v8m1-32v1m0 2v10m0 2v13m0 1v3m1-26v1m0 4v7m0 1v7m0 1v1m0 1v3m1-31v2m0 4v25m1-34v1m0 2v1m0 1v3m0 9v11m0 1v5m1-33v4m0 1v8m0 3v5m0 1v3m0 1v1m0 1v3m0 1v1m1-25v12m0 1v10m0 1v1m1-31v5m0 1v6m0 1v6m0 1v10m1-40v1m0 7v1m0 1v2m0 1v5m0 1v9m0 1v2m0 1v2m0 2v5m1-37v1m0 11v1m0 1v7m0 1v8m0 1v1m0 2v3m1-36v1m0 1v7m0 1v2m0 1v2m0 2v2m0 3v14m1-24v1m0 2v11m0 2v2m0 1v3m0 1v1m1-36v1m0 6v6m0 1v4m0 1v5m0 1v7m0 1v2m1-28v3m0 1v4m0 4v11m0 1v5m1-32v11m0 7v1m0 1v1m0 2v2m0 1v6m1-22v1m0 2v6m0 1v2m0 1v2m0 1v6m1-30v1m0 1v11m0 1v8m0 1v7m1-29v4m0 1v7m0 1v10m0 5v1m1-41v1m0 5v1m0 2v1m0 3v22m0 2v4m1-34v1m0 1v14m0 12v6m1-32v5m0 1v5m0 1v20m1-40v1m0 1v1m0 3v1m0 1v1m0 3v7m0 1v10m0 1v2m0 2v2m0 1v2m1-35v9m0 1v10m0 1v7m0 1v3m0 1v2m1-47v2m0 3v1m0 3v1m0 1v1m0 1v4m0 1v2m0 2v2m0 4v1m0 1v1m0 2v13m1-39v1m0 3v2m0 3v9m0 2v3m0 1v5m0 1v10m1-42v1m0 1v1m0 1v2m0 2v13m0 1v1m0 1v5m0 2v2m0 3v1m0 1v4m1-54v1m0 16v8m0 2v1m0 1v8m0 1v2m0 1v5m0 1v1m0 1v5m1-40v1m0 2v1m0 1v1m0 2v25m0 4v3m1-46v15m0 1v1m0 2v9m0 1v1m0 1v1m0 3v1m0 1v1m0 5v3m1-41v1m0 2v2m0 1v1m0 1v1m0 1v20m0 1v2m0 2v6m1-37v1m0 4v10m0 1v1m0 1v3m0 1v4m0 2v2m0 1v3m0 1v2m1-29v1m0 2v4m0 1v15m0 3v3m1-39v2m0 1v5m0 1v3m0 2v2m0 2v1m0 1v19m1-52v1m0 2v2m0 2v1m0 4v1m0 1v2m0 1v7m0 1v1m0 1v1m0 2v7m0 1v1m0 1v10m0 1v1m1-37v13m0 1v11m0 1v7m0 1v3m1-42v1m0 4v10m0 1v7m0 2v4m0 1v1m0 1v1m0 2v1m0 3v3m1-59v1m0 1v1m0 1v7m0 1v11m0 1v4m0 1v1m0 2v1m0 8v1m0 7v1m0 3v1m1-52v1m0 3v7m0 5v13m0 1v3m0 1v2m0 1v2m0 1v1m0 2v1m0 3v2m0 3v3m0 1v1m1-31v5m0 1v5m0 1v14m0 1v2m1-53v2m0 3v1m0 6v4m0 1v11m0 1v2m0 1v1m0 1v2m0 6v1m0 1v4m0 1v1m0 1v4m1-66v1m0 2v1m0 2v2m0 3v4m0 1v14m0 1v2m0 1v1m0 1v3m0 1v3m0 2v3m0 1v2m0 1v1m0 2v1m1-53v1m0 5v1m0 7v1m0 2v2m0 4v1m0 3v3m0 1v5m0 1v10m0 2v2m0 2v6m0 2v2m1-61v1m0 8v15m0 3v1m0 1v7m0 1v3m0 1v3m0 2v2m0 1v5m0 4v2m1-59v1m0 4v1m0 4v1m0 1v3m0 1v6m0 3v1m0 1v3m0 1v9m0 1v1m0 1v1m0 2v4m1-57v1m0 4v2m0 1v1m0 7v3m0 1v3m0 1v3m0 1v2m0 1v6m0 1v11m0 1v1m0 4v1m0 2v4m0 2v3m1-44v1m0 1v1m0 2v1m0 5v6m0 1v3m0 1v8m0 1v3m0 1v1m0 1v2m0 1v4m1-62v1m0 4v1m0 11v1m0 5v10m0 2v4m0 1v14m0 1v2m0 2v3m1-59v1m0 4v1m0 6v2m0 1v6m0 2v2m0 1v6m0 1v1m0 6v1m0 1v3m0 2v1m0 2v9m1-37v1m0 1v8m0 1v9m0 1v16m1-61v1m0 4v1m0 1v1m0 2v3m0 1v2m0 1v6m0 1v7m0 2v1m0 2v1m0 3v1m0 1v3m0 14v1m1-71v1m0 2v1m0 8v1m0 2v1m0 13v1m0 5v1m0 4v1m0 1v5m0 5v3m0 1v3m0 2v7m0 1v3m1-52v1m0 2v17m0 1v2m0 1v1m0 2v1m0 1v3m0 1v1m0 1v2m0 1v1m0 1v12m1-59v1m0 3v2m0 1v2m0 1v16m0 1v13m0 2v4m0 11v1m1-69v1m0 1v1m0 2v8m0 1v6m0 1v1m0 1v7m0 1v1m0 2v1m0 2v2m0 1v7m0 2v1m0 2v1m1-39v1m0 2v1m0 2v1m0 1v1m0 2v2m0 1v10m0 1v4m0 1v1m0 1v3m0 1v2m0 1v4m0 1v1m0 1v3m0 2v1m0 3v1m1-58v1m0 23v1m0 1v2m0 1v7m0 1v17m0 1v1m1-51v2m0 3v1m0 4v12m0 1v5m0 1v1m1-33v11m0 2v1m0 1v1m0 1v1m0 1v1m0 1v12m1-30v1m0 1v1m0 1v1m0 1v9m0 1v2m0 1v3m0 1v3m1-33v1m0 1v1m0 1v4m0 1v2m0 2v3m0 1v2m0 1v11m0 1v2m1-40v1m0 2v5m0 1v1m0 1v10m0 2v1m0 1v2m0 3v1m0 6v1m1-36v6m0 10v1m0 1v8m0 1v2m0 1v2m0 2v6m0 1v3m0 1v1m1-48v2m0 2v1m0 4v2m0 1v6m0 2v1m0 1v4m0 1v3m0 2v2m0 1v6m0 2v1m0 1v1m1-52v1m0 2v1m0 1v7m0 2v7m0 1v5m1-48v1m0 1v2m0 2v1m0 1v3m0 1v1m0 1v2m0 4v1m0 3v1m0 1v2m0 1v4m0 1v2m0 1v7m0 2v3m1-49v3m0 1v11m0 1v5m0 1v2m0 3v2m0 1v1m0 1v6m0 1v4m0 2v1m0 11v1m1-59v2m0 1v6m0 1v1m0 1v5m0 1v3m0 1v2m0 1v3m0 2v9m0 1v3m0 3v1m0 1v1m1-56v2m0 3v2m0 1v4m0 1v7m0 2v10m0 3v4m0 1v2m0 3v5m0 1v1m1-32v1m0 3v7m0 1v1m0 1v4m0 1v6m0 1v2m0 1v1m0 1v5m0 1v2m1-56v3m0 2v15m0 1v4m0 1v1m0 1v7m0 1v4m0 3v1m1-35v1m0 7v2m0 2v2m0 1v5m0 1v1m0 2v1m0 1v4m0 1v5m0 1v9m0 1v6m0 1v1m1-52v1m0 12v1m0 3v7m0 1v1m0 1v1m0 1v1m0 1v6m0 4v3m0 1v9m0 6v1m0 24v1m1-75v1m0 1v1m0 1v2m0 1v5m0 1v1m0 1v1m0 1v12m0 2v2m0 3v1m1-34v2m0 1v7m0 1v11m0 1v3m0 1v3m0 3v1m0 5v6m0 3v1m1-64v1m0 5v1m0 4v1m0 1v1m0 1v1m0 1v1m0 2v1m0 2v3m0 1v1m0 3v2m0 1v5m0 1v4m0 1v5m0 4v4m0 1v1m0 1v4m1-72v1m0 1v1m0 10v1m0 11v8m0 2v7m0 1v1m0 1v5m0 1v1m0 1v1m0 1v3m0 4v1m1-45v1m0 2v1m0 1v9m0 1v13m0 2v1m1-27v4m0 1v14m1-21v9m0 3v15m0 1v1m0 3v2m0 1v1m1-39v4m0 5v10m0 1v5m0 1v3m0 5v1m1-25v1m0 1v6m0 1v3m0 1v9m0 1v4m0 1v1m1-20v2m0 2v4m0 1v1m0 1v10m0 2v6m0 4v1m1-24v18m0 1v1m0 2v2m1-47v2m0 3v1m0 2v1m0 4v1m0 2v2m0 2v12m1-23v1m0 1v4m0 1v1m0 1v2m0 1v12m0 2v2m0 1v2m1-31v2m0 1v2m0 1v2m0 1v5m0 1v5m0 1v1m0 1v5m1-36v1m0 4v3m0 1v4m0 1v6m0 1v2m0 1v3m0 1v7m0 1v5m0 1v1m1-49v1m0 12v2m0 1v13m0 1v2m0 1v5m0 1v3m1-18v1m0 1v1m0 1v1m0 1v11m0 1v6m0 1v1m0 1v1m0 5v1m1-54v1m0 2v1m0 1v1m0 7v1m0 2v26m1-57v1m0 2v1m0 9v1m0 4v3m0 2v5m0 1v2m0 1v2m0 1v2m0 1v1m0 1v9m0 1v2m0 3v3m0 2v1m1-56v1m0 4v4m0 1v3m0 2v22m0 3v2m1-34v9m0 2v5m0 1v4m1-24v1m0 2v2m0 1v1m0 1v3m0 1v2m0 1v1m0 2v1m0 1v11m0 1v1m0 2v2m0 1v2m0 1v2m0 2v1m0 2v1m1-50v2m0 2v7m0 1v1m0 1v5m0 1v9m0 3v1m0 2v1m1-28v14m0 1v3m0 1v2m0 1v2m0 1v5m0 1v2m1-27v1m0 1v5m0 1v1m0 1v4m0 1v5m0 2v1m0 2v1m0 2v1m1-47v2m0 3v2m0 1v1m0 2v19m0 1v1m0 11v1m1-41v6m0 1v1m0 1v3m0 1v8m0 1v2m0 1v5m0 1v3m0 1v2m1-36v1m0 1v1m0 1v1m0 1v5m0 2v9m0 1v10m1-38v1m0 1v4m0 1v1m0 1v8m0 1v2m0 1v3m0 1v1m0 1v1m0 1v3m0 1v4m1-32v2m0 1v20m0 2v1m0 3v1m0 2v1m0 1v1m1-38v2m0 1v7m0 1v15m0 1v3m0 5v1m0 1v1m0 1v1m0 1v2m0 1v1m1-45v1m0 1v1m0 1v2m0 1v5m0 1v9m0 1v10m1-31v4m0 1v4m0 7v10m0 2v2m0 1v6m0 2v1m0 3v1m1-49v2m0 5v1m0 1v1m0 1v5m0 1v16m0 1v4m0 1v1m1-33v2m0 2v14m0 2v3m0 5v2m1-24v3m0 1v15m0 1v1m0 2v1m0 1v7m1-30v9m0 1v11m1-25v1m0 1v3m0 2v8m0 1v3m0 1v5m0 1v1m1-26v2m0 2v8m0 2v1m0 1v11m1-28v1m0 2v1m0 1v3m0 1v13m0 1v3m0 4v1m1-42v1m0 6v1m0 2v1m0 3v10m0 1v14m0 4v1m1-42v1m0 2v1m0 1v16m0 1v2m0 2v1m0 1v3m0 1v2m0 2v2m0 2v1m1-45v2m0 1v3m0 1v4m0 1v7m0 6v11m0 1v1m1-25v3m0 1v1m0 1v1m0 1v3m0 1v3m0 1v11m0 3v1m1-39v1m0 1v10m0 1v10m0 1v5m0 1v8m0 2v1m1-43v4m0 1v4m0 1v9m0 1v1m0 1v3m0 1v3m0 1v1m0 2v1m0 1v1m0 1v3m0 4v1m0 2v1m1-42v5m0 1v10m0 1v14m1-16v4m0 2v3m0 1v7m0 1v6m0 2v2m0 7v1m0 1v1m1-37v4m0 1v1m0 1v8m0 1v10m0 1v7m0 1v1m0 2v1m1-40v1m0 2v2m0 1v8m0 1v11m0 2v4m0 5v1m1-47v2m0 1v7m0 2v1m0 1v11m0 2v4m1-51v1m0 16v2m0 9v1m0 1v3m0 1v2m0 1v9m0 1v3m0 1v2m0 1v3m0 1v4m0 3v2m1-52v1m0 1v1m0 1v8m0 1v1m0 1v7m0 1v1m0 1v1m0 5v1m0 2v1m0 1v1m0 2v2m0 2v1m0 1v1m0 4v1m1-46v5m0 3v9m0 1v9m0 1v1m0 1v1m0 1v3m1-39v12m0 1v15m0 1v1m0 1v7m0 1v1m0 1v1m0 1v6m0 3v1m1-71v1m0 4v1m0 1v2m0 1v9m0 1v15m0 1v6m1-36v5m0 1v2m0 5v9m0 2v15m1-25v1m0 2v1m0 2v1m0 1v8m0 1v2m0 1v10m0 2v1m0 5v1m1-33v1m0 1v17m0 5v3m0 1v6m0 3v2m0 3v1m1-52v1m0 1v2m0 2v13m0 1v11m1-45v1m0 10v1m0 1v2m0 3v3m0 1v5m0 1v2m0 4v8m0 1v5m0 4v3m0 1v1m0 1v5m0 1v1m1-49v8m0 1v1m0 6v1m0 3v1m0 1v12m0 1v1m0 1v1m1-49v1m0 1v1m0 1v1m0 1v6m0 1v6m0 5v2m0 1v1m0 1v3m0 1v13m0 5v1m1-62v1m0 11v2m0 2v2m0 1v6m0 1v2m0 1v5m0 3v2m0 1v8m0 2v1m0 6v2m0 6v1m1-52v1m0 3v1m0 3v2m0 3v2m0 1v3m0 1v6m0 1v2m0 1v2m0 1v5m0 7v1m0 2v1m1-43v2m0 2v24m0 1v7m0 3v1m1-31v2m0 1v8m0 1v8m1-30v1m0 3v10m0 2v4m0 1v8m0 1v3m1-24v1m0 1v2m0 4v1m0 1v4m0 1v5m0 2v2m0 1v4m0 9v1m0 5v1m1-50v17m0 1v8m0 1v3m0 2v1"/><path stroke="#2B3458" d="M29.5 471v1m0 3v1m0 2v1m0 4v1m1-13v1m0 4v1m0 3v1m0 1v1m0 5v1m0 3v1m0 8v1m1-23v1m0 4v1m0 10v1m2 13v1m1-26v1m0 7v2m2-5v1m0 10v1m1-24v1m0 6v1m0 7v1m0 22v1m1-26v1m0 6v1m1-6v1m0 2v1m0 14v1m1-26v1m0 5v1m0 7v1m0 5v1m1-17v1m0 12v1m1-19v1m0 5v2m0 8v1m0 2v1m0 5v1m0 3v1m1-11v1m0 3v1m0 6v1m1-22v1m0 11v1m0 6v1m1-15v1m0 5v1m0 5v1m1-16v1m0 18v1m1-17v1m0 9v1m0 1v1m0 2v1m1-33v1m0 10v1m0 5v1m0 6v2m0 4v1m1-29v2m0 17v1m0 5v1m0 2v1m1 3v1m1-17v1m0 10v1m0 3v1m1-26v1m0 10v1m0 1v1m0 10v1m1-22v2m0 3v1m0 3v1m0 5v1m0 7v1m1-13v1m0 10v1m1-29v1m0 22v1m1-3v2m1-8v1m0 2v1m0 8v1m2-17v1m1-17v1m0 2v1m0 24v1m1-22v1m0 2v1m0 3v1m0 9v1m1-8v1m0 9v1m0 7v1m1-14v1m0 8v1m1-17v1m0 10v1m0 6v1m1-3v2m1-29v2m0 5v1m0 8v2m0 5v1m0 2v1m0 4v1m1-16v1m0 15v1m1-15v1m0 1v1m1-33v1m0 35v1m1-19v1m0 7v1m0 4v1m0 4v1m0 7v1m1-29v1m0 17v1m1-11v1m2-11v1m0 11v2m0 13v1m1-11v1m0 7v1m0 1v1m2-3v1m1-24v1m0 8v1m0 7v1m0 3v1m0 1v1m0 3v1m1-12v1m0 10v1m1-18v1m0 17v1m1-23v1m0 9v1m0 5v2m1-11v1m0 8v1m1-21v1m0 2v1m1 0v2m0 11v2m0 6v1m1-34v1m0 11v1m0 4v1m0 5v1m0 7v1m0 2v1m1-26v1m0 19v1m1-8v1m0 5v1m1-14v1m0 6v1m0 2v1m1-8v1m0 8v1m1-23v1m0 4v1m0 7v1m1 10v1m1-34v1m0 2v1m0 17v1m1-4v1m1-13v1m0 2v2m0 7v1m1-6v1m0 10v1m0 7v1m1-29v1m0 4v1m0 28v1m1-22v2m0 3v1m0 5v1m1-29v1m0 2v1m0 16v1m0 6v1m1-18v1m0 14v1m2-18v1m0 2v1m1-5v1m0 23v1m1-15v1m0 1v1m0 3v1m0 4v2m0 2v1m1-26v1m0 9v1m1-22v1m0 2v1m0 2v1m0 13v1m0 2v1m1-17v1m0 9v1m0 10v1m0 1v1m0 10v1m1-11v1m0 7v1m1-35v1m0 10v1m0 13v1m1-44v1m0 7v1m0 11v1m0 4v1m1-29v1m0 13v1m0 42v1m1-25v1m0 5v1m0 17v1m1-38v1m1 2v1m1 8v1m1-7v1m0 11v1m0 4v1m0 2v1m0 11v1m1-34v1m0 13v1m0 1v1m0 1v1m1-22v1m0 6v1m1-12v1m0 4v1m0 1v1m0 6v1m0 3v1m0 12v1m0 1v1m1-35v3m1 25v2m0 1v2m1-18v1m0 9v1m1-29v1m0 6v1m1-7v1m0 18v1m0 20v1m1-26v1m0 13v1m1-36v1m0 30v1m1-39v1m0 16v1m1 7v1m0 6v1m0 6v1m0 15v1m1-3v1m0 2v1m1-44v1m0 12v1m0 5v1m1-21v1m0 2v1m0 1v1m0 1v1m1-1v1m0 2v1m1-18v1m0 7v1m0 2v1m1-18v1m0 1v1m0 13v1m1 3v1m0 2v1m0 10v1m1-32v1m0 6v2m0 1v1m0 4v1m0 3v2m0 10v1m1-37v2m0 7v1m1-36v1m0 11v1m0 1v1m0 3v1m0 2v1m0 7v1m0 7v1m1-30v1m1-8v1m0 1v1m0 9v1m0 2v1m0 3v1m1-33v1m0 3v1m0 4v1m0 7v1m0 35v1m1-26v1m0 1v1m0 11v1m0 2v1m0 10v1m1-37v1m0 4v1m0 9v1m1-17v1m0 3v1m0 21v1m1-35v1m0 24v1m0 1v1m1-18v1m0 4v1m0 2v1m0 5v1m0 16v2m0 9v1m1-16v1m0 22v1m1-64v1m0 20v1m0 10v1m0 14v1m0 15v1m1-44v1m0 9v1m0 7v1m0 1v1m0 5v1m0 3v1m1-23v1m1-7v1m1-12v1m0 15v1m1 4v1m0 5v1m0 3v1m0 2v1m1-15v1m0 3v1m0 9v1m1-11v1m0 4v1m0 1v1m1-14v1m1 7v2m1-10v1m0 4v1m0 1v1m0 2v1m0 16v1m1-30v1m0 2v1m0 2v1m0 2v1m0 5v1m0 5v1m0 1v1m1-4v1m1-22v1m0 16v1m0 8v1m1 2v1m2-25v1m0 2v1m0 2v1m1-17v1m1 3v2m0 5v1m1-13v1m0 3v1m0 2v1m0 4v1m0 11v1m0 2v1m1-33v1m0 7v1m0 1v1m0 5v1m1 2v1m0 3v1m0 2v1m0 2v1m0 8v1m1-30v1m0 8v1m0 1v1m0 4v1m1-3v1m1-16v1m0 17v1m1-25v1m0 5v2m1-1v1m0 2v1m0 3v1m0 3v1m0 3v1m2-21v1m0 15v1m0 13v1m1-35v1m0 5v1m0 9v1m1 5v2m0 2v1m1-3v1m0 6v1m1-31v1m1 5v1m0 15v1m0 1v2m1-12v1m1-9v1m0 9v1m1-13v2m0 8v2m0 1v1m1-16v2m0 19v1m0 3v1m1-14v1m1-2v1m1-28v1m0 12v1m0 8v1m0 15v1m1-17v1m0 3v1m0 3v1m0 16v1m1-29v1m0 16v1m1-41v1m0 6v2m0 9v1m0 9v1m0 12v1m0 3v1m1-26v1m0 10v1m1-5v1m0 6v2m0 3v1m0 7v1m1-11v1m0 8v1m0 10v1m1-14v1m0 11v2m1-24v1m0 11v2m1-1v1m0 3v1m1-35v1m0 12v1m0 7v1m0 14v2m1-29v1m0 1v1m0 9v1m1 6v1m1-28v1m0 15v1m0 6v1m2-7v1m0 2v1m2-4v1m1 8v1m0 5v1m1-25v1m0 12v1m0 12v1m1-34v1m0 13v1m0 1v1m0 3v1m0 16v1m1-51v1m0 1v1m0 6v1m0 6v1m0 28v1m1-29v1m0 2v1m0 3v1m0 6v1m0 2v1m0 2v1m0 14v1m1-5v1m1-27v1m0 8v1m0 13v1m1-22v2m0 4v1m0 8v1m1-7v1m0 6v1m0 2v1m1-13v1m0 8v1"/><path stroke="#64B5CD" stroke-opacity="0.65" d="M29.5 487v12m39 13v1m9-11v1m34-20v1m0 1v1m0 1v1m2 26v1m8-33v2m7-6v3m0 1v2m5 14v1m3-24v1m0 2v2m6-16v1m2-21v2m0 3v1m4-24v3m14 20v5m9-6v1m0 14v1"/><path stroke="#64B5CD" stroke-opacity="1.0" d="M29.5 455v32m0 12v2m1-41v45m1-35v34m1-39v32m1-34v53m1-51v50m1-44v29m1-23v41m1-40v40m1-41v41m1-25v25m1-39v39m1-34v34m1-33v33m1-34v34m1-28v28m1-33v33m1-21v21m1-27v27m1-35v35m1-35v35m1-20v20m1-33v33m1-36v36m1-35v35m1-31v31m1-28v26m1-24v26m1-33v33m1-28v28m1-19v19m1-34v34m1-34v34m1-34v34m1-27v27m1-35v35m1-26v26m1-31v31m1-36v36m1-32v26m0 1v5m1-33v33m1-26v26m1-33v33m1-30v30m1-31v31m1-28v28m1-23v23m1-29v29m1-32v16m0 1v15m1-33v33m1-27v27m1-32v32m1-35v35m1-31v31m1-30v30m1-32v32m1-33v33m1-33v33m1-35v35m1-27v27m1-31v31m1-35v35m1-37v37m1-38v38m1-40v40m1-38v38m1-44v44m1-42v42m1-37v37m1-44v44m1-45v45m1-46v46m1-45v45m1-44v44m1-40v40m1-47v47m1-44v44m1-48v48m1-41v41m1-43v43m1-52v52m1-55v55m1-34v1m0 1v1m0 1v30m1-52v52m1-58v54m0 1v3m1-57v57m1-60v60m1-60v60m1-55v55m1-51v51m1-55v55m1-55v55m1-37v1m0 2v34m1-53v53m1-64v64m1-59v59m1-63v59m1-62v66m1-55v55m1-60v20m0 3v1m0 2v34m1-73v59m1-52v55m1-43v33m1-48v56m1-59v52m0 1v4m1-67v67m1-51v49m1-62v36m0 1v2m1-54v58m1-65v73m1-73v66m1-66v70m1-49v46m1-67v47m0 1v2m1-45v77m1-67v12m0 2v3m0 1v54m1-69v65m1-63v68m1-88v80m1-72v1m0 3v71m1-65v45m1-40v36m1-41v47m1-41v43m1-43v42m1-33v39m1-32v43m1-49v29m1-35v44m1-32v35m1-40v52m1-66v62m1-44v48m1-71v16m0 5v44m1-69v70m1-71v63m1-60v38m1-39v69m1-76v63m1-50v50m1-37v48m1-66v50m1-52v19m0 1v14m0 1v20m1-57v59m1-55v59m1-55v49m1-53v49m1-51v54m1-56v52m1-43v55m1-58v53m1-49v48m1-39v28m1-34v34m1-31v38m1-41v41m1-50v51m1-54v58m1-69v73m1-66v70m1-71v74m1-75v69m1-61v48m1-34v53m1-57v58m1-49v54m1-77v55m1-53v74m1-66v65m1-57v51m1-52v53m1-77v67m1-69v73m1-73v75m1-60v69m1-72v70m1-58v56m1-65v58m1-55v62m1-72v75m1-71v69m1-65v69m1-61v53m1-51v43m1-52v66m1-63v62"/><path stroke="#25345E" d="M31.5 465v2m0 37v1m4-4v2m1-38v1m1 4v2m0 4v1m1-4v1m1 14v2m0 1v2m1-22v1m0 4v3m1 1v1m0 1v1m1-3v5m1-9v4m0 2v2m2-7v1m0 2v2m1 9v1m0 1v4m1-9v1m1-20v1m0 8v2m0 2v1m1-8v3m2 2v2m0 2v1m1-8v2m0 1v1m3 4v3m0 1v1m1-5v2m0 2v1m1-9v4m2 2v1m0 5v6m1-22v1m0 1v1m0 1v1m1-4v4m1-7v1m0 6v1m1 1v1m0 4v2m1-16v1m1 9v1m1-2v3m1-8v2m1-1v1m0 1v1m0 2v1m1-13v1m0 2v3m0 1v1m1 4v1m0 1v1m1-5v2m1-8v1m0 5v2m1-5v1m0 3v1m1-3v1m0 1v1m0 1v2m0 1v1m1 2v1m0 1v1m1-8v2m1-7v1m0 1v1m0 17v1m1-23v2m0 1v2m3-11v1m0 2v2m1 2v2m1-6v1m0 3v7m1-4v2m1-9v1m0 3v3m1-8v1m0 2v1m0 3v2m2 1v1m0 3v1m1-7v2m1-11v1m0 4v1m0 1v1m1-10v1m0 2v2m1-6v2m0 1v1m0 3v1m2-6v1m0 3v1m2-11v1m0 2v2m0 1v2m1-2v1m1-9v1m0 5v2m1-10v1m0 6v2m1-10v1m0 3v1m0 2v1m1-7v1m0 2v1m0 4v1m1-4v1m1 7v1m1-15v1m0 4v1m1 4v1m1-17v1m0 1v1m0 2v1m0 1v1m0 4v1m1-3v1m0 3v1m1-4v1m0 1v2m1-13v1m0 1v2m0 1v2m1-10v1m0 1v1m0 1v1m0 1v1m1 17v1m0 1v2m0 1v1m0 1v1m1-31v1m0 5v2m1-13v2m0 1v1m0 3v1m1-19v2m0 1v1m0 1v1m0 5v1m0 2v1m0 3v1m1-16v3m0 1v6m0 2v2m1-17v1m0 4v1m0 3v3m0 1v1m0 1v1m1-7v2m0 4v1m0 2v1m2-9v1m0 4v1m0 4v2m1-7v1m0 2v1m1 9v3m0 10v2m1-30v1m0 2v2m0 1v1m0 1v1m0 1v1m1-19v1m0 2v1m0 2v1m1-6v1m0 7v1m1 61v1m1-77v1m0 4v1m0 3v1m1 8v4m1-17v1m0 4v2m0 29v2m1-42v1m1 4v1m0 2v1m2 54v1m2-3v1m1-53v1m0 49v1m1-27v1m0 2v2m2-64v1m2-1v1m1 18v1m3 13v1m0 54v1m0 5v1m0 6v1m1-89v1m0 3v1m2 64v1m1-81v1m0 5v1m2 11v1m0 1v1m2 0v1m1 44v1m1 5v1m0 1v2m0 1v1m1-48v1m0 3v1m0 3v1m1-10v2m0 1v1m0 29v1m1-37v1m0 47v1m1-42v1m0 3v2m0 37v2m1-48v4m0 52v1m3-77v1m0 21v2m0 1v1m1-28v1m0 74v1m2-73v1m3 5v1m3 12v1m0 14v1m3-30v1m1-7v1m0 52v1m2-56v1m0 54v2m0 3v1m1-60v1m0 6v2m0 57v1m4-20v1m1-33v1m1-10v1m0 4v2m1-16v2m0 1v1m1-4v1m0 61v1m4-68v1m3 78v1m2-81v1m1 6v3m1 3v1m0 2v1m1 4v1m0 1v1m1-18v1m0 16v1m6-17v1m0 1v4m0 7v2m1 51v1m1-62v1m0 2v1m1-11v1m1-3v1m0 6v1m1 73v1m1-63v1m1 1v1m1 58v1m1-66v1"/></g><text class="t" x="14.2" y="498.9">10</text><text class="t" x="14.2" y="478.7">20</text><text class="t" x="14.2" y="458.4">30</text><text class="t" x="14.2" y="438.2">40</text><text class="t" x="14.2" y="418.1">50</text><text class="t" x="55.7" y="530.2">10,000</text><text class="t" x="82.3" y="530.2">20,000</text><text class="t" x="108.8" y="530.2">30,000</text><text class="t" x="135.4" y="530.2">40,000</text><text class="t" x="161.9" y="530.2">50,000</text><text class="t" x="188.5" y="530.2">60,000</text><text class="t" x="215.0" y="530.2">70,000</text><text class="t" x="122.1" y="535.9" style="font-size:4.6px">Item number (5min average)</text><text class="t" transform="translate(9.6,468.6) rotate(-90)" style="font-size:4.6px">ug/m3</text><rect x="21.8" y="413.7" width="36.5" height="18.8" rx="0.6" fill="#EEEEF4" stroke="#F8F8FB" stroke-width="0.6"/><circle cx="28.9" cy="417.2" r="0.55" fill="#4C72B0"/><circle cx="28.9" cy="423.1" r="0.55" fill="#111"/><rect x="24.3" y="428.2" width="8.2" height="0.9" fill="#64B5CD"/><text x="36.8" y="418.7" style="font-size:4.1px;fill:#333">Train</text><text x="36.8" y="424.6" style="font-size:4.1px;fill:#333">Test</text><text x="36.8" y="430.2" style="font-size:4.1px;fill:#333">Predictions</text><text x="207.4" y="544.8" style="font-size:9px;text-anchor:middle;fill:#333">(g)</text><rect x="241.1" y="413.4" width="185.70" height="106.40" fill="#EAEAF2"/><clipPath id="ch"><rect x="241.1" y="413.4" width="185.70" height="106.40"/></clipPath><g clip-path="url(#ch)" fill="none" stroke-width="1"><path stroke="#A9B7DA" d="M248.5 453v2m0 23v1m1-19v3m0 40v1m1-49v1m0 42v1m0 1v2m1-39v2m0 6v1m0 23v1m0 1v1m1-39v1m0 1v1m0 1v1m0 8v1m0 9v1m0 1v1m1-13v1m0 2v1m0 29v1m0 1v1m0 5v1m1-41v1m0 2v2m0 4v1m0 22v1m0 2v1m0 1v1m1-43v1m0 1v1m0 1v1m0 1v1m1-10v1m0 1v1m1-8v1m1 16v1m1 0v1m0 32v1m0 3v1m1-41v1m1-2v1m1 4v1m0 4v1m0 1v2m0 1v1m1-17v2m0 2v2m0 7v1m0 1v1m1-7v1m0 3v1m1-15v1m0 2v2m0 5v1m0 1v1m1-15v1m1 18v1m1-22v1m0 7v1m0 1v1m0 5v1m0 2v1m1-7v1m1-8v1m1 6v1m0 4v2m0 4v1m1-13v2m0 1v1m0 31v1m1-37v1m1-3v1m1 5v1m0 1v1m1-8v1m0 1v1m0 9v1m1-24v1m1 9v1m2 0v4m0 1v1m1-1v1m0 3v1m1-18v1m0 4v1m0 4v1m1-8v1m0 3v1m0 3v2m0 1v1m0 1v1m1-10v1m0 6v1m0 27v1m1-40v2m0 6v1m0 4v1m0 11v1m1-23v2m0 5v1m1-5v2m1-2v2m1-1v2m1 5v1m1-2v1m0 2v1m1-11v2m1-7v1m0 7v3m1-7v1m1 0v1m0 1v2m1-9v1m0 5v2m1 0v1m1-11v2m1-1v1m0 12v2m0 3v2m1-16v1m0 5v1m0 1v1m1-13v1m0 6v2m0 2v1m0 10v1m0 1v1m1-15v1m1-3v3m2-11v1m0 3v1m0 6v1m1-11v1m0 28v2m1-35v1m0 5v2m0 1v1m0 2v2m1-16v2m0 1v1m0 2v1m0 3v1m1-11v1m0 1v1m0 4v1m0 2v1m0 1v2m1-16v1m1 1v1m0 1v1m0 13v1m1-28v1m0 8v2m0 1v1m1 10v1m1-30v1m0 3v2m0 4v2m0 2v1m0 12v1m1-18v1m0 1v3m1-3v1m0 1v1m0 2v1m0 3v1m0 4v1m1-20v2m0 8v1m0 1v2m0 1v1m0 3v1m1-17v1m0 6v1m0 1v2m1-17v1m0 6v1m0 11v1m0 3v1m1-8v3m1-11v1m0 1v1m0 5v1m0 1v1m1 30v1m1-75v1m0 15v1m0 2v1m0 1v4m0 2v1m0 5v1m1 6v2m0 1v1m0 40v1m1-68v1m0 2v1m0 6v1m0 3v1m0 3v1m1-20v2m0 2v1m0 45v1m0 2v3m1-57v1m0 1v1m0 9v1m0 1v1m0 4v1m1-25v1m0 22v1m0 46v1m1-71v1m0 6v1m0 11v1m0 1v1m0 50v1m1-58v1m0 2v1m0 4v5m0 6v1m1-26v1m0 1v1m0 13v4m0 2v1m0 1v1m0 14v1m1-39v1m0 2v1m0 6v2m1 6v1m0 6v1m1 17v1m0 11v3m0 2v1m1-75v2m0 4v1m0 10v1m0 2v1m0 2v1m0 7v1m0 5v1m0 6v1m0 17v1m1-40v1m0 1v1m0 2v1m1-31v1m0 5v1m0 1v1m0 4v1m0 7v1m0 47v1m0 5v1m0 1v1m0 1v1m1-77v1m0 31v1m0 40v1m1-63v1m0 22v1m0 23v1m1-51v1m0 2v2m0 2v3m0 2v1m0 2v2m0 5v1m0 28v1m0 1v1m0 9v1m0 2v2m1-58v2m0 1v1m0 1v1m0 39v2m0 2v1m0 3v1m1-50v3m0 29v2m0 4v1m1-53v2m0 1v1m0 2v1m0 9v1m0 7v1m0 26v1m0 3v1m1-59v1m0 1v3m0 37v1m0 3v1m0 3v1m1-73v1m0 11v3m0 4v1m0 5v2m0 2v1m0 14v1m0 1v1m0 35v1m1-54v1m1-20v1m0 5v1m0 1v1m0 1v2m0 21v1m0 12v1m1-56v1m0 32v1m0 28v1m0 3v1m0 3v1m1-42v1m0 19v1m0 1v1m0 1v1m0 5v1m0 1v1m1-64v1m0 39v1m0 1v1m0 9v1m0 1v1m0 3v1m1-62v1m0 5v1m0 2v1m0 2v1m0 47v1m0 2v1m0 3v1m1-25v1m0 4v1m1-46v1m0 8v1m0 2v1m0 1v1m0 51v1m0 6v1m0 4v1m1-78v1m0 2v1m0 1v1m0 12v1m0 4v1m0 31v1m0 21v1m0 3v1m0 1v1m0 5v2m0 2v1m1-86v1m0 2v1m0 2v2m0 41v1m0 2v1m0 4v2m0 1v1m0 4v2m1-73v1m0 11v1m0 10v1m0 30v1m0 18v1m0 1v1m0 5v1m1-84v1m0 6v1m0 1v1m0 3v1m0 9v1m0 36v1m0 2v2m0 8v1m1-60v1m0 5v1m0 5v1m0 39v1m0 3v1m0 1v1m0 1v1m0 3v1m1-68v1m0 1v1m0 1v2m0 1v1m0 2v1m0 22v1m0 1v1m0 10v1m1-41v1m0 6v1m0 27v2m0 5v1m0 2v1m1-55v1m0 3v1m0 1v3m0 35v1m0 12v1m0 3v2m1-53v1m0 41v1m1-29v1m0 7v2m0 35v2m1-54v1m0 47v2m1-60v1m0 6v1m0 1v1m0 12v1m0 2v1m0 21v1m1-42v1m0 3v1m0 6v1m0 33v1m0 1v1m0 5v1m1-44v1m0 1v1m0 31v1m0 1v2m1-43v1m0 14v1m0 26v1m0 5v2m0 3v4m1-72v1m0 13v1m0 5v1m0 33v1m0 5v1m1-43v1m0 2v1m0 2v1m0 10v1m0 26v1m0 2v1m0 5v1m1-73v1m0 4v1m0 2v1m0 1v2m0 53v1m0 5v1m0 1v1m1-85v1m0 2v1m0 4v1m0 4v1m0 36v1m0 8v1m0 1v1m0 2v1m1-51v2m0 1v4m0 2v2m0 28v1m0 4v2m0 4v1m0 8v1m1-65v1m0 1v2m0 1v1m0 2v1m0 49v2m0 2v1m0 6v1m1-75v1m0 1v1m0 3v1m0 3v1m0 3v1m0 1v1m0 38v1m0 8v2m0 2v1m0 2v1m1-62v1m0 1v2m0 3v1m0 1v4m0 1v1m0 33v1m0 2v1m0 4v1m1-52v1m0 5v2m0 4v1m0 32v1m0 2v1m0 3v1m0 2v1m1-67v1m0 2v2m0 7v2m0 28v1m0 1v2m1-41v1m0 12v1m0 33v1m1-64v1m0 5v1m0 1v1m0 2v1m0 1v1m0 6v1m0 39v1m0 2v3m0 2v1m1-62v1m0 8v1m0 3v1m0 5v2m0 34v2m0 1v1m1-56v1m0 42v1m0 3v2m0 7v1m1-60v1m0 7v2m0 33v1m0 13v1m1-61v1m0 2v3m0 8v1m0 44v1m0 6v2m0 1v1m1-54v1m0 37v1m0 1v1m1-49v1m0 42v1m0 7v2m1-46v1m0 46v1m0 2v1m1-45v1m0 2v1m0 1v1m0 22v1m0 4v2m0 3v1m1-44v1m0 2v1m0 2v1m0 34v1m1-39v1m0 3v1m0 29v1m0 5v1m0 2v1m1-47v2m0 3v1m0 1v1m0 29v1m0 5v1m1-54v1m0 3v1m0 37v1m0 9v1m0 2v1m0 4v1m1-60v1m0 1v2m0 2v2m0 34v1m0 7v3m0 2v2m1-67v1m0 2v1m0 4v1m0 11v1m0 33v2m0 2v2m0 2v1m0 1v2m0 5v1m1-65v2m0 2v1m0 2v1m0 3v1m0 41v1m0 2v1m0 7v1m0 3v1m0 7v1m1-71v1m0 2v1m0 2v1m0 1v1m0 45v2m0 6v1m1-76v1m0 3v1m0 2v2m0 4v1m0 40v1m0 1v1m0 4v1m0 1v2m1-42v3m0 8v1m0 27v1m0 8v1m0 6v1m1-46v1m0 2v2m0 37v1m0 1v1m1-58v1m0 6v1m0 44v1m0 1v1m0 1v1m0 1v3m0 2v1m0 1v1m1-87v1m0 2v3m0 4v2m0 6v4m0 41v1m0 2v1m1-55v1m0 1v1m0 3v2m0 57v2m0 1v1m0 1v1m0 2v1m1-82v1m0 13v1m0 1v1m0 1v2m0 1v1m0 3v1m0 50v2m0 1v2m1-59v2m1-28v2m0 49v1m0 15v1m0 11v1m1-74v1m0 1v1m0 1v1m0 2v1m0 43v1m0 2v1m0 1v1m0 1v1m2-63v1m0 2v1m0 8v1m0 2v1m0 2v1m0 40v1m0 7v2m0 3v1m0 1v1m0 1v1m0 2v1m1-74v1m0 6v2m0 2v2m0 6v1m0 4v1m0 40v1m0 4v1m0 3v1m0 1v1m1-69v2m0 43v2m0 13v3m1-76v1m0 14v1m0 2v1m0 2v1m0 1v1m0 2v1m0 10v1m0 26v1m0 4v1m0 6v1m1-70v1m0 4v1m0 21v2m0 23v1m0 5v1m0 4v1m0 1v3m1-77v1m0 3v2m0 10v1m0 48v1m0 6v1m0 2v2m0 3v2m1-79v1m0 5v2m0 1v2m0 1v1m0 2v1m0 7v1m0 33v1m0 4v4m1-50v1m0 1v1m0 44v1m0 2v1m0 2v1m0 2v1m0 7v1m1-65v1m0 1v1m0 3v1m0 2v3m0 32v1m0 1v1m0 4v1m0 4v1m1-65v1m0 1v1m0 3v1m0 1v1m0 1v1m1-7v1m0 46v3m0 2v1m0 1v1m0 3v3m0 1v1m0 1v2m1-65v1m0 5v2m0 1v1m0 19v1m0 5v1m0 13v3m0 7v1"/><path stroke="#4C72B0" d="M248.5 452v1m0 2v1m0 4v2m0 12v1m1-17v2m0 4v1m0 1v1m0 18v1m0 5v2m0 1v1m0 1v6m1-45v1m0 22v1m0 16v1m1-32v1m0 12v1m0 3v1m1-24v1m0 1v1m0 2v3m0 2v2m0 8v2m0 4v1m0 21v3m0 1v1m1-39v1m0 1v1m0 26v1m0 2v1m1-38v1m0 2v1m0 5v1m0 25v1m0 1v1m0 7v1m1-44v1m0 1v1m0 1v1m0 1v1m0 1v1m0 3v1m0 2v1m0 1v1m0 5v1m0 7v1m1-32v4m0 7v1m0 29v1m1-39v1m0 2v2m0 6v1m0 1v1m1 24v1m1-32v1m1 4v1m1-2v1m0 4v1m1-6v1m0 2v1m1-7v1m0 2v1m0 4v1m1-1v1m0 11v1m1-24v1m0 5v1m0 4v1m1-14v4m0 7v1m0 19v1m0 1v1m1-18v3m1-11v1m0 2v3m0 3v1m0 1v1m1-23v1m0 5v1m0 1v1m0 6v2m0 1v2m1-18v1m0 2v4m1 8v1m0 1v1m0 3v1m1 16v1m1-27v3m0 11v1m0 12v1m1-35v1m0 26v1m0 1v1m0 1v2m1-33v1m0 4v1m2-13v2m0 1v1m0 33v1m0 1v1m1-34v1m0 1v3m0 12v1m0 11v1m1-23v1m0 2v1m1-18v1m0 10v1m0 1v1m1 1v2m0 4v1m1-17v1m0 2v1m0 1v1m0 7v1m1-16v1m0 3v1m0 2v1m0 1v1m0 17v1m1-26v1m0 3v1m0 6v1m0 21v1m0 1v1m1-43v1m0 6v1m0 1v1m0 2v2m0 2v1m0 12v1m0 2v1m1-17v1m1-7v2m0 28v1m0 3v1m1-39v2m0 2v1m0 3v2m0 13v1m1-18v1m0 5v1m1 5v1m1 19v1m1-34v1m0 10v1m1-9v2m0 11v1m0 8v1m1-31v1m0 3v1m0 2v1m1-2v2m0 3v1m0 2v1m0 4v1m1-22v1m0 2v2m0 2v1m0 3v1m1-4v3m0 1v4m0 20v2m1-35v2m0 14v1m0 5v1m1-21v1m1-2v1m0 4v1m0 2v1m1-10v2m0 18v1m0 5v1m1-19v1m0 3v1m0 4v1m1-10v1m0 3v2m1-7v2m0 24v2m1-35v1m0 7v2m0 23v1m1-35v1m0 1v2m0 21v1m0 3v1m0 1v3m1-43v1m0 6v1m0 4v2m0 14v1m1-17v1m0 29v1m1-46v2m0 6v1m0 9v1m1-16v1m0 3v1m0 1v1m0 1v4m1-7v2m0 14v1m1-28v1m0 1v1m0 3v1m0 4v1m0 5v1m0 20v3m0 1v1m0 3v1m0 1v1m1-28v1m0 2v1m1-29v1m0 8v2m0 1v1m0 2v1m0 2v1m0 7v1m0 19v1m0 6v2m1-46v1m0 1v3m0 35v1m0 1v2m1-38v3m0 2v2m1-19v2m0 1v2m0 3v1m0 2v1m0 1v1m0 4v1m0 3v1m0 2v3m0 1v1m1-29v1m0 2v1m0 1v1m0 5v1m0 12v1m0 7v1m0 4v1m1-41v1m0 4v4m0 5v1m0 1v1m1-2v1m0 1v2m1-22v1m0 3v1m0 1v1m0 9v1m0 1v1m0 1v1m0 2v1m0 18v2m0 8v1m0 1v1m1-56v2m0 43v1m0 11v1m0 2v1m1-60v1m0 3v1m0 7v1m0 5v2m0 17v1m0 6v2m0 1v1m1-29v1m0 30v1m0 1v3m0 1v1m1-59v1m0 3v2m0 4v1m0 1v1m0 1v2m0 1v1m0 37v1m1-61v1m0 3v1m0 2v2m0 4v1m0 17v1m0 9v1m0 2v1m0 8v1m0 1v1m0 5v1m1-60v1m0 6v1m0 2v3m0 18v1m0 7v1m0 13v1m0 4v1m1-65v1m0 2v1m0 4v2m0 4v1m0 1v1m0 4v1m0 14v1m0 1v1m0 3v1m0 15v1m0 2v2m0 3v1m1-64v2m0 2v3m0 2v1m0 6v1m0 5v1m0 2v1m0 32v1m0 2v1m0 1v1m0 1v1m1-54v1m0 8v1m0 1v1m0 6v3m0 21v1m0 8v1m1-60v3m0 3v1m0 11v1m0 4v1m0 35v2m1-59v1m0 8v5m0 11v1m0 6v1m0 4v1m0 3v1m0 18v1m1-36v1m1-28v1m0 2v1m0 3v1m0 48v1m0 4v1m1-84v1m0 2v3m0 3v3m0 2v2m0 3v2m0 1v1m0 1v1m0 7v2m0 4v1m0 2v1m0 3v1m0 7v2m0 9v2m0 6v1m1-41v2m0 3v1m0 1v1m0 7v1m0 3v1m0 23v1m0 2v1m1-63v1m0 1v1m0 1v1m0 2v1m0 48v1m0 1v1m0 7v1m0 1v2m1-77v1m0 1v1m0 3v1m0 1v2m0 2v2m0 10v3m0 7v2m0 2v2m0 13v1m0 3v1m0 3v1m0 12v1m1-63v1m0 1v2m0 2v1m0 8v1m0 7v1m0 5v1m0 4v1m0 10v1m1-51v1m0 23v1m0 1v1m0 26v1m0 6v1m1-55v1m0 1v1m0 2v1m0 1v1m0 13v1m0 20v1m0 2v1m0 4v1m1-41v2m0 26v1m0 3v1m1-48v1m0 1v1m0 2v1m0 2v2m0 2v1m0 32v2m0 3v1m1-50v1m0 4v1m0 24v2m0 1v1m0 1v1m1-47v1m0 3v1m0 8v1m0 2v1m0 14v4m0 27v1m1-44v1m0 1v2m0 24v2m1-44v1m0 4v1m0 22v1m0 1v1m0 2v1m1-60v1m0 2v2m0 1v1m0 4v1m0 19v1m0 3v1m0 3v1m0 12v1m0 4v3m0 1v1m0 1v2m0 3v1m1-68v1m0 2v1m0 1v4m0 1v2m0 47v2m1-61v2m0 1v1m0 2v1m0 10v1m0 12v2m0 1v2m0 3v2m0 1v1m0 1v1m0 2v1m0 16v1m0 2v1m1-67v2m0 12v2m0 1v1m0 2v1m0 1v1m0 32v1m0 4v1m1-62v4m0 3v1m0 10v1m0 19v1m0 1v2m1-31v1m0 1v1m0 2v1m0 2v1m0 3v1m0 2v1m0 3v1m0 4v1m0 31v2m1-63v1m0 3v3m0 1v1m0 3v1m0 5v1m0 3v1m0 1v1m0 1v1m0 12v1m0 6v1m0 17v3m0 1v1m0 2v1m0 1v1m0 11v1m1-72v1m0 2v2m0 20v1m0 14v1m0 1v2m0 2v1m1-43v5m0 3v1m0 18v1m0 11v1m0 14v1m0 3v1m1-82v1m0 3v1m0 3v2m0 5v1m0 5v1m0 1v1m0 4v1m0 6v1m0 2v1m0 22v1m0 6v2m0 2v1m1-48v2m0 1v1m0 14v1m0 15v1m0 11v1m0 7v1m1-58v1m0 21v1m1-23v1m0 3v1m0 2v3m0 19v1m0 2v1m0 5v1m1-41v2m0 31v1m0 4v1m0 4v2m0 2v1m0 1v1m1-40v1m0 18v1m0 12v1m1 1v1m0 6v1m0 4v1m0 1v1m0 3v1m1-50v1m0 1v2m0 12v1m0 11v1m0 6v1m0 1v1m0 1v2m1-46v1m0 4v1m0 4v1m0 2v1m0 2v1m1-12v2m0 1v1m0 1v1m0 8v1m0 20v1m1-39v1m0 38v1m0 3v1m1-39v1m0 2v2m0 1v1m0 31v2m0 1v1m0 4v1m1-65v1m0 4v1m0 4v1m0 1v2m0 36v1m0 2v1m1-34v1m0 7v1m0 1v1m0 25v3m0 2v1m1-53v2m0 2v1m0 9v1m0 31v1m0 1v1m0 4v1m0 1v1m1-79v1m0 7v1m0 1v1m0 2v1m0 1v1m0 2v2m0 30v3m0 8v1m1-47v1m0 20v1m0 17v1m0 7v1m1-54v1m0 4v1m0 2v1m0 16v1m0 24v2m0 2v2m0 3v1m1-58v2m0 1v1m0 3v1m0 3v1m0 20v1m0 1v1m0 2v1m0 1v1m0 5v1m0 2v1m0 1v2m0 1v3m1-37v1m0 8v1m0 23v1m1-35v1m0 5v1m0 21v1m0 2v1m0 1v1m0 2v1m0 2v1m0 2v2m1-61v1m0 1v1m0 32v2m0 8v1m1-34v1m0 30v1m0 6v1m1-57v1m0 1v1m0 42v1m0 1v2m0 2v1m1-37v1m0 18v1m1-33v2m0 1v1m0 1v1m0 36v3m0 2v1m0 5v1m1-49v1m0 36v1m0 3v3m0 2v1m1-53v3m0 1v3m0 1v1m0 1v1m0 10v1m0 4v1m0 6v1m0 10v1m0 1v2m0 1v1m0 1v1m0 3v3m0 3v1m1-51v1m0 4v2m0 28v1m1-42v1m0 3v1m0 1v1m0 1v1m0 36v1m0 3v4m1-38v1m1-1v1m0 25v1m1-33v1m0 4v1m0 20v1m0 1v1m1 6v2m1-38v1m0 1v1m1-15v2m0 1v2m0 4v1m0 1v1m0 23v2m0 2v1m0 2v1m0 2v1m0 5v2m1-46v1m0 23v2m0 4v1m0 4v1m0 3v1m0 1v1m0 3v1m1-60v2m0 3v1m0 1v1m0 3v1m0 1v1m0 1v1m0 12v1m0 20v1m0 2v1m0 12v1m1-68v1m0 2v1m0 4v1m0 5v2m0 32v1m0 3v1m0 1v1m1-32v1m0 36v1m0 2v1m0 4v2m1-61v1m0 2v3m0 34v1m0 1v1m1-28v2m0 1v1m0 1v1m0 1v1m0 1v2m0 1v1m0 38v1m1-40v1m0 2v1m0 31v1m0 2v1m1-56v1m0 6v1m0 6v2m0 23v1m0 9v2m0 3v1m0 5v1m1-70v1m0 8v1m0 1v1m0 2v1m0 1v1m0 11v1m0 22v1m1-56v1m0 14v1m0 19v1m0 1v1m0 1v1m0 11v1m0 2v1m0 8v1m0 6v1m1-56v1m0 1v1m0 1v1m0 1v1m0 2v1m0 23v1m0 11v1m0 1v1m0 1v1m0 3v1m1-54v1m0 40v4m0 2v1m0 1v2m0 2v1m1-69v1m0 1v1m0 3v1m0 7v1m0 25v1m0 3v1m0 1v1m0 4v1m0 1v1m0 2v2m0 3v1m0 1v3m1-70v1m0 3v1m0 4v1m0 20v1m0 16v2m0 1v1m0 2v2m0 1v1m0 3v1m1-38v1m0 1v3m0 1v1m0 11v1m0 12v1m0 2v2m0 1v1m0 2v2m1-58v1m0 6v1m0 3v1m0 24v1m0 11v1m0 4v1m0 2v1m0 4v1m0 1v1m0 1v1m0 6v1m1-60v1m0 4v2m0 3v1m0 20v1m0 5v1m0 4v1m0 2v2m0 2v2m1-66v1m0 2v1m0 1v1m0 2v1m0 3v1m0 6v1m0 20v1m0 9v1m0 2v1m0 4v1m0 3v1m1-59v1m0 8v1m0 1v1m0 2v1m0 8v1m0 4v2m0 2v1m0 16v3m1-50v1m0 3v1m0 1v1m0 4v2m0 6v1m0 3v1m0 1v1m0 19v1m0 1v1m0 8v1m1-70v1m0 4v1m0 2v1m0 1v2m0 1v1m0 4v1m0 10v1m0 12v1m0 6v1m0 5v1m0 9v1m0 1v1m0 1v1m0 1v2m0 2v1m1-73v1m0 13v3m0 5v1m0 18v1m0 10v2m0 3v1m0 6v1m1-46v1m0 3v1m0 35v2m0 4v1m1-51v1m0 6v1m0 4v2m0 27v1m0 4v1m0 5v1m1-59v3m0 3v1m0 9v1m0 12v1m0 10v1m0 3v1m1-34v4m0 6v1m0 24v1m0 9v2m1-43v1m0 16v1m0 1v2m0 2v1m0 1v1m0 1v1m0 11v1"/><path stroke="#2A3F6E" d="M248.5 456v1m0 1v1m0 3v1m0 1v1m1-2v1m0 1v1m0 36v1m1-42v1m0 2v2m0 2v1m0 27v1m0 6v1m1-35v1m0 3v3m1-8v2m0 13v1m0 27v1m1-4v1m1-39v1m0 3v2m0 5v1m0 21v1m0 3v1m0 1v1m1-46v1m0 11v1m0 4v2m1-14v1m0 23v1m1-22v1m0 6v2m0 5v1m0 12v1m1 11v1m0 1v1m1-44v1m0 5v2m0 5v1m0 25v1m1-30v4m1-9v2m0 12v1m2-14v1m0 2v2m0 3v1m1 2v1m0 1v1m0 1v1m1-24v1m0 8v2m0 2v1m0 5v1m1-14v3m1 13v3m1-13v1m0 5v1m0 4v1m0 1v1m1-18v1m0 2v1m0 6v1m0 7v2m3-12v1m0 1v1m1-3v4m1 21v1m2-26v4m2-14v1m0 6v1m0 29v2m1-30v1m0 2v1m0 4v1m1-18v1m0 7v1m0 2v1m1-2v1m0 1v1m0 6v1m1-12v1m0 2v2m0 11v1m1-21v2m0 8v2m1-11v1m0 1v1m0 5v1m0 20v1m0 1v1m0 3v1m1-39v2m0 1v1m0 5v1m0 2v1m0 7v1m0 2v1m1-18v1m0 1v2m1 22v1m0 1v1m0 1v1m1-37v1m1 5v1m0 1v2m0 2v1m0 5v1m1-14v1m0 1v1m0 2v1m1 4v5m1-15v1m1-3v1m0 8v1m0 11v1m1-21v1m0 1v1m1 2v1m1-13v1m0 3v1m0 28v1m1-26v1m1-7v1m0 4v1m0 14v1m0 1v2m0 3v1m1-21v1m0 1v1m0 4v1m1-14v1m0 3v1m1-6v1m0 1v1m0 5v1m0 15v1m0 7v1m1-24v1m0 7v2m1-9v1m0 1v2m1-15v1m0 6v4m0 28v1m1-35v1m0 2v1m1-11v1m0 2v1m0 29v1m1-35v2m0 1v1m0 3v1m1-6v1m0 39v1m1-35v1m1-13v1m0 14v1m0 13v1m0 2v1m1-29v1m0 4v1m0 9v1m1-22v1m0 5v1m0 3v2m0 1v1m0 24v1m0 1v1m0 3v1m0 1v1m1-43v1m0 5v3m0 1v1m0 2v1m1-12v2m0 2v1m0 33v1m1-42v1m0 5v1m0 27v1m0 1v1m0 3v1m0 3v1m1-2v1m1-49v1m0 3v1m0 7v2m0 7v2m0 3v1m0 17v1m0 3v1m1-40v1m0 2v2m0 13v2m0 3v1m1-39v2m0 2v1m0 1v1m0 6v2m0 4v1m0 12v1m0 2v1m1-27v2m0 2v1m0 4v1m1-17v1m0 6v1m0 11v1m0 26v1m0 3v1m0 1v1m1-52v1m0 44v1m0 1v1m0 1v1m0 3v1m1-59v1m0 2v1m0 2v2m0 8v1m0 16v1m0 1v3m0 18v1m1-49v1m0 3v1m0 43v1m0 1v1m0 1v1m1-64v1m0 3v1m0 10v1m0 2v1m0 1v2m0 10v1m0 2v1m1-47v2m0 1v2m0 5v1m0 2v1m0 21v1m0 9v1m0 5v1m0 5v1m0 12v1m1-68v1m0 1v1m0 1v1m0 1v1m0 1v1m0 2v1m0 4v1m0 8v1m0 38v1m0 6v1m1-75v1m0 2v1m0 1v1m0 2v1m0 1v2m0 2v2m0 1v1m0 1v1m0 4v1m0 14v1m0 1v1m0 1v2m0 14v1m0 4v1m0 2v1m1-58v1m0 10v1m0 2v1m0 1v1m0 1v1m0 30v3m1-35v1m0 1v1m0 1v1m0 4v1m0 30v1m1-59v1m0 4v1m0 5v2m0 1v1m0 9v1m1-17v2m0 9v1m0 24v1m0 8v1m1-27v2m1-26v1m0 3v2m0 3v1m0 38v1m0 1v1m0 10v1m1-69v3m0 8v2m0 5v1m0 5v1m0 6v3m0 1v1m0 3v1m0 5v1m0 1v1m0 3v1m1-16v1m0 3v1m0 11v1m0 12v1m1-60v1m0 1v1m0 5v2m0 29v1m0 8v2m0 3v1m0 2v1m1-69v1m0 5v1m0 23v1m0 32v1m0 1v1m0 1v1m0 1v1m0 2v1m1-68v1m0 4v1m0 1v1m0 12v1m0 13v1m0 6v1m0 2v1m1-48v1m0 8v1m0 6v2m0 3v1m0 2v1m0 1v1m0 2v1m0 6v1m0 18v1m0 3v1m0 11v2m1-69v1m0 3v1m0 42v1m0 1v2m0 6v1m2-51v1m0 4v1m0 1v1m0 42v1m1-55v2m0 3v1m0 25v1m1-45v1m0 3v1m0 1v1m0 1v1m0 3v1m0 2v1m0 7v5m0 1v1m0 32v1m0 1v2m1-57v1m0 11v1m1-19v1m0 3v2m0 26v1m1-48v1m0 19v1m0 27v1m0 3v1m0 1v1m0 2v1m1-66v1m0 1v1m0 7v1m0 2v1m0 36v3m0 4v1m0 1v1m1-60v1m0 4v1m0 30v3m0 9v3m0 2v2m0 3v1m0 1v1m0 1v2m1-60v1m0 2v2m0 1v1m0 3v1m0 5v1m0 5v1m0 37v1m0 1v1m2-35v1m0 31v2m0 6v1m0 5v1m1-66v1m0 3v1m0 1v2m0 2v1m0 1v1m0 3v1m0 1v1m0 23v1m0 13v1m0 6v1m0 1v1m0 5v1m0 7v1m1-80v1m0 3v1m0 3v2m0 36v1m0 5v1m0 2v1m0 11v1m1-70v1m0 3v1m0 15v1m0 23v1m0 21v1m1-72v1m0 5v1m0 5v1m0 4v1m0 1v1m0 6v1m0 11v1m0 20v1m0 12v1m1-59v2m0 1v1m0 1v1m0 2v1m0 35v2m0 1v1m0 3v1m0 1v1m0 3v1m1-57v1m0 2v1m0 2v1m0 21v1m0 5v1m1-37v1m0 33v2m1-28v1m0 23v1m0 5v1m0 3v1m1-34v1m0 5v2m0 26v1m0 2v1m0 1v1m1-26v1m0 26v1m0 3v4m0 1v1m1-47v1m0 8v2m0 2v1m0 33v1m1-50v4m0 1v2m0 3v1m0 23v1m1-37v1m0 34v2m0 6v1m0 2v1m1-41v1m0 3v1m0 28v2m0 4v1m0 2v2m1-45v2m0 8v2m0 2v1m0 1v1m0 37v1m1-64v3m0 5v1m0 1v1m0 1v1m0 33v1m0 3v1m1-35v4m0 3v1m0 30v1m0 4v1m1-72v1m0 7v1m0 2v1m0 10v2m0 4v1m0 3v1m0 21v1m0 1v1m0 2v1m0 4v1m0 6v1m1-74v1m1 2v1m0 11v1m0 2v1m0 2v1m0 25v1m0 1v1m1-41v1m0 2v1m0 1v1m0 1v1m0 28v1m0 1v1m0 1v1m0 5v2m1-55v1m0 1v1m0 36v1m0 3v1m0 1v1m0 1v1m0 4v1m0 8v1m1-56v1m0 3v2m0 36v2m1-25v1m0 19v1m0 5v1m1-47v1m0 1v2m0 1v1m0 31v1m1-38v1m0 3v1m0 5v1m0 28v1m0 4v2m0 2v1m1-45v2m0 22v2m0 9v1m0 10v1m1-51v3m0 2v1m0 1v1m0 3v1m0 31v1m0 3v1m1-46v1m0 2v1m0 23v2m0 1v2m0 1v1m0 7v1m0 1v1m0 1v1m1-53v2m0 35v1m0 3v1m0 2v1m0 5v1m1-53v1m0 3v1m0 5v1m0 1v1m0 36v1m0 4v1m0 4v1m1-51v1m0 1v1m0 3v2m0 5v1m0 28v1m1-51v1m0 5v1m0 1v1m0 39v1m0 16v1m1-53v1m0 3v1m0 25v1m1-23v1m0 22v2m1-33v1m0 3v1m0 26v1m0 1v1m1-33v1m0 3v2m0 25v1m0 2v1m1-43v1m0 4v2m0 9v1m0 20v2m0 3v1m1-51v1m0 1v1m0 8v1m0 23v1m0 1v1m0 9v1m0 1v1m1-47v1m0 9v1m0 23v1m0 10v1m0 11v1m1-67v1m0 9v1m0 1v1m0 3v1m0 3v1m0 3v1m0 6v1m0 2v1m0 15v1m0 7v1m0 7v1m1-54v1m0 3v2m0 24v2m0 6v1m0 1v1m0 3v1m1-42v1m0 1v1m0 3v1m0 1v1m0 31v1m0 1v1m0 5v1m0 10v1m1-76v1m0 7v1m0 51v1m1 1v1m0 2v2m0 1v1m0 1v2m0 1v1m1-37v2m0 2v1m0 28v1m0 5v2m1-55v1m0 3v1m0 3v2m0 2v1m0 5v1m0 29v1m1-73v1m0 13v1m0 23v1m0 20v2m1-55v1m0 2v1m0 3v2m0 3v1m0 2v1m0 1v2m0 8v1m0 13v1m0 20v1m0 10v1m1-67v1m0 1v1m0 9v1m0 25v1m0 18v1m0 1v2m0 2v2m1-57v1m0 1v1m0 2v2m0 28v1m1-56v2m0 3v1m0 5v1m0 24v1m0 17v2m0 4v1m0 4v1m0 6v4m1-68v2m0 24v1m0 16v1m0 12v1m1-42v1m0 2v1m0 28v1m0 1v1m0 3v1m0 5v2m1-68v1m0 6v1m0 15v3m0 3v1m0 21v1m0 2v1m0 3v1m0 1v1m0 7v1m0 6v1m0 3v1m1-67v1m0 8v1m0 38v1m0 13v1m1-71v1m0 1v1m0 2v1m0 6v1m0 4v2m0 15v1m1-22v1m0 4v1m0 13v1m0 3v1m0 20v1m0 7v1m1-61v1m0 3v1m0 17v1m0 27v1m0 1v1m1-58v1m0 5v1m0 4v1m0 20v1m0 13v1m0 5v1m0 3v1m1-61v1m0 6v1m0 4v1m0 5v3m0 30v1m0 5v1m1-40v1m0 3v1m0 3v1m0 43v1m0 9v1m1-51v2m0 18v1m0 9v1m1-47v1m0 4v2m0 1v1m0 17v1m1-28v1m0 6v1m0 7v1m0 1v1m0 3v1m0 44v1m1-66v1m0 1v1m0 7v1m0 11v1m0 2v2m0 2v1m0 2v1m0 7v1m0 3v1m0 1v1m0 13v1"/><path stroke="#14141C" d="M248.5 467v7m0 1v3m1-11v7m0 1v9m0 2v3m0 1v1m0 4v1m1-29v1m0 1v11m0 1v6m0 1v7m1-19v3m0 1v3m0 2v2m0 1v7m1-22v5m0 1v1m0 5v1m0 1v5m0 1v1m0 1v7m0 1v5m1-31v4m0 1v7m0 1v2m0 1v4m0 1v4m0 2v1m1-22v11m0 1v6m0 1v1m1-23v1m0 3v1m0 2v1m0 1v5m0 1v7m0 1v4m0 1v8m1-46v1m0 4v7m0 1v4m0 2v4m0 2v1m0 1v1m0 1v3m0 1v9m0 1v2m1-39v1m0 4v2m0 1v1m0 3v1m0 1v9m0 1v2m0 1v4m0 1v8m1-41v1m0 2v1m0 1v16m0 1v1m0 1v1m0 1v10m0 3v2m1-37v1m0 2v1m0 1v3m0 2v1m0 1v3m0 1v3m0 1v1m0 1v3m0 1v2m0 1v1m0 1v1m1-26v1m0 1v29m1-39v7m0 2v3m0 2v7m0 1v13m0 1v2m1-25v12m0 1v6m0 1v6m1-27v1m0 1v6m0 1v5m0 2v7m0 1v3m1-24v6m0 1v3m0 1v7m0 1v5m1-36v1m0 8v1m0 1v22m0 2v1m1-35v7m0 1v18m0 2v1m0 1v5m1-20v8m0 1v2m0 2v1m0 1v5m1-34v2m0 8v1m0 4v2m0 1v9m0 1v2m0 1v3m1-39v1m0 5v3m0 1v2m0 2v1m0 4v2m0 2v16m1-33v19m0 1v10m0 1v1m1-21v3m0 1v10m0 1v6m1-30v1m0 1v20m0 1v1m0 1v4m1-22v10m0 1v12m1-35v1m0 1v16m0 1v9m0 3v1m0 2v2m1-29v9m0 1v19m1-28v2m0 1v2m0 2v21m1-40v1m0 1v10m0 1v4m0 1v3m0 1v13m0 1v1m0 1v2m1-31v4m0 1v1m0 1v5m0 1v2m0 1v4m0 1v3m0 1v1m0 2v3m1-28v1m0 3v2m0 1v6m0 1v8m0 1v5m1-28v12m0 2v13m1-25v3m0 3v2m0 2v3m0 1v12m1-32v1m0 2v4m0 1v6m0 1v11m0 2v3m1-28v1m0 2v13m0 1v12m1-31v2m0 1v1m0 1v15m0 1v2m0 1v1m1-38v1m0 2v1m0 13v7m0 1v1m0 4v1m0 1v3m0 1v2m0 1v5m1-30v1m0 1v3m0 1v6m0 2v3m0 2v2m0 1v7m1-32v8m0 1v5m0 1v5m0 1v3m0 2v1m0 3v2m1-33v3m0 2v11m0 1v1m0 1v15m1-29v1m0 2v2m0 1v1m0 1v15m0 1v5m1-31v1m0 2v7m0 1v10m0 1v9m1-26v1m0 6v6m0 2v8m0 1v1m1-32v6m0 1v3m0 1v7m0 1v13m1-28v1m0 1v9m0 3v4m0 1v1m0 1v8m1-33v1m0 1v3m0 1v2m0 1v23m1-29v2m0 1v2m0 1v4m0 2v11m0 1v3m0 1v2m1-40v1m0 6v3m0 1v15m0 1v3m0 1v1m0 1v5m0 1v1m1-36v1m0 5v1m0 4v15m0 1v2m0 1v1m0 3v2m1-35v12m0 10v13m1-23v6m0 1v11m0 1v4m1-35v2m0 3v1m0 1v1m0 1v6m0 1v7m0 1v7m0 1v3m1-34v1m0 2v4m0 1v4m0 2v1m0 3v2m0 1v1m0 1v2m0 3v6m1-31v1m0 1v3m0 4v1m0 1v5m0 1v3m0 1v10m1-24v3m0 1v6m0 1v13m1-29v10m0 1v13m0 3v2m1-28v18m0 1v1m0 1v2m0 1v4m1-40v1m0 1v1m0 2v4m0 1v16m0 10v4m1-32v4m0 1v5m0 1v1m0 1v8m0 1v1m0 1v8m1-39v1m0 1v1m0 2v20m0 2v6m0 1v2m0 2v1m1-34v1m0 1v2m0 1v29m1-46v2m0 1v1m0 1v1m0 4v2m0 1v9m0 1v3m0 1v2m0 1v12m0 1v1m0 1v1m1-41v1m0 1v7m0 1v1m0 1v2m0 1v26m1-53v1m0 6v1m0 1v1m0 1v1m0 2v1m0 2v10m0 1v9m0 6v2m0 4v4m1-32v2m0 1v2m0 1v26m1-53v1m0 2v1m0 7v1m0 2v1m0 1v5m0 1v2m0 1v1m0 1v4m0 1v9m0 1v4m0 1v1m0 2v3m1-44v2m0 1v9m0 1v5m0 2v2m0 1v4m0 1v1m0 2v1m0 1v2m0 4v1m0 1v3m1-40v1m0 3v6m0 2v4m0 1v18m0 1v1m0 1v2m1-35v1m0 9v16m0 1v3m0 1v3m1-41v1m0 2v7m0 1v1m0 1v3m0 3v1m0 2v3m0 1v2m0 1v9m0 1v2m1-46v1m0 2v1m0 4v1m0 1v10m0 1v2m0 1v10m0 2v9m1-36v1m0 1v28m0 1v7m1-52v1m0 3v1m0 1v1m0 4v1m0 4v11m0 1v4m0 1v1m0 4v3m0 1v2m0 5v1m0 1v1m1-58v2m0 1v16m0 1v20m0 1v1m0 2v2m0 2v1m0 3v2m1-53v1m0 4v4m0 1v2m0 1v2m0 2v6m0 1v5m0 1v1m0 4v3m0 2v1m0 2v1m0 1v7m0 1v4m1-42v1m0 1v21m0 2v4m0 1v2m0 1v1m1-46v2m0 10v10m0 1v2m0 1v21m0 1v3m0 1v2m1-64v1m0 2v1m0 2v3m0 2v13m0 1v3m0 1v2m0 1v2m0 1v3m0 1v1m0 2v2m0 1v1m0 5v1m0 1v5m0 2v1m0 1v2m1-60v1m0 8v3m0 2v12m0 1v7m0 1v13m0 1v3m0 2v1m1-61v1m0 6v1m0 4v1m0 4v2m0 1v10m0 6v1m0 1v12m0 1v2m0 1v1m0 4v1m0 3v3m1-66v1m0 4v2m0 1v1m0 4v1m0 2v1m0 1v1m0 2v2m0 1v6m0 3v6m0 1v10m0 3v2m0 2v2m0 1v1m0 3v2m1-43v1m0 1v2m0 4v16m0 1v4m0 1v5m0 2v1m0 1v4m1-60v2m0 2v1m0 2v1m0 8v1m0 3v2m0 1v9m0 1v4m0 1v3m0 1v13m0 2v3m1-46v9m0 2v5m0 2v1m0 1v1m0 1v2m0 2v7m0 1v10m0 1v1m1-36v2m0 1v2m0 1v13m0 2v5m0 1v1m0 1v3m0 1v3m1-60v1m0 3v2m0 1v7m0 1v2m0 1v6m0 1v12m0 1v7m0 14v1m1-61v1m0 4v1m0 4v1m0 3v1m0 2v1m0 1v1m0 1v1m0 5v1m0 3v5m0 5v1m0 2v3m0 1v13m1-48v1m0 1v2m0 1v2m0 1v1m0 1v3m0 2v2m0 2v4m0 1v2m0 1v1m0 1v1m0 1v4m0 1v1m0 1v2m0 1v1m0 2v4m1-67v1m0 7v3m0 2v1m0 1v17m0 1v5m0 1v2m0 2v3m0 1v2m0 1v1m1-50v1m0 2v4m0 1v5m0 3v3m0 2v2m0 2v2m0 2v9m0 1v1m0 1v1m0 1v3m0 1v1m0 3v2m0 1v1m0 1v1m0 1v1m0 2v1m0 2v2m1-60v1m0 1v7m0 2v4m0 1v2m0 1v4m0 2v2m0 4v2m0 1v5m0 2v3m0 1v1m0 1v9m0 2v2m1-54v1m0 1v2m0 3v1m0 3v5m0 1v1m0 1v3m0 1v9m0 8v1m1-42v1m0 1v2m0 1v4m0 1v2m0 1v2m0 2v4m0 1v2m0 1v2m0 1v4m1-29v3m0 1v4m0 1v2m0 1v7m0 1v6m1-27v6m0 1v17m0 1v3m0 3v2m0 2v1m1-48v2m0 3v12m0 1v9m1-26v1m0 1v5m0 13v8m0 1v4m0 1v12m1-47v3m0 1v1m0 4v1m0 2v5m0 1v4m0 1v1m0 1v8m1-39v1m0 2v8m0 1v6m0 1v5m1-44v2m0 1v5m0 1v1m0 1v2m0 1v5m0 1v2m0 1v3m0 1v2m0 2v12m0 1v3m1-42v20m0 1v2m0 1v4m0 1v7m0 3v1m0 1v1m1-50v1m0 1v9m0 2v12m0 2v1m0 7v1m0 4v1m0 4v2m0 3v1m1-44v1m0 3v1m0 6v2m0 1v17m0 1v1m0 1v5m0 1v3m0 1v3m0 2v1m1-59v3m0 1v8m0 1v1m0 1v15m0 1v3m0 1v1m0 2v1m1-23v3m0 1v2m0 1v3m0 1v1m0 1v2m0 1v6m0 1v21m0 2v1m1-51v1m0 4v1m0 11v12m0 1v2m0 1v3m0 1v1m0 2v3m0 1v1m0 1v3m0 2v1m0 7v1m0 4v1m0 5v1m0 12v1m1-74v11m0 1v7m0 1v10m0 1v2m1-29v1m0 2v5m0 1v4m0 1v7m0 1v3m0 1v4m0 2v1m0 2v5m0 1v6m0 3v1m1-73v1m0 5v2m0 3v3m0 4v1m0 1v1m0 1v2m0 1v3m0 1v2m0 1v4m0 1v8m0 1v2m0 1v5m0 1v1m1-32v12m0 1v3m0 1v6m0 1v3m0 2v3m0 4v1m1-43v1m0 1v1m0 1v4m0 2v3m0 1v5m0 1v2m1-15v4m0 1v9m0 1v4m1-29v4m0 1v11m0 1v8m0 1v2m0 1v2m0 4v1m0 1v1m0 1v1m1-27v8m0 1v5m0 1v11m1-16v12m0 2v4m0 2v3m0 1v2m1-37v1m0 2v3m0 2v2m0 1v2m0 1v1m0 2v10m0 1v6m0 1v1m0 1v1m0 2v2m1-40v1m0 5v1m0 2v4m0 1v12m1-25v1m0 1v8m0 1v3m0 2v9m0 2v4m1-30v17m0 1v10m1-36v2m0 2v1m0 1v2m0 2v1m0 4v1m0 1v1m0 1v1m0 1v9m0 2v1m0 1v6m0 5v1m0 3v2m1-45v6m0 1v18m0 1v2m0 1v1m1-23v2m0 5v4m0 1v9m0 1v8m0 8v1m1-54v1m0 2v2m0 2v3m0 3v2m0 1v4m0 1v9m0 1v6m0 1v1m0 1v2m0 1v1m0 4v1m1-69v1m0 3v1m0 1v1m0 2v1m0 1v2m0 2v21m0 2v6m0 6v2m1-31v1m0 1v4m0 1v3m0 1v15m1-33v1m0 1v1m0 1v8m0 1v2m0 1v10m0 1v5m0 1v1m0 1v1m0 1v1m0 1v1m1-43v1m0 3v2m0 1v19m0 4v1m0 2v1m0 4v1m1-27v2m0 1v1m0 1v5m0 2v7m0 2v7m0 3v1m1-29v2m0 1v1m0 1v6m0 1v10m0 1v2m0 2v1m0 2v1m1-45v1m0 3v13m0 1v7m0 1v4m0 11v1m1-41v5m0 3v1m0 1v15m0 1v7m0 2v2m1-45v6m0 3v16m0 1v4m0 4v7m1-34v1m0 1v1m0 6v4m0 1v9m0 1v1m0 2v2m0 1v2m0 1v4m1-38v2m0 1v23m0 2v1m0 12v1m1-42v6m0 1v2m0 1v3m0 1v7m0 1v4m0 1v2m0 3v1m0 2v1m0 1v1m0 3v1m1-39v9m0 1v4m0 1v5m0 2v5m0 1v1m0 1v1m0 2v1m0 4v1m0 3v1m1-37v3m0 1v11m0 1v12m1-39v1m0 2v1m0 1v1m0 1v11m0 1v8m0 1v9m0 2v1m0 2v1m1-31v1m0 1v22m0 1v4m0 2v1m1-29v7m0 1v10m0 1v1m0 1v1m1-26v1m0 1v5m0 2v8m0 1v4m0 1v1m0 1v1m1-27v1m0 4v13m0 1v9m0 2v1m1-31v5m0 1v6m0 1v5m0 1v7m1-46v1m0 8v2m0 3v1m0 1v9m0 1v1m0 1v1m0 1v6m0 1v1m0 7v1m0 1v1m0 4v1m1-45v1m0 3v2m0 1v1m0 1v3m0 1v14m0 2v1m0 1v2m0 1v3m0 2v2m0 2v1m1-52v1m0 2v1m0 2v1m0 2v1m0 6v3m0 1v5m0 2v2m0 2v10m0 1v3m1-31v24m0 2v3m0 1v2m0 4v2m1-32v2m0 1v10m0 1v11m0 1v5m0 1v1m0 1v1m0 1v2m0 4v1m1-61v1m0 2v1m0 4v34m0 1v1m1-25v1m0 1v1m0 6v1m0 1v6m0 1v4m0 1v9m0 1v1m0 1v1m0 1v1m0 8v1m1-33v1m0 1v3m0 2v9m0 1v4m0 1v2m0 1v5m0 2v1m1-37v5m0 1v13m0 1v2m0 1v9m1-43v1m0 1v9m0 3v15m0 1v3m1-51v1m0 16v1m0 1v6m0 1v2m0 1v4m0 4v1m0 2v4m0 1v3m0 1v1m0 1v2m0 1v6m0 1v1m0 2v2m1-45v2m0 1v6m0 1v5m0 1v1m0 1v4m0 1v3m0 1v11m0 1v1m0 5v1m1-47v1m0 1v1m0 1v18m0 2v4m0 1v3m0 1v2m0 4v2m0 1v1m1-61v2m0 2v6m0 2v15m0 1v3m0 1v5m0 1v1m0 1v1m0 1v1m0 4v1m0 1v1m0 2v1m0 4v1m0 1v1m1-57v16m0 1v2m0 2v1m0 1v9m0 1v1m0 1v2m1-25v1m0 7v11m0 1v1m0 1v9m0 3v1m1-37v2m0 3v3m0 1v14m0 1v6m0 1v2m0 1v1m0 3v1m0 2v2m1-39v1m0 3v2m0 1v11m0 1v8m0 1v5m0 2v1m0 1v1m0 2v1m0 2v1m1-61v1m0 7v1m0 2v3m0 2v1m0 1v13m0 1v6m0 2v8m0 4v4m0 1v3m0 1v3m1-45v6m0 7v1m0 2v5m0 1v10m1-46v1m0 1v1m0 1v1m0 1v4m0 2v6m0 5v1m0 1v9m0 1v9m0 4v1m0 1v1m1-61v1m0 10v2m0 2v10m0 1v8m0 2v2m0 1v3m0 1v2m0 1v1m0 2v2m0 1v2m0 1v3m0 2v1m0 3v1m1-46v1m0 2v4m0 2v12m0 1v7m0 2v1m0 7v1m1-40v1m0 1v1m0 1v1m0 1v15m0 1v8m0 1v8m1-28v18m0 1v6m1-36v1m0 2v2m0 1v5m0 1v3m0 1v2m0 2v5m0 1v3m0 1v3m0 1v2m1-32v3m0 1v1m0 2v1m0 2v2m0 1v15m0 1v2m0 1v1m0 14v1m1-46v1m0 1v4m0 2v1m0 1v2m0 10v1m0 1v1m0 3v3"/><path stroke="#2B3458" d="M248.5 463v1m0 1v2m1 7v1m0 9v1m0 4v1m1-24v1m0 20v1m0 7v1m1-12v1m0 2v1m1-10v1m0 13v1m0 1v1m0 7v1m1-22v1m0 7v1m0 2v1m0 4v1m0 4v1m1-23v1m0 13v1m0 6v1m1 5v1m1-21v2m0 5v1m0 1v1m0 1v1m0 3v1m0 12v1m1-33v1m0 5v1m0 12v1m0 4v1m1-29v1m0 16v1m0 1v1m0 1v1m1-21v1m0 6v2m0 1v1m0 3v1m0 3v1m0 1v1m0 3v1m0 2v1m1-24v1m1-1v1m0 13v1m0 13v1m0 2v1m1-14v1m0 6v1m1-13v1m0 5v2m0 7v1m1-15v1m0 11v1m1 2v2m1-8v1m1-4v1m0 2v2m0 1v1m1-32v1m0 19v1m0 9v1m0 2v1m1-15v2m1 2v1m0 10v1m0 1v1m1-8v1m0 6v1m1-9v1m0 1v1m1-19v1m1 6v1m1-3v1m1-4v2m1-7v1m0 4v1m0 3v1m1-9v1m0 1v1m0 8v1m0 4v1m1-12v1m0 6v1m0 8v1m1-11v2m0 13v1m1-21v1m0 2v2m0 3v1m1 6v2m0 3v1m2-33v1m0 21v1m0 9v1m1-9v1m0 2v1m1-20v1m0 6v2m0 3v2m0 2v1m0 7v1m1-25v1m0 5v1m0 5v1m0 3v1m1-10v1m1-20v1m0 12v1m0 17v1m1-5v1m1-11v1m0 6v2m0 8v1m1-25v1m0 11v1m0 13v1m1-17v1m0 5v1m1-18v1m0 2v1m0 23v1m1-19v1m0 11v1m0 3v1m1-12v1m0 5v1m0 5v1m1-9v1m0 2v1m0 3v1m1-21v1m0 5v1m1-1v1m0 11v1m1-23v1m0 6v1m0 7v1m0 7v1m1-24v1m0 4v1m0 7v1m0 5v2m1-19v1m0 9v1m0 3v1m1-11v1m0 6v1m1-6v1m1 8v1m0 1v1m1-24v1m0 25v1m1-24v1m0 5v1m0 10v1m0 1v1m1-27v1m0 20v2m0 10v1m1-29v1m1 5v1m0 19v1m0 1v1m2-25v1m1-2v1m1-3v1m0 1v1m0 4v1m1-11v1m0 5v2m0 2v1m0 4v1m0 1v1m1-16v2m0 4v1m1-27v1m0 15v1m0 32v1m1-32v1m0 7v1m0 9v1m0 9v1m0 2v1m1-48v1m0 34v2m0 9v2m1-37v1m0 28v1m1-48v1m0 7v1m0 21v1m0 4v1m0 3v2m0 12v1m1-38v1m0 20v1m1-17v1m0 14v2m1-2v2m0 4v1m1 9v1m1-53v1m0 21v1m0 29v1m1-46v1m0 42v1m1-43v1m0 42v1m1-33v3m0 6v1m0 15v1m1-9v1m0 11v1m1-32v1m0 18v1m1-30v1m0 11v1m0 6v1m0 1v1m1-14v1m0 5v1m0 2v1m0 13v2m0 5v1m0 1v1m0 3v1m1-59v1m0 15v1m0 2v1m0 6v1m1-30v1m0 40v1m1-27v1m0 5v1m0 2v1m0 9v1m0 5v1m0 2v1m0 1v1m0 6v1m1-48v1m0 6v1m0 17v1m0 5v1m0 2v1m0 4v1m0 2v1m1-50v1m0 7v1m0 30v1m0 1v1m0 7v2m1-17v2m0 15v1m0 1v1m0 9v2m1-34v1m0 3v1m0 9v2m1-34v1m0 2v1m0 4v1m0 5v2m0 4v1m0 2v1m0 2v1m1-22v1m0 4v1m0 2v1m0 7v1m1-27v1m0 4v1m0 24v1m0 3v1m1-37v1m0 12v1m1 11v1m0 4v1m1-32v1m0 6v2m0 5v1m0 4v1m0 1v1m1-30v1m0 9v1m1-24v1m0 1v1m0 2v1m1 14v1m0 4v1m1-26v1m1 26v1m0 1v1m0 5v1m1-37v1m0 17v1m1 7v1m1-28v1m0 32v1m0 12v1m0 3v2m1-42v1m0 11v1m0 18v1m1-19v1m0 4v1m0 20v1m0 5v1m1-69v1m0 50v1m0 2v1m1-9v1m0 6v1m0 3v1m0 9v1m1-41v1m0 4v2m0 3v1m1-3v1m0 9v1m1-9v1m0 8v1m0 6v1m1-12v1m1 13v2m1-12v1m0 2v1m1-14v1m0 11v1m0 12v1m1-12v2m1 2v1m1-6v1m0 9v2m0 1v1m0 6v1m0 1v1m1-31v1m0 18v1m0 2v1m0 1v1m1-19v1m0 5v1m0 9v1m1-27v1m0 9v1m0 9v1m0 14v1m1-30v2m1-18v1m0 6v1m1-2v1m0 13v1m0 11v1m1-16v1m0 1v1m0 7v1m1-21v1m0 5v1m0 8v2m0 9v1m0 1v1m0 1v1m1-21v1m1-9v1m0 7v1m1 0v1m0 7v1m1-17v1m0 4v1m0 2v1m1-19v1m0 4v1m0 11v2m0 2v1m0 2v1m2-28v1m0 2v1m0 3v1m0 7v1m0 4v1m0 4v1m1-9v1m0 6v1m0 1v1m0 1v1m1-11v1m1-9v1m0 8v1m0 10v1m1 2v2m0 2v1m1-24v1m0 10v1m1-16v2m0 8v1m1-16v2m0 13v1m1-7v1m0 5v1m1-14v1m0 1v1m0 1v1m1-14v1m0 3v1m1 9v1m0 10v1m2-20v1m0 10v1m0 11v1m2-8v1m0 4v1m0 9v1m1-14v2m0 9v1m0 4v1m0 2v1m1-10v1m1-20v1m0 17v1m1-30v1m0 9v1m0 4v1m0 1v1m0 8v1m0 3v1m1-19v1m0 5v1m0 1v1m1-18v1m0 1v1m0 18v2m0 8v1m1-53v1m0 11v1m0 20v1m1-13v1m0 2v1m0 12v1m0 1v1m1-17v1m0 14v1m0 17v1m2-20v1m0 15v1m1-13v1m1-22v1m0 7v1m0 13v1m1-40v1m0 37v1m1-3v1m0 4v1m0 14v1m1-37v2m0 20v1m1-32v1m0 22v1m0 8v1m2-29v1m0 8v1m0 3v1m0 9v1m1-14v1m0 3v1m0 15v1m1-21v2m0 18v1"/><rect x="248.4" y="481.1" width="171.0" height="3.4" fill="#64B5CD"/></g><text class="t" x="234.0" y="497.4">10</text><text class="t" x="234.0" y="477.6">20</text><text class="t" x="234.0" y="457.8">30</text><text class="t" x="234.0" y="438.0">40</text><text class="t" x="234.0" y="418.2">50</text><text class="t" x="272.8" y="527.9">10,000</text><text class="t" x="297.3" y="527.9">20,000</text><text class="t" x="321.7" y="527.9">30,000</text><text class="t" x="346.1" y="527.9">40,000</text><text class="t" x="370.5" y="527.9">50,000</text><text class="t" x="395.0" y="527.9">60,000</text><text class="t" x="419.4" y="527.9">70,000</text><text class="t" x="333.9" y="533.3" style="font-size:4.6px">Item number (5min average)</text><rect x="229" y="469.2" width="1" height="1" fill="#888"/><rect x="242.0" y="414.4" width="36.5" height="17.9" rx="0.6" fill="#EEEEF4" stroke="#F8F8FB" stroke-width="0.6"/><circle cx="248.8" cy="418.0" r="0.55" fill="#4C72B0"/><circle cx="248.8" cy="423.6" r="0.55" fill="#111"/><rect x="243.2" y="429.1" width="11.8" height="0.9" fill="#64B5CD"/><text x="257.0" y="419.5" style="font-size:4.05px;fill:#333">Train</text><text x="257.0" y="425.1" style="font-size:4.05px;fill:#333">Test</text><text x="257.0" y="431.0" style="font-size:4.05px;fill:#333">Predictions</text><text x="419.2" y="541.8" style="font-size:9px;text-anchor:middle;fill:#333;stroke:#333;stroke-width:0.3">(h)</text></svg></body></html>
